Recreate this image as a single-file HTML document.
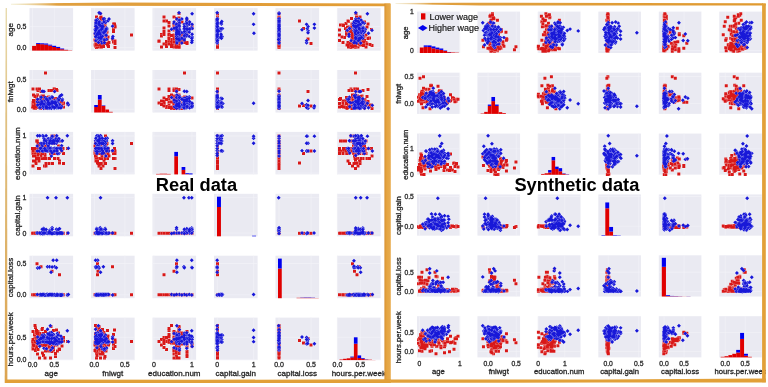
<!DOCTYPE html>
<html><head><meta charset="utf-8"><style>
html,body{margin:0;padding:0;background:#fff;overflow:hidden;}
svg{display:block;filter:blur(0.3px);}
text{font-family:"Liberation Sans",sans-serif;}
.tk{font-size:7.0px;fill:#262626;stroke:#262626;stroke-width:0.28px;}
.lb{font-size:8.0px;fill:#262626;stroke:#262626;stroke-width:0.3px;}
.s{font-size:6.79px;}
.lb.s{font-size:7.68px;}
.big{font-size:18.3px;font-weight:bold;fill:#000;}
.lg{font-size:9px;fill:#111;stroke:#111;stroke-width:0.15px;}
</style></head><body>
<svg width="768" height="387" viewBox="0 0 768 387"><rect width="768" height="387" fill="#fff"/><rect x="29.50" y="8.10" width="43.6" height="42.5" fill="#eaeaf2"/><path d="M32.51 8.10V50.60M54.33 8.10V50.60M29.50 47.66H73.10M29.50 26.39H73.10" stroke="#f4f4f8" stroke-width="0.6" fill="none"/><svg x="29.50" y="8.10" width="43.6" height="42.5" overflow="hidden"><g transform="translate(-29.50,-8.10)"><rect x="32.10" y="45.90" width="4.05" height="4.70" fill="#e00000"/><rect x="36.10" y="44.00" width="4.05" height="6.60" fill="#e00000"/><rect x="36.10" y="43.10" width="4.05" height="0.92" fill="#0000ee"/><rect x="40.10" y="44.20" width="4.05" height="6.40" fill="#e00000"/><rect x="40.10" y="43.30" width="4.05" height="0.92" fill="#0000ee"/><rect x="44.10" y="44.60" width="4.05" height="6.00" fill="#e00000"/><rect x="44.10" y="43.50" width="4.05" height="1.12" fill="#0000ee"/><rect x="48.10" y="45.60" width="4.05" height="5.00" fill="#e00000"/><rect x="48.10" y="44.70" width="4.05" height="0.92" fill="#0000ee"/><rect x="52.10" y="47.00" width="4.05" height="3.60" fill="#e00000"/><rect x="52.10" y="45.80" width="4.05" height="1.22" fill="#0000ee"/><rect x="56.10" y="48.00" width="4.05" height="2.60" fill="#e00000"/><rect x="56.10" y="46.90" width="4.05" height="1.12" fill="#0000ee"/><rect x="60.10" y="49.20" width="4.05" height="1.40" fill="#e00000"/><rect x="60.10" y="48.50" width="4.05" height="0.72" fill="#0000ee"/><rect x="64.10" y="49.90" width="4.05" height="0.70" fill="#e00000"/><rect x="64.10" y="49.80" width="4.05" height="0.12" fill="#0000ee"/><rect x="68.10" y="50.30" width="4.05" height="0.30" fill="#e00000"/></g></svg><rect x="91.00" y="8.10" width="43.6" height="42.5" fill="#eaeaf2"/><path d="M94.35 8.10V50.60M124.84 8.10V50.60M91.00 47.66H134.60M91.00 26.39H134.60" stroke="#f4f4f8" stroke-width="0.6" fill="none"/><svg x="91.00" y="8.10" width="43.6" height="42.5" overflow="hidden"><path transform="scale(.5)" stroke="#fff" stroke-opacity="0.6" stroke-width="6.9" stroke-linecap="square" d="M81 54h0M43 62h0M28 71h0M16 61h0M10 57h0M14 59h0M20 67h0M14 22h0M23 27h0M10 67h0M10 29h0M15 56h0M10 26h0M17 76h0M17 42h0M11 35h0M28 64h0M19 58h0M18 45h0M18 78h0M45 68h0M10 69h0M23 54h0M45 42h0M15 53h0M32 48h0M8 64h0M26 67h0M26 44h0M22 44h0M33 72h0M12 58h0M23 61h0M12 28h0M17 46h0M19 72h0M9 65h0M26 51h0M33 61h0M15 55h0M18 52h0M8 74h0M15 66h0"/><path transform="scale(.5)" stroke="#d81818" stroke-width="6.0" stroke-linecap="square" d="M81 54h0M43 62h0M28 71h0M16 61h0M10 57h0M14 59h0M20 67h0M14 22h0M23 27h0M10 67h0M10 29h0M15 56h0M10 26h0M17 76h0M17 42h0M11 35h0M28 64h0M19 58h0M18 45h0M18 78h0M45 68h0M10 69h0M23 54h0M45 42h0M15 53h0M32 48h0M8 64h0M26 67h0M26 44h0M22 44h0M33 72h0M12 58h0M23 61h0M12 28h0M17 46h0M19 72h0M9 65h0M26 51h0M33 61h0M15 55h0M18 52h0M8 74h0M15 66h0"/><path transform="scale(.5)" stroke="#fff" stroke-opacity="0.6" stroke-width="6.9" stroke-linecap="square" d="M13 71h0M34 71h0M30 44h0M28 56h0M12 59h0M15 32h0M36 69h0M20 25h0M24 50h0M14 78h0M29 40h0M45 32h0M16 43h0M12 60h0M23 62h0M28 53h0M18 30h0M29 41h0M20 62h0M28 34h0M20 43h0M11 44h0M33 74h0M48 66h0M10 54h0M27 54h0M19 65h0M25 71h0M25 44h0M32 63h0M13 38h0M9 75h0M20 47h0M22 48h0M12 65h0M15 78h0M48 71h0M25 31h0M29 71h0M11 79h0M18 65h0M16 53h0"/><path transform="scale(.5)" stroke="#d81818" stroke-width="6.0" stroke-linecap="square" d="M13 71h0M34 71h0M30 44h0M28 56h0M12 59h0M15 32h0M36 69h0M20 25h0M24 50h0M14 78h0M29 40h0M45 32h0M16 43h0M12 60h0M23 62h0M28 53h0M18 30h0M29 41h0M20 62h0M28 34h0M20 43h0M11 44h0M33 74h0M48 66h0M10 54h0M27 54h0M19 65h0M25 71h0M25 44h0M32 63h0M13 38h0M9 75h0M20 47h0M22 48h0M12 65h0M15 78h0M48 71h0M25 31h0M29 71h0M11 79h0M18 65h0M16 53h0"/><path transform="scale(.5)" stroke="#fff" stroke-opacity="0.6" stroke-width="6.9" stroke-linecap="square" d="M14 41h0M17 77h0M12 61h0M19 20h0M14 68h0M19 68h0M14 54h0M12 43h0M12 48h0M48 36h0M13 50h0M27 59h0M25 58h0M22 57h0M14 67h0M22 53h0M28 57h0M9 76h0M34 58h0M23 68h0M24 56h0M11 70h0M8 52h0M26 38h0M17 35h0M21 54h0M13 77h0M19 28h0M15 71h0M17 47h0M16 38h0M17 38h0M23 52h0M14 33h0M19 74h0M23 66h0M18 37h0M48 37h0M11 18h0M23 51h0M20 18h0M17 43h0"/><path transform="scale(.5)" stroke="#d81818" stroke-width="6.0" stroke-linecap="square" d="M14 41h0M17 77h0M12 61h0M19 20h0M14 68h0M19 68h0M14 54h0M12 43h0M12 48h0M48 36h0M13 50h0M27 59h0M25 58h0M22 57h0M14 67h0M22 53h0M28 57h0M9 76h0M34 58h0M23 68h0M24 56h0M11 70h0M8 52h0M26 38h0M17 35h0M21 54h0M13 77h0M19 28h0M15 71h0M17 47h0M16 38h0M17 38h0M23 52h0M14 33h0M19 74h0M23 66h0M18 37h0M48 37h0M11 18h0M23 51h0M20 18h0M17 43h0"/><path transform="scale(.5)" stroke="#fff" stroke-opacity="0.6" stroke-width="6.9" stroke-linecap="square" d="M13 26h0M22 77h0M19 42h0M17 55h0M25 77h0M16 73h0M20 69h0M11 53h0M11 63h0M30 56h0M30 52h0M24 69h0M12 55h0M45 47h0M20 75h0M48 79h0M21 78h0M9 55h0M20 72h0M20 32h0M22 35h0M18 11h0M16 36h0M48 38h0M21 59h0M19 34h0M14 70h0M10 74h0M13 61h0M23 73h0M10 46h0M29 63h0M10 55h0M14 61h0M47 32h0M21 28h0M11 49h0M10 41h0M35 77h0M10 72h0M21 21h0M20 66h0"/><path transform="scale(.5)" stroke="#d81818" stroke-width="6.0" stroke-linecap="square" d="M13 26h0M22 77h0M19 42h0M17 55h0M25 77h0M16 73h0M20 69h0M11 53h0M11 63h0M30 56h0M30 52h0M24 69h0M12 55h0M45 47h0M20 75h0M48 79h0M21 78h0M9 55h0M20 72h0M20 32h0M22 35h0M18 11h0M16 36h0M48 38h0M21 59h0M19 34h0M14 70h0M10 74h0M13 61h0M23 73h0M10 46h0M29 63h0M10 55h0M14 61h0M47 32h0M21 28h0M11 49h0M10 41h0M35 77h0M10 72h0M21 21h0M20 66h0"/><path transform="scale(.5) rotate(45)" stroke="#fff" stroke-opacity="0.6" stroke-width="6.5" stroke-linecap="square" d="M49 22h0M49 31h0M42 16h0M41 0h0M39 -1h0M53 39h0M37 18h0M25 7h0M37 5h0M39 7h0M49 30h0M36 20h0M43 22h0M55 27h0M53 38h0M36 24h0M42 29h0M44 19h0M54 31h0M42 15h0M32 13h0M65 34h0M41 28h0M44 22h0M50 6h0M39 20h0M60 32h0M27 13h0M48 31h0M32 12h0"/><path transform="scale(.5) rotate(45)" stroke="#1818d8" stroke-width="5.6" stroke-linecap="square" d="M49 22h0M49 31h0M42 16h0M41 0h0M39 -1h0M53 39h0M37 18h0M25 7h0M37 5h0M39 7h0M49 30h0M36 20h0M43 22h0M55 27h0M53 38h0M36 24h0M42 29h0M44 19h0M54 31h0M42 15h0M32 13h0M65 34h0M41 28h0M44 22h0M50 6h0M39 20h0M60 32h0M27 13h0M48 31h0M32 12h0"/><path transform="scale(.5) rotate(45)" stroke="#fff" stroke-opacity="0.6" stroke-width="6.5" stroke-linecap="square" d="M37 10h0M51 34h0M54 26h0M46 19h0M46 14h0M42 22h0M30 16h0M54 15h0M36 8h0M42 21h0M42 -6h0M37 6h0M45 19h0M47 22h0M40 12h0M52 28h0M66 22h0M43 28h0M39 10h0M51 9h0M45 20h0M73 12h0M57 32h0M52 12h0M39 26h0M44 31h0M71 9h0M57 33h0M59 27h0M52 7h0"/><path transform="scale(.5) rotate(45)" stroke="#1818d8" stroke-width="5.6" stroke-linecap="square" d="M37 10h0M51 34h0M54 26h0M46 19h0M46 14h0M42 22h0M30 16h0M54 15h0M36 8h0M42 21h0M42 -6h0M37 6h0M45 19h0M47 22h0M40 12h0M52 28h0M66 22h0M43 28h0M39 10h0M51 9h0M45 20h0M73 12h0M57 32h0M52 12h0M39 26h0M44 31h0M71 9h0M57 33h0M59 27h0M52 7h0"/><path transform="scale(.5) rotate(45)" stroke="#fff" stroke-opacity="0.6" stroke-width="6.5" stroke-linecap="square" d="M21 -6h0M50 30h0M37 21h0M31 14h0M49 33h0M32 19h0M44 17h0M37 20h0M45 13h0M24 10h0M36 19h0M43 30h0M38 25h0M56 -5h0M50 12h0M18 -5h0M44 26h0M34 -4h0M50 19h0M56 23h0M44 14h0M31 7h0M42 30h0M56 18h0M41 -10h0M38 6h0M33 19h0M53 14h0M41 13h0"/><path transform="scale(.5) rotate(45)" stroke="#1818d8" stroke-width="5.6" stroke-linecap="square" d="M21 -6h0M50 30h0M37 21h0M31 14h0M49 33h0M32 19h0M44 17h0M37 20h0M45 13h0M24 10h0M36 19h0M43 30h0M38 25h0M56 -5h0M50 12h0M18 -5h0M44 26h0M34 -4h0M50 19h0M56 23h0M44 14h0M31 7h0M42 30h0M56 18h0M41 -10h0M38 6h0M33 19h0M53 14h0M41 13h0"/><path transform="scale(.5) rotate(45)" stroke="#fff" stroke-opacity="0.6" stroke-width="6.5" stroke-linecap="square" d="M44 13h0M44 21h0M46 29h0M57 29h0M59 38h0M34 11h0M53 17h0M38 1h0M40 11h0M68 30h0M50 24h0M36 12h0M28 14h0M53 31h0M53 12h0M56 24h0M25 10h0M45 15h0M43 9h0M64 26h0M45 26h0M60 17h0M46 23h0M47 26h0M51 8h0M47 34h0M55 28h0M33 -2h0M31 8h0"/><path transform="scale(.5) rotate(45)" stroke="#1818d8" stroke-width="5.6" stroke-linecap="square" d="M44 13h0M44 21h0M46 29h0M57 29h0M59 38h0M34 11h0M53 17h0M38 1h0M40 11h0M68 30h0M50 24h0M36 12h0M28 14h0M53 31h0M53 12h0M56 24h0M25 10h0M45 15h0M43 9h0M64 26h0M45 26h0M60 17h0M46 23h0M47 26h0M51 8h0M47 34h0M55 28h0M33 -2h0M31 8h0"/></svg><rect x="152.50" y="8.10" width="43.6" height="42.5" fill="#eaeaf2"/><path d="M153.83 8.10V50.60M191.91 8.10V50.60M152.50 47.66H196.10M152.50 26.39H196.10" stroke="#f4f4f8" stroke-width="0.6" fill="none"/><svg x="152.50" y="8.10" width="43.6" height="42.5" overflow="hidden"><path transform="scale(.5)" stroke="#fff" stroke-opacity="0.6" stroke-width="6.9" stroke-linecap="square" d="M64 54h0M48 62h0M43 44h0M53 56h0M48 59h0M53 73h0M43 69h0M48 53h0M38 63h0M53 63h0M48 50h0M69 69h0M69 55h0M48 47h0M53 75h0M48 79h0M79 41h0M23 72h0M33 68h0M69 70h0M59 52h0M48 38h0M43 54h0M64 65h0M28 67h0M43 71h0M43 63h0M53 38h0M53 61h0M48 48h0M53 65h0M53 66h0M48 51h0M43 18h0M28 72h0M43 74h0"/><path transform="scale(.5)" stroke="#d81818" stroke-width="6.0" stroke-linecap="square" d="M64 54h0M48 62h0M43 44h0M53 56h0M48 59h0M53 73h0M43 69h0M48 53h0M38 63h0M53 63h0M48 50h0M69 69h0M69 55h0M48 47h0M53 75h0M48 79h0M79 41h0M23 72h0M33 68h0M69 70h0M59 52h0M48 38h0M43 54h0M64 65h0M28 67h0M43 71h0M43 63h0M53 38h0M53 61h0M48 48h0M53 65h0M53 66h0M48 51h0M43 18h0M28 72h0M43 74h0"/><path transform="scale(.5)" stroke="#fff" stroke-opacity="0.6" stroke-width="6.9" stroke-linecap="square" d="M48 71h0M53 71h0M64 61h0M53 20h0M48 68h0M13 67h0M48 22h0M53 27h0M33 67h0M59 56h0M53 52h0M64 69h0M48 76h0M48 42h0M53 35h0M59 64h0M53 76h0M18 78h0M48 43h0M53 11h0M53 36h0M48 35h0M33 54h0M53 26h0M59 28h0M69 71h0M23 47h0M33 46h0M53 47h0M53 33h0M53 32h0M69 28h0M53 31h0M53 77h0M48 66h0M18 53h0"/><path transform="scale(.5)" stroke="#d81818" stroke-width="6.0" stroke-linecap="square" d="M48 71h0M53 71h0M64 61h0M53 20h0M48 68h0M13 67h0M48 22h0M53 27h0M33 67h0M59 56h0M53 52h0M64 69h0M48 76h0M48 42h0M53 35h0M59 64h0M53 76h0M18 78h0M48 43h0M53 11h0M53 36h0M48 35h0M33 54h0M53 26h0M59 28h0M69 71h0M23 47h0M33 46h0M53 47h0M53 33h0M53 32h0M69 28h0M53 31h0M53 77h0M48 66h0M18 53h0"/><path transform="scale(.5)" stroke="#fff" stroke-opacity="0.6" stroke-width="6.9" stroke-linecap="square" d="M43 41h0M48 77h0M43 42h0M59 55h0M69 32h0M38 69h0M69 25h0M69 50h0M43 78h0M33 29h0M48 32h0M28 26h0M33 60h0M53 62h0M33 53h0M53 30h0M64 55h0M69 34h0M18 56h0M48 54h0M13 66h0M43 59h0M43 34h0M28 77h0M28 74h0M43 61h0M48 73h0M48 58h0M48 52h0M48 61h0M48 72h0M79 37h0M43 37h0M53 79h0M23 18h0M69 43h0"/><path transform="scale(.5)" stroke="#d81818" stroke-width="6.0" stroke-linecap="square" d="M43 41h0M48 77h0M43 42h0M59 55h0M69 32h0M38 69h0M69 25h0M69 50h0M43 78h0M33 29h0M48 32h0M28 26h0M33 60h0M53 62h0M33 53h0M53 30h0M64 55h0M69 34h0M18 56h0M48 54h0M13 66h0M43 59h0M43 34h0M28 77h0M28 74h0M43 61h0M48 73h0M48 58h0M48 52h0M48 61h0M48 72h0M79 37h0M43 37h0M53 79h0M23 18h0M69 43h0"/><path transform="scale(.5)" stroke="#fff" stroke-opacity="0.6" stroke-width="6.9" stroke-linecap="square" d="M23 26h0M38 77h0M33 61h0M53 57h0M43 68h0M69 54h0M53 43h0M69 48h0M33 36h0M23 40h0M53 59h0M53 58h0M48 57h0M53 67h0M23 53h0M48 78h0M69 45h0M43 32h0M53 44h0M48 74h0M64 38h0M64 48h0M48 64h0M48 70h0M48 65h0M48 44h0M33 72h0M38 75h0M38 55h0M48 46h0M53 78h0M48 49h0M69 41h0M69 51h0M48 21h0M59 66h0"/><path transform="scale(.5)" stroke="#d81818" stroke-width="6.0" stroke-linecap="square" d="M23 26h0M38 77h0M33 61h0M53 57h0M43 68h0M69 54h0M53 43h0M69 48h0M33 36h0M23 40h0M53 59h0M53 58h0M48 57h0M53 67h0M23 53h0M48 78h0M69 45h0M43 32h0M53 44h0M48 74h0M64 38h0M64 48h0M48 64h0M48 70h0M48 65h0M48 44h0M33 72h0M38 75h0M38 55h0M48 46h0M53 78h0M48 49h0M69 41h0M69 51h0M48 21h0M59 66h0"/><path transform="scale(.5) rotate(45)" stroke="#fff" stroke-opacity="0.6" stroke-width="6.5" stroke-linecap="square" d="M80 -9h0M85 -5h0M63 -5h0M73 -31h0M67 -30h0M81 12h0M68 -22h0M80 -10h0M50 -11h0M60 -9h0M88 -9h0M52 -9h0M70 -6h0M83 8h0M44 -31h0M55 -20h0M63 -34h0M75 -15h0M60 -15h0M88 -2h0M81 -9h0M77 -20h0M86 -11h0M76 7h0M64 -33h0M68 -29h0"/><path transform="scale(.5) rotate(45)" stroke="#1818d8" stroke-width="5.6" stroke-linecap="square" d="M80 -9h0M85 -5h0M63 -5h0M73 -31h0M67 -30h0M81 12h0M68 -22h0M80 -10h0M50 -11h0M60 -9h0M88 -9h0M52 -9h0M70 -6h0M83 8h0M44 -31h0M55 -20h0M63 -34h0M75 -15h0M60 -15h0M88 -2h0M81 -9h0M77 -20h0M86 -11h0M76 7h0M64 -33h0M68 -29h0"/><path transform="scale(.5) rotate(45)" stroke="#fff" stroke-opacity="0.6" stroke-width="6.5" stroke-linecap="square" d="M75 -29h0M98 -14h0M92 -12h0M81 -16h0M82 -22h0M66 -2h0M83 -28h0M57 -26h0M74 -23h0M66 -3h0M56 -20h0M71 2h0M97 -14h0M60 -8h0M73 -3h0M83 -21h0M68 -8h0M57 3h0M63 -6h0M56 -19h0M82 -15h0M50 -19h0M71 -27h0M72 -33h0M77 1h0M56 -12h0"/><path transform="scale(.5) rotate(45)" stroke="#1818d8" stroke-width="5.6" stroke-linecap="square" d="M75 -29h0M98 -14h0M92 -12h0M81 -16h0M82 -22h0M66 -2h0M83 -28h0M57 -26h0M74 -23h0M66 -3h0M56 -20h0M71 2h0M97 -14h0M60 -8h0M73 -3h0M83 -21h0M68 -8h0M57 3h0M63 -6h0M56 -19h0M82 -15h0M50 -19h0M71 -27h0M72 -33h0M77 1h0M56 -12h0"/><path transform="scale(.5) rotate(45)" stroke="#fff" stroke-opacity="0.6" stroke-width="6.5" stroke-linecap="square" d="M64 -48h0M74 6h0M78 -20h0M79 -33h0M97 -15h0M85 -27h0M57 -11h0M76 -7h0M59 -17h0M55 -21h0M76 -21h0M59 -10h0M69 0h0M69 -7h0M82 6h0M64 -12h0M84 1h0M84 -6h0M73 -2h0M73 4h0M80 -17h0M64 -5h0M75 6h0M90 0h0M81 5h0M86 -18h0"/><path transform="scale(.5) rotate(45)" stroke="#1818d8" stroke-width="5.6" stroke-linecap="square" d="M64 -48h0M74 6h0M78 -20h0M79 -33h0M97 -15h0M85 -27h0M57 -11h0M76 -7h0M59 -17h0M55 -21h0M76 -21h0M59 -10h0M69 0h0M69 -7h0M82 6h0M64 -12h0M84 1h0M84 -6h0M73 -2h0M73 4h0M80 -17h0M64 -5h0M75 6h0M90 0h0M81 5h0M86 -18h0"/><path transform="scale(.5) rotate(45)" stroke="#fff" stroke-opacity="0.6" stroke-width="6.5" stroke-linecap="square" d="M74 -16h0M78 -12h0M93 -19h0M77 9h0M104 -7h0M71 -19h0M65 -4h0M59 -2h0M70 -27h0M91 8h0M71 3h0M67 -2h0M98 -13h0M79 -19h0M69 1h0M70 1h0M62 -13h0M83 7h0M84 15h0M82 7h0M75 -1h0M78 -19h0M102 -10h0M71 -4h0M61 -7h0M82 -23h0"/><path transform="scale(.5) rotate(45)" stroke="#1818d8" stroke-width="5.6" stroke-linecap="square" d="M74 -16h0M78 -12h0M93 -19h0M77 9h0M104 -7h0M71 -19h0M65 -4h0M59 -2h0M70 -27h0M91 8h0M71 3h0M67 -2h0M98 -13h0M79 -19h0M69 1h0M70 1h0M62 -13h0M83 7h0M84 15h0M82 7h0M75 -1h0M78 -19h0M102 -10h0M71 -4h0M61 -7h0M82 -23h0"/></svg><rect x="214.00" y="8.10" width="43.6" height="42.5" fill="#eaeaf2"/><path d="M217.27 8.10V50.60M253.60 8.10V50.60M214.00 47.66H257.60M214.00 26.39H257.60" stroke="#f4f4f8" stroke-width="0.6" fill="none"/><svg x="214.00" y="8.10" width="43.6" height="42.5" overflow="hidden"><path transform="scale(.5)" stroke="#fff" stroke-opacity="0.6" stroke-width="6.9" stroke-linecap="square" d="M7 54h0M7 62h0M7 42h0M7 57h0M7 73h0M7 25h0M7 50h0M7 36h0M7 58h0M7 75h0M7 30h0M7 70h0M7 38h0M7 33h0M7 31h0"/><path transform="scale(.5)" stroke="#d81818" stroke-width="6.0" stroke-linecap="square" d="M7 54h0M7 62h0M7 42h0M7 57h0M7 73h0M7 25h0M7 50h0M7 36h0M7 58h0M7 75h0M7 30h0M7 70h0M7 38h0M7 33h0M7 31h0"/><path transform="scale(.5)" stroke="#fff" stroke-opacity="0.6" stroke-width="6.9" stroke-linecap="square" d="M7 71h0M7 77h0M7 56h0M7 59h0M7 67h0M7 43h0M7 48h0M7 29h0M7 76h0M7 35h0M7 45h0M7 11h0M7 65h0M7 37h0M7 18h0"/><path transform="scale(.5)" stroke="#d81818" stroke-width="6.0" stroke-linecap="square" d="M7 71h0M7 77h0M7 56h0M7 59h0M7 67h0M7 43h0M7 48h0M7 29h0M7 76h0M7 35h0M7 45h0M7 11h0M7 65h0M7 37h0M7 18h0"/><path transform="scale(.5)" stroke="#fff" stroke-opacity="0.6" stroke-width="6.9" stroke-linecap="square" d="M7 41h0M7 44h0M7 20h0M7 68h0M7 69h0M7 53h0M7 63h0M7 40h0M7 60h0M7 79h0M7 72h0M7 74h0M7 28h0M7 49h0M7 21h0"/><path transform="scale(.5)" stroke="#d81818" stroke-width="6.0" stroke-linecap="square" d="M7 41h0M7 44h0M7 20h0M7 68h0M7 69h0M7 53h0M7 63h0M7 40h0M7 60h0M7 79h0M7 72h0M7 74h0M7 28h0M7 49h0M7 21h0"/><path transform="scale(.5)" stroke="#fff" stroke-opacity="0.6" stroke-width="6.9" stroke-linecap="square" d="M7 26h0M7 61h0M7 55h0M7 32h0M7 22h0M7 27h0M7 78h0M7 52h0M7 47h0M7 64h0M7 34h0M7 66h0M7 46h0M7 51h0"/><path transform="scale(.5)" stroke="#d81818" stroke-width="6.0" stroke-linecap="square" d="M7 26h0M7 61h0M7 55h0M7 32h0M7 22h0M7 27h0M7 78h0M7 52h0M7 47h0M7 64h0M7 34h0M7 66h0M7 46h0M7 51h0"/><path transform="scale(.5) rotate(45)" stroke="#fff" stroke-opacity="0.6" stroke-width="6.5" stroke-linecap="square" d="M92 -21h0M50 29h0M41 17h0M41 23h0M37 22h0M37 27h0M32 23h0M39 30h0M27 17h0M54 45h0M26 17h0M46 37h0M35 25h0M40 31h0M20 10h0M41 31h0M50 40h0"/><path transform="scale(.5) rotate(45)" stroke="#1818d8" stroke-width="5.6" stroke-linecap="square" d="M92 -21h0M50 29h0M41 17h0M41 23h0M37 22h0M37 27h0M32 23h0M39 30h0M27 17h0M54 45h0M26 17h0M46 37h0M35 25h0M40 31h0M20 10h0M41 31h0M50 40h0"/><path transform="scale(.5) rotate(45)" stroke="#fff" stroke-opacity="0.6" stroke-width="6.5" stroke-linecap="square" d="M79 -33h0M49 35h0M51 29h0M33 12h0M52 29h0M34 24h0M35 26h0M33 24h0M28 18h0M44 35h0M41 32h0M47 38h0M45 35h0M49 39h0M34 25h0M38 29h0M44 34h0"/><path transform="scale(.5) rotate(45)" stroke="#1818d8" stroke-width="5.6" stroke-linecap="square" d="M79 -33h0M49 35h0M51 29h0M33 12h0M52 29h0M34 24h0M35 26h0M33 24h0M28 18h0M44 35h0M41 32h0M47 38h0M45 35h0M49 39h0M34 25h0M38 29h0M44 34h0"/><path transform="scale(.5) rotate(45)" stroke="#fff" stroke-opacity="0.6" stroke-width="6.5" stroke-linecap="square" d="M64 -48h0M50 30h0M47 27h0M53 32h0M53 44h0M30 21h0M40 30h0M24 15h0M36 27h0M23 14h0M29 20h0M50 41h0M11 2h0M22 13h0M49 40h0M42 33h0M48 39h0"/><path transform="scale(.5) rotate(45)" stroke="#1818d8" stroke-width="5.6" stroke-linecap="square" d="M64 -48h0M50 30h0M47 27h0M53 32h0M53 44h0M30 21h0M40 30h0M24 15h0M36 27h0M23 14h0M29 20h0M50 41h0M11 2h0M22 13h0M49 40h0M42 33h0M48 39h0"/><path transform="scale(.5) rotate(45)" stroke="#fff" stroke-opacity="0.6" stroke-width="6.5" stroke-linecap="square" d="M39 19h0M39 26h0M31 11h0M30 8h0M51 42h0M27 18h0M20 11h0M26 16h0M21 12h0M42 32h0M37 28h0M31 21h0M45 36h0M36 26h0M43 34h0M51 41h0M31 22h0"/><path transform="scale(.5) rotate(45)" stroke="#1818d8" stroke-width="5.6" stroke-linecap="square" d="M39 19h0M39 26h0M31 11h0M30 8h0M51 42h0M27 18h0M20 11h0M26 16h0M21 12h0M42 32h0M37 28h0M31 21h0M45 36h0M36 26h0M43 34h0M51 41h0M31 22h0"/></svg><rect x="275.50" y="8.10" width="43.6" height="42.5" fill="#eaeaf2"/><path d="M279.03 8.10V50.60M311.09 8.10V50.60M275.50 47.66H319.10M275.50 26.39H319.10" stroke="#f4f4f8" stroke-width="0.6" fill="none"/><svg x="275.50" y="8.10" width="43.6" height="42.5" overflow="hidden"><path transform="scale(.5)" stroke="#fff" stroke-opacity="0.6" stroke-width="6.9" stroke-linecap="square" d="M7 54h0M65 62h0M7 61h0M7 55h0M7 32h0M7 22h0M7 27h0M7 78h0M7 52h0M7 60h0M7 35h0M7 41h0M7 70h0M7 38h0M7 33h0M7 31h0"/><path transform="scale(.5)" stroke="#d81818" stroke-width="6.0" stroke-linecap="square" d="M7 54h0M65 62h0M7 61h0M7 55h0M7 32h0M7 22h0M7 27h0M7 78h0M7 52h0M7 60h0M7 35h0M7 41h0M7 70h0M7 38h0M7 33h0M7 31h0"/><path transform="scale(.5)" stroke="#fff" stroke-opacity="0.6" stroke-width="6.9" stroke-linecap="square" d="M71 71h0M7 71h0M7 42h0M7 57h0M7 73h0M7 25h0M7 50h0M7 36h0M7 26h0M7 47h0M7 79h0M7 45h0M7 11h0M7 65h0M7 37h0M7 18h0"/><path transform="scale(.5)" stroke="#d81818" stroke-width="6.0" stroke-linecap="square" d="M71 71h0M7 71h0M7 42h0M7 57h0M7 73h0M7 25h0M7 50h0M7 36h0M7 26h0M7 47h0M7 79h0M7 45h0M7 11h0M7 65h0M7 37h0M7 18h0"/><path transform="scale(.5)" stroke="#fff" stroke-opacity="0.6" stroke-width="6.9" stroke-linecap="square" d="M56 41h0M7 77h0M7 56h0M7 59h0M7 67h0M7 43h0M7 48h0M7 29h0M7 58h0M7 62h0M7 64h0M7 72h0M7 74h0M7 28h0M7 49h0M7 21h0"/><path transform="scale(.5)" stroke="#d81818" stroke-width="6.0" stroke-linecap="square" d="M56 41h0M7 77h0M7 56h0M7 59h0M7 67h0M7 43h0M7 48h0M7 29h0M7 58h0M7 62h0M7 64h0M7 72h0M7 74h0M7 28h0M7 49h0M7 21h0"/><path transform="scale(.5)" stroke="#fff" stroke-opacity="0.6" stroke-width="6.9" stroke-linecap="square" d="M48 26h0M7 44h0M7 20h0M7 68h0M7 69h0M7 53h0M7 63h0M7 40h0M7 76h0M7 75h0M7 30h0M7 34h0M7 66h0M7 46h0M7 51h0"/><path transform="scale(.5)" stroke="#d81818" stroke-width="6.0" stroke-linecap="square" d="M48 26h0M7 44h0M7 20h0M7 68h0M7 69h0M7 53h0M7 63h0M7 40h0M7 76h0M7 75h0M7 30h0M7 34h0M7 66h0M7 46h0M7 51h0"/><path transform="scale(.5) rotate(45)" stroke="#fff" stroke-opacity="0.6" stroke-width="6.5" stroke-linecap="square" d="M40 31h0M45 35h0M26 16h0M35 25h0M78 -14h0M83 -27h0M21 11h0M27 17h0M32 22h0M40 30h0M12 2h0M50 40h0"/><path transform="scale(.5) rotate(45)" stroke="#1818d8" stroke-width="5.6" stroke-linecap="square" d="M40 31h0M45 35h0M26 16h0M35 25h0M78 -14h0M83 -27h0M21 11h0M27 17h0M32 22h0M40 30h0M12 2h0M50 40h0"/><path transform="scale(.5) rotate(45)" stroke="#fff" stroke-opacity="0.6" stroke-width="6.5" stroke-linecap="square" d="M28 18h0M47 37h0M37 27h0M46 36h0M74 -16h0M78 -32h0M39 29h0M22 12h0M33 23h0M30 20h0M49 39h0M55 45h0"/><path transform="scale(.5) rotate(45)" stroke="#1818d8" stroke-width="5.6" stroke-linecap="square" d="M28 18h0M47 37h0M37 27h0M46 36h0M74 -16h0M78 -32h0M39 29h0M22 12h0M33 23h0M30 20h0M49 39h0M55 45h0"/><path transform="scale(.5) rotate(45)" stroke="#fff" stroke-opacity="0.6" stroke-width="6.5" stroke-linecap="square" d="M13 3h0M38 28h0M48 38h0M93 5h0M72 -20h0M68 -7h0M25 15h0M54 44h0M41 31h0M51 41h0M20 10h0M43 33h0"/><path transform="scale(.5) rotate(45)" stroke="#1818d8" stroke-width="5.6" stroke-linecap="square" d="M13 3h0M38 28h0M48 38h0M93 5h0M72 -20h0M68 -7h0M25 15h0M54 44h0M41 31h0M51 41h0M20 10h0M43 33h0"/><path transform="scale(.5) rotate(45)" stroke="#fff" stroke-opacity="0.6" stroke-width="6.5" stroke-linecap="square" d="M34 24h0M42 32h0M24 14h0M90 2h0M67 -21h0M81 -11h0M31 21h0M23 13h0M29 19h0M36 26h0M44 34h0M49 40h0"/><path transform="scale(.5) rotate(45)" stroke="#1818d8" stroke-width="5.6" stroke-linecap="square" d="M34 24h0M42 32h0M24 14h0M90 2h0M67 -21h0M81 -11h0M31 21h0M23 13h0M29 19h0M36 26h0M44 34h0M49 40h0"/></svg><rect x="337.00" y="8.10" width="43.6" height="42.5" fill="#eaeaf2"/><path d="M337.46 8.10V50.60M360.41 8.10V50.60M337.00 47.66H380.60M337.00 26.39H380.60" stroke="#f4f4f8" stroke-width="0.6" fill="none"/><svg x="337.00" y="8.10" width="43.6" height="42.5" overflow="hidden"><path transform="scale(.5)" stroke="#fff" stroke-opacity="0.6" stroke-width="6.9" stroke-linecap="square" d="M37 54h0M44 62h0M19 44h0M40 20h0M44 68h0M37 68h0M58 54h0M24 43h0M34 48h0M35 63h0M49 50h0M37 59h0M69 43h0M65 60h0M37 62h0M37 53h0M34 78h0M40 55h0M37 72h0M38 32h0M33 35h0M38 11h0M37 36h0M34 53h0M37 48h0M30 64h0M55 28h0M56 44h0M40 44h0M26 38h0M70 75h0M37 55h0M37 46h0M56 72h0M19 49h0M17 41h0M37 79h0M39 18h0M37 43h0"/><path transform="scale(.5)" stroke="#d81818" stroke-width="6.0" stroke-linecap="square" d="M37 54h0M44 62h0M19 44h0M40 20h0M44 68h0M37 68h0M58 54h0M24 43h0M34 48h0M35 63h0M49 50h0M37 59h0M69 43h0M65 60h0M37 62h0M37 53h0M34 78h0M40 55h0M37 72h0M38 32h0M33 35h0M38 11h0M37 36h0M34 53h0M37 48h0M30 64h0M55 28h0M56 44h0M40 44h0M26 38h0M70 75h0M37 55h0M37 46h0M56 72h0M19 49h0M17 41h0M37 79h0M39 18h0M37 43h0"/><path transform="scale(.5)" stroke="#fff" stroke-opacity="0.6" stroke-width="6.9" stroke-linecap="square" d="M31 71h0M37 71h0M37 61h0M36 55h0M34 77h0M66 73h0M58 69h0M45 53h0M37 63h0M37 56h0M23 52h0M12 69h0M34 58h0M37 57h0M35 67h0M28 79h0M54 58h0M37 45h0M42 78h0M52 68h0M22 69h0M19 54h0M37 66h0M29 54h0M5 54h0M37 65h0M37 74h0M54 44h0M25 47h0M60 38h0M21 38h0M37 28h0M31 65h0M58 78h0M37 51h0M26 71h0M45 72h0M29 21h0M52 66h0"/><path transform="scale(.5)" stroke="#d81818" stroke-width="6.0" stroke-linecap="square" d="M31 71h0M37 71h0M37 61h0M36 55h0M34 77h0M66 73h0M58 69h0M45 53h0M37 63h0M37 56h0M23 52h0M12 69h0M34 58h0M37 57h0M35 67h0M28 79h0M54 58h0M37 45h0M42 78h0M52 68h0M22 69h0M19 54h0M37 66h0M29 54h0M5 54h0M37 65h0M37 74h0M54 44h0M25 47h0M60 38h0M21 38h0M37 28h0M31 65h0M58 78h0M37 51h0M26 71h0M45 72h0M29 21h0M52 66h0"/><path transform="scale(.5)" stroke="#fff" stroke-opacity="0.6" stroke-width="6.9" stroke-linecap="square" d="M35 41h0M37 77h0M45 42h0M44 57h0M15 59h0M37 67h0M41 22h0M23 27h0M23 78h0M37 29h0M36 56h0M34 69h0M32 55h0M33 47h0M53 75h0M33 64h0M28 41h0M51 62h0M7 34h0M52 43h0M5 44h0M47 74h0M48 38h0M31 35h0M48 54h0M54 70h0M5 65h0M27 71h0M26 73h0M36 46h0M62 61h0M37 33h0M46 74h0M55 65h0M18 31h0M46 18h0M19 52h0M20 74h0M50 66h0"/><path transform="scale(.5)" stroke="#d81818" stroke-width="6.0" stroke-linecap="square" d="M35 41h0M37 77h0M45 42h0M44 57h0M15 59h0M37 67h0M41 22h0M23 27h0M23 78h0M37 29h0M36 56h0M34 69h0M32 55h0M33 47h0M53 75h0M33 64h0M28 41h0M51 62h0M7 34h0M52 43h0M5 44h0M47 74h0M48 38h0M31 35h0M48 54h0M54 70h0M5 65h0M27 71h0M26 73h0M36 46h0M62 61h0M37 33h0M46 74h0M55 65h0M18 31h0M46 18h0M19 52h0M20 74h0M50 66h0"/><path transform="scale(.5)" stroke="#fff" stroke-opacity="0.6" stroke-width="6.9" stroke-linecap="square" d="M40 26h0M36 71h0M30 56h0M48 59h0M37 32h0M35 69h0M37 25h0M33 50h0M41 36h0M46 40h0M30 32h0M22 26h0M29 76h0M24 42h0M13 35h0M37 30h0M37 76h0M50 58h0M53 68h0M31 56h0M33 70h0M37 52h0M37 38h0M33 59h0M12 34h0M46 67h0M41 71h0M34 61h0M60 72h0M10 58h0M27 47h0M30 61h0M62 32h0M34 37h0M35 37h0M31 77h0M38 66h0M31 53h0"/><path transform="scale(.5)" stroke="#d81818" stroke-width="6.0" stroke-linecap="square" d="M40 26h0M36 71h0M30 56h0M48 59h0M37 32h0M35 69h0M37 25h0M33 50h0M41 36h0M46 40h0M30 32h0M22 26h0M29 76h0M24 42h0M13 35h0M37 30h0M37 76h0M50 58h0M53 68h0M31 56h0M33 70h0M37 52h0M37 38h0M33 59h0M12 34h0M46 67h0M41 71h0M34 61h0M60 72h0M10 58h0M27 47h0M30 61h0M62 32h0M34 37h0M35 37h0M31 77h0M38 66h0M31 53h0"/><path transform="scale(.5) rotate(45)" stroke="#fff" stroke-opacity="0.6" stroke-width="6.5" stroke-linecap="square" d="M62 9h0M76 3h0M76 4h0M59 6h0M56 3h0M56 8h0M52 4h0M42 -11h0M58 -6h0M52 -1h0M83 16h0M64 11h0M62 2h0M60 9h0M46 17h0M80 -9h0M46 -16h0M73 -3h0M63 2h0M45 -8h0M69 3h0M81 -18h0M70 -10h0M63 0h0M64 -10h0"/><path transform="scale(.5) rotate(45)" stroke="#1818d8" stroke-width="5.6" stroke-linecap="square" d="M62 9h0M76 3h0M76 4h0M59 6h0M56 3h0M56 8h0M52 4h0M42 -11h0M58 -6h0M52 -1h0M83 16h0M64 11h0M62 2h0M60 9h0M46 17h0M80 -9h0M46 -16h0M73 -3h0M63 2h0M45 -8h0M69 3h0M81 -18h0M70 -10h0M63 0h0M64 -10h0"/><path transform="scale(.5) rotate(45)" stroke="#fff" stroke-opacity="0.6" stroke-width="6.5" stroke-linecap="square" d="M57 -10h0M75 9h0M65 -7h0M49 -4h0M67 14h0M55 2h0M47 -1h0M62 6h0M50 -8h0M53 -7h0M66 13h0M60 -17h0M58 6h0M72 13h0M70 10h0M74 14h0M67 -8h0M58 2h0M59 -2h0M65 12h0M61 8h0M46 11h0M66 26h0M77 13h0M44 -5h0"/><path transform="scale(.5) rotate(45)" stroke="#1818d8" stroke-width="5.6" stroke-linecap="square" d="M57 -10h0M75 9h0M65 -7h0M49 -4h0M67 14h0M55 2h0M47 -1h0M62 6h0M50 -8h0M53 -7h0M66 13h0M60 -17h0M58 6h0M72 13h0M70 10h0M74 14h0M67 -8h0M58 2h0M59 -2h0M65 12h0M61 8h0M46 11h0M66 26h0M77 13h0M44 -5h0"/><path transform="scale(.5) rotate(45)" stroke="#fff" stroke-opacity="0.6" stroke-width="6.5" stroke-linecap="square" d="M51 -35h0M73 7h0M67 7h0M79 6h0M73 25h0M50 2h0M64 -2h0M47 11h0M45 -1h0M58 5h0M43 -6h0M63 10h0M48 -5h0M71 20h0M33 -20h0M61 9h0M70 15h0M57 4h0M77 22h0M69 0h0M60 7h0M72 -6h0M74 6h0M63 4h0M50 -5h0"/><path transform="scale(.5) rotate(45)" stroke="#1818d8" stroke-width="5.6" stroke-linecap="square" d="M51 -35h0M73 7h0M67 7h0M79 6h0M73 25h0M50 2h0M64 -2h0M47 11h0M45 -1h0M58 5h0M43 -6h0M63 10h0M48 -5h0M71 20h0M33 -20h0M61 9h0M70 15h0M57 4h0M77 22h0M69 0h0M60 7h0M72 -6h0M74 6h0M63 4h0M50 -5h0"/><path transform="scale(.5) rotate(45)" stroke="#fff" stroke-opacity="0.6" stroke-width="6.5" stroke-linecap="square" d="M65 -8h0M69 -4h0M57 -16h0M49 -11h0M76 16h0M56 -10h0M65 5h0M50 -11h0M60 -3h0M51 -17h0M54 1h0M54 -5h0M76 7h0M53 -1h0M57 23h0M44 -9h0M48 1h0M76 14h0M74 11h0M76 13h0M54 20h0M61 -2h0M68 15h0M70 17h0"/><path transform="scale(.5) rotate(45)" stroke="#1818d8" stroke-width="5.6" stroke-linecap="square" d="M65 -8h0M69 -4h0M57 -16h0M49 -11h0M76 16h0M56 -10h0M65 5h0M50 -11h0M60 -3h0M51 -17h0M54 1h0M54 -5h0M76 7h0M53 -1h0M57 23h0M44 -9h0M48 1h0M76 14h0M74 11h0M76 13h0M54 20h0M61 -2h0M68 15h0M70 17h0"/></svg><rect x="29.50" y="70.00" width="43.6" height="42.5" fill="#eaeaf2"/><path d="M32.51 70.00V112.50M54.33 70.00V112.50M29.50 109.23H73.10M29.50 79.51H73.10" stroke="#f4f4f8" stroke-width="0.6" fill="none"/><svg x="29.50" y="70.00" width="43.6" height="42.5" overflow="hidden"><path transform="scale(.5)" stroke="#fff" stroke-opacity="0.6" stroke-width="6.9" stroke-linecap="square" d="M32 6h0M23 43h0M14 58h0M25 70h0M29 75h0M26 72h0M16 50h0M61 66h0M36 61h0M7 72h0M57 75h0M30 70h0M17 65h0M31 73h0M39 41h0M10 66h0M7 38h0M7 65h0M31 76h0M13 65h0M55 65h0M51 64h0M76 68h0M50 69h0M49 38h0M27 64h0M52 67h0M16 72h0M11 75h0M25 72h0M13 63h0M40 75h0M23 56h0M59 73h0M40 69h0M13 66h0M21 76h0M35 59h0M14 57h0M6 74h0M21 68h0M12 77h0M20 70h0"/><path transform="scale(.5)" stroke="#d81818" stroke-width="6.0" stroke-linecap="square" d="M32 6h0M23 43h0M14 58h0M25 70h0M29 75h0M26 72h0M16 50h0M61 66h0M36 61h0M7 72h0M57 75h0M30 70h0M17 65h0M31 73h0M39 41h0M10 66h0M7 38h0M7 65h0M31 76h0M13 65h0M55 65h0M51 64h0M76 68h0M50 69h0M49 38h0M27 64h0M52 67h0M16 72h0M11 75h0M25 72h0M13 63h0M40 75h0M23 56h0M59 73h0M40 69h0M13 66h0M21 76h0M35 59h0M14 57h0M6 74h0M21 68h0M12 77h0M20 70h0"/><path transform="scale(.5)" stroke="#fff" stroke-opacity="0.6" stroke-width="6.9" stroke-linecap="square" d="M15 72h0M14 52h0M42 55h0M30 58h0M27 73h0M54 71h0M32 71h0M44 73h0M38 74h0M50 38h0M46 56h0M55 41h0M60 75h0M9 68h0M44 69h0M52 74h0M22 57h0M28 67h0M41 67h0M7 68h0M17 41h0M17 75h0M32 62h0M44 41h0M33 71h0M38 54h0M22 77h0M19 59h0M42 59h0M42 64h0M14 53h0M28 73h0M25 63h0M38 64h0M20 73h0M7 70h0M15 38h0M56 61h0M68 74h0M34 62h0M20 62h0M33 69h0"/><path transform="scale(.5)" stroke="#d81818" stroke-width="6.0" stroke-linecap="square" d="M15 72h0M14 52h0M42 55h0M30 58h0M27 73h0M54 71h0M32 71h0M44 73h0M38 74h0M50 38h0M46 56h0M55 41h0M60 75h0M9 68h0M44 69h0M52 74h0M22 57h0M28 67h0M41 67h0M7 68h0M17 41h0M17 75h0M32 62h0M44 41h0M33 71h0M38 54h0M22 77h0M19 59h0M42 59h0M42 64h0M14 53h0M28 73h0M25 63h0M38 64h0M20 73h0M7 70h0M15 38h0M56 61h0M68 74h0M34 62h0M20 62h0M33 69h0"/><path transform="scale(.5)" stroke="#fff" stroke-opacity="0.6" stroke-width="6.9" stroke-linecap="square" d="M45 71h0M8 69h0M25 74h0M67 67h0M17 71h0M18 66h0M17 66h0M33 74h0M23 74h0M22 75h0M36 73h0M27 58h0M43 70h0M26 73h0M24 63h0M33 58h0M57 67h0M45 56h0M24 65h0M52 57h0M43 65h0M42 74h0M11 53h0M20 38h0M31 75h0M31 59h0M20 67h0M14 61h0M42 61h0M22 54h0M48 72h0M11 77h0M39 66h0M54 72h0M11 67h0M19 62h0M49 68h0M45 75h0M8 50h0M13 75h0M68 66h0M43 69h0"/><path transform="scale(.5)" stroke="#d81818" stroke-width="6.0" stroke-linecap="square" d="M45 71h0M8 69h0M25 74h0M67 67h0M17 71h0M18 66h0M17 66h0M33 74h0M23 74h0M22 75h0M36 73h0M27 58h0M43 70h0M26 73h0M24 63h0M33 58h0M57 67h0M45 56h0M24 65h0M52 57h0M43 65h0M42 74h0M11 53h0M20 38h0M31 75h0M31 59h0M20 67h0M14 61h0M42 61h0M22 54h0M48 72h0M11 77h0M39 66h0M54 72h0M11 67h0M19 62h0M49 68h0M45 75h0M8 50h0M13 75h0M68 66h0M43 69h0"/><path transform="scale(.5)" stroke="#fff" stroke-opacity="0.6" stroke-width="6.9" stroke-linecap="square" d="M60 72h0M8 64h0M44 66h0M31 69h0M8 61h0M12 70h0M64 71h0M59 63h0M19 75h0M30 56h0M34 55h0M16 62h0M28 61h0M29 63h0M18 71h0M33 63h0M29 57h0M9 76h0M28 52h0M18 63h0M30 62h0M15 74h0M34 77h0M49 59h0M51 68h0M32 64h0M8 73h0M58 67h0M14 70h0M39 69h0M48 69h0M48 68h0M34 63h0M25 71h0M54 39h0M59 64h0M37 75h0M25 52h0M31 70h0M34 67h0M65 64h0M19 66h0"/><path transform="scale(.5)" stroke="#d81818" stroke-width="6.0" stroke-linecap="square" d="M60 72h0M8 64h0M44 66h0M31 69h0M8 61h0M12 70h0M64 71h0M59 63h0M19 75h0M30 56h0M34 55h0M16 62h0M28 61h0M29 63h0M18 71h0M33 63h0M29 57h0M9 76h0M28 52h0M18 63h0M30 62h0M15 74h0M34 77h0M49 59h0M51 68h0M32 64h0M8 73h0M58 67h0M14 70h0M39 69h0M48 69h0M48 68h0M34 63h0M25 71h0M54 39h0M59 64h0M37 75h0M25 52h0M31 70h0M34 67h0M65 64h0M19 66h0"/><path transform="scale(.5) rotate(45)" stroke="#fff" stroke-opacity="0.6" stroke-width="6.5" stroke-linecap="square" d="M72 22h0M72 30h0M80 15h0M81 0h0M83 -2h0M67 39h0M84 18h0M97 6h0M85 5h0M83 7h0M80 -6h0M78 29h0M83 25h0M66 -5h0M71 12h0M104 -6h0M77 26h0M88 -5h0M71 19h0M70 9h0M78 13h0M91 6h0M75 23h0M74 25h0M81 -10h0M83 5h0M88 18h0M68 13h0M81 12h0M69 7h0"/><path transform="scale(.5) rotate(45)" stroke="#1818d8" stroke-width="5.6" stroke-linecap="square" d="M72 22h0M72 30h0M80 15h0M81 0h0M83 -2h0M67 39h0M84 18h0M97 6h0M85 5h0M83 7h0M80 -6h0M78 29h0M83 25h0M66 -5h0M71 12h0M104 -6h0M77 26h0M88 -5h0M71 19h0M70 9h0M78 13h0M91 6h0M75 23h0M74 25h0M81 -10h0M83 5h0M88 18h0M68 13h0M81 12h0M69 7h0"/><path transform="scale(.5) rotate(45)" stroke="#fff" stroke-opacity="0.6" stroke-width="6.5" stroke-linecap="square" d="M85 9h0M70 33h0M67 26h0M76 18h0M76 13h0M79 21h0M92 15h0M67 14h0M85 7h0M79 20h0M85 18h0M85 12h0M93 13h0M68 31h0M68 12h0M65 24h0M97 9h0M77 15h0M79 8h0M65 23h0M76 25h0M61 17h0M77 22h0M80 21h0M70 7h0M74 34h0M66 28h0M89 -3h0M91 7h0"/><path transform="scale(.5) rotate(45)" stroke="#1818d8" stroke-width="5.6" stroke-linecap="square" d="M85 9h0M70 33h0M67 26h0M76 18h0M76 13h0M79 21h0M92 15h0M67 14h0M85 7h0M79 20h0M85 18h0M85 12h0M93 13h0M68 31h0M68 12h0M65 24h0M97 9h0M77 15h0M79 8h0M65 23h0M76 25h0M61 17h0M77 22h0M80 21h0M70 7h0M74 34h0M66 28h0M89 -3h0M91 7h0"/><path transform="scale(.5) rotate(45)" stroke="#fff" stroke-opacity="0.6" stroke-width="6.5" stroke-linecap="square" d="M101 -7h0M71 30h0M84 20h0M90 14h0M72 32h0M89 19h0M77 17h0M84 1h0M76 12h0M98 9h0M71 24h0M78 21h0M66 27h0M68 38h0M85 23h0M79 28h0M78 18h0M67 31h0M76 15h0M57 26h0M56 34h0M80 28h0M69 12h0M71 6h0M82 20h0M61 32h0M95 12h0M73 30h0M89 11h0"/><path transform="scale(.5) rotate(45)" stroke="#1818d8" stroke-width="5.6" stroke-linecap="square" d="M101 -7h0M71 30h0M84 20h0M90 14h0M72 32h0M89 19h0M77 17h0M84 1h0M76 12h0M98 9h0M71 24h0M78 21h0M66 27h0M68 38h0M85 23h0M79 28h0M78 18h0M67 31h0M76 15h0M57 26h0M56 34h0M80 28h0M69 12h0M71 6h0M82 20h0M61 32h0M95 12h0M73 30h0M89 11h0"/><path transform="scale(.5) rotate(45)" stroke="#fff" stroke-opacity="0.6" stroke-width="6.5" stroke-linecap="square" d="M77 13h0M77 20h0M75 28h0M64 29h0M61 38h0M87 11h0M69 17h0M89 18h0M82 11h0M53 30h0M85 19h0M76 19h0M75 22h0M81 11h0M69 28h0M55 22h0M78 28h0M83 9h0M79 15h0M89 12h0M48 12h0M64 32h0M65 17h0M82 25h0M77 30h0M51 10h0M64 33h0M62 27h0M72 19h0"/><path transform="scale(.5) rotate(45)" stroke="#1818d8" stroke-width="5.6" stroke-linecap="square" d="M77 13h0M77 20h0M75 28h0M64 29h0M61 38h0M87 11h0M69 17h0M89 18h0M82 11h0M53 30h0M85 19h0M76 19h0M75 22h0M81 11h0M69 28h0M55 22h0M78 28h0M83 9h0M79 15h0M89 12h0M48 12h0M64 32h0M65 17h0M82 25h0M77 30h0M51 10h0M64 33h0M62 27h0M72 19h0"/></svg><rect x="91.00" y="70.00" width="43.6" height="42.5" fill="#eaeaf2"/><path d="M94.35 70.00V112.50M124.84 70.00V112.50M91.00 109.23H134.60M91.00 79.51H134.60" stroke="#f4f4f8" stroke-width="0.6" fill="none"/><svg x="91.00" y="70.00" width="43.6" height="42.5" overflow="hidden"><g transform="translate(-91.00,-70.00)"><rect x="94.20" y="107.00" width="3.75" height="5.50" fill="#e00000"/><rect x="94.20" y="105.00" width="3.75" height="2.02" fill="#0000ee"/><rect x="97.90" y="99.50" width="3.75" height="13.00" fill="#e00000"/><rect x="97.90" y="95.00" width="3.75" height="4.52" fill="#0000ee"/><rect x="101.60" y="105.90" width="3.75" height="6.60" fill="#e00000"/><rect x="101.60" y="105.40" width="3.75" height="0.52" fill="#0000ee"/><rect x="105.30" y="109.50" width="3.75" height="3.00" fill="#e00000"/><rect x="109.00" y="111.80" width="3.75" height="0.70" fill="#e00000"/></g></svg><rect x="152.50" y="70.00" width="43.6" height="42.5" fill="#eaeaf2"/><path d="M153.83 70.00V112.50M191.91 70.00V112.50M152.50 109.23H196.10M152.50 79.51H196.10" stroke="#f4f4f8" stroke-width="0.6" fill="none"/><svg x="152.50" y="70.00" width="43.6" height="42.5" overflow="hidden"><path transform="scale(.5)" stroke="#fff" stroke-opacity="0.6" stroke-width="6.9" stroke-linecap="square" d="M64 6h0M48 43h0M48 58h0M33 70h0M53 75h0M69 71h0M69 66h0M69 61h0M43 72h0M53 55h0M28 75h0M33 73h0M53 74h0M59 57h0M53 76h0M23 65h0M43 65h0M43 75h0M59 77h0M64 59h0M64 54h0M48 77h0M59 67h0M48 64h0M53 72h0M59 73h0M69 64h0M43 38h0M64 68h0M69 69h0"/><path transform="scale(.5)" stroke="#d81818" stroke-width="6.0" stroke-linecap="square" d="M64 6h0M48 43h0M48 58h0M33 70h0M53 75h0M69 71h0M69 66h0M69 61h0M43 72h0M53 55h0M28 75h0M33 73h0M53 74h0M59 57h0M53 76h0M23 65h0M43 65h0M43 75h0M59 77h0M64 59h0M64 54h0M48 77h0M59 67h0M48 64h0M53 72h0M59 73h0M69 64h0M43 38h0M64 68h0M69 69h0"/><path transform="scale(.5)" stroke="#fff" stroke-opacity="0.6" stroke-width="6.9" stroke-linecap="square" d="M48 72h0M53 52h0M43 55h0M53 58h0M48 73h0M53 70h0M53 73h0M69 74h0M33 38h0M48 41h0M53 61h0M48 63h0M33 58h0M53 57h0M64 76h0M18 68h0M33 41h0M53 68h0M53 69h0M23 71h0M43 59h0M64 67h0M48 67h0M43 54h0M38 77h0M53 39h0M48 76h0M69 75h0M23 66h0M59 66h0"/><path transform="scale(.5)" stroke="#d81818" stroke-width="6.0" stroke-linecap="square" d="M48 72h0M53 52h0M43 55h0M53 58h0M48 73h0M53 70h0M53 73h0M69 74h0M33 38h0M48 41h0M53 61h0M48 63h0M33 58h0M53 57h0M64 76h0M18 68h0M33 41h0M53 68h0M53 69h0M23 71h0M43 59h0M64 67h0M48 67h0M43 54h0M38 77h0M53 39h0M48 76h0M69 75h0M23 66h0M59 66h0"/><path transform="scale(.5)" stroke="#fff" stroke-opacity="0.6" stroke-width="6.9" stroke-linecap="square" d="M43 71h0M48 69h0M64 74h0M53 67h0M48 71h0M13 66h0M48 74h0M38 74h0M59 56h0M69 62h0M69 73h0M53 71h0M23 63h0M48 65h0M69 67h0M69 57h0M18 62h0M48 62h0M43 41h0M48 75h0M33 64h0M28 73h0M43 52h0M23 69h0M43 56h0M48 66h0M79 68h0M43 74h0M43 77h0M48 70h0"/><path transform="scale(.5)" stroke="#d81818" stroke-width="6.0" stroke-linecap="square" d="M43 71h0M48 69h0M64 74h0M53 67h0M48 71h0M13 66h0M48 74h0M38 74h0M59 56h0M69 62h0M69 73h0M53 71h0M23 63h0M48 65h0M69 67h0M69 57h0M18 62h0M48 62h0M43 41h0M48 75h0M33 64h0M28 73h0M43 52h0M23 69h0M43 56h0M48 66h0M79 68h0M43 74h0M43 77h0M48 70h0"/><path transform="scale(.5)" stroke="#fff" stroke-opacity="0.6" stroke-width="6.9" stroke-linecap="square" d="M23 72h0M38 64h0M43 66h0M59 69h0M48 61h0M38 50h0M53 63h0M33 75h0M23 56h0M64 65h0M48 68h0M53 66h0M48 38h0M79 56h0M53 65h0M43 63h0M53 64h0M48 53h0M13 38h0M43 64h0M43 67h0M28 59h0M69 70h0M33 53h0M38 75h0M53 62h0M48 59h0M53 50h0M18 69h0"/><path transform="scale(.5)" stroke="#d81818" stroke-width="6.0" stroke-linecap="square" d="M23 72h0M38 64h0M43 66h0M59 69h0M48 61h0M38 50h0M53 63h0M33 75h0M23 56h0M64 65h0M48 68h0M53 66h0M48 38h0M79 56h0M53 65h0M43 63h0M53 64h0M48 53h0M13 38h0M43 64h0M43 67h0M28 59h0M69 70h0M33 53h0M38 75h0M53 62h0M48 59h0M53 50h0M18 69h0"/><path transform="scale(.5) rotate(45)" stroke="#fff" stroke-opacity="0.6" stroke-width="6.5" stroke-linecap="square" d="M92 2h0M96 6h0M82 13h0M96 -2h0M108 -3h0M99 9h0M93 10h0M102 5h0M80 12h0M75 -1h0M96 -1h0M105 -6h0M87 11h0M100 -4h0M84 8h0M90 1h0M97 0h0M86 11h0M98 1h0M70 1h0M106 1h0M98 0h0"/><path transform="scale(.5) rotate(45)" stroke="#1818d8" stroke-width="5.6" stroke-linecap="square" d="M92 2h0M96 6h0M82 13h0M96 -2h0M108 -3h0M99 9h0M93 10h0M102 5h0M80 12h0M75 -1h0M96 -1h0M105 -6h0M87 11h0M100 -4h0M84 8h0M90 1h0M97 0h0M86 11h0M98 1h0M70 1h0M106 1h0M98 0h0"/><path transform="scale(.5) rotate(45)" stroke="#fff" stroke-opacity="0.6" stroke-width="6.5" stroke-linecap="square" d="M99 -5h0M108 -4h0M100 3h0M81 12h0M106 -6h0M107 -5h0M82 -1h0M82 7h0M97 -7h0M101 3h0M92 16h0M79 4h0M79 10h0M84 9h0M91 8h0M66 12h0M80 11h0M73 5h0M79 3h0M99 2h0M93 4h0M90 -14h0"/><path transform="scale(.5) rotate(45)" stroke="#1818d8" stroke-width="5.6" stroke-linecap="square" d="M99 -5h0M108 -4h0M100 3h0M81 12h0M106 -6h0M107 -5h0M82 -1h0M82 7h0M97 -7h0M101 3h0M92 16h0M79 4h0M79 10h0M84 9h0M91 8h0M66 12h0M80 11h0M73 5h0M79 3h0M99 2h0M93 4h0M90 -14h0"/><path transform="scale(.5) rotate(45)" stroke="#fff" stroke-opacity="0.6" stroke-width="6.5" stroke-linecap="square" d="M103 -9h0M85 16h0M107 -4h0M89 -8h0M88 19h0M81 13h0M83 21h0M95 -2h0M91 15h0M76 14h0M102 -9h0M85 -5h0M77 1h0M87 19h0M79 11h0M89 -1h0M89 13h0M88 20h0M87 -10h0M93 -4h0M92 -6h0"/><path transform="scale(.5) rotate(45)" stroke="#1818d8" stroke-width="5.6" stroke-linecap="square" d="M103 -9h0M85 16h0M107 -4h0M89 -8h0M88 19h0M81 13h0M83 21h0M95 -2h0M91 15h0M76 14h0M102 -9h0M85 -5h0M77 1h0M87 19h0M79 11h0M89 -1h0M89 13h0M88 20h0M87 -10h0M93 -4h0M92 -6h0"/><path transform="scale(.5) rotate(45)" stroke="#fff" stroke-opacity="0.6" stroke-width="6.5" stroke-linecap="square" d="M90 0h0M94 4h0M92 -12h0M97 -8h0M84 16h0M88 -2h0M73 12h0M78 10h0M83 0h0M83 14h0M79 -18h0M93 3h0M85 17h0M90 -7h0M92 -5h0M88 13h0M75 -15h0M85 10h0M98 9h0M64 -4h0M90 14h0"/><path transform="scale(.5) rotate(45)" stroke="#1818d8" stroke-width="5.6" stroke-linecap="square" d="M90 0h0M94 4h0M92 -12h0M97 -8h0M84 16h0M88 -2h0M73 12h0M78 10h0M83 0h0M83 14h0M79 -18h0M93 3h0M85 17h0M90 -7h0M92 -5h0M88 13h0M75 -15h0M85 10h0M98 9h0M64 -4h0M90 14h0"/></svg><rect x="214.00" y="70.00" width="43.6" height="42.5" fill="#eaeaf2"/><path d="M217.27 70.00V112.50M253.60 70.00V112.50M214.00 109.23H257.60M214.00 79.51H257.60" stroke="#f4f4f8" stroke-width="0.6" fill="none"/><svg x="214.00" y="70.00" width="43.6" height="42.5" overflow="hidden"><path transform="scale(.5)" stroke="#fff" stroke-opacity="0.6" stroke-width="6.9" stroke-linecap="square" d="M7 6h0M7 52h0M7 55h0M7 67h0M7 50h0M7 41h0M7 57h0M7 59h0"/><path transform="scale(.5)" stroke="#d81818" stroke-width="6.0" stroke-linecap="square" d="M7 6h0M7 52h0M7 55h0M7 67h0M7 50h0M7 41h0M7 57h0M7 59h0"/><path transform="scale(.5)" stroke="#fff" stroke-opacity="0.6" stroke-width="6.9" stroke-linecap="square" d="M7 72h0M7 69h0M7 74h0M7 75h0M7 63h0M7 62h0M7 76h0M7 54h0"/><path transform="scale(.5)" stroke="#d81818" stroke-width="6.0" stroke-linecap="square" d="M7 72h0M7 69h0M7 74h0M7 75h0M7 63h0M7 62h0M7 76h0M7 54h0"/><path transform="scale(.5)" stroke="#fff" stroke-opacity="0.6" stroke-width="6.9" stroke-linecap="square" d="M7 71h0M7 64h0M7 66h0M7 73h0M7 38h0M7 65h0M7 53h0M7 39h0"/><path transform="scale(.5)" stroke="#d81818" stroke-width="6.0" stroke-linecap="square" d="M7 71h0M7 64h0M7 66h0M7 73h0M7 38h0M7 65h0M7 53h0M7 39h0"/><path transform="scale(.5)" stroke="#fff" stroke-opacity="0.6" stroke-width="6.9" stroke-linecap="square" d="M7 43h0M7 58h0M7 70h0M7 61h0M7 56h0M7 68h0M7 77h0"/><path transform="scale(.5)" stroke="#d81818" stroke-width="6.0" stroke-linecap="square" d="M7 43h0M7 58h0M7 70h0M7 61h0M7 56h0M7 68h0M7 77h0"/><path transform="scale(.5) rotate(45)" stroke="#fff" stroke-opacity="0.6" stroke-width="6.5" stroke-linecap="square" d="M103 -9h0M61 41h0M62 42h0M52 37h0M55 46h0M52 43h0M47 38h0M50 40h0M55 45h0M50 41h0M40 31h0"/><path transform="scale(.5) rotate(45)" stroke="#1818d8" stroke-width="5.6" stroke-linecap="square" d="M103 -9h0M61 41h0M62 42h0M52 37h0M55 46h0M52 43h0M47 38h0M50 40h0M55 45h0M50 41h0M40 31h0"/><path transform="scale(.5) rotate(45)" stroke="#fff" stroke-opacity="0.6" stroke-width="6.5" stroke-linecap="square" d="M55 35h0M55 42h0M50 30h0M64 41h0M57 48h0M48 38h0M49 40h0M46 37h0M35 26h0M48 39h0M52 42h0"/><path transform="scale(.5) rotate(45)" stroke="#1818d8" stroke-width="5.6" stroke-linecap="square" d="M55 35h0M55 42h0M50 30h0M64 41h0M57 48h0M48 38h0M49 40h0M46 37h0M35 26h0M48 39h0M52 42h0"/><path transform="scale(.5) rotate(45)" stroke="#fff" stroke-opacity="0.6" stroke-width="6.5" stroke-linecap="square" d="M62 41h0M60 35h0M56 38h0M54 45h0M53 44h0M45 36h0M51 42h0M56 46h0M58 48h0M44 35h0M54 44h0"/><path transform="scale(.5) rotate(45)" stroke="#1818d8" stroke-width="5.6" stroke-linecap="square" d="M62 41h0M60 35h0M56 38h0M54 45h0M53 44h0M45 36h0M51 42h0M56 46h0M58 48h0M44 35h0M54 44h0"/><path transform="scale(.5) rotate(45)" stroke="#fff" stroke-opacity="0.6" stroke-width="6.5" stroke-linecap="square" d="M59 45h0M57 36h0M52 29h0M58 49h0M56 47h0M57 47h0M51 41h0M41 32h0M43 34h0M44 34h0M42 33h0"/><path transform="scale(.5) rotate(45)" stroke="#1818d8" stroke-width="5.6" stroke-linecap="square" d="M59 45h0M57 36h0M52 29h0M58 49h0M56 47h0M57 47h0M51 41h0M41 32h0M43 34h0M44 34h0M42 33h0"/></svg><rect x="275.50" y="70.00" width="43.6" height="42.5" fill="#eaeaf2"/><path d="M279.03 70.00V112.50M311.09 70.00V112.50M275.50 109.23H319.10M275.50 79.51H319.10" stroke="#f4f4f8" stroke-width="0.6" fill="none"/><svg x="275.50" y="70.00" width="43.6" height="42.5" overflow="hidden"><path transform="scale(.5)" stroke="#fff" stroke-opacity="0.6" stroke-width="6.9" stroke-linecap="square" d="M7 6h0M65 43h0M7 58h0M7 70h0M7 71h0M7 63h0M7 62h0M7 76h0M7 54h0"/><path transform="scale(.5)" stroke="#d81818" stroke-width="6.0" stroke-linecap="square" d="M7 6h0M65 43h0M7 58h0M7 70h0M7 71h0M7 63h0M7 62h0M7 76h0M7 54h0"/><path transform="scale(.5)" stroke="#fff" stroke-opacity="0.6" stroke-width="6.9" stroke-linecap="square" d="M71 72h0M7 52h0M7 55h0M7 67h0M7 61h0M7 38h0M7 65h0M7 53h0M7 39h0"/><path transform="scale(.5)" stroke="#d81818" stroke-width="6.0" stroke-linecap="square" d="M71 72h0M7 52h0M7 55h0M7 67h0M7 61h0M7 38h0M7 65h0M7 53h0M7 39h0"/><path transform="scale(.5)" stroke="#fff" stroke-opacity="0.6" stroke-width="6.9" stroke-linecap="square" d="M56 71h0M7 69h0M7 74h0M7 75h0M7 72h0M7 56h0M7 68h0M7 77h0"/><path transform="scale(.5)" stroke="#d81818" stroke-width="6.0" stroke-linecap="square" d="M56 71h0M7 69h0M7 74h0M7 75h0M7 72h0M7 56h0M7 68h0M7 77h0"/><path transform="scale(.5)" stroke="#fff" stroke-opacity="0.6" stroke-width="6.9" stroke-linecap="square" d="M48 72h0M7 64h0M7 66h0M7 73h0M7 50h0M7 41h0M7 57h0M7 59h0"/><path transform="scale(.5)" stroke="#d81818" stroke-width="6.0" stroke-linecap="square" d="M48 72h0M7 64h0M7 66h0M7 73h0M7 50h0M7 41h0M7 57h0M7 59h0"/><path transform="scale(.5) rotate(45)" stroke="#fff" stroke-opacity="0.6" stroke-width="6.5" stroke-linecap="square" d="M52 42h0M54 44h0M45 36h0M97 8h0M108 -1h0M47 37h0M58 48h0M44 34h0"/><path transform="scale(.5) rotate(45)" stroke="#1818d8" stroke-width="5.6" stroke-linecap="square" d="M52 42h0M54 44h0M45 36h0M97 8h0M108 -1h0M47 37h0M58 48h0M44 34h0"/><path transform="scale(.5) rotate(45)" stroke="#fff" stroke-opacity="0.6" stroke-width="6.5" stroke-linecap="square" d="M50 40h0M53 43h0M94 6h0M100 8h0M85 10h0M59 49h0M46 37h0M48 38h0"/><path transform="scale(.5) rotate(45)" stroke="#1818d8" stroke-width="5.6" stroke-linecap="square" d="M50 40h0M53 43h0M94 6h0M100 8h0M85 10h0M59 49h0M46 37h0M48 38h0"/><path transform="scale(.5) rotate(45)" stroke="#fff" stroke-opacity="0.6" stroke-width="6.5" stroke-linecap="square" d="M56 46h0M45 35h0M97 9h0M93 5h0M89 -3h0M49 39h0M42 32h0M41 31h0"/><path transform="scale(.5) rotate(45)" stroke="#1818d8" stroke-width="5.6" stroke-linecap="square" d="M56 46h0M45 35h0M97 9h0M93 5h0M89 -3h0M49 39h0M42 32h0M41 31h0"/><path transform="scale(.5) rotate(45)" stroke="#fff" stroke-opacity="0.6" stroke-width="6.5" stroke-linecap="square" d="M57 47h0M51 41h0M96 4h0M106 -4h0M46 36h0M55 45h0M35 25h0M43 33h0"/><path transform="scale(.5) rotate(45)" stroke="#1818d8" stroke-width="5.6" stroke-linecap="square" d="M57 47h0M51 41h0M96 4h0M106 -4h0M46 36h0M55 45h0M35 25h0M43 33h0"/></svg><rect x="337.00" y="70.00" width="43.6" height="42.5" fill="#eaeaf2"/><path d="M337.46 70.00V112.50M360.41 70.00V112.50M337.00 109.23H380.60M337.00 79.51H380.60" stroke="#f4f4f8" stroke-width="0.6" fill="none"/><svg x="337.00" y="70.00" width="43.6" height="42.5" overflow="hidden"><path transform="scale(.5)" stroke="#fff" stroke-opacity="0.6" stroke-width="6.9" stroke-linecap="square" d="M37 6h0M44 43h0M36 58h0M37 70h0M44 75h0M15 72h0M35 50h0M24 73h0M34 74h0M35 75h0M23 55h0M12 62h0M32 73h0M33 41h0M28 38h0M54 67h0M51 65h0M7 57h0M52 65h0M33 74h0M37 77h0M34 71h0M5 59h0M40 75h0M37 61h0M56 59h0M40 64h0M26 72h0M70 77h0M37 72h0M62 39h0M55 76h0M18 61h0M46 74h0M37 68h0M20 77h0"/><path transform="scale(.5)" stroke="#d81818" stroke-width="6.0" stroke-linecap="square" d="M37 6h0M44 43h0M36 58h0M37 70h0M44 75h0M15 72h0M35 50h0M24 73h0M34 74h0M35 75h0M23 55h0M12 62h0M32 73h0M33 41h0M28 38h0M54 67h0M51 65h0M7 57h0M52 65h0M33 74h0M37 77h0M34 71h0M5 59h0M40 75h0M37 61h0M56 59h0M40 64h0M26 72h0M70 77h0M37 72h0M62 39h0M55 76h0M18 61h0M46 74h0M37 68h0M20 77h0"/><path transform="scale(.5)" stroke="#fff" stroke-opacity="0.6" stroke-width="6.9" stroke-linecap="square" d="M31 72h0M37 52h0M19 55h0M30 58h0M48 73h0M37 71h0M58 71h0M45 74h0M37 75h0M37 56h0M36 70h0M34 65h0M29 68h0M24 69h0M33 57h0M28 56h0M50 52h0M53 63h0M31 62h0M38 68h0M24 41h0M29 75h0M48 64h0M37 73h0M55 67h0M54 61h0M25 69h0M60 69h0M21 68h0M30 71h0M56 66h0M34 68h0M35 38h0M31 50h0M38 62h0M31 69h0"/><path transform="scale(.5)" stroke="#d81818" stroke-width="6.0" stroke-linecap="square" d="M31 72h0M37 52h0M19 55h0M30 58h0M48 73h0M37 71h0M58 71h0M45 74h0M37 75h0M37 56h0M36 70h0M34 65h0M29 68h0M24 69h0M33 57h0M28 56h0M50 52h0M53 63h0M31 62h0M38 68h0M24 41h0M29 75h0M48 64h0M37 73h0M55 67h0M54 61h0M25 69h0M60 69h0M21 68h0M30 71h0M56 66h0M34 68h0M35 38h0M31 50h0M38 62h0M31 69h0"/><path transform="scale(.5)" stroke="#fff" stroke-opacity="0.6" stroke-width="6.9" stroke-linecap="square" d="M35 71h0M37 69h0M37 74h0M40 67h0M44 71h0M37 66h0M58 66h0M23 63h0M23 72h0M46 56h0M30 41h0M22 75h0M65 73h0M53 66h0M37 67h0M37 76h0M37 65h0M38 65h0M33 64h0M19 62h0M37 38h0M31 68h0M12 67h0M54 72h0M5 67h0M27 70h0M26 63h0M36 75h0M62 63h0M31 73h0M58 70h0M19 75h0M17 75h0M45 75h0M39 66h0M52 66h0"/><path transform="scale(.5)" stroke="#d81818" stroke-width="6.0" stroke-linecap="square" d="M35 71h0M37 69h0M37 74h0M40 67h0M44 71h0M37 66h0M58 66h0M23 63h0M23 72h0M46 56h0M30 41h0M22 75h0M65 73h0M53 66h0M37 67h0M37 76h0M37 65h0M38 65h0M33 64h0M19 62h0M37 38h0M31 68h0M12 67h0M54 72h0M5 67h0M27 70h0M26 63h0M36 75h0M62 63h0M31 73h0M58 70h0M19 75h0M17 75h0M45 75h0M39 66h0M52 66h0"/><path transform="scale(.5)" stroke="#fff" stroke-opacity="0.6" stroke-width="6.9" stroke-linecap="square" d="M40 72h0M37 64h0M45 66h0M36 69h0M34 61h0M66 70h0M41 71h0M33 61h0M41 38h0M49 73h0M37 58h0M69 70h0M37 63h0M13 74h0M37 57h0M40 76h0M42 68h0M52 41h0M5 74h0M47 53h0M48 59h0M37 54h0M30 77h0M46 59h0M41 52h0M34 72h0M60 53h0M10 73h0M27 66h0M46 67h0M37 62h0M37 59h0M26 57h0M19 67h0M29 64h0M50 70h0"/><path transform="scale(.5)" stroke="#d81818" stroke-width="6.0" stroke-linecap="square" d="M40 72h0M37 64h0M45 66h0M36 69h0M34 61h0M66 70h0M41 71h0M33 61h0M41 38h0M49 73h0M37 58h0M69 70h0M37 63h0M13 74h0M37 57h0M40 76h0M42 68h0M52 41h0M5 74h0M47 53h0M48 59h0M37 54h0M30 77h0M46 59h0M41 52h0M34 72h0M60 53h0M10 73h0M27 66h0M46 67h0M37 62h0M37 59h0M26 57h0M19 67h0M29 64h0M50 70h0"/><path transform="scale(.5) rotate(45)" stroke="#fff" stroke-opacity="0.6" stroke-width="6.5" stroke-linecap="square" d="M74 20h0M88 15h0M84 11h0M73 20h0M79 26h0M82 16h0M69 13h0M74 16h0M76 23h0M74 21h0M78 19h0M74 23h0M73 19h0M75 22h0M81 15h0M83 8h0M66 13h0M76 15h0M88 19h0M56 21h0M91 11h0M81 18h0M78 23h0"/><path transform="scale(.5) rotate(45)" stroke="#1818d8" stroke-width="5.6" stroke-linecap="square" d="M74 20h0M88 15h0M84 11h0M73 20h0M79 26h0M82 16h0M69 13h0M74 16h0M76 23h0M74 21h0M78 19h0M74 23h0M73 19h0M75 22h0M81 15h0M83 8h0M66 13h0M76 15h0M88 19h0M56 21h0M91 11h0M81 18h0M78 23h0"/><path transform="scale(.5) rotate(45)" stroke="#fff" stroke-opacity="0.6" stroke-width="6.5" stroke-linecap="square" d="M80 14h0M85 19h0M83 10h0M78 25h0M74 26h0M75 27h0M70 34h0M69 23h0M87 19h0M78 26h0M80 20h0M57 4h0M56 27h0M61 28h0M78 15h0M76 22h0M73 10h0M73 17h0M87 21h0M93 15h0M66 27h0M81 16h0M72 19h0"/><path transform="scale(.5) rotate(45)" stroke="#1818d8" stroke-width="5.6" stroke-linecap="square" d="M80 14h0M85 19h0M83 10h0M78 25h0M74 26h0M75 27h0M70 34h0M69 23h0M87 19h0M78 26h0M80 20h0M57 4h0M56 27h0M61 28h0M78 15h0M76 22h0M73 10h0M73 17h0M87 21h0M93 15h0M66 27h0M81 16h0M72 19h0"/><path transform="scale(.5) rotate(45)" stroke="#fff" stroke-opacity="0.6" stroke-width="6.5" stroke-linecap="square" d="M90 4h0M84 17h0M82 22h0M70 11h0M83 24h0M77 29h0M73 12h0M76 13h0M75 8h0M83 7h0M80 28h0M79 20h0M67 14h0M98 9h0M80 26h0M70 17h0M77 24h0M62 -1h0M58 25h0M62 9h0M64 -3h0M84 10h0M64 11h0"/><path transform="scale(.5) rotate(45)" stroke="#1818d8" stroke-width="5.6" stroke-linecap="square" d="M90 4h0M84 17h0M82 22h0M70 11h0M83 24h0M77 29h0M73 12h0M76 13h0M75 8h0M83 7h0M80 28h0M79 20h0M67 14h0M98 9h0M80 26h0M70 17h0M77 24h0M62 -1h0M58 25h0M62 9h0M64 -3h0M84 10h0M64 11h0"/><path transform="scale(.5) rotate(45)" stroke="#fff" stroke-opacity="0.6" stroke-width="6.5" stroke-linecap="square" d="M81 9h0M85 12h0M77 4h0M71 18h0M78 30h0M73 13h0M86 22h0M75 15h0M61 12h0M80 27h0M81 12h0M78 28h0M78 18h0M69 9h0M72 11h0M74 17h0M79 17h0M65 13h0M100 0h0M70 7h0M84 23h0M74 24h0"/><path transform="scale(.5) rotate(45)" stroke="#1818d8" stroke-width="5.6" stroke-linecap="square" d="M81 9h0M85 12h0M77 4h0M71 18h0M78 30h0M73 13h0M86 22h0M75 15h0M61 12h0M80 27h0M81 12h0M78 28h0M78 18h0M69 9h0M72 11h0M74 17h0M79 17h0M65 13h0M100 0h0M70 7h0M84 23h0M74 24h0"/></svg><rect x="29.50" y="131.90" width="43.6" height="42.5" fill="#eaeaf2"/><path d="M32.51 131.90V174.40M54.33 131.90V174.40M29.50 173.10H73.10M29.50 135.98H73.10" stroke="#f4f4f8" stroke-width="0.6" fill="none"/><svg x="29.50" y="131.90" width="43.6" height="42.5" overflow="hidden"><path transform="scale(.5)" stroke="#fff" stroke-opacity="0.6" stroke-width="6.9" stroke-linecap="square" d="M32 23h0M23 38h0M14 38h0M25 53h0M29 33h0M54 18h0M16 48h0M61 18h0M36 18h0M7 43h0M57 53h0M55 38h0M60 58h0M9 38h0M44 38h0M52 33h0M22 28h0M31 23h0M52 18h0M30 68h0M76 33h0M50 33h0M31 38h0M31 43h0M20 23h0M19 58h0M14 43h0M22 43h0M48 33h0M23 43h0M31 48h0M25 38h0M19 33h0M37 38h0M45 18h0M34 18h0M65 38h0M19 28h0"/><path transform="scale(.5)" stroke="#d81818" stroke-width="6.0" stroke-linecap="square" d="M32 23h0M23 38h0M14 38h0M25 53h0M29 33h0M54 18h0M16 48h0M61 18h0M36 18h0M7 43h0M57 53h0M55 38h0M60 58h0M9 38h0M44 38h0M52 33h0M22 28h0M31 23h0M52 18h0M30 68h0M76 33h0M50 33h0M31 38h0M31 43h0M20 23h0M19 58h0M14 43h0M22 43h0M48 33h0M23 43h0M31 48h0M25 38h0M19 33h0M37 38h0M45 18h0M34 18h0M65 38h0M19 28h0"/><path transform="scale(.5)" stroke="#fff" stroke-opacity="0.6" stroke-width="6.9" stroke-linecap="square" d="M15 38h0M14 33h0M42 43h0M30 33h0M27 38h0M18 43h0M32 18h0M44 33h0M38 18h0M50 53h0M46 63h0M27 33h0M43 33h0M26 53h0M24 33h0M33 53h0M57 33h0M41 18h0M55 43h0M51 33h0M32 38h0M20 73h0M51 38h0M32 53h0M60 33h0M58 28h0M14 18h0M39 63h0M40 53h0M25 33h0M59 28h0M40 38h0M59 18h0M35 38h0M68 43h0M13 58h0M12 43h0"/><path transform="scale(.5)" stroke="#d81818" stroke-width="6.0" stroke-linecap="square" d="M15 38h0M14 33h0M42 43h0M30 33h0M27 38h0M18 43h0M32 18h0M44 33h0M38 18h0M50 53h0M46 63h0M27 33h0M43 33h0M26 53h0M24 33h0M33 53h0M57 33h0M41 18h0M55 43h0M51 33h0M32 38h0M20 73h0M51 38h0M32 53h0M60 33h0M58 28h0M14 18h0M39 63h0M40 53h0M25 33h0M59 28h0M40 38h0M59 18h0M35 38h0M68 43h0M13 58h0M12 43h0"/><path transform="scale(.5)" stroke="#fff" stroke-opacity="0.6" stroke-width="6.9" stroke-linecap="square" d="M45 43h0M8 38h0M25 23h0M67 33h0M17 38h0M12 33h0M17 43h0M33 38h0M23 48h0M22 33h0M36 38h0M16 18h0M28 33h0M29 38h0M18 33h0M33 63h0M45 8h0M13 63h0M17 53h0M42 33h0M11 38h0M49 23h0M27 43h0M52 43h0M8 58h0M11 58h0M25 43h0M13 38h0M28 38h0M39 33h0M38 38h0M20 33h0M21 38h0M56 33h0M8 33h0M21 23h0M33 68h0"/><path transform="scale(.5)" stroke="#d81818" stroke-width="6.0" stroke-linecap="square" d="M45 43h0M8 38h0M25 23h0M67 33h0M17 38h0M12 33h0M17 43h0M33 38h0M23 48h0M22 33h0M36 38h0M16 18h0M28 33h0M29 38h0M18 33h0M33 63h0M45 8h0M13 63h0M17 53h0M42 33h0M11 38h0M49 23h0M27 43h0M52 43h0M8 58h0M11 58h0M25 43h0M13 38h0M28 38h0M39 33h0M38 38h0M20 33h0M21 38h0M56 33h0M8 33h0M21 23h0M33 68h0"/><path transform="scale(.5)" stroke="#fff" stroke-opacity="0.6" stroke-width="6.9" stroke-linecap="square" d="M60 62h0M8 48h0M44 43h0M31 28h0M26 38h0M18 73h0M64 38h0M59 33h0M19 53h0M30 28h0M34 33h0M17 23h0M31 18h0M39 38h0M10 33h0M7 38h0M9 33h0M7 68h0M43 38h0M15 18h0M34 28h0M49 38h0M38 23h0M22 38h0M16 38h0M20 38h0M42 38h0M14 53h0M11 48h0M34 38h0M54 33h0M7 33h0M49 8h0M49 43h0M6 33h0M68 63h0M43 18h0"/><path transform="scale(.5)" stroke="#d81818" stroke-width="6.0" stroke-linecap="square" d="M60 62h0M8 48h0M44 43h0M31 28h0M26 38h0M18 73h0M64 38h0M59 33h0M19 53h0M30 28h0M34 33h0M17 23h0M31 18h0M39 38h0M10 33h0M7 38h0M9 33h0M7 68h0M43 38h0M15 18h0M34 28h0M49 38h0M38 23h0M22 38h0M16 38h0M20 38h0M42 38h0M14 53h0M11 48h0M34 38h0M54 33h0M7 33h0M49 8h0M49 43h0M6 33h0M68 63h0M43 18h0"/><path transform="scale(.5) rotate(45)" stroke="#fff" stroke-opacity="0.6" stroke-width="6.5" stroke-linecap="square" d="M42 -9h0M37 -5h0M59 -5h0M50 -31h0M55 -30h0M41 13h0M54 -22h0M42 -10h0M72 -11h0M62 -9h0M31 9h0M50 3h0M63 -10h0M25 -13h0M53 -6h0M78 -32h0M39 -20h0M54 -8h0M47 -15h0M38 16h0M39 7h0M47 0h0M58 -5h0M59 -12h0M32 1h0M41 6h0M36 -17h0"/><path transform="scale(.5) rotate(45)" stroke="#1818d8" stroke-width="5.6" stroke-linecap="square" d="M42 -9h0M37 -5h0M59 -5h0M50 -31h0M55 -30h0M41 13h0M54 -22h0M42 -10h0M72 -11h0M62 -9h0M31 9h0M50 3h0M63 -10h0M25 -13h0M53 -6h0M78 -32h0M39 -20h0M54 -8h0M47 -15h0M38 16h0M39 7h0M47 0h0M58 -5h0M59 -12h0M32 1h0M41 6h0M36 -17h0"/><path transform="scale(.5) rotate(45)" stroke="#fff" stroke-opacity="0.6" stroke-width="6.5" stroke-linecap="square" d="M47 -28h0M24 -13h0M30 -11h0M41 -16h0M40 -22h0M56 -2h0M39 -27h0M65 -26h0M48 -23h0M47 -29h0M34 -8h0M46 -20h0M55 -2h0M53 1h0M45 -12h0M49 -2h0M58 -12h0M38 2h0M65 3h0M34 -1h0M41 -8h0M51 3h0M36 -11h0M46 8h0M51 -4h0M61 -7h0M41 -22h0"/><path transform="scale(.5) rotate(45)" stroke="#1818d8" stroke-width="5.6" stroke-linecap="square" d="M47 -28h0M24 -13h0M30 -11h0M41 -16h0M40 -22h0M56 -2h0M39 -27h0M65 -26h0M48 -23h0M47 -29h0M34 -8h0M46 -20h0M55 -2h0M53 1h0M45 -12h0M49 -2h0M58 -12h0M38 2h0M65 3h0M34 -1h0M41 -8h0M51 3h0M36 -11h0M46 8h0M51 -4h0M61 -7h0M41 -22h0"/><path transform="scale(.5) rotate(45)" stroke="#fff" stroke-opacity="0.6" stroke-width="6.5" stroke-linecap="square" d="M59 -48h0M47 6h0M45 -19h0M44 -33h0M26 -14h0M38 -26h0M65 -11h0M46 -7h0M63 -17h0M56 -3h0M66 -20h0M70 -9h0M52 -6h0M38 8h0M44 -18h0M40 7h0M52 2h0M60 -13h0M39 8h0M66 -19h0M40 -15h0M45 -20h0M47 7h0M51 -32h0M59 -33h0M54 -29h0"/><path transform="scale(.5) rotate(45)" stroke="#1818d8" stroke-width="5.6" stroke-linecap="square" d="M59 -48h0M47 6h0M45 -19h0M44 -33h0M26 -14h0M38 -26h0M65 -11h0M46 -7h0M63 -17h0M56 -3h0M66 -20h0M70 -9h0M52 -6h0M38 8h0M44 -18h0M40 7h0M52 2h0M60 -13h0M39 8h0M66 -19h0M40 -15h0M45 -20h0M47 7h0M51 -32h0M59 -33h0M54 -29h0"/><path transform="scale(.5) rotate(45)" stroke="#fff" stroke-opacity="0.6" stroke-width="6.5" stroke-linecap="square" d="M48 -16h0M44 -12h0M29 -18h0M45 9h0M17 -6h0M51 -19h0M57 -3h0M62 -2h0M52 -26h0M68 -21h0M46 -21h0M51 2h0M53 -27h0M62 -8h0M37 -4h0M67 -20h0M59 -34h0M48 -22h0M62 -15h0M49 4h0M42 -16h0M72 -19h0M20 -9h0M42 -17h0M45 2h0M66 -12h0"/><path transform="scale(.5) rotate(45)" stroke="#1818d8" stroke-width="5.6" stroke-linecap="square" d="M48 -16h0M44 -12h0M29 -18h0M45 9h0M17 -6h0M51 -19h0M57 -3h0M62 -2h0M52 -26h0M68 -21h0M46 -21h0M51 2h0M53 -27h0M62 -8h0M37 -4h0M67 -20h0M59 -34h0M48 -22h0M62 -15h0M49 4h0M42 -16h0M72 -19h0M20 -9h0M42 -17h0M45 2h0M66 -12h0"/></svg><rect x="91.00" y="131.90" width="43.6" height="42.5" fill="#eaeaf2"/><path d="M94.35 131.90V174.40M124.84 131.90V174.40M91.00 173.10H134.60M91.00 135.98H134.60" stroke="#f4f4f8" stroke-width="0.6" fill="none"/><svg x="91.00" y="131.90" width="43.6" height="42.5" overflow="hidden"><path transform="scale(.5)" stroke="#fff" stroke-opacity="0.6" stroke-width="6.9" stroke-linecap="square" d="M81 23h0M43 38h0M28 38h0M16 53h0M10 33h0M15 18h0M14 18h0M11 38h0M11 48h0M30 28h0M45 38h0M25 33h0M20 33h0M28 28h0M9 33h0M18 68h0M20 38h0M11 18h0M45 43h0M10 38h0M21 53h0M26 58h0M26 43h0M33 53h0M29 43h0M21 18h0M48 43h0M11 43h0M8 43h0M15 38h0"/><path transform="scale(.5)" stroke="#d81818" stroke-width="6.0" stroke-linecap="square" d="M81 23h0M43 38h0M28 38h0M16 53h0M10 33h0M15 18h0M14 18h0M11 38h0M11 48h0M30 28h0M45 38h0M25 33h0M20 33h0M28 28h0M9 33h0M18 68h0M20 38h0M11 18h0M45 43h0M10 38h0M21 53h0M26 58h0M26 43h0M33 53h0M29 43h0M21 18h0M48 43h0M11 43h0M8 43h0M15 38h0"/><path transform="scale(.5)" stroke="#fff" stroke-opacity="0.6" stroke-width="6.9" stroke-linecap="square" d="M13 38h0M34 33h0M30 43h0M28 33h0M12 38h0M16 33h0M20 43h0M23 33h0M10 53h0M29 63h0M27 33h0M12 53h0M28 53h0M18 33h0M9 23h0M28 18h0M24 68h0M23 38h0M48 73h0M21 43h0M8 38h0M19 28h0M13 43h0M13 33h0M10 48h0M9 38h0M10 18h0M35 33h0M16 68h0"/><path transform="scale(.5)" stroke="#d81818" stroke-width="6.0" stroke-linecap="square" d="M13 38h0M34 33h0M30 43h0M28 33h0M12 38h0M16 33h0M20 43h0M23 33h0M10 53h0M29 63h0M27 33h0M12 53h0M28 53h0M18 33h0M9 23h0M28 18h0M24 68h0M23 38h0M48 73h0M21 43h0M8 38h0M19 28h0M13 43h0M13 33h0M10 48h0M9 38h0M10 18h0M35 33h0M16 68h0"/><path transform="scale(.5)" stroke="#fff" stroke-opacity="0.6" stroke-width="6.9" stroke-linecap="square" d="M14 43h0M17 38h0M12 23h0M19 33h0M14 38h0M20 73h0M20 18h0M24 18h0M48 53h0M30 33h0M20 23h0M22 38h0M22 63h0M21 38h0M18 18h0M23 43h0M22 33h0M33 38h0M26 23h0M32 23h0M19 23h0M19 38h0M32 43h0M9 48h0M12 28h0M18 8h0M33 33h0M23 18h0M17 18h0"/><path transform="scale(.5)" stroke="#d81818" stroke-width="6.0" stroke-linecap="square" d="M14 43h0M17 38h0M12 23h0M19 33h0M14 38h0M20 73h0M20 18h0M24 18h0M48 53h0M30 33h0M20 23h0M22 38h0M22 63h0M21 38h0M18 18h0M23 43h0M22 33h0M33 38h0M26 23h0M32 23h0M19 23h0M19 38h0M32 43h0M9 48h0M12 28h0M18 8h0M33 33h0M23 18h0M17 18h0"/><path transform="scale(.5)" stroke="#fff" stroke-opacity="0.6" stroke-width="6.9" stroke-linecap="square" d="M13 62h0M22 48h0M19 43h0M17 28h0M25 38h0M36 48h0M12 33h0M12 18h0M11 33h0M15 33h0M10 58h0M14 33h0M48 38h0M29 8h0M20 63h0M45 53h0M10 43h0M8 28h0M15 63h0M27 43h0M13 58h0M34 43h0M17 63h0M17 33h0M47 33h0M26 38h0M29 33h0M18 23h0M20 28h0"/><path transform="scale(.5)" stroke="#d81818" stroke-width="6.0" stroke-linecap="square" d="M13 62h0M22 48h0M19 43h0M17 28h0M25 38h0M36 48h0M12 33h0M12 18h0M11 33h0M15 33h0M10 58h0M14 33h0M48 38h0M29 8h0M20 63h0M45 53h0M10 43h0M8 28h0M15 63h0M27 43h0M13 58h0M34 43h0M17 63h0M17 33h0M47 33h0M26 38h0M29 33h0M18 23h0M20 28h0"/><path transform="scale(.5) rotate(45)" stroke="#fff" stroke-opacity="0.6" stroke-width="6.5" stroke-linecap="square" d="M30 3h0M25 7h0M40 14h0M26 -1h0M14 -2h0M28 5h0M29 11h0M19 6h0M41 12h0M39 1h0M33 20h0M20 6h0M31 16h0M43 11h0M37 9h0M31 9h0M55 13h0M25 1h0M35 11h0M35 -9h0M29 -4h0M43 3h0M32 -14h0"/><path transform="scale(.5) rotate(45)" stroke="#1818d8" stroke-width="5.6" stroke-linecap="square" d="M30 3h0M25 7h0M40 14h0M26 -1h0M14 -2h0M28 5h0M29 11h0M19 6h0M41 12h0M39 1h0M33 20h0M20 6h0M31 16h0M43 11h0M37 9h0M31 9h0M55 13h0M25 1h0M35 11h0M35 -9h0M29 -4h0M43 3h0M32 -14h0"/><path transform="scale(.5) rotate(45)" stroke="#fff" stroke-opacity="0.6" stroke-width="6.5" stroke-linecap="square" d="M23 -4h0M14 -3h0M23 -5h0M41 13h0M16 -5h0M15 -3h0M39 0h0M39 7h0M25 -6h0M22 4h0M39 15h0M20 -8h0M42 4h0M45 1h0M34 19h0M42 11h0M33 0h0M42 12h0M48 5h0M52 2h0M57 -4h0M30 -5h0"/><path transform="scale(.5) rotate(45)" stroke="#1818d8" stroke-width="5.6" stroke-linecap="square" d="M23 -4h0M14 -3h0M23 -5h0M41 13h0M16 -5h0M15 -3h0M39 0h0M39 7h0M25 -6h0M22 4h0M39 15h0M20 -8h0M42 4h0M45 1h0M34 19h0M42 11h0M33 0h0M42 12h0M48 5h0M52 2h0M57 -4h0M30 -5h0"/><path transform="scale(.5) rotate(45)" stroke="#fff" stroke-opacity="0.6" stroke-width="6.5" stroke-linecap="square" d="M19 -8h0M37 17h0M21 4h0M33 -7h0M34 20h0M40 13h0M39 22h0M27 -2h0M37 16h0M47 -1h0M26 0h0M43 -18h0M37 -4h0M36 18h0M32 -6h0M30 -4h0M43 4h0M33 14h0M36 10h0M49 5h0M16 2h0M32 15h0"/><path transform="scale(.5) rotate(45)" stroke="#1818d8" stroke-width="5.6" stroke-linecap="square" d="M19 -8h0M37 17h0M21 4h0M33 -7h0M34 20h0M40 13h0M39 22h0M27 -2h0M37 16h0M47 -1h0M26 0h0M43 -18h0M37 -4h0M36 18h0M32 -6h0M30 -4h0M43 4h0M33 14h0M36 10h0M49 5h0M16 2h0M32 15h0"/><path transform="scale(.5) rotate(45)" stroke="#fff" stroke-opacity="0.6" stroke-width="6.5" stroke-linecap="square" d="M32 1h0M28 4h0M30 -11h0M25 -7h0M23 10h0M34 -1h0M48 12h0M43 10h0M30 16h0M46 15h0M30 17h0M17 -5h0M35 12h0M22 -3h0M38 9h0M31 1h0M33 13h0M47 -14h0M24 2h0M22 3h0M23 2h0M24 1h0"/><path transform="scale(.5) rotate(45)" stroke="#1818d8" stroke-width="5.6" stroke-linecap="square" d="M32 1h0M28 4h0M30 -11h0M25 -7h0M23 10h0M34 -1h0M48 12h0M43 10h0M30 16h0M46 15h0M30 17h0M17 -5h0M35 12h0M22 -3h0M38 9h0M31 1h0M33 13h0M47 -14h0M24 2h0M22 3h0M23 2h0M24 1h0"/></svg><rect x="152.50" y="131.90" width="43.6" height="42.5" fill="#eaeaf2"/><path d="M153.83 131.90V174.40M191.91 131.90V174.40M152.50 173.10H196.10M152.50 135.98H196.10" stroke="#f4f4f8" stroke-width="0.6" fill="none"/><svg x="152.50" y="131.90" width="43.6" height="42.5" overflow="hidden"><g transform="translate(-152.50,-131.90)"><rect x="156.05" y="173.90" width="3.70" height="0.50" fill="#e00000"/><rect x="159.70" y="173.70" width="3.70" height="0.70" fill="#e00000"/><rect x="163.35" y="173.70" width="3.70" height="0.70" fill="#e00000"/><rect x="167.00" y="173.90" width="3.70" height="0.50" fill="#e00000"/><rect x="174.30" y="156.20" width="3.70" height="18.20" fill="#e00000"/><rect x="174.30" y="151.90" width="3.70" height="4.32" fill="#0000ee"/><rect x="181.60" y="169.90" width="3.70" height="4.50" fill="#e00000"/><rect x="181.60" y="167.00" width="3.70" height="2.92" fill="#0000ee"/><rect x="185.25" y="174.10" width="3.70" height="0.30" fill="#e00000"/><rect x="185.25" y="173.20" width="3.70" height="0.92" fill="#0000ee"/><rect x="188.90" y="173.40" width="3.70" height="1.02" fill="#0000ee"/></g></svg><rect x="214.00" y="131.90" width="43.6" height="42.5" fill="#eaeaf2"/><path d="M217.27 131.90V174.40M253.60 131.90V174.40M214.00 173.10H257.60M214.00 135.98H257.60" stroke="#f4f4f8" stroke-width="0.6" fill="none"/><svg x="214.00" y="131.90" width="43.6" height="42.5" overflow="hidden"><path transform="scale(.5)" stroke="#fff" stroke-opacity="0.6" stroke-width="6.9" stroke-linecap="square" d="M7 23h0M7 33h0M7 18h0M7 8h0"/><path transform="scale(.5)" stroke="#d81818" stroke-width="6.0" stroke-linecap="square" d="M7 23h0M7 33h0M7 18h0M7 8h0"/><path transform="scale(.5)" stroke="#fff" stroke-opacity="0.6" stroke-width="6.9" stroke-linecap="square" d="M7 38h0M7 48h0M7 73h0M7 68h0"/><path transform="scale(.5)" stroke="#d81818" stroke-width="6.0" stroke-linecap="square" d="M7 38h0M7 48h0M7 73h0M7 68h0"/><path transform="scale(.5)" stroke="#fff" stroke-opacity="0.6" stroke-width="6.9" stroke-linecap="square" d="M7 43h0M7 53h0M7 63h0"/><path transform="scale(.5)" stroke="#d81818" stroke-width="6.0" stroke-linecap="square" d="M7 43h0M7 53h0M7 63h0"/><path transform="scale(.5)" stroke="#fff" stroke-opacity="0.6" stroke-width="6.9" stroke-linecap="square" d="M7 62h0M7 28h0M7 58h0"/><path transform="scale(.5)" stroke="#d81818" stroke-width="6.0" stroke-linecap="square" d="M7 62h0M7 28h0M7 58h0"/><path transform="scale(.5) rotate(45)" stroke="#fff" stroke-opacity="0.6" stroke-width="6.5" stroke-linecap="square" d="M72 -40h0M27 6h0M39 15h0M19 -1h0M24 2h0M31 22h0M17 8h0"/><path transform="scale(.5) rotate(45)" stroke="#1818d8" stroke-width="5.6" stroke-linecap="square" d="M72 -40h0M27 6h0M39 15h0M19 -1h0M24 2h0M31 22h0M17 8h0"/><path transform="scale(.5) rotate(45)" stroke="#fff" stroke-opacity="0.6" stroke-width="6.5" stroke-linecap="square" d="M65 -47h0M13 -1h0M20 -1h0M22 4h0M17 2h0M21 12h0M28 19h0"/><path transform="scale(.5) rotate(45)" stroke="#1818d8" stroke-width="5.6" stroke-linecap="square" d="M65 -47h0M13 -1h0M20 -1h0M22 4h0M17 2h0M21 12h0M28 19h0"/><path transform="scale(.5) rotate(45)" stroke="#fff" stroke-opacity="0.6" stroke-width="6.5" stroke-linecap="square" d="M62 -50h0M37 17h0M23 3h0M16 -5h0M17 -6h0M24 15h0M14 5h0"/><path transform="scale(.5) rotate(45)" stroke="#1818d8" stroke-width="5.6" stroke-linecap="square" d="M62 -50h0M37 17h0M23 3h0M16 -5h0M17 -6h0M24 15h0M14 5h0"/><path transform="scale(.5) rotate(45)" stroke="#fff" stroke-opacity="0.6" stroke-width="6.5" stroke-linecap="square" d="M26 6h0M23 9h0M16 -4h0M37 16h0M10 1h0M35 26h0M38 29h0"/><path transform="scale(.5) rotate(45)" stroke="#1818d8" stroke-width="5.6" stroke-linecap="square" d="M26 6h0M23 9h0M16 -4h0M37 16h0M10 1h0M35 26h0M38 29h0"/></svg><rect x="275.50" y="131.90" width="43.6" height="42.5" fill="#eaeaf2"/><path d="M279.03 131.90V174.40M311.09 131.90V174.40M275.50 173.10H319.10M275.50 135.98H319.10" stroke="#f4f4f8" stroke-width="0.6" fill="none"/><svg x="275.50" y="131.90" width="43.6" height="42.5" overflow="hidden"><path transform="scale(.5)" stroke="#fff" stroke-opacity="0.6" stroke-width="6.9" stroke-linecap="square" d="M7 23h0M65 38h0M7 43h0M7 73h0M7 68h0"/><path transform="scale(.5)" stroke="#d81818" stroke-width="6.0" stroke-linecap="square" d="M7 23h0M65 38h0M7 43h0M7 73h0M7 68h0"/><path transform="scale(.5)" stroke="#fff" stroke-opacity="0.6" stroke-width="6.9" stroke-linecap="square" d="M71 38h0M7 33h0M7 53h0M7 63h0"/><path transform="scale(.5)" stroke="#d81818" stroke-width="6.0" stroke-linecap="square" d="M71 38h0M7 33h0M7 53h0M7 63h0"/><path transform="scale(.5)" stroke="#fff" stroke-opacity="0.6" stroke-width="6.9" stroke-linecap="square" d="M56 43h0M7 38h0M7 28h0M7 58h0"/><path transform="scale(.5)" stroke="#d81818" stroke-width="6.0" stroke-linecap="square" d="M56 43h0M7 38h0M7 28h0M7 58h0"/><path transform="scale(.5)" stroke="#fff" stroke-opacity="0.6" stroke-width="6.9" stroke-linecap="square" d="M48 62h0M7 48h0M7 18h0M7 8h0"/><path transform="scale(.5)" stroke="#d81818" stroke-width="6.0" stroke-linecap="square" d="M48 62h0M7 48h0M7 18h0M7 8h0"/><path transform="scale(.5) rotate(45)" stroke="#fff" stroke-opacity="0.6" stroke-width="6.5" stroke-linecap="square" d="M21 11h0M18 8h0M51 -39h0M82 -28h0M28 18h0"/><path transform="scale(.5) rotate(45)" stroke="#1818d8" stroke-width="5.6" stroke-linecap="square" d="M21 11h0M18 8h0M51 -39h0M82 -28h0M28 18h0"/><path transform="scale(.5) rotate(45)" stroke="#fff" stroke-opacity="0.6" stroke-width="6.5" stroke-linecap="square" d="M14 4h0M50 -38h0M62 -30h0M64 -11h0M39 29h0"/><path transform="scale(.5) rotate(45)" stroke="#1818d8" stroke-width="5.6" stroke-linecap="square" d="M14 4h0M50 -38h0M62 -30h0M64 -11h0M39 29h0"/><path transform="scale(.5) rotate(45)" stroke="#fff" stroke-opacity="0.6" stroke-width="6.5" stroke-linecap="square" d="M11 1h0M71 -17h0M60 -28h0M25 15h0"/><path transform="scale(.5) rotate(45)" stroke="#1818d8" stroke-width="5.6" stroke-linecap="square" d="M11 1h0M71 -17h0M60 -28h0M25 15h0"/><path transform="scale(.5) rotate(45)" stroke="#fff" stroke-opacity="0.6" stroke-width="6.5" stroke-linecap="square" d="M32 22h0M73 -19h0M61 -49h0M35 25h0"/><path transform="scale(.5) rotate(45)" stroke="#1818d8" stroke-width="5.6" stroke-linecap="square" d="M32 22h0M73 -19h0M61 -49h0M35 25h0"/></svg><rect x="337.00" y="131.90" width="43.6" height="42.5" fill="#eaeaf2"/><path d="M337.46 131.90V174.40M360.41 131.90V174.40M337.00 173.10H380.60M337.00 135.98H380.60" stroke="#f4f4f8" stroke-width="0.6" fill="none"/><svg x="337.00" y="131.90" width="43.6" height="42.5" overflow="hidden"><path transform="scale(.5)" stroke="#fff" stroke-opacity="0.6" stroke-width="6.9" stroke-linecap="square" d="M37 23h0M44 38h0M36 38h0M30 33h0M48 38h0M37 43h0M58 18h0M45 38h0M23 43h0M46 63h0M12 18h0M34 33h0M33 38h0M37 63h0M28 8h0M42 68h0M52 53h0M22 43h0M47 38h0M33 43h0M37 58h0M5 38h0M34 43h0M60 53h0M10 38h0M27 33h0M58 33h0M17 18h0M38 38h0M50 38h0"/><path transform="scale(.5)" stroke="#d81818" stroke-width="6.0" stroke-linecap="square" d="M37 23h0M44 38h0M36 38h0M30 33h0M48 38h0M37 43h0M58 18h0M45 38h0M23 43h0M46 63h0M12 18h0M34 33h0M33 38h0M37 63h0M28 8h0M42 68h0M52 53h0M22 43h0M47 38h0M33 43h0M37 58h0M5 38h0M34 43h0M60 53h0M10 38h0M27 33h0M58 33h0M17 18h0M38 38h0M50 38h0"/><path transform="scale(.5)" stroke="#fff" stroke-opacity="0.6" stroke-width="6.9" stroke-linecap="square" d="M31 38h0M37 33h0M19 43h0M40 33h0M34 38h0M66 33h0M58 43h0M23 33h0M41 53h0M49 38h0M34 23h0M32 18h0M24 38h0M28 38h0M40 23h0M7 18h0M52 38h0M5 33h0M24 43h0M5 43h0M54 38h0M41 43h0M40 38h0M26 33h0M70 48h0M31 33h0M55 38h0M46 43h0M39 63h0"/><path transform="scale(.5)" stroke="#d81818" stroke-width="6.0" stroke-linecap="square" d="M31 38h0M37 33h0M19 43h0M40 33h0M34 38h0M66 33h0M58 43h0M23 33h0M41 53h0M49 38h0M34 23h0M32 18h0M24 38h0M28 38h0M40 23h0M7 18h0M52 38h0M5 33h0M24 43h0M5 43h0M54 38h0M41 43h0M40 38h0M26 33h0M70 48h0M31 33h0M55 38h0M46 43h0M39 63h0"/><path transform="scale(.5)" stroke="#fff" stroke-opacity="0.6" stroke-width="6.9" stroke-linecap="square" d="M35 43h0M37 38h0M45 43h0M36 28h0M15 38h0M37 73h0M41 38h0M33 18h0M35 33h0M36 33h0M22 58h0M29 38h0M53 33h0M33 28h0M51 33h0M53 43h0M31 68h0M38 33h0M48 23h0M48 53h0M46 58h0M56 43h0M25 63h0M60 33h0M21 33h0M46 38h0M34 8h0M45 58h0M20 43h0"/><path transform="scale(.5)" stroke="#d81818" stroke-width="6.0" stroke-linecap="square" d="M35 43h0M37 38h0M45 43h0M36 28h0M15 38h0M37 73h0M41 38h0M33 18h0M35 33h0M36 33h0M22 58h0M29 38h0M53 33h0M33 28h0M51 33h0M53 43h0M31 68h0M38 33h0M48 23h0M48 53h0M46 58h0M56 43h0M25 63h0M60 33h0M21 33h0M46 38h0M34 8h0M45 58h0M20 43h0"/><path transform="scale(.5)" stroke="#fff" stroke-opacity="0.6" stroke-width="6.9" stroke-linecap="square" d="M40 62h0M37 48h0M37 53h0M44 33h0M37 18h0M35 48h0M24 33h0M34 18h0M37 28h0M30 38h0M69 33h0M65 53h0M13 33h0M54 33h0M50 33h0M38 43h0M33 33h0M19 38h0M34 63h0M12 43h0M55 28h0M27 18h0M26 38h0M36 53h0M62 33h0M56 38h0M18 33h0M19 33h0M52 28h0"/><path transform="scale(.5)" stroke="#d81818" stroke-width="6.0" stroke-linecap="square" d="M40 62h0M37 48h0M37 53h0M44 33h0M37 18h0M35 48h0M24 33h0M34 18h0M37 28h0M30 38h0M69 33h0M65 53h0M13 33h0M54 33h0M50 33h0M38 43h0M33 33h0M19 38h0M34 63h0M12 43h0M55 28h0M27 18h0M26 38h0M36 53h0M62 33h0M56 38h0M18 33h0M19 33h0M52 28h0"/><path transform="scale(.5) rotate(45)" stroke="#fff" stroke-opacity="0.6" stroke-width="6.5" stroke-linecap="square" d="M43 -10h0M39 -27h0M49 -24h0M43 -17h0M51 3h0M46 -7h0M45 -19h0M53 0h0M48 -1h0M52 1h0M38 9h0M42 -24h0M47 -7h0M60 7h0M61 -8h0M30 -5h0M60 -7h0M53 -6h0"/><path transform="scale(.5) rotate(45)" stroke="#1818d8" stroke-width="5.6" stroke-linecap="square" d="M43 -10h0M39 -27h0M49 -24h0M43 -17h0M51 3h0M46 -7h0M45 -19h0M53 0h0M48 -1h0M52 1h0M38 9h0M42 -24h0M47 -7h0M60 7h0M61 -8h0M30 -5h0M60 -7h0M53 -6h0"/><path transform="scale(.5) rotate(45)" stroke="#fff" stroke-opacity="0.6" stroke-width="6.5" stroke-linecap="square" d="M43 -24h0M60 -6h0M36 -24h0M36 -17h0M40 -8h0M48 -8h0M52 -6h0M39 -21h0M69 -8h0M35 -24h0M43 10h0M55 -8h0M47 0h0M57 -4h0M54 -8h0M55 -23h0M40 -21h0M64 -10h0"/><path transform="scale(.5) rotate(45)" stroke="#1818d8" stroke-width="5.6" stroke-linecap="square" d="M43 -24h0M60 -6h0M36 -24h0M36 -17h0M40 -8h0M48 -8h0M52 -6h0M39 -21h0M69 -8h0M35 -24h0M43 10h0M55 -8h0M47 0h0M57 -4h0M54 -8h0M55 -23h0M40 -21h0M64 -10h0"/><path transform="scale(.5) rotate(45)" stroke="#fff" stroke-opacity="0.6" stroke-width="6.5" stroke-linecap="square" d="M49 -37h0M63 -10h0M39 -14h0M30 -18h0M49 -17h0M48 12h0M36 -10h0M57 -11h0M50 -3h0M49 -2h0M68 -21h0M44 -18h0M65 -11h0M55 -1h0M40 7h0M53 -27h0M44 -19h0M38 -12h0"/><path transform="scale(.5) rotate(45)" stroke="#1818d8" stroke-width="5.6" stroke-linecap="square" d="M49 -37h0M63 -10h0M39 -14h0M30 -18h0M49 -17h0M48 12h0M36 -10h0M57 -11h0M50 -3h0M49 -2h0M68 -21h0M44 -18h0M65 -11h0M55 -1h0M40 7h0M53 -27h0M44 -19h0M38 -12h0"/><path transform="scale(.5) rotate(45)" stroke="#fff" stroke-opacity="0.6" stroke-width="6.5" stroke-linecap="square" d="M53 -20h0M46 -27h0M32 -21h0M57 -3h0M46 -14h0M61 0h0M58 -5h0M53 -14h0M40 -29h0M54 0h0M53 -7h0M61 -14h0M45 -12h0M48 -15h0M77 -23h0M25 -14h0M49 -16h0M54 -1h0"/><path transform="scale(.5) rotate(45)" stroke="#1818d8" stroke-width="5.6" stroke-linecap="square" d="M53 -20h0M46 -27h0M32 -21h0M57 -3h0M46 -14h0M61 0h0M58 -5h0M53 -14h0M40 -29h0M54 0h0M53 -7h0M61 -14h0M45 -12h0M48 -15h0M77 -23h0M25 -14h0M49 -16h0M54 -1h0"/></svg><rect x="29.50" y="193.80" width="43.6" height="42.5" fill="#eaeaf2"/><path d="M32.51 193.80V236.30M54.33 193.80V236.30M29.50 233.11H73.10M29.50 197.70H73.10" stroke="#f4f4f8" stroke-width="0.6" fill="none"/><svg x="29.50" y="193.80" width="43.6" height="42.5" overflow="hidden"><path transform="scale(.5)" stroke="#fff" stroke-opacity="0.6" stroke-width="6.9" stroke-linecap="square" d="M32 79h0M23 79h0M25 79h0M31 79h0M26 79h0M16 79h0M59 79h0M7 79h0M46 79h0M28 79h0M10 79h0M51 79h0M49 79h0M21 79h0M68 79h0"/><path transform="scale(.5)" stroke="#d81818" stroke-width="6.0" stroke-linecap="square" d="M32 79h0M23 79h0M25 79h0M31 79h0M26 79h0M16 79h0M59 79h0M7 79h0M46 79h0M28 79h0M10 79h0M51 79h0M49 79h0M21 79h0M68 79h0"/><path transform="scale(.5)" stroke="#fff" stroke-opacity="0.6" stroke-width="6.9" stroke-linecap="square" d="M15 79h0M14 79h0M44 79h0M29 79h0M54 79h0M64 79h0M36 79h0M50 79h0M34 79h0M9 79h0M52 79h0M76 79h0M58 79h0M37 79h0M6 79h0"/><path transform="scale(.5)" stroke="#d81818" stroke-width="6.0" stroke-linecap="square" d="M15 79h0M14 79h0M44 79h0M29 79h0M54 79h0M64 79h0M36 79h0M50 79h0M34 79h0M9 79h0M52 79h0M76 79h0M58 79h0M37 79h0M6 79h0"/><path transform="scale(.5)" stroke="#fff" stroke-opacity="0.6" stroke-width="6.9" stroke-linecap="square" d="M45 79h0M8 79h0M30 79h0M27 79h0M18 79h0M61 79h0M38 79h0M22 79h0M55 79h0M39 79h0M41 79h0M11 79h0M48 79h0M35 79h0M65 79h0"/><path transform="scale(.5)" stroke="#d81818" stroke-width="6.0" stroke-linecap="square" d="M45 79h0M8 79h0M30 79h0M27 79h0M18 79h0M61 79h0M38 79h0M22 79h0M55 79h0M39 79h0M41 79h0M11 79h0M48 79h0M35 79h0M65 79h0"/><path transform="scale(.5)" stroke="#fff" stroke-opacity="0.6" stroke-width="6.9" stroke-linecap="square" d="M60 79h0M42 79h0M67 79h0M17 79h0M12 79h0M33 79h0M19 79h0M57 79h0M43 79h0M24 79h0M13 79h0M20 79h0M40 79h0M56 79h0"/><path transform="scale(.5)" stroke="#d81818" stroke-width="6.0" stroke-linecap="square" d="M60 79h0M42 79h0M67 79h0M17 79h0M12 79h0M33 79h0M19 79h0M57 79h0M43 79h0M24 79h0M13 79h0M20 79h0M40 79h0M56 79h0"/><path transform="scale(.5) rotate(45)" stroke="#fff" stroke-opacity="0.6" stroke-width="6.5" stroke-linecap="square" d="M31 -20h0M71 29h0M80 16h0M80 23h0M84 22h0M85 27h0M89 22h0M82 29h0M95 16h0M77 35h0M80 31h0M74 37h0M76 35h0M102 9h0M71 40h0M78 33h0M95 17h0"/><path transform="scale(.5) rotate(45)" stroke="#1818d8" stroke-width="5.6" stroke-linecap="square" d="M31 -20h0M71 29h0M80 16h0M80 23h0M84 22h0M85 27h0M89 22h0M82 29h0M95 16h0M77 35h0M80 31h0M74 37h0M76 35h0M102 9h0M71 40h0M78 33h0M95 17h0"/><path transform="scale(.5) rotate(45)" stroke="#fff" stroke-opacity="0.6" stroke-width="6.5" stroke-linecap="square" d="M43 -32h0M72 35h0M70 29h0M88 12h0M69 29h0M88 24h0M86 25h0M88 23h0M94 18h0M99 13h0M92 19h0M71 41h0M110 1h0M87 24h0M66 45h0M82 30h0M76 36h0"/><path transform="scale(.5) rotate(45)" stroke="#1818d8" stroke-width="5.6" stroke-linecap="square" d="M43 -32h0M72 35h0M70 29h0M88 12h0M69 29h0M88 24h0M86 25h0M88 23h0M94 18h0M99 13h0M92 19h0M71 41h0M110 1h0M87 24h0M66 45h0M82 30h0M76 36h0"/><path transform="scale(.5) rotate(45)" stroke="#fff" stroke-opacity="0.6" stroke-width="6.5" stroke-linecap="square" d="M59 -48h0M71 30h0M74 27h0M68 32h0M67 44h0M91 20h0M81 30h0M97 14h0M85 26h0M79 32h0M84 27h0M90 21h0M72 39h0M74 38h0M73 38h0M72 40h0M75 37h0"/><path transform="scale(.5) rotate(45)" stroke="#1818d8" stroke-width="5.6" stroke-linecap="square" d="M59 -48h0M71 30h0M74 27h0M68 32h0M67 44h0M91 20h0M81 30h0M97 14h0M85 26h0M79 32h0M84 27h0M90 21h0M72 39h0M74 38h0M73 38h0M72 40h0M75 37h0"/><path transform="scale(.5) rotate(45)" stroke="#fff" stroke-opacity="0.6" stroke-width="6.5" stroke-linecap="square" d="M82 18h0M82 25h0M91 10h0M92 7h0M70 41h0M94 17h0M101 10h0M96 16h0M100 11h0M89 23h0M75 36h0M87 25h0M99 12h0M77 34h0M98 13h0M83 28h0M102 10h0"/><path transform="scale(.5) rotate(45)" stroke="#1818d8" stroke-width="5.6" stroke-linecap="square" d="M82 18h0M82 25h0M91 10h0M92 7h0M70 41h0M94 17h0M101 10h0M96 16h0M100 11h0M89 23h0M75 36h0M87 25h0M99 12h0M77 34h0M98 13h0M83 28h0M102 10h0"/></svg><rect x="91.00" y="193.80" width="43.6" height="42.5" fill="#eaeaf2"/><path d="M94.35 193.80V236.30M124.84 193.80V236.30M91.00 233.11H134.60M91.00 197.70H134.60" stroke="#f4f4f8" stroke-width="0.6" fill="none"/><svg x="91.00" y="193.80" width="43.6" height="42.5" overflow="hidden"><path transform="scale(.5)" stroke="#fff" stroke-opacity="0.6" stroke-width="6.9" stroke-linecap="square" d="M81 79h0M34 79h0M30 79h0M10 79h0M36 79h0M48 79h0M18 79h0M8 79h0M35 79h0"/><path transform="scale(.5)" stroke="#d81818" stroke-width="6.0" stroke-linecap="square" d="M81 79h0M34 79h0M30 79h0M10 79h0M36 79h0M48 79h0M18 79h0M8 79h0M35 79h0"/><path transform="scale(.5)" stroke="#fff" stroke-opacity="0.6" stroke-width="6.9" stroke-linecap="square" d="M13 79h0M17 79h0M12 79h0M25 79h0M11 79h0M29 79h0M21 79h0M26 79h0"/><path transform="scale(.5)" stroke="#d81818" stroke-width="6.0" stroke-linecap="square" d="M13 79h0M17 79h0M12 79h0M25 79h0M11 79h0M29 79h0M21 79h0M26 79h0"/><path transform="scale(.5)" stroke="#fff" stroke-opacity="0.6" stroke-width="6.9" stroke-linecap="square" d="M14 79h0M22 79h0M19 79h0M15 79h0M23 79h0M45 79h0M9 79h0M32 79h0"/><path transform="scale(.5)" stroke="#d81818" stroke-width="6.0" stroke-linecap="square" d="M14 79h0M22 79h0M19 79h0M15 79h0M23 79h0M45 79h0M9 79h0M32 79h0"/><path transform="scale(.5)" stroke="#fff" stroke-opacity="0.6" stroke-width="6.9" stroke-linecap="square" d="M43 79h0M28 79h0M16 79h0M20 79h0M24 79h0M27 79h0M33 79h0M47 79h0"/><path transform="scale(.5)" stroke="#d81818" stroke-width="6.0" stroke-linecap="square" d="M43 79h0M28 79h0M16 79h0M20 79h0M24 79h0M27 79h0M33 79h0M47 79h0"/><path transform="scale(.5) rotate(45)" stroke="#fff" stroke-opacity="0.6" stroke-width="6.5" stroke-linecap="square" d="M19 -8h0M60 41h0M59 42h0M69 29h0M63 49h0M65 46h0M75 36h0M70 41h0M68 44h0M76 35h0M66 46h0M78 33h0"/><path transform="scale(.5) rotate(45)" stroke="#1818d8" stroke-width="5.6" stroke-linecap="square" d="M19 -8h0M60 41h0M59 42h0M69 29h0M63 49h0M65 46h0M75 36h0M70 41h0M68 44h0M76 35h0M66 46h0M78 33h0"/><path transform="scale(.5) rotate(45)" stroke="#fff" stroke-opacity="0.6" stroke-width="6.5" stroke-linecap="square" d="M66 35h0M65 42h0M71 30h0M69 37h0M63 48h0M69 42h0M64 47h0M72 39h0M70 42h0M78 34h0M76 36h0"/><path transform="scale(.5) rotate(45)" stroke="#1818d8" stroke-width="5.6" stroke-linecap="square" d="M66 35h0M65 42h0M71 30h0M69 37h0M63 48h0M69 42h0M64 47h0M72 39h0M70 42h0M78 34h0M76 36h0"/><path transform="scale(.5) rotate(45)" stroke="#fff" stroke-opacity="0.6" stroke-width="6.5" stroke-linecap="square" d="M59 41h0M61 35h0M65 38h0M57 41h0M62 49h0M73 38h0M74 37h0M80 32h0M86 25h0M71 41h0M81 30h0"/><path transform="scale(.5) rotate(45)" stroke="#1818d8" stroke-width="5.6" stroke-linecap="square" d="M59 41h0M61 35h0M65 38h0M57 41h0M62 49h0M73 38h0M74 37h0M80 32h0M86 25h0M71 41h0M81 30h0"/><path transform="scale(.5) rotate(45)" stroke="#fff" stroke-opacity="0.6" stroke-width="6.5" stroke-linecap="square" d="M62 45h0M64 36h0M58 42h0M66 45h0M67 44h0M65 47h0M71 40h0M68 43h0M67 45h0M77 34h0M72 40h0"/><path transform="scale(.5) rotate(45)" stroke="#1818d8" stroke-width="5.6" stroke-linecap="square" d="M62 45h0M64 36h0M58 42h0M66 45h0M67 44h0M65 47h0M71 40h0M68 43h0M67 45h0M77 34h0M72 40h0"/></svg><rect x="152.50" y="193.80" width="43.6" height="42.5" fill="#eaeaf2"/><path d="M153.83 193.80V236.30M191.91 193.80V236.30M152.50 233.11H196.10M152.50 197.70H196.10" stroke="#f4f4f8" stroke-width="0.6" fill="none"/><svg x="152.50" y="193.80" width="43.6" height="42.5" overflow="hidden"><path transform="scale(.5)" stroke="#fff" stroke-opacity="0.6" stroke-width="6.9" stroke-linecap="square" d="M64 79h0M53 79h0M69 79h0M18 79h0"/><path transform="scale(.5)" stroke="#d81818" stroke-width="6.0" stroke-linecap="square" d="M64 79h0M53 79h0M69 79h0M18 79h0"/><path transform="scale(.5)" stroke="#fff" stroke-opacity="0.6" stroke-width="6.9" stroke-linecap="square" d="M48 79h0M38 79h0M13 79h0"/><path transform="scale(.5)" stroke="#d81818" stroke-width="6.0" stroke-linecap="square" d="M48 79h0M38 79h0M13 79h0"/><path transform="scale(.5)" stroke="#fff" stroke-opacity="0.6" stroke-width="6.9" stroke-linecap="square" d="M43 79h0M33 79h0M28 79h0"/><path transform="scale(.5)" stroke="#d81818" stroke-width="6.0" stroke-linecap="square" d="M43 79h0M33 79h0M28 79h0"/><path transform="scale(.5)" stroke="#fff" stroke-opacity="0.6" stroke-width="6.9" stroke-linecap="square" d="M23 79h0M59 79h0M79 79h0"/><path transform="scale(.5)" stroke="#d81818" stroke-width="6.0" stroke-linecap="square" d="M23 79h0M59 79h0M79 79h0"/><path transform="scale(.5) rotate(45)" stroke="#fff" stroke-opacity="0.6" stroke-width="6.5" stroke-linecap="square" d="M50 -39h0M109 -3h0M102 -2h0M100 3h0M104 -7h0M97 14h0M108 3h0"/><path transform="scale(.5) rotate(45)" stroke="#1818d8" stroke-width="5.6" stroke-linecap="square" d="M50 -39h0M109 -3h0M102 -2h0M100 3h0M104 -7h0M97 14h0M108 3h0"/><path transform="scale(.5) rotate(45)" stroke="#fff" stroke-opacity="0.6" stroke-width="6.5" stroke-linecap="square" d="M57 -46h0M84 16h0M99 2h0M106 -6h0M111 0h0M86 25h0M83 29h0"/><path transform="scale(.5) rotate(45)" stroke="#1818d8" stroke-width="5.6" stroke-linecap="square" d="M57 -46h0M84 16h0M99 2h0M106 -6h0M111 0h0M86 25h0M83 29h0"/><path transform="scale(.5) rotate(45)" stroke="#fff" stroke-opacity="0.6" stroke-width="6.5" stroke-linecap="square" d="M61 -50h0M98 8h0M106 -5h0M98 1h0M90 21h0M104 7h0"/><path transform="scale(.5) rotate(45)" stroke="#1818d8" stroke-width="5.6" stroke-linecap="square" d="M61 -50h0M98 8h0M106 -5h0M98 1h0M90 21h0M104 7h0"/><path transform="scale(.5) rotate(45)" stroke="#fff" stroke-opacity="0.6" stroke-width="6.5" stroke-linecap="square" d="M95 5h0M82 14h0M103 -2h0M105 1h0M101 11h0M93 18h0"/><path transform="scale(.5) rotate(45)" stroke="#1818d8" stroke-width="5.6" stroke-linecap="square" d="M95 5h0M82 14h0M103 -2h0M105 1h0M101 11h0M93 18h0"/></svg><rect x="214.00" y="193.80" width="43.6" height="42.5" fill="#eaeaf2"/><path d="M217.27 193.80V236.30M253.60 193.80V236.30M214.00 233.11H257.60M214.00 197.70H257.60" stroke="#f4f4f8" stroke-width="0.6" fill="none"/><svg x="214.00" y="193.80" width="43.6" height="42.5" overflow="hidden"><g transform="translate(-214.00,-193.80)"><rect x="217.00" y="207.00" width="3.95" height="29.30" fill="#e00000"/><rect x="217.00" y="196.70" width="3.95" height="10.32" fill="#0000ee"/><rect x="252.10" y="235.70" width="3.95" height="0.62" fill="#0000ee"/></g></svg><rect x="275.50" y="193.80" width="43.6" height="42.5" fill="#eaeaf2"/><path d="M279.03 193.80V236.30M311.09 193.80V236.30M275.50 233.11H319.10M275.50 197.70H319.10" stroke="#f4f4f8" stroke-width="0.6" fill="none"/><svg x="275.50" y="193.80" width="43.6" height="42.5" overflow="hidden"><path transform="scale(.5)" stroke="#fff" stroke-opacity="0.6" stroke-width="6.9" stroke-linecap="square" d="M7 79h0M65 79h0"/><path transform="scale(.5)" stroke="#d81818" stroke-width="6.0" stroke-linecap="square" d="M7 79h0M65 79h0"/><path transform="scale(.5)" stroke="#fff" stroke-opacity="0.6" stroke-width="6.9" stroke-linecap="square" d="M71 79h0"/><path transform="scale(.5)" stroke="#d81818" stroke-width="6.0" stroke-linecap="square" d="M71 79h0"/><path transform="scale(.5)" stroke="#fff" stroke-opacity="0.6" stroke-width="6.9" stroke-linecap="square" d="M56 79h0"/><path transform="scale(.5)" stroke="#d81818" stroke-width="6.0" stroke-linecap="square" d="M56 79h0"/><path transform="scale(.5)" stroke="#fff" stroke-opacity="0.6" stroke-width="6.9" stroke-linecap="square" d="M48 79h0"/><path transform="scale(.5)" stroke="#d81818" stroke-width="6.0" stroke-linecap="square" d="M48 79h0"/><path transform="scale(.5) rotate(45)" stroke="#fff" stroke-opacity="0.6" stroke-width="6.5" stroke-linecap="square" d="M10 1h0M56 47h0M100 11h0"/><path transform="scale(.5) rotate(45)" stroke="#1818d8" stroke-width="5.6" stroke-linecap="square" d="M10 1h0M56 47h0M100 11h0"/><path transform="scale(.5) rotate(45)" stroke="#fff" stroke-opacity="0.6" stroke-width="6.5" stroke-linecap="square" d="M55 45h0M54 44h0M110 1h0"/><path transform="scale(.5) rotate(45)" stroke="#1818d8" stroke-width="5.6" stroke-linecap="square" d="M55 45h0M54 44h0M110 1h0"/><path transform="scale(.5) rotate(45)" stroke="#fff" stroke-opacity="0.6" stroke-width="6.5" stroke-linecap="square" d="M58 48h0M100 12h0M93 18h0"/><path transform="scale(.5) rotate(45)" stroke="#1818d8" stroke-width="5.6" stroke-linecap="square" d="M58 48h0M100 12h0M93 18h0"/><path transform="scale(.5) rotate(45)" stroke="#fff" stroke-opacity="0.6" stroke-width="6.5" stroke-linecap="square" d="M53 43h0M101 10h0M61 51h0"/><path transform="scale(.5) rotate(45)" stroke="#1818d8" stroke-width="5.6" stroke-linecap="square" d="M53 43h0M101 10h0M61 51h0"/></svg><rect x="337.00" y="193.80" width="43.6" height="42.5" fill="#eaeaf2"/><path d="M337.46 193.80V236.30M360.41 193.80V236.30M337.00 233.11H380.60M337.00 197.70H380.60" stroke="#f4f4f8" stroke-width="0.6" fill="none"/><svg x="337.00" y="193.80" width="43.6" height="42.5" overflow="hidden"><path transform="scale(.5)" stroke="#fff" stroke-opacity="0.6" stroke-width="6.9" stroke-linecap="square" d="M37 79h0M44 79h0M30 79h0M66 79h0M23 79h0M12 79h0M29 79h0M28 79h0M42 79h0M5 79h0M27 79h0M10 79h0M18 79h0"/><path transform="scale(.5)" stroke="#d81818" stroke-width="6.0" stroke-linecap="square" d="M37 79h0M44 79h0M30 79h0M66 79h0M23 79h0M12 79h0M29 79h0M28 79h0M42 79h0M5 79h0M27 79h0M10 79h0M18 79h0"/><path transform="scale(.5)" stroke="#fff" stroke-opacity="0.6" stroke-width="6.9" stroke-linecap="square" d="M31 79h0M36 79h0M48 79h0M58 79h0M33 79h0M22 79h0M65 79h0M54 79h0M7 79h0M47 79h0M25 79h0M70 79h0M17 79h0"/><path transform="scale(.5)" stroke="#d81818" stroke-width="6.0" stroke-linecap="square" d="M31 79h0M36 79h0M48 79h0M58 79h0M33 79h0M22 79h0M65 79h0M54 79h0M7 79h0M47 79h0M25 79h0M70 79h0M17 79h0"/><path transform="scale(.5)" stroke="#fff" stroke-opacity="0.6" stroke-width="6.9" stroke-linecap="square" d="M35 79h0M19 79h0M34 79h0M41 79h0M46 79h0M69 79h0M53 79h0M51 79h0M38 79h0M55 79h0M26 79h0M21 79h0M39 79h0"/><path transform="scale(.5)" stroke="#d81818" stroke-width="6.0" stroke-linecap="square" d="M35 79h0M19 79h0M34 79h0M41 79h0M46 79h0M69 79h0M53 79h0M51 79h0M38 79h0M55 79h0M26 79h0M21 79h0M39 79h0"/><path transform="scale(.5)" stroke="#fff" stroke-opacity="0.6" stroke-width="6.9" stroke-linecap="square" d="M40 79h0M45 79h0M15 79h0M24 79h0M49 79h0M32 79h0M13 79h0M50 79h0M52 79h0M56 79h0M60 79h0M62 79h0M20 79h0"/><path transform="scale(.5)" stroke="#d81818" stroke-width="6.0" stroke-linecap="square" d="M40 79h0M45 79h0M15 79h0M24 79h0M49 79h0M32 79h0M13 79h0M50 79h0M52 79h0M56 79h0M60 79h0M62 79h0M20 79h0"/><path transform="scale(.5) rotate(45)" stroke="#fff" stroke-opacity="0.6" stroke-width="6.5" stroke-linecap="square" d="M32 -21h0M86 13h0M85 12h0M76 23h0M80 32h0M84 28h0M85 27h0M90 21h0M83 28h0M89 23h0M87 25h0M95 17h0M81 31h0"/><path transform="scale(.5) rotate(45)" stroke="#1818d8" stroke-width="5.6" stroke-linecap="square" d="M32 -21h0M86 13h0M85 12h0M76 23h0M80 32h0M84 28h0M85 27h0M90 21h0M83 28h0M89 23h0M87 25h0M95 17h0M81 31h0"/><path transform="scale(.5) rotate(45)" stroke="#fff" stroke-opacity="0.6" stroke-width="6.5" stroke-linecap="square" d="M39 -28h0M86 20h0M86 14h0M79 19h0M85 26h0M74 38h0M79 32h0M80 31h0M70 41h0M93 18h0M88 23h0M95 16h0"/><path transform="scale(.5) rotate(45)" stroke="#1818d8" stroke-width="5.6" stroke-linecap="square" d="M39 -28h0M86 20h0M86 14h0M79 19h0M85 26h0M74 38h0M79 32h0M80 31h0M70 41h0M93 18h0M88 23h0M95 16h0"/><path transform="scale(.5) rotate(45)" stroke="#fff" stroke-opacity="0.6" stroke-width="6.5" stroke-linecap="square" d="M48 -37h0M83 17h0M80 21h0M79 27h0M82 29h0M86 25h0M87 24h0M94 17h0M72 39h0M94 18h0M105 6h0M75 36h0"/><path transform="scale(.5) rotate(45)" stroke="#1818d8" stroke-width="5.6" stroke-linecap="square" d="M48 -37h0M83 17h0M80 21h0M79 27h0M82 29h0M86 25h0M87 24h0M94 17h0M72 39h0M94 18h0M105 6h0M75 36h0"/><path transform="scale(.5) rotate(45)" stroke="#fff" stroke-opacity="0.6" stroke-width="6.5" stroke-linecap="square" d="M87 14h0M90 17h0M78 25h0M75 22h0M89 22h0M88 24h0M86 26h0M81 30h0M100 11h0M84 27h0M73 38h0M92 19h0"/><path transform="scale(.5) rotate(45)" stroke="#1818d8" stroke-width="5.6" stroke-linecap="square" d="M87 14h0M90 17h0M78 25h0M75 22h0M89 22h0M88 24h0M86 26h0M81 30h0M100 11h0M84 27h0M73 38h0M92 19h0"/></svg><rect x="29.50" y="255.70" width="43.6" height="42.5" fill="#eaeaf2"/><path d="M32.51 255.70V298.20M54.33 255.70V298.20M29.50 294.76H73.10M29.50 263.51H73.10" stroke="#f4f4f8" stroke-width="0.6" fill="none"/><svg x="29.50" y="255.70" width="43.6" height="42.5" overflow="hidden"><path transform="scale(.5)" stroke="#fff" stroke-opacity="0.6" stroke-width="6.9" stroke-linecap="square" d="M32 78h0M23 22h0M25 78h0M31 78h0M26 78h0M16 78h0M59 78h0M19 78h0M57 78h0M60 78h0M39 78h0M45 78h0M15 78h0M49 78h0M21 78h0M68 78h0"/><path transform="scale(.5)" stroke="#d81818" stroke-width="6.0" stroke-linecap="square" d="M32 78h0M23 22h0M25 78h0M31 78h0M26 78h0M16 78h0M59 78h0M19 78h0M57 78h0M60 78h0M39 78h0M45 78h0M15 78h0M49 78h0M21 78h0M68 78h0"/><path transform="scale(.5)" stroke="#fff" stroke-opacity="0.6" stroke-width="6.9" stroke-linecap="square" d="M15 16h0M14 78h0M44 78h0M29 78h0M54 78h0M64 78h0M36 78h0M7 78h0M46 78h0M43 78h0M24 78h0M41 78h0M76 78h0M58 78h0M37 78h0M6 78h0"/><path transform="scale(.5)" stroke="#d81818" stroke-width="6.0" stroke-linecap="square" d="M15 16h0M14 78h0M44 78h0M29 78h0M54 78h0M64 78h0M36 78h0M7 78h0M46 78h0M43 78h0M24 78h0M41 78h0M76 78h0M58 78h0M37 78h0M6 78h0"/><path transform="scale(.5)" stroke="#fff" stroke-opacity="0.6" stroke-width="6.9" stroke-linecap="square" d="M45 31h0M8 78h0M30 78h0M27 78h0M18 78h0M61 78h0M38 78h0M50 78h0M34 78h0M28 78h0M10 78h0M13 78h0M11 78h0M48 78h0M35 78h0M65 78h0"/><path transform="scale(.5)" stroke="#d81818" stroke-width="6.0" stroke-linecap="square" d="M45 31h0M8 78h0M30 78h0M27 78h0M18 78h0M61 78h0M38 78h0M50 78h0M34 78h0M28 78h0M10 78h0M13 78h0M11 78h0M48 78h0M35 78h0M65 78h0"/><path transform="scale(.5)" stroke="#fff" stroke-opacity="0.6" stroke-width="6.9" stroke-linecap="square" d="M60 38h0M42 78h0M67 78h0M17 78h0M12 78h0M33 78h0M23 78h0M22 78h0M55 78h0M9 78h0M52 78h0M51 78h0M20 78h0M40 78h0M56 78h0"/><path transform="scale(.5)" stroke="#d81818" stroke-width="6.0" stroke-linecap="square" d="M60 38h0M42 78h0M67 78h0M17 78h0M12 78h0M33 78h0M23 78h0M22 78h0M55 78h0M9 78h0M52 78h0M51 78h0M20 78h0M40 78h0M56 78h0"/><path transform="scale(.5) rotate(45)" stroke="#fff" stroke-opacity="0.6" stroke-width="6.5" stroke-linecap="square" d="M80 30h0M76 34h0M79 32h0M73 37h0M29 6h0M51 -20h0M54 -7h0M97 14h0M93 17h0M98 12h0M80 31h0M81 29h0M81 30h0M102 9h0M83 28h0M70 41h0M90 21h0"/><path transform="scale(.5) rotate(45)" stroke="#1818d8" stroke-width="5.6" stroke-linecap="square" d="M80 30h0M76 34h0M79 32h0M73 37h0M29 6h0M51 -20h0M54 -7h0M97 14h0M93 17h0M98 12h0M80 31h0M81 29h0M81 30h0M102 9h0M83 28h0M70 41h0M90 21h0"/><path transform="scale(.5) rotate(45)" stroke="#fff" stroke-opacity="0.6" stroke-width="6.5" stroke-linecap="square" d="M93 18h0M74 37h0M96 15h0M98 13h0M31 3h0M55 -21h0M41 -10h0M91 20h0M85 26h0M89 22h0M92 19h0M70 40h0M72 39h0M71 40h0M79 31h0M101 9h0"/><path transform="scale(.5) rotate(45)" stroke="#1818d8" stroke-width="5.6" stroke-linecap="square" d="M93 18h0M74 37h0M96 15h0M98 13h0M31 3h0M55 -21h0M41 -10h0M91 20h0M85 26h0M89 22h0M92 19h0M70 40h0M72 39h0M71 40h0M79 31h0M101 9h0"/><path transform="scale(.5) rotate(45)" stroke="#fff" stroke-opacity="0.6" stroke-width="6.5" stroke-linecap="square" d="M109 2h0M76 35h0M84 27h0M86 24h0M44 -13h0M40 -27h0M101 10h0M95 15h0M100 11h0M88 22h0M84 26h0M90 20h0M99 12h0M78 33h0M88 23h0M77 34h0"/><path transform="scale(.5) rotate(45)" stroke="#1818d8" stroke-width="5.6" stroke-linecap="square" d="M109 2h0M76 35h0M84 27h0M86 24h0M44 -13h0M40 -27h0M101 10h0M95 15h0M100 11h0M88 22h0M84 26h0M90 20h0M99 12h0M78 33h0M88 23h0M77 34h0"/><path transform="scale(.5) rotate(45)" stroke="#fff" stroke-opacity="0.6" stroke-width="6.5" stroke-linecap="square" d="M87 23h0M83 27h0M94 17h0M75 35h0M48 -16h0M45 -32h0M82 29h0M94 16h0M66 44h0M95 16h0M74 36h0M110 0h0M85 25h0M71 39h0M87 24h0M73 38h0"/><path transform="scale(.5) rotate(45)" stroke="#1818d8" stroke-width="5.6" stroke-linecap="square" d="M87 23h0M83 27h0M94 17h0M75 35h0M48 -16h0M45 -32h0M82 29h0M94 16h0M66 44h0M95 16h0M74 36h0M110 0h0M85 25h0M71 39h0M87 24h0M73 38h0"/></svg><rect x="91.00" y="255.70" width="43.6" height="42.5" fill="#eaeaf2"/><path d="M94.35 255.70V298.20M124.84 255.70V298.20M91.00 294.76H134.60M91.00 263.51H134.60" stroke="#f4f4f8" stroke-width="0.6" fill="none"/><svg x="91.00" y="255.70" width="43.6" height="42.5" overflow="hidden"><path transform="scale(.5)" stroke="#fff" stroke-opacity="0.6" stroke-width="6.9" stroke-linecap="square" d="M81 78h0M43 22h0M28 78h0M16 78h0M15 78h0M23 78h0M13 78h0M21 78h0M26 78h0"/><path transform="scale(.5)" stroke="#d81818" stroke-width="6.0" stroke-linecap="square" d="M81 78h0M43 22h0M28 78h0M16 78h0M15 78h0M23 78h0M13 78h0M21 78h0M26 78h0"/><path transform="scale(.5)" stroke="#fff" stroke-opacity="0.6" stroke-width="6.9" stroke-linecap="square" d="M13 16h0M34 78h0M30 78h0M10 78h0M20 78h0M24 78h0M45 78h0M9 78h0M32 78h0"/><path transform="scale(.5)" stroke="#d81818" stroke-width="6.0" stroke-linecap="square" d="M13 16h0M34 78h0M30 78h0M10 78h0M20 78h0M24 78h0M45 78h0M9 78h0M32 78h0"/><path transform="scale(.5)" stroke="#fff" stroke-opacity="0.6" stroke-width="6.9" stroke-linecap="square" d="M14 31h0M17 78h0M12 78h0M14 78h0M36 78h0M48 78h0M27 78h0M33 78h0M47 78h0"/><path transform="scale(.5)" stroke="#d81818" stroke-width="6.0" stroke-linecap="square" d="M14 31h0M17 78h0M12 78h0M14 78h0M36 78h0M48 78h0M27 78h0M33 78h0M47 78h0"/><path transform="scale(.5)" stroke="#fff" stroke-opacity="0.6" stroke-width="6.9" stroke-linecap="square" d="M13 38h0M22 78h0M19 78h0M25 78h0M11 78h0M29 78h0M18 78h0M8 78h0M35 78h0"/><path transform="scale(.5)" stroke="#d81818" stroke-width="6.0" stroke-linecap="square" d="M13 38h0M22 78h0M19 78h0M25 78h0M11 78h0M29 78h0M18 78h0M8 78h0M35 78h0"/><path transform="scale(.5) rotate(45)" stroke="#fff" stroke-opacity="0.6" stroke-width="6.5" stroke-linecap="square" d="M69 42h0M65 45h0M76 35h0M28 7h0M22 9h0M37 10h0M62 49h0M62 48h0M66 44h0M68 43h0M65 46h0M78 32h0"/><path transform="scale(.5) rotate(45)" stroke="#1818d8" stroke-width="5.6" stroke-linecap="square" d="M69 42h0M65 45h0M76 35h0M28 7h0M22 9h0M37 10h0M62 49h0M62 48h0M66 44h0M68 43h0M65 46h0M78 32h0"/><path transform="scale(.5) rotate(45)" stroke="#fff" stroke-opacity="0.6" stroke-width="6.5" stroke-linecap="square" d="M71 40h0M67 43h0M75 35h0M24 10h0M29 6h0M33 -2h0M70 41h0M74 36h0M67 44h0M70 40h0M77 34h0"/><path transform="scale(.5) rotate(45)" stroke="#1818d8" stroke-width="5.6" stroke-linecap="square" d="M71 40h0M67 43h0M75 35h0M24 10h0M29 6h0M33 -2h0M70 41h0M74 36h0M67 44h0M70 40h0M77 34h0"/><path transform="scale(.5) rotate(45)" stroke="#fff" stroke-opacity="0.6" stroke-width="6.5" stroke-linecap="square" d="M64 46h0M68 42h0M71 39h0M26 5h0M16 -3h0M75 36h0M72 39h0M79 31h0M77 33h0M72 38h0M80 30h0"/><path transform="scale(.5) rotate(45)" stroke="#1818d8" stroke-width="5.6" stroke-linecap="square" d="M64 46h0M68 42h0M71 39h0M26 5h0M16 -3h0M75 36h0M72 39h0M79 31h0M77 33h0M72 38h0M80 30h0"/><path transform="scale(.5) rotate(45)" stroke="#fff" stroke-opacity="0.6" stroke-width="6.5" stroke-linecap="square" d="M64 47h0M69 41h0M63 47h0M24 8h0M13 0h0M73 37h0M66 45h0M86 25h0M63 48h0M76 34h0M73 38h0"/><path transform="scale(.5) rotate(45)" stroke="#1818d8" stroke-width="5.6" stroke-linecap="square" d="M64 47h0M69 41h0M63 47h0M24 8h0M13 0h0M73 37h0M66 45h0M86 25h0M63 48h0M76 34h0M73 38h0"/></svg><rect x="152.50" y="255.70" width="43.6" height="42.5" fill="#eaeaf2"/><path d="M153.83 255.70V298.20M191.91 255.70V298.20M152.50 294.76H196.10M152.50 263.51H196.10" stroke="#f4f4f8" stroke-width="0.6" fill="none"/><svg x="152.50" y="255.70" width="43.6" height="42.5" overflow="hidden"><path transform="scale(.5)" stroke="#fff" stroke-opacity="0.6" stroke-width="6.9" stroke-linecap="square" d="M64 78h0M48 22h0M43 78h0M13 78h0M18 78h0"/><path transform="scale(.5)" stroke="#d81818" stroke-width="6.0" stroke-linecap="square" d="M64 78h0M48 22h0M43 78h0M13 78h0M18 78h0"/><path transform="scale(.5)" stroke="#fff" stroke-opacity="0.6" stroke-width="6.9" stroke-linecap="square" d="M48 16h0M53 78h0M33 78h0M23 78h0"/><path transform="scale(.5)" stroke="#d81818" stroke-width="6.0" stroke-linecap="square" d="M48 16h0M53 78h0M33 78h0M23 78h0"/><path transform="scale(.5)" stroke="#fff" stroke-opacity="0.6" stroke-width="6.9" stroke-linecap="square" d="M43 31h0M48 78h0M59 78h0M28 78h0"/><path transform="scale(.5)" stroke="#d81818" stroke-width="6.0" stroke-linecap="square" d="M43 31h0M48 78h0M59 78h0M28 78h0"/><path transform="scale(.5)" stroke="#fff" stroke-opacity="0.6" stroke-width="6.9" stroke-linecap="square" d="M23 38h0M38 78h0M69 78h0M79 78h0"/><path transform="scale(.5)" stroke="#d81818" stroke-width="6.0" stroke-linecap="square" d="M23 38h0M38 78h0M69 78h0M79 78h0"/><path transform="scale(.5) rotate(45)" stroke="#fff" stroke-opacity="0.6" stroke-width="6.5" stroke-linecap="square" d="M100 10h0M104 7h0M72 -39h0M41 -28h0M93 17h0"/><path transform="scale(.5) rotate(45)" stroke="#1818d8" stroke-width="5.6" stroke-linecap="square" d="M100 10h0M104 7h0M72 -39h0M41 -28h0M93 17h0"/><path transform="scale(.5) rotate(45)" stroke="#fff" stroke-opacity="0.6" stroke-width="6.5" stroke-linecap="square" d="M107 3h0M73 -39h0M60 -29h0M58 -11h0M82 28h0"/><path transform="scale(.5) rotate(45)" stroke="#1818d8" stroke-width="5.6" stroke-linecap="square" d="M107 3h0M73 -39h0M60 -29h0M58 -11h0M82 28h0"/><path transform="scale(.5) rotate(45)" stroke="#fff" stroke-opacity="0.6" stroke-width="6.5" stroke-linecap="square" d="M111 0h0M51 -17h0M62 -28h0M97 14h0"/><path transform="scale(.5) rotate(45)" stroke="#1818d8" stroke-width="5.6" stroke-linecap="square" d="M111 0h0M51 -17h0M62 -28h0M97 14h0"/><path transform="scale(.5) rotate(45)" stroke="#fff" stroke-opacity="0.6" stroke-width="6.5" stroke-linecap="square" d="M89 21h0M50 -19h0M62 -49h0M86 25h0"/><path transform="scale(.5) rotate(45)" stroke="#1818d8" stroke-width="5.6" stroke-linecap="square" d="M89 21h0M50 -19h0M62 -49h0M86 25h0"/></svg><rect x="214.00" y="255.70" width="43.6" height="42.5" fill="#eaeaf2"/><path d="M217.27 255.70V298.20M253.60 255.70V298.20M214.00 294.76H257.60M214.00 263.51H257.60" stroke="#f4f4f8" stroke-width="0.6" fill="none"/><svg x="214.00" y="255.70" width="43.6" height="42.5" overflow="hidden"><path transform="scale(.5)" stroke="#fff" stroke-opacity="0.6" stroke-width="6.9" stroke-linecap="square" d="M7 78h0M7 22h0"/><path transform="scale(.5)" stroke="#d81818" stroke-width="6.0" stroke-linecap="square" d="M7 78h0M7 22h0"/><path transform="scale(.5)" stroke="#fff" stroke-opacity="0.6" stroke-width="6.9" stroke-linecap="square" d="M7 16h0"/><path transform="scale(.5)" stroke="#d81818" stroke-width="6.0" stroke-linecap="square" d="M7 16h0"/><path transform="scale(.5)" stroke="#fff" stroke-opacity="0.6" stroke-width="6.9" stroke-linecap="square" d="M7 31h0"/><path transform="scale(.5)" stroke="#d81818" stroke-width="6.0" stroke-linecap="square" d="M7 31h0"/><path transform="scale(.5)" stroke="#fff" stroke-opacity="0.6" stroke-width="6.9" stroke-linecap="square" d="M7 38h0"/><path transform="scale(.5)" stroke="#d81818" stroke-width="6.0" stroke-linecap="square" d="M7 38h0"/><path transform="scale(.5) rotate(45)" stroke="#fff" stroke-opacity="0.6" stroke-width="6.5" stroke-linecap="square" d="M111 -1h0M67 43h0M67 44h0M11 2h0"/><path transform="scale(.5) rotate(45)" stroke="#1818d8" stroke-width="5.6" stroke-linecap="square" d="M111 -1h0M67 43h0M67 44h0M11 2h0"/><path transform="scale(.5) rotate(45)" stroke="#fff" stroke-opacity="0.6" stroke-width="6.5" stroke-linecap="square" d="M65 45h0M64 46h0M22 13h0M28 19h0"/><path transform="scale(.5) rotate(45)" stroke="#1818d8" stroke-width="5.6" stroke-linecap="square" d="M65 45h0M64 46h0M22 13h0M28 19h0"/><path transform="scale(.5) rotate(45)" stroke="#fff" stroke-opacity="0.6" stroke-width="6.5" stroke-linecap="square" d="M66 45h0M66 44h0M20 11h0M60 51h0"/><path transform="scale(.5) rotate(45)" stroke="#1818d8" stroke-width="5.6" stroke-linecap="square" d="M66 45h0M66 44h0M20 11h0M60 51h0"/><path transform="scale(.5) rotate(45)" stroke="#fff" stroke-opacity="0.6" stroke-width="6.5" stroke-linecap="square" d="M62 48h0M63 48h0M21 12h0"/><path transform="scale(.5) rotate(45)" stroke="#1818d8" stroke-width="5.6" stroke-linecap="square" d="M62 48h0M63 48h0M21 12h0"/></svg><rect x="275.50" y="255.70" width="43.6" height="42.5" fill="#eaeaf2"/><path d="M279.03 255.70V298.20M311.09 255.70V298.20M275.50 294.76H319.10M275.50 263.51H319.10" stroke="#f4f4f8" stroke-width="0.6" fill="none"/><svg x="275.50" y="255.70" width="43.6" height="42.5" overflow="hidden"><g transform="translate(-275.50,-255.70)"><rect x="278.00" y="268.50" width="3.75" height="29.70" fill="#e00000"/><rect x="278.00" y="258.60" width="3.75" height="9.92" fill="#0000ee"/><rect x="296.50" y="297.80" width="3.75" height="0.40" fill="#e00000"/><rect x="300.20" y="297.80" width="3.75" height="0.40" fill="#e00000"/><rect x="300.20" y="297.60" width="3.75" height="0.22" fill="#0000ee"/><rect x="303.90" y="297.80" width="3.75" height="0.40" fill="#e00000"/><rect x="303.90" y="297.50" width="3.75" height="0.32" fill="#0000ee"/><rect x="307.60" y="297.80" width="3.75" height="0.40" fill="#e00000"/><rect x="307.60" y="297.50" width="3.75" height="0.32" fill="#0000ee"/><rect x="311.30" y="297.90" width="3.75" height="0.30" fill="#e00000"/><rect x="311.30" y="297.70" width="3.75" height="0.22" fill="#0000ee"/><rect x="315.00" y="298.00" width="3.75" height="0.20" fill="#e00000"/></g></svg><rect x="337.00" y="255.70" width="43.6" height="42.5" fill="#eaeaf2"/><path d="M337.46 255.70V298.20M360.41 255.70V298.20M337.00 294.76H380.60M337.00 263.51H380.60" stroke="#f4f4f8" stroke-width="0.6" fill="none"/><svg x="337.00" y="255.70" width="43.6" height="42.5" overflow="hidden"><path transform="scale(.5)" stroke="#fff" stroke-opacity="0.6" stroke-width="6.9" stroke-linecap="square" d="M37 78h0M44 22h0M30 78h0M34 78h0M58 78h0M33 78h0M22 78h0M65 78h0M54 78h0M7 78h0M5 78h0M27 78h0M10 78h0M18 78h0"/><path transform="scale(.5)" stroke="#d81818" stroke-width="6.0" stroke-linecap="square" d="M37 78h0M44 22h0M30 78h0M34 78h0M58 78h0M33 78h0M22 78h0M65 78h0M54 78h0M7 78h0M5 78h0M27 78h0M10 78h0M18 78h0"/><path transform="scale(.5)" stroke="#fff" stroke-opacity="0.6" stroke-width="6.9" stroke-linecap="square" d="M31 16h0M36 78h0M40 78h0M15 78h0M41 78h0M46 78h0M69 78h0M53 78h0M51 78h0M38 78h0M47 78h0M25 78h0M70 78h0M17 78h0"/><path transform="scale(.5)" stroke="#d81818" stroke-width="6.0" stroke-linecap="square" d="M31 16h0M36 78h0M40 78h0M15 78h0M41 78h0M46 78h0M69 78h0M53 78h0M51 78h0M38 78h0M47 78h0M25 78h0M70 78h0M17 78h0"/><path transform="scale(.5)" stroke="#fff" stroke-opacity="0.6" stroke-width="6.9" stroke-linecap="square" d="M35 31h0M19 78h0M44 78h0M66 78h0M24 78h0M49 78h0M32 78h0M13 78h0M50 78h0M52 78h0M55 78h0M26 78h0M21 78h0M39 78h0"/><path transform="scale(.5)" stroke="#d81818" stroke-width="6.0" stroke-linecap="square" d="M35 31h0M19 78h0M44 78h0M66 78h0M24 78h0M49 78h0M32 78h0M13 78h0M50 78h0M52 78h0M55 78h0M26 78h0M21 78h0M39 78h0"/><path transform="scale(.5)" stroke="#fff" stroke-opacity="0.6" stroke-width="6.9" stroke-linecap="square" d="M40 38h0M45 78h0M48 78h0M35 78h0M23 78h0M12 78h0M29 78h0M28 78h0M42 78h0M31 78h0M56 78h0M60 78h0M62 78h0M20 78h0"/><path transform="scale(.5)" stroke="#d81818" stroke-width="6.0" stroke-linecap="square" d="M40 38h0M45 78h0M48 78h0M35 78h0M23 78h0M12 78h0M29 78h0M28 78h0M42 78h0M31 78h0M56 78h0M60 78h0M62 78h0M20 78h0"/><path transform="scale(.5) rotate(45)" stroke="#fff" stroke-opacity="0.6" stroke-width="6.5" stroke-linecap="square" d="M82 29h0M85 25h0M43 -10h0M45 -14h0M87 23h0M89 21h0M85 26h0M82 28h0M86 24h0M84 27h0M95 16h0M80 30h0"/><path transform="scale(.5) rotate(45)" stroke="#1818d8" stroke-width="5.6" stroke-linecap="square" d="M82 29h0M85 25h0M43 -10h0M45 -14h0M87 23h0M89 21h0M85 26h0M82 28h0M86 24h0M84 27h0M95 16h0M80 30h0"/><path transform="scale(.5) rotate(45)" stroke="#fff" stroke-opacity="0.6" stroke-width="6.5" stroke-linecap="square" d="M88 22h0M41 -7h0M50 -16h0M83 27h0M84 26h0M89 22h0M81 29h0M70 41h0M93 18h0M105 5h0M75 36h0M83 28h0"/><path transform="scale(.5) rotate(45)" stroke="#1818d8" stroke-width="5.6" stroke-linecap="square" d="M88 22h0M41 -7h0M50 -16h0M83 27h0M84 26h0M89 22h0M81 29h0M70 41h0M93 18h0M105 5h0M75 36h0M83 28h0"/><path transform="scale(.5) rotate(45)" stroke="#fff" stroke-opacity="0.6" stroke-width="6.5" stroke-linecap="square" d="M98 12h0M47 -13h0M31 -17h0M73 37h0M78 32h0M80 31h0M90 21h0M72 39h0M79 32h0M73 38h0M88 23h0"/><path transform="scale(.5) rotate(45)" stroke="#1818d8" stroke-width="5.6" stroke-linecap="square" d="M98 12h0M47 -13h0M31 -17h0M73 37h0M78 32h0M80 31h0M90 21h0M72 39h0M79 32h0M73 38h0M88 23h0"/><path transform="scale(.5) rotate(45)" stroke="#fff" stroke-opacity="0.6" stroke-width="6.5" stroke-linecap="square" d="M92 19h0M39 -9h0M57 -10h0M86 25h0M87 24h0M94 17h0M81 30h0M100 11h0M93 17h0M94 16h0M92 18h0"/><path transform="scale(.5) rotate(45)" stroke="#1818d8" stroke-width="5.6" stroke-linecap="square" d="M92 19h0M39 -9h0M57 -10h0M86 25h0M87 24h0M94 17h0M81 30h0M100 11h0M93 17h0M94 16h0M92 18h0"/></svg><rect x="29.50" y="317.60" width="43.6" height="42.5" fill="#eaeaf2"/><path d="M32.51 317.60V360.10M54.33 317.60V360.10M29.50 359.65H73.10M29.50 337.28H73.10" stroke="#f4f4f8" stroke-width="0.6" fill="none"/><svg x="29.50" y="317.60" width="43.6" height="42.5" overflow="hidden"><path transform="scale(.5)" stroke="#fff" stroke-opacity="0.6" stroke-width="6.9" stroke-linecap="square" d="M32 48h0M23 42h0M42 67h0M67 46h0M17 42h0M18 48h0M17 28h0M33 41h0M23 48h0M22 51h0M36 37h0M27 48h0M43 18h0M26 22h0M18 51h0M7 58h0M45 57h0M24 35h0M52 78h0M43 34h0M42 81h0M11 40h0M49 39h0M51 55h0M32 38h0M19 40h0M20 81h0M14 58h0M39 60h0M48 26h0M48 65h0M31 48h0M20 54h0M59 48h0M37 67h0M45 68h0M6 48h0M68 47h0M43 48h0"/><path transform="scale(.5)" stroke="#d81818" stroke-width="6.0" stroke-linecap="square" d="M32 48h0M23 42h0M42 67h0M67 46h0M17 42h0M18 48h0M17 28h0M33 41h0M23 48h0M22 51h0M36 37h0M27 48h0M43 18h0M26 22h0M18 51h0M7 58h0M45 57h0M24 35h0M52 78h0M43 34h0M42 81h0M11 40h0M49 39h0M51 55h0M32 38h0M19 40h0M20 81h0M14 58h0M39 60h0M48 26h0M48 65h0M31 48h0M20 54h0M59 48h0M37 67h0M45 68h0M6 48h0M68 47h0M43 48h0"/><path transform="scale(.5)" stroke="#fff" stroke-opacity="0.6" stroke-width="6.9" stroke-linecap="square" d="M15 55h0M14 49h0M25 48h0M31 50h0M8 52h0M12 20h0M64 45h0M59 63h0M19 48h0M30 48h0M34 63h0M16 73h0M28 52h0M29 48h0M10 34h0M22 53h0M9 48h0M28 37h0M18 33h0M30 55h0M15 52h0M34 49h0M49 48h0M27 52h0M52 73h0M14 48h0M14 45h0M25 52h0M13 60h0M40 50h0M25 24h0M59 49h0M54 25h0M21 32h0M35 48h0M14 59h0M13 41h0M65 57h0M19 34h0"/><path transform="scale(.5)" stroke="#d81818" stroke-width="6.0" stroke-linecap="square" d="M15 55h0M14 49h0M25 48h0M31 50h0M8 52h0M12 20h0M64 45h0M59 63h0M19 48h0M30 48h0M34 63h0M16 73h0M28 52h0M29 48h0M10 34h0M22 53h0M9 48h0M28 37h0M18 33h0M30 55h0M15 52h0M34 49h0M49 48h0M27 52h0M52 73h0M14 48h0M14 45h0M25 52h0M13 60h0M40 50h0M25 24h0M59 49h0M54 25h0M21 32h0M35 48h0M14 59h0M13 41h0M65 57h0M19 34h0"/><path transform="scale(.5)" stroke="#fff" stroke-opacity="0.6" stroke-width="6.9" stroke-linecap="square" d="M45 51h0M8 48h0M44 41h0M29 42h0M26 71h0M16 51h0M61 48h0M36 53h0M7 63h0M57 48h0M30 50h0M17 52h0M31 54h0M39 53h0M52 72h0M7 52h0M31 46h0M13 48h0M55 48h0M51 53h0M76 48h0M50 48h0M33 52h0M38 48h0M22 55h0M58 31h0M42 30h0M42 46h0M14 26h0M28 76h0M39 58h0M25 56h0M13 31h0M15 45h0M56 67h0M68 40h0M34 66h0M12 66h0M20 36h0"/><path transform="scale(.5)" stroke="#d81818" stroke-width="6.0" stroke-linecap="square" d="M45 51h0M8 48h0M44 41h0M29 42h0M26 71h0M16 51h0M61 48h0M36 53h0M7 63h0M57 48h0M30 50h0M17 52h0M31 54h0M39 53h0M52 72h0M7 52h0M31 46h0M13 48h0M55 48h0M51 53h0M76 48h0M50 48h0M33 52h0M38 48h0M22 55h0M58 31h0M42 30h0M42 46h0M14 26h0M28 76h0M39 58h0M25 56h0M13 31h0M15 45h0M56 67h0M68 40h0M34 66h0M12 66h0M20 36h0"/><path transform="scale(.5)" stroke="#fff" stroke-opacity="0.6" stroke-width="6.9" stroke-linecap="square" d="M60 46h0M14 50h0M30 56h0M27 38h0M54 48h0M32 28h0M44 62h0M38 52h0M50 45h0M46 40h0M55 55h0M60 64h0M9 56h0M24 48h0M33 48h0M28 32h0M41 49h0M7 44h0M17 34h0M17 64h0M32 67h0M20 48h0M31 57h0M31 81h0M16 32h0M11 48h0M42 33h0M22 48h0M48 60h0M11 16h0M34 48h0M40 48h0M7 28h0M49 52h0M49 50h0M8 55h0M21 48h0M33 55h0"/><path transform="scale(.5)" stroke="#d81818" stroke-width="6.0" stroke-linecap="square" d="M60 46h0M14 50h0M30 56h0M27 38h0M54 48h0M32 28h0M44 62h0M38 52h0M50 45h0M46 40h0M55 55h0M60 64h0M9 56h0M24 48h0M33 48h0M28 32h0M41 49h0M7 44h0M17 34h0M17 64h0M32 67h0M20 48h0M31 57h0M31 81h0M16 32h0M11 48h0M42 33h0M22 48h0M48 60h0M11 16h0M34 48h0M40 48h0M7 28h0M49 52h0M49 50h0M8 55h0M21 48h0M33 55h0"/><path transform="scale(.5) rotate(45)" stroke="#fff" stroke-opacity="0.6" stroke-width="6.5" stroke-linecap="square" d="M59 9h0M46 4h0M45 4h0M73 -4h0M54 14h0M66 2h0M75 -2h0M59 6h0M72 -8h0M69 -7h0M55 13h0M67 1h0M59 2h0M49 13h0M51 10h0M47 15h0M55 -8h0M63 2h0M63 -2h0M57 12h0M60 8h0M41 -18h0M52 -10h0M59 0h0M52 17h0M61 8h0"/><path transform="scale(.5) rotate(45)" stroke="#1818d8" stroke-width="5.6" stroke-linecap="square" d="M59 9h0M46 4h0M45 4h0M73 -4h0M54 14h0M66 2h0M75 -2h0M59 6h0M72 -8h0M69 -7h0M55 13h0M67 1h0M59 2h0M49 13h0M51 10h0M47 15h0M55 -8h0M63 2h0M63 -2h0M57 12h0M60 8h0M41 -18h0M52 -10h0M59 0h0M52 17h0M61 8h0"/><path transform="scale(.5) rotate(45)" stroke="#fff" stroke-opacity="0.6" stroke-width="6.5" stroke-linecap="square" d="M65 -10h0M46 9h0M55 7h0M43 7h0M48 25h0M72 2h0M58 -2h0M75 10h0M77 -2h0M64 5h0M79 -7h0M62 -17h0M74 -6h0M50 20h0M89 -21h0M60 9h0M52 16h0M56 13h0M44 22h0M52 0h0M62 7h0M76 11h0M73 -5h0M44 13h0M58 -10h0M66 3h0"/><path transform="scale(.5) rotate(45)" stroke="#1818d8" stroke-width="5.6" stroke-linecap="square" d="M65 -10h0M46 9h0M55 7h0M43 7h0M48 25h0M72 2h0M58 -2h0M75 10h0M77 -2h0M64 5h0M79 -7h0M62 -17h0M74 -6h0M50 20h0M89 -21h0M60 9h0M52 16h0M56 13h0M44 22h0M52 0h0M62 7h0M76 11h0M73 -5h0M44 13h0M58 -10h0M66 3h0"/><path transform="scale(.5) rotate(45)" stroke="#fff" stroke-opacity="0.6" stroke-width="6.5" stroke-linecap="square" d="M72 -35h0M48 7h0M65 -16h0M73 -11h0M45 17h0M66 -10h0M57 5h0M72 -11h0M61 -3h0M71 -18h0M68 1h0M59 10h0M46 7h0M68 -1h0M64 23h0M78 -9h0M74 0h0M45 14h0M47 12h0M46 14h0M63 5h0M50 -6h0M55 26h0M59 4h0M77 -6h0"/><path transform="scale(.5) rotate(45)" stroke="#1818d8" stroke-width="5.6" stroke-linecap="square" d="M72 -35h0M48 7h0M65 -16h0M73 -11h0M45 17h0M66 -10h0M57 5h0M72 -11h0M61 -3h0M71 -18h0M68 1h0M59 10h0M46 7h0M68 -1h0M64 23h0M78 -9h0M74 0h0M45 14h0M47 12h0M46 14h0M63 5h0M50 -6h0M55 26h0M59 4h0M77 -6h0"/><path transform="scale(.5) rotate(45)" stroke="#fff" stroke-opacity="0.6" stroke-width="6.5" stroke-linecap="square" d="M57 -7h0M53 -4h0M63 6h0M65 3h0M66 8h0M70 3h0M80 -11h0M64 -6h0M70 -1h0M39 16h0M58 11h0M68 -6h0M61 9h0M76 16h0M42 -9h0M76 -16h0M49 -3h0M58 2h0M77 -8h0M53 3h0M68 20h0M61 -2h0M53 15h0M80 -12h0M72 -6h0"/><path transform="scale(.5) rotate(45)" stroke="#1818d8" stroke-width="5.6" stroke-linecap="square" d="M57 -7h0M53 -4h0M63 6h0M65 3h0M66 8h0M70 3h0M80 -11h0M64 -6h0M70 -1h0M39 16h0M58 11h0M68 -6h0M61 9h0M76 16h0M42 -9h0M76 -16h0M49 -3h0M58 2h0M77 -8h0M53 3h0M68 20h0M61 -2h0M53 15h0M80 -12h0M72 -6h0"/></svg><rect x="91.00" y="317.60" width="43.6" height="42.5" fill="#eaeaf2"/><path d="M94.35 317.60V360.10M124.84 317.60V360.10M91.00 359.65H134.60M91.00 337.28H134.60" stroke="#f4f4f8" stroke-width="0.6" fill="none"/><svg x="91.00" y="317.60" width="43.6" height="42.5" overflow="hidden"><path transform="scale(.5)" stroke="#fff" stroke-opacity="0.6" stroke-width="6.9" stroke-linecap="square" d="M81 48h0M43 42h0M28 50h0M16 48h0M10 42h0M14 71h0M20 48h0M14 45h0M24 53h0M14 63h0M29 40h0M45 55h0M10 64h0M12 22h0M20 34h0M28 53h0M29 57h0M20 35h0M23 33h0M11 81h0M8 49h0M15 52h0M27 81h0M10 46h0M25 48h0M26 30h0M22 46h0M13 60h0M9 16h0M20 58h0M19 40h0M9 32h0M25 67h0M29 59h0M18 66h0M16 55h0"/><path transform="scale(.5)" stroke="#d81818" stroke-width="6.0" stroke-linecap="square" d="M81 48h0M43 42h0M28 50h0M16 48h0M10 42h0M14 71h0M20 48h0M14 45h0M24 53h0M14 63h0M29 40h0M45 55h0M10 64h0M12 22h0M20 34h0M28 53h0M29 57h0M20 35h0M23 33h0M11 81h0M8 49h0M15 52h0M27 81h0M10 46h0M25 48h0M26 30h0M22 46h0M13 60h0M9 16h0M20 58h0M19 40h0M9 32h0M25 67h0M29 59h0M18 66h0M16 55h0"/><path transform="scale(.5)" stroke="#fff" stroke-opacity="0.6" stroke-width="6.9" stroke-linecap="square" d="M13 55h0M34 49h0M30 67h0M28 56h0M12 38h0M15 48h0M36 51h0M12 62h0M12 52h0M48 45h0M13 37h0M27 48h0M16 18h0M45 53h0M11 72h0M18 48h0M9 48h0M34 37h0M45 34h0M11 52h0M45 62h0M10 57h0M21 38h0M13 48h0M19 31h0M25 33h0M17 60h0M16 26h0M17 65h0M12 49h0M47 25h0M18 52h0M48 50h0M11 40h0M20 47h0M15 36h0"/><path transform="scale(.5)" stroke="#d81818" stroke-width="6.0" stroke-linecap="square" d="M13 55h0M34 49h0M30 67h0M28 56h0M12 38h0M15 48h0M36 51h0M12 62h0M12 52h0M48 45h0M13 37h0M27 48h0M16 18h0M45 53h0M11 72h0M18 48h0M9 48h0M34 37h0M45 34h0M11 52h0M45 62h0M10 57h0M21 38h0M13 48h0M19 31h0M25 33h0M17 60h0M16 26h0M17 65h0M12 49h0M47 25h0M18 52h0M48 50h0M11 40h0M20 47h0M15 36h0"/><path transform="scale(.5)" stroke="#fff" stroke-opacity="0.6" stroke-width="6.9" stroke-linecap="square" d="M14 51h0M17 48h0M12 48h0M19 46h0M14 42h0M19 48h0M14 28h0M11 41h0M11 48h0M11 51h0M30 63h0M24 73h0M12 54h0M17 62h0M28 48h0M21 52h0M9 46h0M18 44h0M24 55h0M23 67h0M48 48h0M17 55h0M19 73h0M14 32h0M19 81h0M15 58h0M23 60h0M10 50h0M29 48h0M14 48h0M15 28h0M11 67h0M10 68h0M35 55h0M21 57h0"/><path transform="scale(.5)" stroke="#d81818" stroke-width="6.0" stroke-linecap="square" d="M14 51h0M17 48h0M12 48h0M19 46h0M14 42h0M19 48h0M14 28h0M11 41h0M11 48h0M11 51h0M30 63h0M24 73h0M12 54h0M17 62h0M28 48h0M21 52h0M9 46h0M18 44h0M24 55h0M23 67h0M48 48h0M17 55h0M19 73h0M14 32h0M19 81h0M15 58h0M23 60h0M10 50h0M29 48h0M14 48h0M15 28h0M11 67h0M10 68h0M35 55h0M21 57h0"/><path transform="scale(.5)" stroke="#fff" stroke-opacity="0.6" stroke-width="6.9" stroke-linecap="square" d="M13 46h0M22 48h0M19 41h0M17 50h0M25 52h0M16 20h0M20 28h0M23 63h0M10 48h0M30 48h0M15 50h0M20 52h0M17 56h0M23 48h0M48 58h0M19 32h0M18 49h0M28 78h0M22 53h0M33 40h0M26 39h0M32 48h0M8 55h0M26 40h0M34 45h0M13 52h0M33 26h0M12 76h0M23 24h0M14 56h0M21 48h0M26 48h0M33 48h0M10 41h0M8 66h0"/><path transform="scale(.5)" stroke="#d81818" stroke-width="6.0" stroke-linecap="square" d="M13 46h0M22 48h0M19 41h0M17 50h0M25 52h0M16 20h0M20 28h0M23 63h0M10 48h0M30 48h0M15 50h0M20 52h0M17 56h0M23 48h0M48 58h0M19 32h0M18 49h0M28 78h0M22 53h0M33 40h0M26 39h0M32 48h0M8 55h0M26 40h0M34 45h0M13 52h0M33 26h0M12 76h0M23 24h0M14 56h0M21 48h0M26 48h0M33 48h0M10 41h0M8 66h0"/><path transform="scale(.5) rotate(45)" stroke="#fff" stroke-opacity="0.6" stroke-width="6.5" stroke-linecap="square" d="M48 21h0M34 16h0M38 12h0M45 4h0M50 18h0M47 27h0M41 15h0M51 34h0M52 23h0M45 24h0M60 12h0M43 19h0M47 23h0M48 19h0M60 28h0M40 15h0M45 22h0M55 13h0M42 18h0M46 22h0M45 23h0M65 21h0M31 12h0M40 19h0M43 23h0"/><path transform="scale(.5) rotate(45)" stroke="#1818d8" stroke-width="5.6" stroke-linecap="square" d="M48 21h0M34 16h0M38 12h0M45 4h0M50 18h0M47 27h0M41 15h0M51 34h0M52 23h0M45 24h0M60 12h0M43 19h0M47 23h0M48 19h0M60 28h0M40 15h0M45 22h0M55 13h0M42 18h0M46 22h0M45 23h0M65 21h0M31 12h0M40 19h0M43 23h0"/><path transform="scale(.5) rotate(45)" stroke="#fff" stroke-opacity="0.6" stroke-width="6.5" stroke-linecap="square" d="M41 14h0M36 19h0M38 11h0M43 26h0M42 26h0M43 30h0M49 13h0M48 12h0M46 13h0M34 20h0M47 21h0M41 20h0M65 4h0M65 27h0M23 10h0M43 15h0M38 8h0M51 18h0M45 15h0M56 13h0M54 14h0M29 15h0M55 27h0M40 17h0M50 19h0"/><path transform="scale(.5) rotate(45)" stroke="#1818d8" stroke-width="5.6" stroke-linecap="square" d="M41 14h0M36 19h0M38 11h0M43 26h0M42 26h0M43 30h0M49 13h0M48 12h0M46 13h0M34 20h0M47 21h0M41 20h0M65 4h0M65 27h0M23 10h0M43 15h0M38 8h0M51 18h0M45 15h0M56 13h0M54 14h0M29 15h0M55 27h0M40 17h0M50 19h0"/><path transform="scale(.5) rotate(45)" stroke="#fff" stroke-opacity="0.6" stroke-width="6.5" stroke-linecap="square" d="M32 5h0M38 18h0M33 16h0M39 11h0M47 26h0M39 16h0M43 25h0M35 22h0M49 20h0M46 8h0M38 7h0M41 27h0M42 20h0M55 14h0M53 9h0M49 11h0M52 17h0M49 10h0M48 18h0M33 20h0M63 25h0M59 9h0M58 -3h0M38 10h0M57 12h0"/><path transform="scale(.5) rotate(45)" stroke="#1818d8" stroke-width="5.6" stroke-linecap="square" d="M32 5h0M38 18h0M33 16h0M39 11h0M47 26h0M39 16h0M43 25h0M35 22h0M49 20h0M46 8h0M38 7h0M41 27h0M42 20h0M55 14h0M53 9h0M49 11h0M52 17h0M49 10h0M48 18h0M33 20h0M63 25h0M59 9h0M58 -3h0M38 10h0M57 12h0"/><path transform="scale(.5) rotate(45)" stroke="#fff" stroke-opacity="0.6" stroke-width="6.5" stroke-linecap="square" d="M40 9h0M36 13h0M40 22h0M51 11h0M38 24h0M46 28h0M53 13h0M48 16h0M46 15h0M44 25h0M41 28h0M40 13h0M43 28h0M46 23h0M42 27h0M38 9h0M47 18h0M44 24h0M60 -1h0M43 17h0M22 1h0M51 8h0M37 23h0M47 24h0"/><path transform="scale(.5) rotate(45)" stroke="#1818d8" stroke-width="5.6" stroke-linecap="square" d="M40 9h0M36 13h0M40 22h0M51 11h0M38 24h0M46 28h0M53 13h0M48 16h0M46 15h0M44 25h0M41 28h0M40 13h0M43 28h0M46 23h0M42 27h0M38 9h0M47 18h0M44 24h0M60 -1h0M43 17h0M22 1h0M51 8h0M37 23h0M47 24h0"/></svg><rect x="152.50" y="317.60" width="43.6" height="42.5" fill="#eaeaf2"/><path d="M153.83 317.60V360.10M191.91 317.60V360.10M152.50 359.65H196.10M152.50 337.28H196.10" stroke="#f4f4f8" stroke-width="0.6" fill="none"/><svg x="152.50" y="317.60" width="43.6" height="42.5" overflow="hidden"><path transform="scale(.5)" stroke="#fff" stroke-opacity="0.6" stroke-width="6.9" stroke-linecap="square" d="M64 48h0M48 42h0M48 50h0M53 56h0M48 38h0M43 48h0M69 28h0M48 41h0M43 63h0M23 40h0M69 73h0M53 52h0M48 53h0M23 48h0M79 57h0M53 37h0M33 34h0M43 64h0M59 49h0M48 57h0M43 73h0M59 31h0M53 33h0M48 60h0M33 50h0M53 24h0M48 31h0M43 50h0M53 55h0M43 66h0"/><path transform="scale(.5)" stroke="#d81818" stroke-width="6.0" stroke-linecap="square" d="M64 48h0M48 42h0M48 50h0M53 56h0M48 38h0M43 48h0M69 28h0M48 41h0M43 63h0M23 40h0M69 73h0M53 52h0M48 53h0M23 48h0M79 57h0M53 37h0M33 34h0M43 64h0M59 49h0M48 57h0M43 73h0M59 31h0M53 33h0M48 60h0M33 50h0M53 24h0M48 31h0M43 50h0M53 55h0M43 66h0"/><path transform="scale(.5)" stroke="#fff" stroke-opacity="0.6" stroke-width="6.9" stroke-linecap="square" d="M48 55h0M53 49h0M43 67h0M53 46h0M48 52h0M53 20h0M43 28h0M53 63h0M33 45h0M48 37h0M64 52h0M69 54h0M48 62h0M48 58h0M64 46h0M18 44h0M48 34h0M53 81h0M43 62h0M43 52h0M28 48h0M48 81h0M69 58h0M33 26h0M48 76h0M53 58h0M53 28h0M69 68h0M28 41h0M59 34h0"/><path transform="scale(.5)" stroke="#d81818" stroke-width="6.0" stroke-linecap="square" d="M48 55h0M53 49h0M43 67h0M53 46h0M48 52h0M53 20h0M43 28h0M53 63h0M33 45h0M48 37h0M64 52h0M69 54h0M48 62h0M48 58h0M64 46h0M18 44h0M48 34h0M53 81h0M43 62h0M43 52h0M28 48h0M48 81h0M69 58h0M33 26h0M48 76h0M53 58h0M53 28h0M69 68h0M28 41h0M59 34h0"/><path transform="scale(.5)" stroke="#fff" stroke-opacity="0.6" stroke-width="6.9" stroke-linecap="square" d="M43 51h0M48 48h0M43 41h0M59 50h0M48 71h0M13 48h0M48 45h0M69 53h0M53 51h0M53 50h0M28 64h0M48 56h0M53 34h0M59 53h0M69 49h0M69 78h0M18 55h0M48 67h0M64 39h0M43 81h0M48 32h0M43 45h0M48 46h0M53 60h0M38 16h0M53 54h0M79 52h0M53 59h0M53 66h0M48 36h0"/><path transform="scale(.5)" stroke="#d81818" stroke-width="6.0" stroke-linecap="square" d="M43 51h0M48 48h0M43 41h0M59 50h0M48 71h0M13 48h0M48 45h0M69 53h0M53 51h0M53 50h0M28 64h0M48 56h0M53 34h0M59 53h0M69 49h0M69 78h0M18 55h0M48 67h0M64 39h0M43 81h0M48 32h0M43 45h0M48 46h0M53 60h0M38 16h0M53 54h0M79 52h0M53 59h0M53 66h0M48 36h0"/><path transform="scale(.5)" stroke="#fff" stroke-opacity="0.6" stroke-width="6.9" stroke-linecap="square" d="M23 46h0M38 48h0M33 48h0M53 42h0M69 48h0M38 51h0M53 62h0M69 52h0M59 48h0M53 48h0M53 18h0M33 22h0M53 72h0M53 32h0M53 35h0M43 33h0M53 53h0M48 40h0M23 52h0M33 38h0M28 40h0M43 30h0M23 60h0M53 26h0M53 65h0M53 25h0M53 67h0M43 40h0M23 47h0"/><path transform="scale(.5)" stroke="#d81818" stroke-width="6.0" stroke-linecap="square" d="M23 46h0M38 48h0M33 48h0M53 42h0M69 48h0M38 51h0M53 62h0M69 52h0M59 48h0M53 48h0M53 18h0M33 22h0M53 72h0M53 32h0M53 35h0M43 33h0M53 53h0M48 40h0M23 52h0M33 38h0M28 40h0M43 30h0M23 60h0M53 26h0M53 65h0M53 25h0M53 67h0M43 40h0M23 47h0"/><path transform="scale(.5) rotate(45)" stroke="#fff" stroke-opacity="0.6" stroke-width="6.5" stroke-linecap="square" d="M79 -11h0M84 -28h0M73 -24h0M80 -18h0M71 2h0M76 -7h0M78 -20h0M68 0h0M74 -1h0M69 1h0M78 10h0M79 -18h0M57 -11h0M79 -19h0M61 -8h0M92 -5h0M61 -7h0M58 -10h0"/><path transform="scale(.5) rotate(45)" stroke="#1818d8" stroke-width="5.6" stroke-linecap="square" d="M79 -11h0M84 -28h0M73 -24h0M80 -18h0M71 2h0M76 -7h0M78 -20h0M68 0h0M74 -1h0M69 1h0M78 10h0M79 -18h0M57 -11h0M79 -19h0M61 -8h0M92 -5h0M61 -7h0M58 -10h0"/><path transform="scale(.5) rotate(45)" stroke="#fff" stroke-opacity="0.6" stroke-width="6.5" stroke-linecap="square" d="M80 -24h0M62 -6h0M87 -25h0M86 -18h0M82 -8h0M74 -9h0M70 -6h0M83 -21h0M53 -8h0M73 -2h0M55 -21h0M61 -14h0M77 -12h0M65 -4h0M68 -8h0M67 -23h0M82 -22h0M84 -13h0"/><path transform="scale(.5) rotate(45)" stroke="#1818d8" stroke-width="5.6" stroke-linecap="square" d="M80 -24h0M62 -6h0M87 -25h0M86 -18h0M82 -8h0M74 -9h0M70 -6h0M83 -21h0M53 -8h0M73 -2h0M55 -21h0M61 -14h0M77 -12h0M65 -4h0M68 -8h0M67 -23h0M82 -22h0M84 -13h0"/><path transform="scale(.5) rotate(45)" stroke="#fff" stroke-opacity="0.6" stroke-width="6.5" stroke-linecap="square" d="M74 -37h0M59 -10h0M83 -14h0M92 -19h0M73 -17h0M73 12h0M86 -11h0M65 -11h0M72 -3h0M68 -1h0M69 -7h0M75 -8h0M61 7h0M67 -1h0M82 6h0M70 -27h0M78 -19h0"/><path transform="scale(.5) rotate(45)" stroke="#1818d8" stroke-width="5.6" stroke-linecap="square" d="M74 -37h0M59 -10h0M83 -14h0M92 -19h0M73 -17h0M73 12h0M86 -11h0M65 -11h0M72 -3h0M68 -1h0M69 -7h0M75 -8h0M61 7h0M67 -1h0M82 6h0M70 -27h0M78 -19h0"/><path transform="scale(.5) rotate(45)" stroke="#fff" stroke-opacity="0.6" stroke-width="6.5" stroke-linecap="square" d="M70 -20h0M77 -27h0M90 -21h0M65 -3h0M76 -14h0M61 0h0M64 -5h0M69 -14h0M82 -29h0M84 8h0M67 -9h0M75 -1h0M67 -8h0M74 -16h0M46 -23h0M97 -15h0M73 -16h0"/><path transform="scale(.5) rotate(45)" stroke="#1818d8" stroke-width="5.6" stroke-linecap="square" d="M70 -20h0M77 -27h0M90 -21h0M65 -3h0M76 -14h0M61 0h0M64 -5h0M69 -14h0M82 -29h0M84 8h0M67 -9h0M75 -1h0M67 -8h0M74 -16h0M46 -23h0M97 -15h0M73 -16h0"/></svg><rect x="214.00" y="317.60" width="43.6" height="42.5" fill="#eaeaf2"/><path d="M217.27 317.60V360.10M253.60 317.60V360.10M214.00 359.65H257.60M214.00 337.28H257.60" stroke="#f4f4f8" stroke-width="0.6" fill="none"/><svg x="214.00" y="317.60" width="43.6" height="42.5" overflow="hidden"><path transform="scale(.5)" stroke="#fff" stroke-opacity="0.6" stroke-width="6.9" stroke-linecap="square" d="M7 48h0M7 42h0M7 41h0M7 71h0M7 62h0M7 37h0M7 54h0M7 58h0M7 44h0M7 39h0M7 26h0M7 24h0M7 66h0"/><path transform="scale(.5)" stroke="#d81818" stroke-width="6.0" stroke-linecap="square" d="M7 48h0M7 42h0M7 41h0M7 71h0M7 62h0M7 37h0M7 54h0M7 58h0M7 44h0M7 39h0M7 26h0M7 24h0M7 66h0"/><path transform="scale(.5)" stroke="#fff" stroke-opacity="0.6" stroke-width="6.9" stroke-linecap="square" d="M7 55h0M7 49h0M7 56h0M7 20h0M7 63h0M7 73h0M7 22h0M7 32h0M7 78h0M7 31h0M7 76h0M7 25h0M7 47h0"/><path transform="scale(.5)" stroke="#d81818" stroke-width="6.0" stroke-linecap="square" d="M7 55h0M7 49h0M7 56h0M7 20h0M7 63h0M7 73h0M7 22h0M7 32h0M7 78h0M7 31h0M7 76h0M7 25h0M7 47h0"/><path transform="scale(.5)" stroke="#fff" stroke-opacity="0.6" stroke-width="6.9" stroke-linecap="square" d="M7 51h0M7 50h0M7 38h0M7 28h0M7 53h0M7 64h0M7 34h0M7 57h0M7 33h0M7 30h0M7 16h0M7 68h0M7 36h0"/><path transform="scale(.5)" stroke="#d81818" stroke-width="6.0" stroke-linecap="square" d="M7 51h0M7 50h0M7 38h0M7 28h0M7 53h0M7 64h0M7 34h0M7 57h0M7 33h0M7 30h0M7 16h0M7 68h0M7 36h0"/><path transform="scale(.5)" stroke="#fff" stroke-opacity="0.6" stroke-width="6.9" stroke-linecap="square" d="M7 46h0M7 67h0M7 52h0M7 45h0M7 40h0M7 18h0M7 72h0M7 35h0M7 81h0M7 60h0M7 65h0M7 59h0"/><path transform="scale(.5)" stroke="#d81818" stroke-width="6.0" stroke-linecap="square" d="M7 46h0M7 67h0M7 52h0M7 45h0M7 40h0M7 18h0M7 72h0M7 35h0M7 81h0M7 60h0M7 65h0M7 59h0"/><path transform="scale(.5) rotate(45)" stroke="#fff" stroke-opacity="0.6" stroke-width="6.5" stroke-linecap="square" d="M90 -22h0M35 14h0M37 13h0M42 20h0M36 26h0M47 38h0M42 33h0M40 31h0M48 39h0M35 25h0M33 24h0M26 17h0"/><path transform="scale(.5) rotate(45)" stroke="#1818d8" stroke-width="5.6" stroke-linecap="square" d="M90 -22h0M35 14h0M37 13h0M42 20h0M36 26h0M47 38h0M42 33h0M40 31h0M48 39h0M35 25h0M33 24h0M26 17h0"/><path transform="scale(.5) rotate(45)" stroke="#fff" stroke-opacity="0.6" stroke-width="6.5" stroke-linecap="square" d="M84 -28h0M35 21h0M41 21h0M42 27h0M39 30h0M35 26h0M34 25h0M36 27h0M21 12h0M28 19h0M49 39h0M46 36h0"/><path transform="scale(.5) rotate(45)" stroke="#1818d8" stroke-width="5.6" stroke-linecap="square" d="M84 -28h0M35 21h0M41 21h0M42 27h0M39 30h0M35 26h0M34 25h0M36 27h0M21 12h0M28 19h0M49 39h0M46 36h0"/><path transform="scale(.5) rotate(45)" stroke="#fff" stroke-opacity="0.6" stroke-width="6.5" stroke-linecap="square" d="M74 -38h0M38 18h0M43 25h0M46 23h0M32 23h0M34 24h0M31 22h0M38 29h0M33 23h0M28 18h0M16 7h0M29 20h0"/><path transform="scale(.5) rotate(45)" stroke="#1818d8" stroke-width="5.6" stroke-linecap="square" d="M74 -38h0M38 18h0M43 25h0M46 23h0M32 23h0M34 24h0M31 22h0M38 29h0M33 23h0M28 18h0M16 7h0M29 20h0"/><path transform="scale(.5) rotate(45)" stroke="#fff" stroke-opacity="0.6" stroke-width="6.5" stroke-linecap="square" d="M35 15h0M32 18h0M45 24h0M41 32h0M37 28h0M37 27h0M27 18h0M51 41h0M39 29h0M38 28h0M27 17h0"/><path transform="scale(.5) rotate(45)" stroke="#1818d8" stroke-width="5.6" stroke-linecap="square" d="M35 15h0M32 18h0M45 24h0M41 32h0M37 28h0M37 27h0M27 18h0M51 41h0M39 29h0M38 28h0M27 17h0"/></svg><rect x="275.50" y="317.60" width="43.6" height="42.5" fill="#eaeaf2"/><path d="M279.03 317.60V360.10M311.09 317.60V360.10M275.50 359.65H319.10M275.50 337.28H319.10" stroke="#f4f4f8" stroke-width="0.6" fill="none"/><svg x="275.50" y="317.60" width="43.6" height="42.5" overflow="hidden"><path transform="scale(.5)" stroke="#fff" stroke-opacity="0.6" stroke-width="6.9" stroke-linecap="square" d="M7 48h0M65 42h0M7 41h0M7 38h0M7 51h0M7 63h0M7 55h0M7 54h0M7 58h0M7 44h0M7 39h0M7 26h0M7 24h0M7 66h0"/><path transform="scale(.5)" stroke="#d81818" stroke-width="6.0" stroke-linecap="square" d="M7 48h0M65 42h0M7 41h0M7 38h0M7 51h0M7 63h0M7 55h0M7 54h0M7 58h0M7 44h0M7 39h0M7 26h0M7 24h0M7 66h0"/><path transform="scale(.5)" stroke="#fff" stroke-opacity="0.6" stroke-width="6.9" stroke-linecap="square" d="M71 55h0M7 49h0M7 56h0M7 52h0M7 28h0M7 53h0M7 73h0M7 22h0M7 32h0M7 78h0M7 31h0M7 76h0M7 25h0M7 47h0"/><path transform="scale(.5)" stroke="#d81818" stroke-width="6.0" stroke-linecap="square" d="M71 55h0M7 49h0M7 56h0M7 52h0M7 28h0M7 53h0M7 73h0M7 22h0M7 32h0M7 78h0M7 31h0M7 76h0M7 25h0M7 47h0"/><path transform="scale(.5)" stroke="#fff" stroke-opacity="0.6" stroke-width="6.9" stroke-linecap="square" d="M56 51h0M7 50h0M7 46h0M7 71h0M7 45h0M7 40h0M7 64h0M7 34h0M7 57h0M7 33h0M7 30h0M7 16h0M7 68h0M7 36h0"/><path transform="scale(.5)" stroke="#d81818" stroke-width="6.0" stroke-linecap="square" d="M56 51h0M7 50h0M7 46h0M7 71h0M7 45h0M7 40h0M7 64h0M7 34h0M7 57h0M7 33h0M7 30h0M7 16h0M7 68h0M7 36h0"/><path transform="scale(.5)" stroke="#fff" stroke-opacity="0.6" stroke-width="6.9" stroke-linecap="square" d="M48 46h0M7 67h0M7 42h0M7 20h0M7 62h0M7 37h0M7 18h0M7 72h0M7 35h0M7 81h0M7 60h0M7 65h0M7 59h0"/><path transform="scale(.5)" stroke="#d81818" stroke-width="6.0" stroke-linecap="square" d="M48 46h0M7 67h0M7 42h0M7 20h0M7 62h0M7 37h0M7 18h0M7 72h0M7 35h0M7 81h0M7 60h0M7 65h0M7 59h0"/><path transform="scale(.5) rotate(45)" stroke="#fff" stroke-opacity="0.6" stroke-width="6.5" stroke-linecap="square" d="M39 29h0M36 26h0M79 -11h0M77 -15h0M34 24h0M41 31h0M51 41h0M16 7h0M46 36h0"/><path transform="scale(.5) rotate(45)" stroke="#1818d8" stroke-width="5.6" stroke-linecap="square" d="M39 29h0M36 26h0M79 -11h0M77 -15h0M34 24h0M41 31h0M51 41h0M16 7h0M46 36h0"/><path transform="scale(.5) rotate(45)" stroke="#fff" stroke-opacity="0.6" stroke-width="6.5" stroke-linecap="square" d="M33 23h0M81 -7h0M72 -16h0M38 28h0M37 27h0M28 18h0M49 39h0M48 38h0M29 19h0"/><path transform="scale(.5) rotate(45)" stroke="#1818d8" stroke-width="5.6" stroke-linecap="square" d="M33 23h0M81 -7h0M72 -16h0M38 28h0M37 27h0M28 18h0M49 39h0M48 38h0M29 19h0"/><path transform="scale(.5) rotate(45)" stroke="#fff" stroke-opacity="0.6" stroke-width="6.5" stroke-linecap="square" d="M23 13h0M75 -13h0M92 -18h0M47 37h0M42 32h0M40 30h0M22 12h0M27 17h0"/><path transform="scale(.5) rotate(45)" stroke="#1818d8" stroke-width="5.6" stroke-linecap="square" d="M23 13h0M75 -13h0M92 -18h0M47 37h0M42 32h0M40 30h0M22 12h0M27 17h0"/><path transform="scale(.5) rotate(45)" stroke="#fff" stroke-opacity="0.6" stroke-width="6.5" stroke-linecap="square" d="M30 20h0M82 -9h0M65 -10h0M35 25h0M32 22h0M31 21h0M37 28h0M26 16h0"/><path transform="scale(.5) rotate(45)" stroke="#1818d8" stroke-width="5.6" stroke-linecap="square" d="M30 20h0M82 -9h0M65 -10h0M35 25h0M32 22h0M31 21h0M37 28h0M26 16h0"/></svg><rect x="337.00" y="317.60" width="43.6" height="42.5" fill="#eaeaf2"/><path d="M337.46 317.60V360.10M360.41 317.60V360.10M337.00 359.65H380.60M337.00 337.28H380.60" stroke="#f4f4f8" stroke-width="0.6" fill="none"/><svg x="337.00" y="317.60" width="43.6" height="42.5" overflow="hidden"><g transform="translate(-337.00,-317.60)"><rect x="339.50" y="359.50" width="3.65" height="0.60" fill="#e00000"/><rect x="343.10" y="358.80" width="3.65" height="1.30" fill="#e00000"/><rect x="346.70" y="358.30" width="3.65" height="1.80" fill="#e00000"/><rect x="350.30" y="357.30" width="3.65" height="2.80" fill="#e00000"/><rect x="350.30" y="356.60" width="3.65" height="0.72" fill="#0000ee"/><rect x="353.90" y="343.70" width="3.65" height="16.40" fill="#e00000"/><rect x="353.90" y="337.30" width="3.65" height="6.42" fill="#0000ee"/><rect x="357.50" y="358.00" width="3.65" height="2.10" fill="#e00000"/><rect x="357.50" y="355.40" width="3.65" height="2.62" fill="#0000ee"/><rect x="361.10" y="358.70" width="3.65" height="1.40" fill="#e00000"/><rect x="361.10" y="358.00" width="3.65" height="0.72" fill="#0000ee"/><rect x="364.70" y="359.60" width="3.65" height="0.50" fill="#e00000"/><rect x="364.70" y="359.40" width="3.65" height="0.22" fill="#0000ee"/><rect x="368.30" y="359.70" width="3.65" height="0.40" fill="#e00000"/><rect x="371.90" y="360.00" width="3.65" height="0.10" fill="#e00000"/></g></svg><text x="26.40" y="50.16" text-anchor="end" class="tk">0.0</text><text x="26.40" y="28.89" text-anchor="end" class="tk">0.5</text><text transform="translate(13.37,29.85) rotate(-90)" text-anchor="middle" class="lb">age</text><text x="26.40" y="111.73" text-anchor="end" class="tk">0.0</text><text x="26.40" y="82.01" text-anchor="end" class="tk">0.5</text><text transform="translate(13.37,91.75) rotate(-90)" text-anchor="middle" class="lb">fnlwgt</text><text x="26.40" y="175.60" text-anchor="end" class="tk">0</text><text x="26.40" y="138.48" text-anchor="end" class="tk">1</text><text transform="translate(19.91,153.65) rotate(-90)" text-anchor="middle" class="lb">education.num</text><text x="26.40" y="235.61" text-anchor="end" class="tk">0</text><text x="26.40" y="200.20" text-anchor="end" class="tk">1</text><text transform="translate(19.91,215.55) rotate(-90)" text-anchor="middle" class="lb">capital.gain</text><text x="26.40" y="297.26" text-anchor="end" class="tk">0.0</text><text x="26.40" y="266.01" text-anchor="end" class="tk">0.5</text><text transform="translate(13.37,277.45) rotate(-90)" text-anchor="middle" class="lb">capital.loss</text><text x="26.40" y="362.15" text-anchor="end" class="tk">0.0</text><text x="26.40" y="339.78" text-anchor="end" class="tk">0.5</text><text transform="translate(13.37,339.35) rotate(-90)" text-anchor="middle" class="lb">hours.per.week</text><text x="32.51" y="367.20" text-anchor="middle" class="tk">0.0</text><text x="54.33" y="367.20" text-anchor="middle" class="tk">0.5</text><text x="51.30" y="375.80" text-anchor="middle" class="lb">age</text><text x="94.35" y="367.20" text-anchor="middle" class="tk">0.0</text><text x="124.84" y="367.20" text-anchor="middle" class="tk">0.5</text><text x="112.80" y="375.80" text-anchor="middle" class="lb">fnlwgt</text><text x="153.83" y="367.20" text-anchor="middle" class="tk">0</text><text x="191.91" y="367.20" text-anchor="middle" class="tk">1</text><text x="174.30" y="375.80" text-anchor="middle" class="lb">education.num</text><text x="217.27" y="367.20" text-anchor="middle" class="tk">0</text><text x="253.60" y="367.20" text-anchor="middle" class="tk">1</text><text x="235.80" y="375.80" text-anchor="middle" class="lb">capital.gain</text><text x="279.03" y="367.20" text-anchor="middle" class="tk">0.0</text><text x="311.09" y="367.20" text-anchor="middle" class="tk">0.5</text><text x="297.30" y="375.80" text-anchor="middle" class="lb">capital.loss</text><text x="337.46" y="367.20" text-anchor="middle" class="tk">0.0</text><text x="360.41" y="367.20" text-anchor="middle" class="tk">0.5</text><text x="358.80" y="375.80" text-anchor="middle" class="lb">hours.per.week</text><rect x="417.00" y="11.80" width="42.6" height="41.2" fill="#eaeaf2"/><path d="M419.43 11.80V53.00M460.01 11.80V53.00M417.00 50.65H459.60M417.00 11.41H459.60" stroke="#f4f4f8" stroke-width="0.6" fill="none"/><svg x="417.00" y="11.80" width="42.6" height="41.2" overflow="hidden"><g transform="translate(-417.00,-11.80)"><rect x="419.80" y="47.50" width="3.95" height="5.50" fill="#e00000"/><rect x="423.70" y="46.80" width="3.95" height="6.20" fill="#e00000"/><rect x="423.70" y="45.40" width="3.95" height="1.42" fill="#0000ee"/><rect x="427.60" y="47.00" width="3.95" height="6.00" fill="#e00000"/><rect x="427.60" y="45.40" width="3.95" height="1.62" fill="#0000ee"/><rect x="431.50" y="48.30" width="3.95" height="4.70" fill="#e00000"/><rect x="431.50" y="46.40" width="3.95" height="1.92" fill="#0000ee"/><rect x="435.40" y="49.20" width="3.95" height="3.80" fill="#e00000"/><rect x="435.40" y="47.60" width="3.95" height="1.62" fill="#0000ee"/><rect x="439.30" y="49.90" width="3.95" height="3.10" fill="#e00000"/><rect x="439.30" y="48.50" width="3.95" height="1.42" fill="#0000ee"/><rect x="443.20" y="51.00" width="3.95" height="2.00" fill="#e00000"/><rect x="443.20" y="50.50" width="3.95" height="0.52" fill="#0000ee"/><rect x="447.10" y="52.20" width="3.95" height="0.80" fill="#e00000"/><rect x="447.10" y="52.00" width="3.95" height="0.22" fill="#0000ee"/><rect x="451.00" y="52.50" width="3.95" height="0.50" fill="#e00000"/><rect x="454.90" y="52.70" width="3.95" height="0.30" fill="#e00000"/></g></svg><rect x="477.45" y="11.80" width="42.6" height="41.2" fill="#eaeaf2"/><path d="M488.10 11.80V53.00M516.13 11.80V53.00M477.45 50.65H520.05M477.45 11.41H520.05" stroke="#f4f4f8" stroke-width="0.6" fill="none"/><svg x="477.45" y="11.80" width="42.6" height="41.2" overflow="hidden"><path transform="scale(.5)" stroke="#fff" stroke-opacity="0.6" stroke-width="6.9" stroke-linecap="square" d="M77 70h0M34 65h0M37 63h0M41 73h0M34 68h0M47 73h0M40 78h0M34 79h0M36 67h0M31 72h0M38 73h0M12 70h0M30 78h0M34 66h0M28 30h0M21 29h0M29 11h0M30 4h0M26 7h0M32 46h0M40 65h0M39 64h0M34 40h0M40 48h0M29 63h0M28 60h0M27 61h0M32 36h0M24 63h0M36 49h0M37 58h0M28 33h0"/><path transform="scale(.5)" stroke="#d81818" stroke-width="6.0" stroke-linecap="square" d="M77 70h0M34 65h0M37 63h0M41 73h0M34 68h0M47 73h0M40 78h0M34 79h0M36 67h0M31 72h0M38 73h0M12 70h0M30 78h0M34 66h0M28 30h0M21 29h0M29 11h0M30 4h0M26 7h0M32 46h0M40 65h0M39 64h0M34 40h0M40 48h0M29 63h0M28 60h0M27 61h0M32 36h0M24 63h0M36 49h0M37 58h0M28 33h0"/><path transform="scale(.5)" stroke="#fff" stroke-opacity="0.6" stroke-width="6.9" stroke-linecap="square" d="M74 76h0M25 67h0M35 70h0M30 69h0M38 71h0M53 69h0M26 71h0M42 72h0M35 66h0M32 72h0M40 76h0M42 73h0M42 74h0M36 71h0M30 6h0M27 9h0M25 9h0M26 24h0M28 28h0M37 57h0M24 53h0M46 40h0M33 44h0M38 38h0M38 53h0M35 58h0M59 55h0M31 56h0M51 65h0M30 60h0M42 46h0"/><path transform="scale(.5)" stroke="#d81818" stroke-width="6.0" stroke-linecap="square" d="M74 76h0M25 67h0M35 70h0M30 69h0M38 71h0M53 69h0M26 71h0M42 72h0M35 66h0M32 72h0M40 76h0M42 73h0M42 74h0M36 71h0M30 6h0M27 9h0M25 9h0M26 24h0M28 28h0M37 57h0M24 53h0M46 40h0M33 44h0M38 38h0M38 53h0M35 58h0M59 55h0M31 56h0M51 65h0M30 60h0M42 46h0"/><path transform="scale(.5)" stroke="#fff" stroke-opacity="0.6" stroke-width="6.9" stroke-linecap="square" d="M38 69h0M35 74h0M29 70h0M44 70h0M33 76h0M24 74h0M28 78h0M33 70h0M27 76h0M27 79h0M28 73h0M33 68h0M34 70h0M46 72h0M40 17h0M23 23h0M27 20h0M34 29h0M29 29h0M58 57h0M48 39h0M24 42h0M39 53h0M37 32h0M37 45h0M46 36h0M39 56h0M28 46h0M57 41h0M58 54h0M48 36h0"/><path transform="scale(.5)" stroke="#d81818" stroke-width="6.0" stroke-linecap="square" d="M38 69h0M35 74h0M29 70h0M44 70h0M33 76h0M24 74h0M28 78h0M33 70h0M27 76h0M27 79h0M28 73h0M33 68h0M34 70h0M46 72h0M40 17h0M23 23h0M27 20h0M34 29h0M29 29h0M58 57h0M48 39h0M24 42h0M39 53h0M37 32h0M37 45h0M46 36h0M39 56h0M28 46h0M57 41h0M58 54h0M48 36h0"/><path transform="scale(.5)" stroke="#fff" stroke-opacity="0.6" stroke-width="6.9" stroke-linecap="square" d="M21 73h0M36 74h0M37 74h0M33 75h0M36 69h0M41 71h0M29 72h0M36 76h0M29 75h0M41 70h0M36 68h0M44 74h0M25 73h0M28 71h0M27 17h0M27 18h0M22 29h0M33 14h0M32 12h0M36 39h0M40 55h0M25 61h0M29 46h0M34 54h0M11 57h0M39 41h0M43 62h0M35 52h0M21 44h0M25 48h0M51 60h0"/><path transform="scale(.5)" stroke="#d81818" stroke-width="6.0" stroke-linecap="square" d="M21 73h0M36 74h0M37 74h0M33 75h0M36 69h0M41 71h0M29 72h0M36 76h0M29 75h0M41 70h0M36 68h0M44 74h0M25 73h0M28 71h0M27 17h0M27 18h0M22 29h0M33 14h0M32 12h0M36 39h0M40 55h0M25 61h0M29 46h0M34 54h0M11 57h0M39 41h0M43 62h0M35 52h0M21 44h0M25 48h0M51 60h0"/><path transform="scale(.5) rotate(45)" stroke="#fff" stroke-opacity="0.6" stroke-width="6.5" stroke-linecap="square" d="M42 12h0M38 9h0M48 18h0M42 8h0M61 10h0M50 11h0M39 -7h0M60 21h0M64 18h0M32 9h0M69 12h0M39 7h0M37 4h0M52 14h0M48 14h0M42 13h0M49 19h0M58 1h0M61 21h0M63 11h0M37 -5h0M48 -3h0M64 20h0M47 13h0M56 15h0M45 -1h0M47 1h0M54 16h0M61 7h0M41 14h0M44 19h0M35 18h0M70 7h0"/><path transform="scale(.5) rotate(45)" stroke="#1818d8" stroke-width="5.6" stroke-linecap="square" d="M42 12h0M38 9h0M48 18h0M42 8h0M61 10h0M50 11h0M39 -7h0M60 21h0M64 18h0M32 9h0M69 12h0M39 7h0M37 4h0M52 14h0M48 14h0M42 13h0M49 19h0M58 1h0M61 21h0M63 11h0M37 -5h0M48 -3h0M64 20h0M47 13h0M56 15h0M45 -1h0M47 1h0M54 16h0M61 7h0M41 14h0M44 19h0M35 18h0M70 7h0"/><path transform="scale(.5) rotate(45)" stroke="#fff" stroke-opacity="0.6" stroke-width="6.5" stroke-linecap="square" d="M68 15h0M76 15h0M61 15h0M47 19h0M55 12h0M58 3h0M61 17h0M47 3h0M50 10h0M52 13h0M37 11h0M48 12h0M69 25h0M65 10h0M59 13h0M44 5h0M57 2h0M59 9h0M69 4h0M51 7h0M54 3h0M63 18h0M53 -7h0M75 26h0M56 14h0M45 11h0M46 11h0M73 8h0M58 21h0M45 4h0M60 18h0M53 5h0M73 19h0"/><path transform="scale(.5) rotate(45)" stroke="#1818d8" stroke-width="5.6" stroke-linecap="square" d="M68 15h0M76 15h0M61 15h0M47 19h0M55 12h0M58 3h0M61 17h0M47 3h0M50 10h0M52 13h0M37 11h0M48 12h0M69 25h0M65 10h0M59 13h0M44 5h0M57 2h0M59 9h0M69 4h0M51 7h0M54 3h0M63 18h0M53 -7h0M75 26h0M56 14h0M45 11h0M46 11h0M73 8h0M58 21h0M45 4h0M60 18h0M53 5h0M73 19h0"/><path transform="scale(.5) rotate(45)" stroke="#fff" stroke-opacity="0.6" stroke-width="6.5" stroke-linecap="square" d="M41 19h0M38 7h0M59 17h0M50 3h0M58 10h0M49 3h0M45 -2h0M52 7h0M64 14h0M72 26h0M62 12h0M48 10h0M53 28h0M74 -1h0M56 6h0M58 14h0M48 27h0M51 17h0M58 -2h0M32 4h0M47 -4h0M51 8h0M51 4h0M48 11h0M58 18h0M56 17h0M56 4h0M57 37h0M41 10h0M51 9h0M55 15h0M56 5h0M40 5h0"/><path transform="scale(.5) rotate(45)" stroke="#1818d8" stroke-width="5.6" stroke-linecap="square" d="M41 19h0M38 7h0M59 17h0M50 3h0M58 10h0M49 3h0M45 -2h0M52 7h0M64 14h0M72 26h0M62 12h0M48 10h0M53 28h0M74 -1h0M56 6h0M58 14h0M48 27h0M51 17h0M58 -2h0M32 4h0M47 -4h0M51 8h0M51 4h0M48 11h0M58 18h0M56 17h0M56 4h0M57 37h0M41 10h0M51 9h0M55 15h0M56 5h0M40 5h0"/><path transform="scale(.5) rotate(45)" stroke="#fff" stroke-opacity="0.6" stroke-width="6.5" stroke-linecap="square" d="M43 23h0M51 13h0M69 18h0M52 -2h0M34 13h0M49 15h0M33 9h0M48 2h0M61 8h0M66 19h0M58 30h0M57 19h0M53 23h0M33 -4h0M65 18h0M36 11h0M65 21h0M70 11h0M50 9h0M58 4h0M65 6h0M71 24h0M51 -8h0M56 16h0M71 7h0M61 9h0M57 26h0M44 6h0M23 8h0M41 -1h0M35 6h0M58 -8h0"/><path transform="scale(.5) rotate(45)" stroke="#1818d8" stroke-width="5.6" stroke-linecap="square" d="M43 23h0M51 13h0M69 18h0M52 -2h0M34 13h0M49 15h0M33 9h0M48 2h0M61 8h0M66 19h0M58 30h0M57 19h0M53 23h0M33 -4h0M65 18h0M36 11h0M65 21h0M70 11h0M50 9h0M58 4h0M65 6h0M71 24h0M51 -8h0M56 16h0M71 7h0M61 9h0M57 26h0M44 6h0M23 8h0M41 -1h0M35 6h0M58 -8h0"/></svg><rect x="537.90" y="11.80" width="42.6" height="41.2" fill="#eaeaf2"/><path d="M538.17 11.80V53.00M564.79 11.80V53.00M537.90 50.65H580.50M537.90 11.41H580.50" stroke="#f4f4f8" stroke-width="0.6" fill="none"/><svg x="537.90" y="11.80" width="42.6" height="41.2" overflow="hidden"><path transform="scale(.5)" stroke="#fff" stroke-opacity="0.6" stroke-width="6.9" stroke-linecap="square" d="M27 70h0M22 65h0M20 63h0M1 73h0M22 68h0M22 73h0M20 78h0M26 72h0M17 67h0M43 74h0M20 70h0M40 73h0M31 69h0M19 73h0M26 71h0M43 17h0M21 23h0M8 20h0M18 29h0M15 29h0M8 57h0M18 53h0M32 40h0M33 44h0M30 38h0M24 53h0M26 58h0M20 55h0M38 56h0M30 65h0M29 54h0M17 36h0"/><path transform="scale(.5)" stroke="#d81818" stroke-width="6.0" stroke-linecap="square" d="M27 70h0M22 65h0M20 63h0M1 73h0M22 68h0M22 73h0M20 78h0M26 72h0M17 67h0M43 74h0M20 70h0M40 73h0M31 69h0M19 73h0M26 71h0M43 17h0M21 23h0M8 20h0M18 29h0M15 29h0M8 57h0M18 53h0M32 40h0M33 44h0M30 38h0M24 53h0M26 58h0M20 55h0M38 56h0M30 65h0M29 54h0M17 36h0"/><path transform="scale(.5)" stroke="#fff" stroke-opacity="0.6" stroke-width="6.9" stroke-linecap="square" d="M14 76h0M26 67h0M1 70h0M26 69h0M18 71h0M21 69h0M35 71h0M15 70h0M12 66h0M19 72h0M29 73h0M26 68h0M14 74h0M27 66h0M28 75h0M15 17h0M13 18h0M27 29h0M10 14h0M23 12h0M37 39h0M29 39h0M21 42h0M23 53h0M36 32h0M29 45h0M33 36h0M24 56h0M18 46h0M24 41h0M17 48h0M15 60h0"/><path transform="scale(.5)" stroke="#d81818" stroke-width="6.0" stroke-linecap="square" d="M14 76h0M26 67h0M1 70h0M26 69h0M18 71h0M21 69h0M35 71h0M15 70h0M12 66h0M19 72h0M29 73h0M26 68h0M14 74h0M27 66h0M28 75h0M15 17h0M13 18h0M27 29h0M10 14h0M23 12h0M37 39h0M29 39h0M21 42h0M23 53h0M36 32h0M29 45h0M33 36h0M24 56h0M18 46h0M24 41h0M17 48h0M15 60h0"/><path transform="scale(.5)" stroke="#fff" stroke-opacity="0.6" stroke-width="6.9" stroke-linecap="square" d="M1 69h0M2 74h0M24 70h0M19 70h0M21 76h0M9 74h0M20 72h0M33 68h0M29 76h0M28 72h0M24 76h0M16 73h0M21 78h0M25 71h0M9 30h0M23 29h0M24 11h0M16 4h0M21 7h0M14 46h0M26 65h0M23 55h0M22 61h0M25 46h0M17 54h0M36 57h0M14 41h0M26 62h0M22 52h0M27 44h0M25 58h0M34 33h0"/><path transform="scale(.5)" stroke="#d81818" stroke-width="6.0" stroke-linecap="square" d="M1 69h0M2 74h0M24 70h0M19 70h0M21 76h0M9 74h0M20 72h0M33 68h0M29 76h0M28 72h0M24 76h0M16 73h0M21 78h0M25 71h0M9 30h0M23 29h0M24 11h0M16 4h0M21 7h0M14 46h0M26 65h0M23 55h0M22 61h0M25 46h0M17 54h0M36 57h0M14 41h0M26 62h0M22 52h0M27 44h0M25 58h0M34 33h0"/><path transform="scale(.5)" stroke="#fff" stroke-opacity="0.6" stroke-width="6.9" stroke-linecap="square" d="M9 73h0M6 74h0M28 74h0M31 75h0M28 69h0M24 71h0M15 79h0M35 76h0M14 75h0M10 79h0M16 69h0M18 68h0M30 70h0M16 72h0M23 6h0M7 9h0M17 9h0M10 24h0M17 28h0M32 57h0M22 57h0M23 64h0M28 40h0M25 48h0M23 63h0M24 60h0M18 61h0M20 36h0M33 63h0M31 49h0M11 46h0"/><path transform="scale(.5)" stroke="#d81818" stroke-width="6.0" stroke-linecap="square" d="M9 73h0M6 74h0M28 74h0M31 75h0M28 69h0M24 71h0M15 79h0M35 76h0M14 75h0M10 79h0M16 69h0M18 68h0M30 70h0M16 72h0M23 6h0M7 9h0M17 9h0M10 24h0M17 28h0M32 57h0M22 57h0M23 64h0M28 40h0M25 48h0M23 63h0M24 60h0M18 61h0M20 36h0M33 63h0M31 49h0M11 46h0"/><path transform="scale(.5) rotate(45)" stroke="#fff" stroke-opacity="0.6" stroke-width="6.5" stroke-linecap="square" d="M84 -30h0M42 5h0M65 1h0M44 5h0M71 0h0M54 8h0M40 -8h0M72 9h0M65 17h0M52 -11h0M67 14h0M60 0h0M66 -1h0M69 -4h0M43 -14h0M72 11h0M53 -5h0M55 32h0M73 8h0M62 -4h0M44 -12h0M49 -4h0M73 21h0M53 -10h0M69 3h0M51 27h0M56 14h0M66 4h0M61 7h0M47 -16h0M56 4h0M60 10h0M54 7h0M48 -3h0"/><path transform="scale(.5) rotate(45)" stroke="#1818d8" stroke-width="5.6" stroke-linecap="square" d="M84 -30h0M42 5h0M65 1h0M44 5h0M71 0h0M54 8h0M40 -8h0M72 9h0M65 17h0M52 -11h0M67 14h0M60 0h0M66 -1h0M69 -4h0M43 -14h0M72 11h0M53 -5h0M55 32h0M73 8h0M62 -4h0M44 -12h0M49 -4h0M73 21h0M53 -10h0M69 3h0M51 27h0M56 14h0M66 4h0M61 7h0M47 -16h0M56 4h0M60 10h0M54 7h0M48 -3h0"/><path transform="scale(.5) rotate(45)" stroke="#fff" stroke-opacity="0.6" stroke-width="6.5" stroke-linecap="square" d="M59 24h0M80 11h0M76 0h0M64 2h0M61 6h0M57 4h0M68 9h0M51 -1h0M66 -6h0M48 17h0M48 -1h0M48 10h0M68 26h0M58 -7h0M64 -2h0M57 -2h0M53 15h0M65 -5h0M55 26h0M62 12h0M53 3h0M68 13h0M70 14h0M57 3h0M54 17h0M48 -4h0M58 -9h0M71 10h0M58 12h0M52 3h0M49 -8h0M51 -10h0M56 -6h0"/><path transform="scale(.5) rotate(45)" stroke="#1818d8" stroke-width="5.6" stroke-linecap="square" d="M59 24h0M80 11h0M76 0h0M64 2h0M61 6h0M57 4h0M68 9h0M51 -1h0M66 -6h0M48 17h0M48 -1h0M48 10h0M68 26h0M58 -7h0M64 -2h0M57 -2h0M53 15h0M65 -5h0M55 26h0M62 12h0M53 3h0M68 13h0M70 14h0M57 3h0M54 17h0M48 -4h0M58 -9h0M71 10h0M58 12h0M52 3h0M49 -8h0M51 -10h0M56 -6h0"/><path transform="scale(.5) rotate(45)" stroke="#fff" stroke-opacity="0.6" stroke-width="6.5" stroke-linecap="square" d="M57 2h0M56 -11h0M63 13h0M54 -2h0M72 -3h0M47 5h0M58 -14h0M54 5h0M63 15h0M67 31h0M49 25h0M66 10h0M77 4h0M56 18h0M52 19h0M43 5h0M70 5h0M68 -1h0M73 0h0M43 -7h0M38 4h0M63 -4h0M50 -4h0M71 30h0M64 6h0M61 -5h0M47 10h0M69 24h0M59 19h0M70 -21h0M68 10h0M68 -15h0M71 7h0"/><path transform="scale(.5) rotate(45)" stroke="#1818d8" stroke-width="5.6" stroke-linecap="square" d="M57 2h0M56 -11h0M63 13h0M54 -2h0M72 -3h0M47 5h0M58 -14h0M54 5h0M63 15h0M67 31h0M49 25h0M66 10h0M77 4h0M56 18h0M52 19h0M43 5h0M70 5h0M68 -1h0M73 0h0M43 -7h0M38 4h0M63 -4h0M50 -4h0M71 30h0M64 6h0M61 -5h0M47 10h0M69 24h0M59 19h0M70 -21h0M68 10h0M68 -15h0M71 7h0"/><path transform="scale(.5) rotate(45)" stroke="#fff" stroke-opacity="0.6" stroke-width="6.5" stroke-linecap="square" d="M58 8h0M61 3h0M60 27h0M41 10h0M58 -10h0M52 12h0M40 1h0M59 -9h0M54 15h0M67 18h0M53 -7h0M48 -7h0M62 14h0M60 12h0M54 9h0M56 16h0M64 12h0M70 -3h0M57 -1h0M68 -7h0M65 6h0M66 3h0M59 -4h0M62 -3h0M61 14h0M58 16h0M50 11h0M49 1h0M44 7h0M51 10h0M62 3h0M52 6h0M81 12h0"/><path transform="scale(.5) rotate(45)" stroke="#1818d8" stroke-width="5.6" stroke-linecap="square" d="M58 8h0M61 3h0M60 27h0M41 10h0M58 -10h0M52 12h0M40 1h0M59 -9h0M54 15h0M67 18h0M53 -7h0M48 -7h0M62 14h0M60 12h0M54 9h0M56 16h0M64 12h0M70 -3h0M57 -1h0M68 -7h0M65 6h0M66 3h0M59 -4h0M62 -3h0M61 14h0M58 16h0M50 11h0M49 1h0M44 7h0M51 10h0M62 3h0M52 6h0M81 12h0"/></svg><rect x="598.35" y="11.80" width="42.6" height="41.2" fill="#eaeaf2"/><path d="M608.16 11.80V53.00M638.80 11.80V53.00M598.35 50.65H640.95M598.35 11.41H640.95" stroke="#f4f4f8" stroke-width="0.6" fill="none"/><svg x="598.35" y="11.80" width="42.6" height="41.2" overflow="hidden"><path transform="scale(.5)" stroke="#fff" stroke-opacity="0.6" stroke-width="6.9" stroke-linecap="square" d="M19 70h0M18 65h0M21 63h0M17 68h0M19 74h0M18 72h0M20 66h0M19 79h0M19 68h0M17 66h0M20 6h0M19 9h0M19 20h0M20 14h0M20 46h0M20 65h0M19 55h0M20 61h0M18 46h0M21 54h0M20 60h0M19 61h0M17 52h0M18 44h0M17 48h0"/><path transform="scale(.5)" stroke="#d81818" stroke-width="6.0" stroke-linecap="square" d="M19 70h0M18 65h0M21 63h0M17 68h0M19 74h0M18 72h0M20 66h0M19 79h0M19 68h0M17 66h0M20 6h0M19 9h0M19 20h0M20 14h0M20 46h0M20 65h0M19 55h0M20 61h0M18 46h0M21 54h0M20 60h0M19 61h0M17 52h0M18 44h0M17 48h0"/><path transform="scale(.5)" stroke="#fff" stroke-opacity="0.6" stroke-width="6.9" stroke-linecap="square" d="M17 76h0M18 67h0M19 69h0M21 71h0M18 71h0M18 79h0M18 76h0M18 70h0M20 68h0M19 71h0M17 17h0M19 23h0M19 4h0M18 7h0M19 57h0M18 57h0M19 64h0M18 40h0M20 48h0M20 63h0M19 58h0M21 55h0M18 63h0M18 49h0M18 58h0"/><path transform="scale(.5)" stroke="#d81818" stroke-width="6.0" stroke-linecap="square" d="M17 76h0M18 67h0M19 69h0M21 71h0M18 71h0M18 79h0M18 76h0M18 70h0M20 68h0M19 71h0M17 17h0M19 23h0M19 4h0M18 7h0M19 57h0M18 57h0M19 64h0M18 40h0M20 48h0M20 63h0M19 58h0M21 55h0M18 63h0M18 49h0M18 58h0"/><path transform="scale(.5)" stroke="#fff" stroke-opacity="0.6" stroke-width="6.9" stroke-linecap="square" d="M18 69h0M21 74h0M17 70h0M19 76h0M17 78h0M20 70h0M19 75h0M20 76h0M20 69h0M20 72h0M19 17h0M20 18h0M20 24h0M19 28h0M20 57h0M17 53h0M19 40h0M19 44h0M19 38h0M20 53h0M19 36h0M19 56h0M19 65h0M18 60h0M19 46h0"/><path transform="scale(.5)" stroke="#d81818" stroke-width="6.0" stroke-linecap="square" d="M18 69h0M21 74h0M17 70h0M19 76h0M17 78h0M20 70h0M19 75h0M20 76h0M20 69h0M20 72h0M19 17h0M20 18h0M20 24h0M19 28h0M20 57h0M17 53h0M19 40h0M19 44h0M19 38h0M20 53h0M19 36h0M19 56h0M19 65h0M18 60h0M19 46h0"/><path transform="scale(.5)" stroke="#fff" stroke-opacity="0.6" stroke-width="6.9" stroke-linecap="square" d="M20 73h0M20 74h0M18 75h0M19 73h0M18 78h0M18 68h0M19 72h0M18 73h0M17 74h0M19 30h0M20 29h0M19 11h0M19 29h0M19 12h0M21 39h0M20 39h0M20 42h0M19 53h0M19 32h0M18 45h0M19 41h0M19 62h0M18 41h0M19 54h0M19 33h0"/><path transform="scale(.5)" stroke="#d81818" stroke-width="6.0" stroke-linecap="square" d="M20 73h0M20 74h0M18 75h0M19 73h0M18 78h0M18 68h0M19 72h0M18 73h0M17 74h0M19 30h0M20 29h0M19 11h0M19 29h0M19 12h0M21 39h0M20 39h0M20 42h0M19 53h0M19 32h0M18 45h0M19 41h0M19 62h0M18 41h0M19 54h0M19 33h0"/><path transform="scale(.5) rotate(45)" stroke="#fff" stroke-opacity="0.6" stroke-width="6.5" stroke-linecap="square" d="M41 13h0M36 12h0M45 20h0M53 -4h0M60 11h0M52 9h0M54 24h0M40 10h0M47 13h0M56 9h0M51 23h0M44 14h0M57 37h0M39 13h0M46 16h0M59 -4h0M50 18h0M53 7h0M62 19h0M54 20h0M44 -12h0M57 25h0M59 25h0M56 5h0M51 20h0M35 9h0M43 17h0M49 19h0M29 1h0M46 15h0M52 26h0M36 17h0M56 22h0"/><path transform="scale(.5) rotate(45)" stroke="#1818d8" stroke-width="5.6" stroke-linecap="square" d="M41 13h0M36 12h0M45 20h0M53 -4h0M60 11h0M52 9h0M54 24h0M40 10h0M47 13h0M56 9h0M51 23h0M44 14h0M57 37h0M39 13h0M46 16h0M59 -4h0M50 18h0M53 7h0M62 19h0M54 20h0M44 -12h0M57 25h0M59 25h0M56 5h0M51 20h0M35 9h0M43 17h0M49 19h0M29 1h0M46 15h0M52 26h0M36 17h0M56 22h0"/><path transform="scale(.5) rotate(45)" stroke="#fff" stroke-opacity="0.6" stroke-width="6.5" stroke-linecap="square" d="M55 29h0M65 27h0M58 18h0M58 9h0M45 22h0M50 11h0M32 12h0M51 8h0M61 17h0M63 35h0M68 20h0M52 24h0M58 23h0M48 27h0M52 19h0M51 -3h0M46 13h0M51 16h0M47 26h0M53 6h0M47 10h0M45 15h0M35 10h0M68 33h0M46 24h0M39 17h0M55 15h0M54 15h0M52 2h0M44 16h0M51 14h0M40 18h0M62 31h0"/><path transform="scale(.5) rotate(45)" stroke="#1818d8" stroke-width="5.6" stroke-linecap="square" d="M55 29h0M65 27h0M58 18h0M58 9h0M45 22h0M50 11h0M32 12h0M51 8h0M61 17h0M63 35h0M68 20h0M52 24h0M58 23h0M48 27h0M52 19h0M51 -3h0M46 13h0M51 16h0M47 26h0M53 6h0M47 10h0M45 15h0M35 10h0M68 33h0M46 24h0M39 17h0M55 15h0M54 15h0M52 2h0M44 16h0M51 14h0M40 18h0M62 31h0"/><path transform="scale(.5) rotate(45)" stroke="#fff" stroke-opacity="0.6" stroke-width="6.5" stroke-linecap="square" d="M84 -25h0M41 4h0M61 15h0M47 5h0M44 25h0M43 9h0M44 -2h0M38 11h0M58 10h0M67 18h0M32 14h0M37 4h0M70 7h0M50 22h0M44 18h0M57 15h0M64 10h0M53 14h0M45 11h0M30 6h0M50 21h0M57 11h0M48 8h0M41 18h0M49 26h0M47 23h0M63 30h0M51 27h0M40 9h0M35 5h0M59 11h0M33 17h0"/><path transform="scale(.5) rotate(45)" stroke="#1818d8" stroke-width="5.6" stroke-linecap="square" d="M84 -25h0M41 4h0M61 15h0M47 5h0M44 25h0M43 9h0M44 -2h0M38 11h0M58 10h0M67 18h0M32 14h0M37 4h0M70 7h0M50 22h0M44 18h0M57 15h0M64 10h0M53 14h0M45 11h0M30 6h0M50 21h0M57 11h0M48 8h0M41 18h0M49 26h0M47 23h0M63 30h0M51 27h0M40 9h0M35 5h0M59 11h0M33 17h0"/><path transform="scale(.5) rotate(45)" stroke="#fff" stroke-opacity="0.6" stroke-width="6.5" stroke-linecap="square" d="M64 2h0M49 16h0M57 29h0M48 3h0M46 2h0M35 -4h0M55 26h0M56 26h0M39 3h0M40 7h0M44 15h0M43 22h0M55 11h0M39 -10h0M59 24h0M40 8h0M63 23h0M52 29h0M40 19h0M53 9h0M37 8h0M65 29h0M38 5h0M52 20h0M54 25h0M41 7h0M48 2h0M41 11h0M63 20h0M55 8h0M50 -9h0M54 17h0"/><path transform="scale(.5) rotate(45)" stroke="#1818d8" stroke-width="5.6" stroke-linecap="square" d="M64 2h0M49 16h0M57 29h0M48 3h0M46 2h0M35 -4h0M55 26h0M56 26h0M39 3h0M40 7h0M44 15h0M43 22h0M55 11h0M39 -10h0M59 24h0M40 8h0M63 23h0M52 29h0M40 19h0M53 9h0M37 8h0M65 29h0M38 5h0M52 20h0M54 25h0M41 7h0M48 2h0M41 11h0M63 20h0M55 8h0M50 -9h0M54 17h0"/></svg><rect x="658.80" y="11.80" width="42.6" height="41.2" fill="#eaeaf2"/><path d="M664.00 11.80V53.00M684.00 11.80V53.00M658.80 50.65H701.40M658.80 11.41H701.40" stroke="#f4f4f8" stroke-width="0.6" fill="none"/><svg x="658.80" y="11.80" width="42.6" height="41.2" overflow="hidden"><path transform="scale(.5)" stroke="#fff" stroke-opacity="0.6" stroke-width="6.9" stroke-linecap="square" d="M27 70h0M27 65h0M12 63h0M14 73h0M12 68h0M13 73h0M12 78h0M14 70h0M10 76h0M27 79h0M11 69h0M13 68h0M50 73h0M11 30h0M12 29h0M11 11h0M14 24h0M14 29h0M13 57h0M12 53h0M13 40h0M41 44h0M16 38h0M11 53h0M12 36h0M13 62h0M12 52h0M16 44h0M50 48h0"/><path transform="scale(.5)" stroke="#d81818" stroke-width="6.0" stroke-linecap="square" d="M27 70h0M27 65h0M12 63h0M14 73h0M12 68h0M13 73h0M12 78h0M14 70h0M10 76h0M27 79h0M11 69h0M13 68h0M50 73h0M11 30h0M12 29h0M11 11h0M14 24h0M14 29h0M13 57h0M12 53h0M13 40h0M41 44h0M16 38h0M11 53h0M12 36h0M13 62h0M12 52h0M16 44h0M50 48h0"/><path transform="scale(.5)" stroke="#fff" stroke-opacity="0.6" stroke-width="6.9" stroke-linecap="square" d="M33 76h0M11 67h0M11 70h0M12 69h0M14 71h0M11 74h0M33 72h0M11 68h0M11 75h0M28 70h0M11 73h0M40 78h0M34 66h0M13 6h0M15 9h0M12 20h0M15 14h0M13 12h0M13 39h0M11 39h0M31 42h0M13 53h0M11 32h0M11 45h0M23 41h0M11 36h0M56 63h0M11 49h0M13 58h0"/><path transform="scale(.5)" stroke="#d81818" stroke-width="6.0" stroke-linecap="square" d="M33 76h0M11 67h0M11 70h0M12 69h0M14 71h0M11 74h0M33 72h0M11 68h0M11 75h0M28 70h0M11 73h0M40 78h0M34 66h0M13 6h0M15 9h0M12 20h0M15 14h0M13 12h0M13 39h0M11 39h0M31 42h0M13 53h0M11 32h0M11 45h0M23 41h0M11 36h0M56 63h0M11 49h0M13 58h0"/><path transform="scale(.5)" stroke="#fff" stroke-opacity="0.6" stroke-width="6.9" stroke-linecap="square" d="M14 69h0M40 74h0M12 70h0M19 70h0M11 76h0M13 71h0M40 79h0M10 67h0M11 72h0M10 73h0M14 68h0M16 74h0M11 71h0M12 17h0M14 23h0M13 29h0M11 7h0M10 46h0M14 65h0M12 55h0M32 61h0M11 46h0M14 54h0M12 60h0M12 61h0M13 56h0M12 65h0M38 60h0M13 60h0"/><path transform="scale(.5)" stroke="#d81818" stroke-width="6.0" stroke-linecap="square" d="M14 69h0M40 74h0M12 70h0M19 70h0M11 76h0M13 71h0M40 79h0M10 67h0M11 72h0M10 73h0M14 68h0M16 74h0M11 71h0M12 17h0M14 23h0M13 29h0M11 7h0M10 46h0M14 65h0M12 55h0M32 61h0M11 46h0M14 54h0M12 60h0M12 61h0M13 56h0M12 65h0M38 60h0M13 60h0"/><path transform="scale(.5)" stroke="#fff" stroke-opacity="0.6" stroke-width="6.9" stroke-linecap="square" d="M12 73h0M13 74h0M28 74h0M27 75h0M18 69h0M10 78h0M10 72h0M11 66h0M13 72h0M12 76h0M13 70h0M32 70h0M13 75h0M11 17h0M12 18h0M12 4h0M12 28h0M15 57h0M12 57h0M11 64h0M29 40h0M18 48h0M25 63h0M12 58h0M12 56h0M41 46h0M11 41h0M12 54h0M37 33h0"/><path transform="scale(.5)" stroke="#d81818" stroke-width="6.0" stroke-linecap="square" d="M12 73h0M13 74h0M28 74h0M27 75h0M18 69h0M10 78h0M10 72h0M11 66h0M13 72h0M12 76h0M13 70h0M32 70h0M13 75h0M11 17h0M12 18h0M12 4h0M12 28h0M15 57h0M12 57h0M11 64h0M29 40h0M18 48h0M25 63h0M12 58h0M12 56h0M41 46h0M11 41h0M12 54h0M37 33h0"/><path transform="scale(.5) rotate(45)" stroke="#fff" stroke-opacity="0.6" stroke-width="6.5" stroke-linecap="square" d="M39 16h0M33 15h0M41 24h0M32 17h0M41 26h0M34 19h0M32 12h0M37 22h0M43 26h0M49 32h0M38 20h0M55 26h0M47 28h0M45 26h0M37 10h0M52 8h0M55 18h0M39 22h0M50 32h0M33 12h0M31 13h0M31 17h0M50 31h0M48 31h0M34 15h0M41 22h0M39 19h0M31 14h0"/><path transform="scale(.5) rotate(45)" stroke="#1818d8" stroke-width="5.6" stroke-linecap="square" d="M39 16h0M33 15h0M41 24h0M32 17h0M41 26h0M34 19h0M32 12h0M37 22h0M43 26h0M49 32h0M38 20h0M55 26h0M47 28h0M45 26h0M37 10h0M52 8h0M55 18h0M39 22h0M50 32h0M33 12h0M31 13h0M31 17h0M50 31h0M48 31h0M34 15h0M41 22h0M39 19h0M31 14h0"/><path transform="scale(.5) rotate(45)" stroke="#fff" stroke-opacity="0.6" stroke-width="6.5" stroke-linecap="square" d="M50 33h0M53 38h0M46 30h0M46 6h0M45 23h0M53 11h0M28 13h0M82 0h0M31 10h0M46 28h0M46 29h0M46 31h0M44 28h0M69 -6h0M42 26h0M44 23h0M35 21h0M49 8h0M43 25h0M59 42h0M38 18h0M40 18h0M33 16h0M33 18h0M49 34h0M50 28h0M41 9h0"/><path transform="scale(.5) rotate(45)" stroke="#1818d8" stroke-width="5.6" stroke-linecap="square" d="M50 33h0M53 38h0M46 30h0M46 6h0M45 23h0M53 11h0M28 13h0M82 0h0M31 10h0M46 28h0M46 29h0M46 31h0M44 28h0M69 -6h0M42 26h0M44 23h0M35 21h0M49 8h0M43 25h0M59 42h0M38 18h0M40 18h0M33 16h0M33 18h0M49 34h0M50 28h0M41 9h0"/><path transform="scale(.5) rotate(45)" stroke="#fff" stroke-opacity="0.6" stroke-width="6.5" stroke-linecap="square" d="M38 22h0M32 14h0M48 28h0M35 15h0M32 15h0M24 8h0M75 6h0M38 21h0M59 39h0M52 35h0M29 13h0M51 15h0M24 5h0M36 19h0M51 25h0M49 31h0M57 17h0M31 12h0M55 39h0M48 22h0M60 13h0M56 27h0M44 25h0M44 -13h0M39 21h0M43 27h0M47 30h0"/><path transform="scale(.5) rotate(45)" stroke="#1818d8" stroke-width="5.6" stroke-linecap="square" d="M38 22h0M32 14h0M48 28h0M35 15h0M32 15h0M24 8h0M75 6h0M38 21h0M59 39h0M52 35h0M29 13h0M51 15h0M24 5h0M36 19h0M51 25h0M49 31h0M57 17h0M31 12h0M55 39h0M48 22h0M60 13h0M56 27h0M44 25h0M44 -13h0M39 21h0M43 27h0M47 30h0"/><path transform="scale(.5) rotate(45)" stroke="#fff" stroke-opacity="0.6" stroke-width="6.5" stroke-linecap="square" d="M41 25h0M40 25h0M51 35h0M44 27h0M38 23h0M57 21h0M33 17h0M47 31h0M50 35h0M31 15h0M55 38h0M34 17h0M40 22h0M48 24h0M52 34h0M51 31h0M26 10h0M43 2h0M52 33h0M49 29h0M44 26h0M45 25h0M42 27h0M38 16h0M29 11h0M30 11h0M55 37h0"/><path transform="scale(.5) rotate(45)" stroke="#1818d8" stroke-width="5.6" stroke-linecap="square" d="M41 25h0M40 25h0M51 35h0M44 27h0M38 23h0M57 21h0M33 17h0M47 31h0M50 35h0M31 15h0M55 38h0M34 17h0M40 22h0M48 24h0M52 34h0M51 31h0M26 10h0M43 2h0M52 33h0M49 29h0M44 26h0M45 25h0M42 27h0M38 16h0M29 11h0M30 11h0M55 37h0"/></svg><rect x="719.25" y="11.80" width="42.6" height="41.2" fill="#eaeaf2"/><path d="M725.22 11.80V53.00M745.13 11.80V53.00M719.25 50.65H761.85M719.25 11.41H761.85" stroke="#f4f4f8" stroke-width="0.6" fill="none"/><svg x="719.25" y="11.80" width="42.6" height="41.2" overflow="hidden"><path transform="scale(.5)" stroke="#fff" stroke-opacity="0.6" stroke-width="6.9" stroke-linecap="square" d="M30 70h0M31 65h0M39 63h0M21 73h0M30 68h0M31 73h0M27 78h0M37 79h0M43 76h0M24 75h0M31 70h0M23 70h0M37 74h0M52 73h0M52 71h0M44 17h0M39 23h0M12 20h0M33 29h0M10 29h0M49 57h0M34 53h0M27 40h0M41 44h0M23 38h0M24 45h0M23 36h0M46 56h0M41 46h0M34 41h0M14 54h0M36 36h0"/><path transform="scale(.5)" stroke="#d81818" stroke-width="6.0" stroke-linecap="square" d="M30 70h0M31 65h0M39 63h0M21 73h0M30 68h0M31 73h0M27 78h0M37 79h0M43 76h0M24 75h0M31 70h0M23 70h0M37 74h0M52 73h0M52 71h0M44 17h0M39 23h0M12 20h0M33 29h0M10 29h0M49 57h0M34 53h0M27 40h0M41 44h0M23 38h0M24 45h0M23 36h0M46 56h0M41 46h0M34 41h0M14 54h0M36 36h0"/><path transform="scale(.5)" stroke="#fff" stroke-opacity="0.6" stroke-width="6.9" stroke-linecap="square" d="M36 76h0M27 67h0M52 70h0M33 69h0M19 71h0M40 69h0M34 71h0M13 72h0M20 67h0M32 74h0M26 73h0M39 73h0M40 78h0M36 66h0M47 75h0M31 17h0M30 18h0M22 29h0M31 14h0M33 12h0M44 39h0M43 39h0M35 42h0M23 53h0M45 32h0M39 57h0M32 41h0M48 62h0M42 52h0M39 44h0M50 48h0M34 60h0"/><path transform="scale(.5)" stroke="#d81818" stroke-width="6.0" stroke-linecap="square" d="M36 76h0M27 67h0M52 70h0M33 69h0M19 71h0M40 69h0M34 71h0M13 72h0M20 67h0M32 74h0M26 73h0M39 73h0M40 78h0M36 66h0M47 75h0M31 17h0M30 18h0M22 29h0M31 14h0M33 12h0M44 39h0M43 39h0M35 42h0M23 53h0M45 32h0M39 57h0M32 41h0M48 62h0M42 52h0M39 44h0M50 48h0M34 60h0"/><path transform="scale(.5)" stroke="#fff" stroke-opacity="0.6" stroke-width="6.9" stroke-linecap="square" d="M26 69h0M41 74h0M27 70h0M20 70h0M23 76h0M30 74h0M14 78h0M43 70h0M18 66h0M29 72h0M25 73h0M27 68h0M45 74h0M26 71h0M30 30h0M26 29h0M17 11h0M43 4h0M41 7h0M8 46h0M29 65h0M26 55h0M36 61h0M33 46h0M30 54h0M42 60h0M51 61h0M20 36h0M50 63h0M30 49h0M28 58h0M34 33h0"/><path transform="scale(.5)" stroke="#d81818" stroke-width="6.0" stroke-linecap="square" d="M26 69h0M41 74h0M27 70h0M20 70h0M23 76h0M30 74h0M14 78h0M43 70h0M18 66h0M29 72h0M25 73h0M27 68h0M45 74h0M26 71h0M30 30h0M26 29h0M17 11h0M43 4h0M41 7h0M8 46h0M29 65h0M26 55h0M36 61h0M33 46h0M30 54h0M42 60h0M51 61h0M20 36h0M50 63h0M30 49h0M28 58h0M34 33h0"/><path transform="scale(.5)" stroke="#fff" stroke-opacity="0.6" stroke-width="6.9" stroke-linecap="square" d="M32 73h0M20 74h0M34 74h0M39 75h0M21 69h0M24 71h0M38 72h0M31 68h0M24 76h0M29 79h0M48 68h0M36 69h0M26 70h0M22 72h0M38 6h0M30 9h0M38 9h0M33 24h0M30 28h0M13 57h0M33 57h0M25 64h0M29 40h0M27 48h0M23 63h0M43 58h0M31 55h0M45 56h0M38 65h0M38 60h0M39 46h0"/><path transform="scale(.5)" stroke="#d81818" stroke-width="6.0" stroke-linecap="square" d="M32 73h0M20 74h0M34 74h0M39 75h0M21 69h0M24 71h0M38 72h0M31 68h0M24 76h0M29 79h0M48 68h0M36 69h0M26 70h0M22 72h0M38 6h0M30 9h0M38 9h0M33 24h0M30 28h0M13 57h0M33 57h0M25 64h0M29 40h0M27 48h0M23 63h0M43 58h0M31 55h0M45 56h0M38 65h0M38 60h0M39 46h0"/><path transform="scale(.5) rotate(45)" stroke="#fff" stroke-opacity="0.6" stroke-width="6.5" stroke-linecap="square" d="M67 -12h0M68 -21h0M58 8h0M56 -6h0M70 1h0M66 -5h0M59 -28h0M66 15h0M73 9h0M59 6h0M64 -17h0M65 -6h0M71 -6h0M69 -4h0M53 -24h0M79 4h0M51 -3h0M82 -6h0M56 11h0M60 -4h0M53 -21h0M65 -20h0M75 19h0M55 -12h0M73 -1h0M77 1h0M76 -6h0M79 3h0M71 -2h0M62 -7h0M55 -15h0M58 -17h0M64 -14h0"/><path transform="scale(.5) rotate(45)" stroke="#1818d8" stroke-width="5.6" stroke-linecap="square" d="M67 -12h0M68 -21h0M58 8h0M56 -6h0M70 1h0M66 -5h0M59 -28h0M66 15h0M73 9h0M59 6h0M64 -17h0M65 -6h0M71 -6h0M69 -4h0M53 -24h0M79 4h0M51 -3h0M82 -6h0M56 11h0M60 -4h0M53 -21h0M65 -20h0M75 19h0M55 -12h0M73 -1h0M77 1h0M76 -6h0M79 3h0M71 -2h0M62 -7h0M55 -15h0M58 -17h0M64 -14h0"/><path transform="scale(.5) rotate(45)" stroke="#fff" stroke-opacity="0.6" stroke-width="6.5" stroke-linecap="square" d="M78 5h0M70 22h0M74 2h0M64 3h0M69 -2h0M61 0h0M74 4h0M57 -7h0M68 11h0M75 23h0M79 -5h0M59 -1h0M82 11h0M68 -17h0M72 -10h0M64 -9h0M68 0h0M74 13h0M70 10h0M74 0h0M68 -12h0M75 7h0M80 5h0M74 -14h0M68 3h0M59 -15h0M57 -8h0M81 12h0M71 7h0M58 -9h0M67 -4h0M65 -12h0M72 -1h0"/><path transform="scale(.5) rotate(45)" stroke="#1818d8" stroke-width="5.6" stroke-linecap="square" d="M78 5h0M70 22h0M74 2h0M64 3h0M69 -2h0M61 0h0M74 4h0M57 -7h0M68 11h0M75 23h0M79 -5h0M59 -1h0M82 11h0M68 -17h0M72 -10h0M64 -9h0M68 0h0M74 13h0M70 10h0M74 0h0M68 -12h0M75 7h0M80 5h0M74 -14h0M68 3h0M59 -15h0M57 -8h0M81 12h0M71 7h0M58 -9h0M67 -4h0M65 -12h0M72 -1h0"/><path transform="scale(.5) rotate(45)" stroke="#fff" stroke-opacity="0.6" stroke-width="6.5" stroke-linecap="square" d="M69 -9h0M64 -19h0M71 5h0M62 -10h0M69 0h0M58 -6h0M57 -13h0M64 -5h0M66 2h0M74 11h0M83 4h0M78 -2h0M76 5h0M68 7h0M72 0h0M52 -4h0M63 -4h0M66 -6h0M71 10h0M52 -16h0M66 -23h0M67 -8h0M54 -8h0M90 11h0M78 -8h0M63 -6h0M65 -8h0M68 -19h0M56 -4h0M62 -1h0M70 -6h0M65 -7h0M82 -4h0"/><path transform="scale(.5) rotate(45)" stroke="#1818d8" stroke-width="5.6" stroke-linecap="square" d="M69 -9h0M64 -19h0M71 5h0M62 -10h0M69 0h0M58 -6h0M57 -13h0M64 -5h0M66 2h0M74 11h0M83 4h0M78 -2h0M76 5h0M68 7h0M72 0h0M52 -4h0M63 -4h0M66 -6h0M71 10h0M52 -16h0M66 -23h0M67 -8h0M54 -8h0M90 11h0M78 -8h0M63 -6h0M65 -8h0M68 -19h0M56 -4h0M62 -1h0M70 -6h0M65 -7h0M82 -4h0"/><path transform="scale(.5) rotate(45)" stroke="#fff" stroke-opacity="0.6" stroke-width="6.5" stroke-linecap="square" d="M76 -10h0M64 0h0M75 12h0M55 -4h0M62 -15h0M68 -4h0M59 -18h0M61 -12h0M60 -18h0M81 0h0M58 -12h0M62 -21h0M73 3h0M66 7h0M66 -3h0M66 6h0M74 1h0M67 1h0M72 1h0M63 -1h0M64 7h0M74 -5h0M62 -6h0M69 -10h0M79 -3h0M71 3h0M74 -13h0M72 -4h0M61 -31h0M60 0h0M75 -5h0M63 -3h0M57 -12h0"/><path transform="scale(.5) rotate(45)" stroke="#1818d8" stroke-width="5.6" stroke-linecap="square" d="M76 -10h0M64 0h0M75 12h0M55 -4h0M62 -15h0M68 -4h0M59 -18h0M61 -12h0M60 -18h0M81 0h0M58 -12h0M62 -21h0M73 3h0M66 7h0M66 -3h0M66 6h0M74 1h0M67 1h0M72 1h0M63 -1h0M64 7h0M74 -5h0M62 -6h0M69 -10h0M79 -3h0M71 3h0M74 -13h0M72 -4h0M61 -31h0M60 0h0M75 -5h0M63 -3h0M57 -12h0"/></svg><rect x="417.00" y="72.68" width="42.6" height="41.2" fill="#eaeaf2"/><path d="M419.43 72.68V113.88M460.01 72.68V113.88M417.00 103.58H459.60M417.00 76.47H459.60" stroke="#f4f4f8" stroke-width="0.6" fill="none"/><svg x="417.00" y="72.68" width="42.6" height="41.2" overflow="hidden"><path transform="scale(.5)" stroke="#fff" stroke-opacity="0.6" stroke-width="6.9" stroke-linecap="square" d="M13 8h0M18 50h0M20 47h0M10 43h0M15 49h0M10 37h0M5 44h0M3 49h0M7 48h0M10 52h0M10 46h0M12 70h0M5 54h0M11 38h0M79 53h0M76 57h0M65 57h0M55 50h0M55 54h0M27 26h0M30 59h0M44 38h0M40 51h0M46 46h0M30 45h0M25 49h0M28 25h0M28 52h0M18 33h0M24 53h0M38 42h0"/><path transform="scale(.5)" stroke="#d81818" stroke-width="6.0" stroke-linecap="square" d="M13 8h0M18 50h0M20 47h0M10 43h0M15 49h0M10 37h0M5 44h0M3 49h0M7 48h0M10 52h0M10 46h0M12 70h0M5 54h0M11 38h0M79 53h0M76 57h0M65 57h0M55 50h0M55 54h0M27 26h0M30 59h0M44 38h0M40 51h0M46 46h0M30 45h0M25 49h0M28 25h0M28 52h0M18 33h0M24 53h0M38 42h0"/><path transform="scale(.5)" stroke="#fff" stroke-opacity="0.6" stroke-width="6.9" stroke-linecap="square" d="M6 11h0M16 58h0M13 48h0M14 53h0M12 46h0M13 31h0M12 57h0M10 42h0M16 48h0M11 51h0M7 44h0M9 42h0M10 59h0M12 55h0M67 44h0M61 60h0M55 61h0M71 50h0M73 51h0M45 47h0M45 36h0M42 59h0M30 44h0M52 46h0M39 46h0M48 38h0M27 45h0M38 55h0M42 27h0M29 26h0M48 36h0"/><path transform="scale(.5)" stroke="#d81818" stroke-width="6.0" stroke-linecap="square" d="M6 11h0M16 58h0M13 48h0M14 53h0M12 46h0M13 31h0M12 57h0M10 42h0M16 48h0M11 51h0M7 44h0M9 42h0M10 59h0M12 55h0M67 44h0M61 60h0M55 61h0M71 50h0M73 51h0M45 47h0M45 36h0M42 59h0M30 44h0M52 46h0M39 46h0M48 38h0M27 45h0M38 55h0M42 27h0M29 26h0M48 36h0"/><path transform="scale(.5)" stroke="#fff" stroke-opacity="0.6" stroke-width="6.9" stroke-linecap="square" d="M14 46h0M9 48h0M13 54h0M13 40h0M7 50h0M8 59h0M5 55h0M13 50h0M6 56h0M3 57h0M9 55h0M15 50h0M17 50h0M7 55h0M67 56h0M74 54h0M82 53h0M78 57h0M38 52h0M18 44h0M29 43h0M22 58h0M38 54h0M29 49h0M26 72h0M43 44h0M21 41h0M31 48h0M40 62h0M36 59h0M24 33h0"/><path transform="scale(.5)" stroke="#d81818" stroke-width="6.0" stroke-linecap="square" d="M14 46h0M9 48h0M13 54h0M13 40h0M7 50h0M8 59h0M5 55h0M13 50h0M6 56h0M3 57h0M9 55h0M15 50h0M17 50h0M7 55h0M67 56h0M74 54h0M82 53h0M78 57h0M38 52h0M18 44h0M29 43h0M22 58h0M38 54h0M29 49h0M26 72h0M43 44h0M21 41h0M31 48h0M40 62h0M36 59h0M24 33h0"/><path transform="scale(.5)" stroke="#fff" stroke-opacity="0.6" stroke-width="6.9" stroke-linecap="square" d="M9 62h0M8 47h0M9 46h0M7 51h0M14 48h0M12 43h0M11 54h0M12 51h0M8 54h0M13 43h0M15 47h0M9 40h0M11 47h0M54 55h0M56 62h0M76 58h0M61 57h0M56 56h0M26 47h0M26 46h0M19 44h0M44 49h0M35 44h0M20 54h0M23 56h0M22 56h0M48 52h0M20 59h0M35 48h0M25 46h0M51 56h0"/><path transform="scale(.5)" stroke="#d81818" stroke-width="6.0" stroke-linecap="square" d="M9 62h0M8 47h0M9 46h0M7 51h0M14 48h0M12 43h0M11 54h0M12 51h0M8 54h0M13 43h0M15 47h0M9 40h0M11 47h0M54 55h0M56 62h0M76 58h0M61 57h0M56 56h0M26 47h0M26 46h0M19 44h0M44 49h0M35 44h0M20 54h0M23 56h0M22 56h0M48 52h0M20 59h0M35 48h0M25 46h0M51 56h0"/><path transform="scale(.5) rotate(45)" stroke="#fff" stroke-opacity="0.6" stroke-width="6.5" stroke-linecap="square" d="M76 12h0M80 8h0M70 18h0M77 7h0M57 10h0M68 11h0M80 -8h0M57 21h0M54 18h0M66 13h0M82 10h0M70 9h0M64 27h0M45 -1h0M62 6h0M82 11h0M53 22h0M48 11h0M55 11h0M82 -6h0M71 -3h0M54 20h0M71 13h0M62 14h0M62 17h0M62 4h0M61 36h0M77 10h0M56 21h0M58 18h0M65 5h0M44 20h0"/><path transform="scale(.5) rotate(45)" stroke="#1818d8" stroke-width="5.6" stroke-linecap="square" d="M76 12h0M80 8h0M70 18h0M77 7h0M57 10h0M68 11h0M80 -8h0M57 21h0M54 18h0M66 13h0M82 10h0M70 9h0M64 27h0M45 -1h0M62 6h0M82 11h0M53 22h0M48 11h0M55 11h0M82 -6h0M71 -3h0M54 20h0M71 13h0M62 14h0M62 17h0M62 4h0M61 36h0M77 10h0M56 21h0M58 18h0M65 5h0M44 20h0"/><path transform="scale(.5) rotate(45)" stroke="#fff" stroke-opacity="0.6" stroke-width="6.5" stroke-linecap="square" d="M50 15h0M42 16h0M57 15h0M70 19h0M63 12h0M61 3h0M57 17h0M72 3h0M69 10h0M45 26h0M56 12h0M61 19h0M65 23h0M85 -5h0M53 18h0M69 18h0M60 1h0M49 4h0M67 7h0M65 3h0M55 19h0M66 -7h0M43 27h0M60 17h0M57 9h0M61 26h0M74 5h0M95 7h0M67 9h0M66 12h0M62 5h0M78 4h0"/><path transform="scale(.5) rotate(45)" stroke="#1818d8" stroke-width="5.6" stroke-linecap="square" d="M50 15h0M42 16h0M57 15h0M70 19h0M63 12h0M61 3h0M57 17h0M72 3h0M69 10h0M45 26h0M56 12h0M61 19h0M65 23h0M85 -5h0M53 18h0M69 18h0M60 1h0M49 4h0M67 7h0M65 3h0M55 19h0M66 -7h0M43 27h0M60 17h0M57 9h0M61 26h0M74 5h0M95 7h0M67 9h0M66 12h0M62 5h0M78 4h0"/><path transform="scale(.5) rotate(45)" stroke="#fff" stroke-opacity="0.6" stroke-width="6.5" stroke-linecap="square" d="M77 18h0M80 7h0M59 17h0M69 2h0M60 10h0M70 3h0M73 -2h0M66 7h0M54 14h0M51 19h0M60 30h0M81 3h0M70 2h0M70 14h0M75 4h0M62 2h0M59 9h0M61 -2h0M86 3h0M72 -4h0M67 8h0M67 4h0M62 16h0M47 7h0M71 1h0M63 15h0M57 7h0M77 13h0M77 -1h0M83 5h0M61 -8h0"/><path transform="scale(.5) rotate(45)" stroke="#1818d8" stroke-width="5.6" stroke-linecap="square" d="M77 18h0M80 7h0M59 17h0M69 2h0M60 10h0M70 3h0M73 -2h0M66 7h0M54 14h0M51 19h0M60 30h0M81 3h0M70 2h0M70 14h0M75 4h0M62 2h0M59 9h0M61 -2h0M86 3h0M72 -4h0M67 8h0M67 4h0M62 16h0M47 7h0M71 1h0M63 15h0M57 7h0M77 13h0M77 -1h0M83 5h0M61 -8h0"/><path transform="scale(.5) rotate(45)" stroke="#fff" stroke-opacity="0.6" stroke-width="6.5" stroke-linecap="square" d="M74 22h0M67 13h0M49 18h0M66 -2h0M84 12h0M69 15h0M86 8h0M70 1h0M58 8h0M49 13h0M70 11h0M48 25h0M53 10h0M59 13h0M60 14h0M70 27h0M67 16h0M68 9h0M61 4h0M53 6h0M47 24h0M67 -8h0M62 15h0M73 11h0M72 11h0M46 9h0M60 21h0M73 3h0M74 19h0M83 17h0M48 8h0"/><path transform="scale(.5) rotate(45)" stroke="#1818d8" stroke-width="5.6" stroke-linecap="square" d="M74 22h0M67 13h0M49 18h0M66 -2h0M84 12h0M69 15h0M86 8h0M70 1h0M58 8h0M49 13h0M70 11h0M48 25h0M53 10h0M59 13h0M60 14h0M70 27h0M67 16h0M68 9h0M61 4h0M53 6h0M47 24h0M67 -8h0M62 15h0M73 11h0M72 11h0M46 9h0M60 21h0M73 3h0M74 19h0M83 17h0M48 8h0"/></svg><rect x="477.45" y="72.68" width="42.6" height="41.2" fill="#eaeaf2"/><path d="M488.10 72.68V113.88M516.13 72.68V113.88M477.45 103.58H520.05M477.45 76.47H520.05" stroke="#f4f4f8" stroke-width="0.6" fill="none"/><svg x="477.45" y="72.68" width="42.6" height="41.2" overflow="hidden"><g transform="translate(-477.45,-72.68)"><rect x="480.60" y="113.48" width="3.65" height="0.40" fill="#e00000"/><rect x="484.20" y="111.88" width="3.65" height="2.00" fill="#e00000"/><rect x="487.80" y="105.88" width="3.65" height="8.00" fill="#e00000"/><rect x="487.80" y="104.58" width="3.65" height="1.32" fill="#0000ee"/><rect x="491.40" y="101.08" width="3.65" height="12.80" fill="#e00000"/><rect x="491.40" y="96.98" width="3.65" height="4.12" fill="#0000ee"/><rect x="495.00" y="105.88" width="3.65" height="8.00" fill="#e00000"/><rect x="495.00" y="104.58" width="3.65" height="1.32" fill="#0000ee"/><rect x="498.60" y="112.18" width="3.65" height="1.70" fill="#e00000"/><rect x="502.20" y="113.08" width="3.65" height="0.80" fill="#e00000"/></g></svg><rect x="537.90" y="72.68" width="42.6" height="41.2" fill="#eaeaf2"/><path d="M538.17 72.68V113.88M564.79 72.68V113.88M537.90 103.58H580.50M537.90 76.47H580.50" stroke="#f4f4f8" stroke-width="0.6" fill="none"/><svg x="537.90" y="72.68" width="42.6" height="41.2" overflow="hidden"><path transform="scale(.5)" stroke="#fff" stroke-opacity="0.6" stroke-width="6.9" stroke-linecap="square" d="M27 8h0M22 50h0M20 47h0M1 43h0M22 49h0M22 37h0M20 44h0M15 49h0M33 49h0M29 56h0M28 51h0M24 44h0M19 70h0M14 40h0M19 59h0M26 55h0M43 44h0M21 60h0M27 61h0M17 56h0M32 47h0M22 46h0M23 44h0M28 49h0M30 46h0M24 45h0M33 38h0M26 41h0M22 48h0M27 62h0M25 46h0M34 56h0"/><path transform="scale(.5)" stroke="#d81818" stroke-width="6.0" stroke-linecap="square" d="M27 8h0M22 50h0M20 47h0M1 43h0M22 49h0M22 37h0M20 44h0M15 49h0M33 49h0M29 56h0M28 51h0M24 44h0M19 70h0M14 40h0M19 59h0M26 55h0M43 44h0M21 60h0M27 61h0M17 56h0M32 47h0M22 46h0M23 44h0M28 49h0M30 46h0M24 45h0M33 38h0M26 41h0M22 48h0M27 62h0M25 46h0M34 56h0"/><path transform="scale(.5)" stroke="#fff" stroke-opacity="0.6" stroke-width="6.9" stroke-linecap="square" d="M14 11h0M26 58h0M1 48h0M26 53h0M18 46h0M21 31h0M35 57h0M26 42h0M35 48h0M14 54h0M10 57h0M16 46h0M16 42h0M21 54h0M27 50h0M28 55h0M15 56h0M13 56h0M16 53h0M15 54h0M8 26h0M18 59h0M32 38h0M33 51h0M36 46h0M36 72h0M14 44h0M20 52h0M33 59h0M24 53h0M11 42h0"/><path transform="scale(.5)" stroke="#d81818" stroke-width="6.0" stroke-linecap="square" d="M14 11h0M26 58h0M1 48h0M26 53h0M18 46h0M21 31h0M35 57h0M26 42h0M35 48h0M14 54h0M10 57h0M16 46h0M16 42h0M21 54h0M27 50h0M28 55h0M15 56h0M13 56h0M16 53h0M15 54h0M8 26h0M18 59h0M32 38h0M33 51h0M36 46h0M36 72h0M14 44h0M20 52h0M33 59h0M24 53h0M11 42h0"/><path transform="scale(.5)" stroke="#fff" stroke-opacity="0.6" stroke-width="6.9" stroke-linecap="square" d="M1 46h0M2 48h0M24 54h0M19 40h0M21 50h0M9 59h0M20 55h0M19 50h0M17 48h0M43 47h0M20 43h0M40 55h0M18 50h0M14 42h0M25 47h0M9 55h0M23 62h0M17 58h0M10 50h0M23 51h0M37 47h0M29 36h0M21 59h0M25 54h0M17 49h0M24 56h0M18 56h0M38 52h0M30 33h0M29 26h0M17 36h0"/><path transform="scale(.5)" stroke="#d81818" stroke-width="6.0" stroke-linecap="square" d="M1 46h0M2 48h0M24 54h0M19 40h0M21 50h0M9 59h0M20 55h0M19 50h0M17 48h0M43 47h0M20 43h0M40 55h0M18 50h0M14 42h0M25 47h0M9 55h0M23 62h0M17 58h0M10 50h0M23 51h0M37 47h0M29 36h0M21 59h0M25 54h0M17 49h0M24 56h0M18 56h0M38 52h0M30 33h0M29 26h0M17 36h0"/><path transform="scale(.5)" stroke="#fff" stroke-opacity="0.6" stroke-width="6.9" stroke-linecap="square" d="M9 62h0M6 47h0M28 46h0M31 51h0M28 48h0M24 43h0M20 54h0M15 51h0M12 48h0M19 52h0M29 46h0M26 47h0M31 48h0M30 50h0M16 38h0M23 53h0M7 57h0M8 57h0M21 57h0M14 52h0M26 44h0M23 43h0M22 58h0M25 44h0M23 54h0M26 49h0M20 25h0M18 55h0M24 27h0M17 59h0M15 33h0"/><path transform="scale(.5)" stroke="#d81818" stroke-width="6.0" stroke-linecap="square" d="M9 62h0M6 47h0M28 46h0M31 51h0M28 48h0M24 43h0M20 54h0M15 51h0M12 48h0M19 52h0M29 46h0M26 47h0M31 48h0M30 50h0M16 38h0M23 53h0M7 57h0M8 57h0M21 57h0M14 52h0M26 44h0M23 43h0M22 58h0M25 44h0M23 54h0M26 49h0M20 25h0M18 55h0M24 27h0M17 59h0M15 33h0"/><path transform="scale(.5) rotate(45)" stroke="#fff" stroke-opacity="0.6" stroke-width="6.5" stroke-linecap="square" d="M101 -13h0M63 26h0M76 12h0M61 23h0M69 -2h0M63 17h0M60 12h0M70 8h0M60 13h0M79 16h0M57 5h0M73 13h0M70 15h0M68 20h0M46 -2h0M66 5h0M76 17h0M62 9h0M78 6h0M58 1h0M69 20h0M51 17h0M71 4h0M67 4h0M72 8h0M62 15h0M61 19h0M67 19h0M64 16h0M82 20h0M59 17h0M64 13h0M57 10h0M67 -3h0"/><path transform="scale(.5) rotate(45)" stroke="#1818d8" stroke-width="5.6" stroke-linecap="square" d="M101 -13h0M63 26h0M76 12h0M61 23h0M69 -2h0M63 17h0M60 12h0M70 8h0M60 13h0M79 16h0M57 5h0M73 13h0M70 15h0M68 20h0M46 -2h0M66 5h0M76 17h0M62 9h0M78 6h0M58 1h0M69 20h0M51 17h0M71 4h0M67 4h0M72 8h0M62 15h0M61 19h0M67 19h0M64 16h0M82 20h0M59 17h0M64 13h0M57 10h0M67 -3h0"/><path transform="scale(.5) rotate(45)" stroke="#fff" stroke-opacity="0.6" stroke-width="6.5" stroke-linecap="square" d="M50 15h0M64 -6h0M74 -2h0M76 14h0M65 10h0M59 5h0M67 8h0M63 11h0M75 3h0M55 23h0M70 22h0M71 11h0M73 6h0M76 3h0M75 8h0M74 14h0M63 25h0M49 25h0M62 -3h0M71 6h0M70 -5h0M59 0h0M66 4h0M61 -2h0M72 6h0M39 15h0M54 12h0M70 9h0M61 14h0M70 21h0M65 12h0M75 13h0M58 -5h0M67 15h0"/><path transform="scale(.5) rotate(45)" stroke="#1818d8" stroke-width="5.6" stroke-linecap="square" d="M50 15h0M64 -6h0M74 -2h0M76 14h0M65 10h0M59 5h0M67 8h0M63 11h0M75 3h0M55 23h0M70 22h0M71 11h0M73 6h0M76 3h0M75 8h0M74 14h0M63 25h0M49 25h0M62 -3h0M71 6h0M70 -5h0M59 0h0M66 4h0M61 -2h0M72 6h0M39 15h0M54 12h0M70 9h0M61 14h0M70 21h0M65 12h0M75 13h0M58 -5h0M67 15h0"/><path transform="scale(.5) rotate(45)" stroke="#fff" stroke-opacity="0.6" stroke-width="6.5" stroke-linecap="square" d="M75 20h0M77 10h0M63 13h0M63 8h0M73 -2h0M57 15h0M71 0h0M61 12h0M58 10h0M54 18h0M46 22h0M59 21h0M58 16h0M69 3h0M52 20h0M58 21h0M60 4h0M65 -4h0M53 25h0M58 8h0M66 10h0M60 7h0M65 9h0M69 15h0M57 20h0M62 10h0M60 23h0M58 -3h0M60 20h0M84 -7h0M75 17h0M91 8h0M68 -2h0"/><path transform="scale(.5) rotate(45)" stroke="#1818d8" stroke-width="5.6" stroke-linecap="square" d="M75 20h0M77 10h0M63 13h0M63 8h0M73 -2h0M57 15h0M71 0h0M61 12h0M58 10h0M54 18h0M46 22h0M59 21h0M58 16h0M69 3h0M52 20h0M58 21h0M60 4h0M65 -4h0M53 25h0M58 8h0M66 10h0M60 7h0M65 9h0M69 15h0M57 20h0M62 10h0M60 23h0M58 -3h0M60 20h0M84 -7h0M75 17h0M91 8h0M68 -2h0"/><path transform="scale(.5) rotate(45)" stroke="#fff" stroke-opacity="0.6" stroke-width="6.5" stroke-linecap="square" d="M73 23h0M69 11h0M50 17h0M47 17h0M82 14h0M62 22h0M67 27h0M70 2h0M52 13h0M60 10h0M61 28h0M68 12h0M82 9h0M51 12h0M57 12h0M57 17h0M81 16h0M69 0h0M63 -10h0M62 13h0M59 9h0M64 9h0M56 3h0M55 15h0M67 9h0M75 9h0M53 14h0M71 26h0M61 25h0M69 8h0M69 10h0M58 12h0M60 -4h0"/><path transform="scale(.5) rotate(45)" stroke="#1818d8" stroke-width="5.6" stroke-linecap="square" d="M73 23h0M69 11h0M50 17h0M47 17h0M82 14h0M62 22h0M67 27h0M70 2h0M52 13h0M60 10h0M61 28h0M68 12h0M82 9h0M51 12h0M57 12h0M57 17h0M81 16h0M69 0h0M63 -10h0M62 13h0M59 9h0M64 9h0M56 3h0M55 15h0M67 9h0M75 9h0M53 14h0M71 26h0M61 25h0M69 8h0M69 10h0M58 12h0M60 -4h0"/></svg><rect x="598.35" y="72.68" width="42.6" height="41.2" fill="#eaeaf2"/><path d="M608.16 72.68V113.88M638.80 72.68V113.88M598.35 103.58H640.95M598.35 76.47H640.95" stroke="#f4f4f8" stroke-width="0.6" fill="none"/><svg x="598.35" y="72.68" width="42.6" height="41.2" overflow="hidden"><path transform="scale(.5)" stroke="#fff" stroke-opacity="0.6" stroke-width="6.9" stroke-linecap="square" d="M19 8h0M18 50h0M21 47h0M20 43h0M17 49h0M19 31h0M21 57h0M18 42h0M18 56h0M19 46h0M20 42h0M17 42h0M19 55h0M20 56h0M18 57h0M20 36h0M20 58h0M18 72h0M19 41h0M19 33h0M19 26h0"/><path transform="scale(.5)" stroke="#d81818" stroke-width="6.0" stroke-linecap="square" d="M19 8h0M18 50h0M21 47h0M20 43h0M17 49h0M19 31h0M21 57h0M18 42h0M18 56h0M19 46h0M20 42h0M17 42h0M19 55h0M20 56h0M18 57h0M20 36h0M20 58h0M18 72h0M19 41h0M19 33h0M19 26h0"/><path transform="scale(.5)" stroke="#fff" stroke-opacity="0.6" stroke-width="6.9" stroke-linecap="square" d="M17 11h0M18 58h0M19 48h0M19 53h0M21 46h0M19 59h0M18 55h0M20 51h0M18 52h0M20 44h0M20 50h0M17 50h0M20 53h0M19 58h0M20 52h0M19 43h0M21 49h0M19 49h0M19 52h0M18 27h0M19 42h0"/><path transform="scale(.5)" stroke="#d81818" stroke-width="6.0" stroke-linecap="square" d="M17 11h0M18 58h0M19 48h0M19 53h0M21 46h0M19 59h0M18 55h0M20 51h0M18 52h0M20 44h0M20 50h0M17 50h0M20 53h0M19 58h0M20 52h0M19 43h0M21 49h0M19 49h0M19 52h0M18 27h0M19 42h0"/><path transform="scale(.5)" stroke="#fff" stroke-opacity="0.6" stroke-width="6.9" stroke-linecap="square" d="M18 46h0M21 48h0M19 54h0M17 40h0M19 50h0M18 43h0M18 54h0M18 48h0M19 51h0M19 47h0M20 40h0M20 59h0M19 56h0M20 61h0M20 26h0M19 44h0M20 54h0M21 25h0M17 48h0M18 62h0M19 36h0"/><path transform="scale(.5)" stroke="#d81818" stroke-width="6.0" stroke-linecap="square" d="M18 46h0M21 48h0M19 54h0M17 40h0M19 50h0M18 43h0M18 54h0M18 48h0M19 51h0M19 47h0M20 40h0M20 59h0M19 56h0M20 61h0M20 26h0M19 44h0M20 54h0M21 25h0M17 48h0M18 62h0M19 36h0"/><path transform="scale(.5)" stroke="#fff" stroke-opacity="0.6" stroke-width="6.9" stroke-linecap="square" d="M20 62h0M20 47h0M20 46h0M18 51h0M19 37h0M17 44h0M18 49h0M20 48h0M19 57h0M19 70h0M17 54h0M20 38h0M19 60h0M20 57h0M17 59h0M19 38h0M20 45h0M19 45h0M18 59h0M18 53h0M18 33h0"/><path transform="scale(.5)" stroke="#d81818" stroke-width="6.0" stroke-linecap="square" d="M20 62h0M20 47h0M20 46h0M18 51h0M19 37h0M17 44h0M18 49h0M20 48h0M19 57h0M19 70h0M17 54h0M20 38h0M19 60h0M20 57h0M17 59h0M19 38h0M20 45h0M19 45h0M18 59h0M18 53h0M18 33h0"/><path transform="scale(.5) rotate(45)" stroke="#fff" stroke-opacity="0.6" stroke-width="6.5" stroke-linecap="square" d="M58 30h0M56 32h0M56 31h0M71 13h0M57 9h0M61 18h0M55 17h0M54 24h0M56 22h0M50 22h0M48 20h0M54 25h0M47 26h0M49 23h0M57 27h0M67 12h0M75 21h0M52 17h0M37 16h0M61 13h0M52 15h0M53 22h0M42 17h0M52 29h0M51 27h0M57 22h0M59 28h0M63 17h0M58 28h0M52 25h0M58 21h0M45 24h0"/><path transform="scale(.5) rotate(45)" stroke="#1818d8" stroke-width="5.6" stroke-linecap="square" d="M58 30h0M56 32h0M56 31h0M71 13h0M57 9h0M61 18h0M55 17h0M54 24h0M56 22h0M50 22h0M48 20h0M54 25h0M47 26h0M49 23h0M57 27h0M67 12h0M75 21h0M52 17h0M37 16h0M61 13h0M52 15h0M53 22h0M42 17h0M52 29h0M51 27h0M57 22h0M59 28h0M63 17h0M58 28h0M52 25h0M58 21h0M45 24h0"/><path transform="scale(.5) rotate(45)" stroke="#fff" stroke-opacity="0.6" stroke-width="6.5" stroke-linecap="square" d="M46 19h0M48 10h0M56 16h0M69 20h0M49 27h0M51 13h0M52 22h0M58 15h0M56 12h0M59 11h0M69 21h0M54 26h0M63 28h0M42 21h0M47 21h0M58 16h0M50 21h0M62 22h0M47 12h0M56 33h0M57 11h0M58 12h0M46 13h0M55 23h0M42 12h0M46 21h0M59 20h0M47 17h0M65 37h0M53 23h0M62 15h0M34 18h0"/><path transform="scale(.5) rotate(45)" stroke="#1818d8" stroke-width="5.6" stroke-linecap="square" d="M46 19h0M48 10h0M56 16h0M69 20h0M49 27h0M51 13h0M52 22h0M58 15h0M56 12h0M59 11h0M69 21h0M54 26h0M63 28h0M42 21h0M47 21h0M58 16h0M50 21h0M62 22h0M47 12h0M56 33h0M57 11h0M58 12h0M46 13h0M55 23h0M42 12h0M46 21h0M59 20h0M47 17h0M65 37h0M53 23h0M62 15h0M34 18h0"/><path transform="scale(.5) rotate(45)" stroke="#fff" stroke-opacity="0.6" stroke-width="6.5" stroke-linecap="square" d="M102 -7h0M62 25h0M61 16h0M56 15h0M44 26h0M53 19h0M46 25h0M49 22h0M65 29h0M46 16h0M52 34h0M59 26h0M76 12h0M36 8h0M53 17h0M60 28h0M57 17h0M41 18h0M49 28h0M54 10h0M44 15h0M54 18h0M67 16h0M54 23h0M48 23h0M56 26h0M42 13h0M57 18h0M70 20h0M69 23h0M73 15h0M51 15h0"/><path transform="scale(.5) rotate(45)" stroke="#1818d8" stroke-width="5.6" stroke-linecap="square" d="M102 -7h0M62 25h0M61 16h0M56 15h0M44 26h0M53 19h0M46 25h0M49 22h0M65 29h0M46 16h0M52 34h0M59 26h0M76 12h0M36 8h0M53 17h0M60 28h0M57 17h0M41 18h0M49 28h0M54 10h0M44 15h0M54 18h0M67 16h0M54 23h0M48 23h0M56 26h0M42 13h0M57 18h0M70 20h0M69 23h0M73 15h0M51 15h0"/><path transform="scale(.5) rotate(45)" stroke="#fff" stroke-opacity="0.6" stroke-width="6.5" stroke-linecap="square" d="M80 17h0M56 23h0M47 20h0M55 9h0M70 26h0M59 25h0M70 24h0M51 22h0M63 15h0M62 30h0M55 26h0M50 29h0M62 18h0M64 16h0M75 13h0M48 16h0M53 8h0M61 17h0M50 16h0M66 10h0M52 21h0M54 20h0M52 18h0M48 27h0M53 31h0M46 20h0M65 32h0M52 28h0M60 18h0M51 25h0M59 40h0M45 11h0"/><path transform="scale(.5) rotate(45)" stroke="#1818d8" stroke-width="5.6" stroke-linecap="square" d="M80 17h0M56 23h0M47 20h0M55 9h0M70 26h0M59 25h0M70 24h0M51 22h0M63 15h0M62 30h0M55 26h0M50 29h0M62 18h0M64 16h0M75 13h0M48 16h0M53 8h0M61 17h0M50 16h0M66 10h0M52 21h0M54 20h0M52 18h0M48 27h0M53 31h0M46 20h0M65 32h0M52 28h0M60 18h0M51 25h0M59 40h0M45 11h0"/></svg><rect x="658.80" y="72.68" width="42.6" height="41.2" fill="#eaeaf2"/><path d="M664.00 72.68V113.88M684.00 72.68V113.88M658.80 103.58H701.40M658.80 76.47H701.40" stroke="#f4f4f8" stroke-width="0.6" fill="none"/><svg x="658.80" y="72.68" width="42.6" height="41.2" overflow="hidden"><path transform="scale(.5)" stroke="#fff" stroke-opacity="0.6" stroke-width="6.9" stroke-linecap="square" d="M27 8h0M27 50h0M12 47h0M14 43h0M12 49h0M12 31h0M13 57h0M10 42h0M10 56h0M13 51h0M12 44h0M13 70h0M11 40h0M50 59h0M13 53h0M12 56h0M14 57h0M14 54h0M14 44h0M12 43h0M32 58h0M18 44h0M11 45h0M12 25h0M41 55h0M16 62h0M13 33h0"/><path transform="scale(.5)" stroke="#d81818" stroke-width="6.0" stroke-linecap="square" d="M27 8h0M27 50h0M12 47h0M14 43h0M12 49h0M12 31h0M13 57h0M10 42h0M10 56h0M13 51h0M12 44h0M13 70h0M11 40h0M50 59h0M13 53h0M12 56h0M14 57h0M14 54h0M14 44h0M12 43h0M32 58h0M18 44h0M11 45h0M12 25h0M41 55h0M16 62h0M13 33h0"/><path transform="scale(.5)" stroke="#fff" stroke-opacity="0.6" stroke-width="6.9" stroke-linecap="square" d="M33 11h0M11 58h0M11 48h0M12 53h0M11 50h0M11 59h0M12 55h0M14 51h0M11 54h0M27 57h0M11 46h0M11 42h0M40 54h0M34 50h0M11 56h0M15 58h0M12 50h0M10 52h0M12 46h0M11 44h0M29 49h0M16 46h0M12 72h0M12 45h0M56 59h0M38 53h0M37 56h0"/><path transform="scale(.5)" stroke="#d81818" stroke-width="6.0" stroke-linecap="square" d="M33 11h0M11 58h0M11 48h0M12 53h0M11 50h0M11 59h0M12 55h0M14 51h0M11 54h0M27 57h0M11 46h0M11 42h0M40 54h0M34 50h0M11 56h0M15 58h0M12 50h0M10 52h0M12 46h0M11 44h0M29 49h0M16 46h0M12 72h0M12 45h0M56 59h0M38 53h0M37 56h0"/><path transform="scale(.5)" stroke="#fff" stroke-opacity="0.6" stroke-width="6.9" stroke-linecap="square" d="M14 46h0M40 48h0M12 54h0M19 40h0M18 48h0M13 43h0M33 54h0M11 49h0M11 47h0M28 43h0M11 55h0M13 50h0M16 42h0M11 38h0M15 57h0M12 57h0M15 50h0M15 47h0M12 59h0M13 38h0M41 51h0M14 49h0M12 38h0M13 41h0M12 33h0M12 26h0"/><path transform="scale(.5)" stroke="#d81818" stroke-width="6.0" stroke-linecap="square" d="M14 46h0M40 48h0M12 54h0M19 40h0M18 48h0M13 43h0M33 54h0M11 49h0M11 47h0M28 43h0M11 55h0M13 50h0M16 42h0M11 38h0M15 57h0M12 57h0M15 50h0M15 47h0M12 59h0M13 38h0M41 51h0M14 49h0M12 38h0M13 41h0M12 33h0M12 26h0"/><path transform="scale(.5)" stroke="#fff" stroke-opacity="0.6" stroke-width="6.9" stroke-linecap="square" d="M12 62h0M13 47h0M28 46h0M27 51h0M13 37h0M10 44h0M40 49h0M10 48h0M11 52h0M10 46h0M14 47h0M12 48h0M32 50h0M13 55h0M14 60h0M13 61h0M11 57h0M13 26h0M11 36h0M31 59h0M13 44h0M25 54h0M23 44h0M13 52h0M11 27h0M13 46h0"/><path transform="scale(.5)" stroke="#d81818" stroke-width="6.0" stroke-linecap="square" d="M12 62h0M13 47h0M28 46h0M27 51h0M13 37h0M10 44h0M40 49h0M10 48h0M11 52h0M10 46h0M14 47h0M12 48h0M32 50h0M13 55h0M14 60h0M13 61h0M11 57h0M13 26h0M11 36h0M31 59h0M13 44h0M25 54h0M23 44h0M13 52h0M11 27h0M13 46h0"/><path transform="scale(.5) rotate(45)" stroke="#fff" stroke-opacity="0.6" stroke-width="6.5" stroke-linecap="square" d="M55 32h0M53 35h0M44 28h0M52 37h0M45 30h0M44 29h0M55 39h0M77 -5h0M47 31h0M54 37h0M48 33h0M60 32h0M41 22h0M46 27h0M60 33h0M49 23h0M39 21h0M47 29h0M43 24h0M44 26h0M43 26h0M37 17h0M52 30h0M37 18h0M56 34h0M49 27h0M42 24h0"/><path transform="scale(.5) rotate(45)" stroke="#1818d8" stroke-width="5.6" stroke-linecap="square" d="M55 32h0M53 35h0M44 28h0M52 37h0M45 30h0M44 29h0M55 39h0M77 -5h0M47 31h0M54 37h0M48 33h0M60 32h0M41 22h0M46 27h0M60 33h0M49 23h0M39 21h0M47 29h0M43 24h0M44 26h0M43 26h0M37 17h0M52 30h0M37 18h0M56 34h0M49 27h0M42 24h0"/><path transform="scale(.5) rotate(45)" stroke="#fff" stroke-opacity="0.6" stroke-width="6.5" stroke-linecap="square" d="M41 24h0M37 21h0M48 28h0M56 15h0M46 24h0M63 21h0M73 5h0M48 30h0M46 26h0M43 25h0M48 31h0M51 36h0M30 14h0M72 -3h0M52 36h0M46 28h0M49 29h0M53 13h0M38 21h0M47 27h0M48 32h0M52 32h0M40 26h0M57 41h0M48 29h0M57 42h0M37 19h0"/><path transform="scale(.5) rotate(45)" stroke="#1818d8" stroke-width="5.6" stroke-linecap="square" d="M41 24h0M37 21h0M48 28h0M56 15h0M46 24h0M63 21h0M73 5h0M48 30h0M46 26h0M43 25h0M48 31h0M51 36h0M30 14h0M72 -3h0M52 36h0M46 28h0M49 29h0M53 13h0M38 21h0M47 27h0M48 32h0M52 32h0M40 26h0M57 41h0M48 29h0M57 42h0M37 19h0"/><path transform="scale(.5) rotate(45)" stroke="#fff" stroke-opacity="0.6" stroke-width="6.5" stroke-linecap="square" d="M56 39h0M47 32h0M41 26h0M42 22h0M57 39h0M55 19h0M45 29h0M42 26h0M43 27h0M53 36h0M50 34h0M58 22h0M49 31h0M44 27h0M41 23h0M53 9h0M45 8h0M46 30h0M54 13h0M40 19h0M47 30h0M63 16h0M58 29h0M49 32h0M46 31h0M45 25h0M49 33h0"/><path transform="scale(.5) rotate(45)" stroke="#1818d8" stroke-width="5.6" stroke-linecap="square" d="M56 39h0M47 32h0M41 26h0M42 22h0M57 39h0M55 19h0M45 29h0M42 26h0M43 27h0M53 36h0M50 34h0M58 22h0M49 31h0M44 27h0M41 23h0M53 9h0M45 8h0M46 30h0M54 13h0M40 19h0M47 30h0M63 16h0M58 29h0M49 32h0M46 31h0M45 25h0M49 33h0"/><path transform="scale(.5) rotate(45)" stroke="#fff" stroke-opacity="0.6" stroke-width="6.5" stroke-linecap="square" d="M56 40h0M52 35h0M49 34h0M42 25h0M40 24h0M45 26h0M43 28h0M58 37h0M39 23h0M51 35h0M45 28h0M45 27h0M51 33h0M49 25h0M57 40h0M53 31h0M37 22h0M54 14h0M46 29h0M39 20h0M51 25h0M43 29h0M49 30h0M79 23h0M56 37h0M42 11h0"/><path transform="scale(.5) rotate(45)" stroke="#1818d8" stroke-width="5.6" stroke-linecap="square" d="M56 40h0M52 35h0M49 34h0M42 25h0M40 24h0M45 26h0M43 28h0M58 37h0M39 23h0M51 35h0M45 28h0M45 27h0M51 33h0M49 25h0M57 40h0M53 31h0M37 22h0M54 14h0M46 29h0M39 20h0M51 25h0M43 29h0M49 30h0M79 23h0M56 37h0M42 11h0"/></svg><rect x="719.25" y="72.68" width="42.6" height="41.2" fill="#eaeaf2"/><path d="M725.22 72.68V113.88M745.13 72.68V113.88M719.25 103.58H761.85M719.25 76.47H761.85" stroke="#f4f4f8" stroke-width="0.6" fill="none"/><svg x="719.25" y="72.68" width="42.6" height="41.2" overflow="hidden"><path transform="scale(.5)" stroke="#fff" stroke-opacity="0.6" stroke-width="6.9" stroke-linecap="square" d="M30 8h0M31 50h0M39 47h0M21 43h0M30 49h0M31 37h0M27 44h0M37 49h0M31 49h0M24 56h0M29 51h0M33 46h0M39 42h0M40 54h0M36 50h0M47 55h0M31 56h0M30 56h0M22 61h0M41 57h0M13 47h0M34 59h0M27 38h0M41 51h0M45 46h0M39 72h0M32 44h0M48 41h0M42 48h0M39 62h0M36 36h0"/><path transform="scale(.5)" stroke="#d81818" stroke-width="6.0" stroke-linecap="square" d="M30 8h0M31 50h0M39 47h0M21 43h0M30 49h0M31 37h0M27 44h0M37 49h0M31 49h0M24 56h0M29 51h0M33 46h0M39 42h0M40 54h0M36 50h0M47 55h0M31 56h0M30 56h0M22 61h0M41 57h0M13 47h0M34 59h0M27 38h0M41 51h0M45 46h0M39 72h0M32 44h0M48 41h0M42 48h0M39 62h0M36 36h0"/><path transform="scale(.5)" stroke="#fff" stroke-opacity="0.6" stroke-width="6.9" stroke-linecap="square" d="M36 11h0M27 58h0M52 48h0M33 53h0M19 46h0M40 31h0M34 57h0M13 42h0M43 48h0M24 54h0M29 57h0M25 55h0M27 50h0M45 42h0M26 47h0M30 55h0M26 62h0M17 54h0M43 53h0M10 54h0M49 26h0M43 36h0M35 59h0M23 44h0M23 54h0M42 56h0M51 56h0M20 52h0M50 59h0M30 48h0M34 33h0"/><path transform="scale(.5)" stroke="#d81818" stroke-width="6.0" stroke-linecap="square" d="M36 11h0M27 58h0M52 48h0M33 53h0M19 46h0M40 31h0M34 57h0M13 42h0M43 48h0M24 54h0M29 57h0M25 55h0M27 50h0M45 42h0M26 47h0M30 55h0M26 62h0M17 54h0M43 53h0M10 54h0M49 26h0M43 36h0M35 59h0M23 44h0M23 54h0M42 56h0M51 56h0M20 52h0M50 59h0M30 48h0M34 33h0"/><path transform="scale(.5)" stroke="#fff" stroke-opacity="0.6" stroke-width="6.9" stroke-linecap="square" d="M26 46h0M41 48h0M27 54h0M20 40h0M23 50h0M30 59h0M14 55h0M43 50h0M20 48h0M32 47h0M31 43h0M48 47h0M36 48h0M26 50h0M22 38h0M38 53h0M30 57h0M38 58h0M33 57h0M33 51h0M44 47h0M26 43h0M36 58h0M33 54h0M34 45h0M43 49h0M31 25h0M45 52h0M38 33h0M14 26h0M34 56h0"/><path transform="scale(.5)" stroke="#d81818" stroke-width="6.0" stroke-linecap="square" d="M26 46h0M41 48h0M27 54h0M20 40h0M23 50h0M30 59h0M14 55h0M43 50h0M20 48h0M32 47h0M31 43h0M48 47h0M36 48h0M26 50h0M22 38h0M38 53h0M30 57h0M38 58h0M33 57h0M33 51h0M44 47h0M26 43h0M36 58h0M33 54h0M34 45h0M43 49h0M31 25h0M45 52h0M38 33h0M14 26h0M34 56h0"/><path transform="scale(.5)" stroke="#fff" stroke-opacity="0.6" stroke-width="6.9" stroke-linecap="square" d="M32 62h0M20 47h0M34 46h0M39 51h0M21 48h0M24 43h0M38 54h0M20 51h0M18 48h0M29 52h0M36 44h0M23 70h0M37 40h0M52 59h0M52 55h0M44 44h0M39 60h0M12 57h0M33 50h0M8 52h0M29 44h0M25 44h0M29 49h0M23 46h0M24 46h0M23 38h0M46 45h0M41 55h0M34 27h0M28 46h0"/><path transform="scale(.5)" stroke="#d81818" stroke-width="6.0" stroke-linecap="square" d="M32 62h0M20 47h0M34 46h0M39 51h0M21 48h0M24 43h0M38 54h0M20 51h0M18 48h0M29 52h0M36 44h0M23 70h0M37 40h0M52 59h0M52 55h0M44 44h0M39 60h0M12 57h0M33 50h0M8 52h0M29 44h0M25 44h0M29 49h0M23 46h0M24 46h0M23 38h0M46 45h0M41 55h0M34 27h0M28 46h0"/><path transform="scale(.5) rotate(45)" stroke="#fff" stroke-opacity="0.6" stroke-width="6.5" stroke-linecap="square" d="M83 4h0M89 -1h0M69 19h0M73 11h0M67 -1h0M75 4h0M72 2h0M71 2h0M65 1h0M72 -10h0M78 8h0M83 1h0M79 9h0M52 -7h0M81 7h0M78 10h0M67 -5h0M69 9h0M70 -4h0M75 1h0M77 -9h0M63 8h0M86 -2h0M71 6h0M73 -1h0M69 3h0M83 -4h0M74 1h0M80 11h0M78 -1h0M70 -3h0"/><path transform="scale(.5) rotate(45)" stroke="#1818d8" stroke-width="5.6" stroke-linecap="square" d="M83 4h0M89 -1h0M69 19h0M73 11h0M67 -1h0M75 4h0M72 2h0M71 2h0M65 1h0M72 -10h0M78 8h0M83 1h0M79 9h0M52 -7h0M81 7h0M78 10h0M67 -5h0M69 9h0M70 -4h0M75 1h0M77 -9h0M63 8h0M86 -2h0M71 6h0M73 -1h0M69 3h0M83 -4h0M74 1h0M80 11h0M78 -1h0M70 -3h0"/><path transform="scale(.5) rotate(45)" stroke="#fff" stroke-opacity="0.6" stroke-width="6.5" stroke-linecap="square" d="M69 -4h0M53 5h0M72 0h0M75 14h0M73 2h0M68 4h0M85 8h0M72 -1h0M66 13h0M86 6h0M76 5h0M77 1h0M76 3h0M79 1h0M67 11h0M66 -2h0M67 1h0M62 -9h0M73 1h0M74 -6h0M70 3h0M61 -2h0M74 -5h0M81 -5h0M77 7h0M78 5h0M63 -9h0M72 9h0M70 6h0M88 11h0M71 -15h0"/><path transform="scale(.5) rotate(45)" stroke="#1818d8" stroke-width="5.6" stroke-linecap="square" d="M69 -4h0M53 5h0M72 0h0M75 14h0M73 2h0M68 4h0M85 8h0M72 -1h0M66 13h0M86 6h0M76 5h0M77 1h0M76 3h0M79 1h0M67 11h0M66 -2h0M67 1h0M62 -9h0M73 1h0M74 -6h0M70 3h0M61 -2h0M74 -5h0M81 -5h0M77 7h0M78 5h0M63 -9h0M72 9h0M70 6h0M88 11h0M71 -15h0"/><path transform="scale(.5) rotate(45)" stroke="#fff" stroke-opacity="0.6" stroke-width="6.5" stroke-linecap="square" d="M87 8h0M85 2h0M72 5h0M71 0h0M69 1h0M78 6h0M64 14h0M74 4h0M62 10h0M76 -8h0M70 9h0M72 1h0M78 -7h0M69 0h0M67 7h0M85 12h0M64 19h0M62 -3h0M79 11h0M78 -11h0M75 0h0M70 2h0M80 1h0M80 -2h0M74 5h0M77 -11h0M83 14h0M73 13h0M73 3h0M70 -1h0M68 -3h0"/><path transform="scale(.5) rotate(45)" stroke="#1818d8" stroke-width="5.6" stroke-linecap="square" d="M87 8h0M85 2h0M72 5h0M71 0h0M69 1h0M78 6h0M64 14h0M74 4h0M62 10h0M76 -8h0M70 9h0M72 1h0M78 -7h0M69 0h0M67 7h0M85 12h0M64 19h0M62 -3h0M79 11h0M78 -11h0M75 0h0M70 2h0M80 1h0M80 -2h0M74 5h0M77 -11h0M83 14h0M73 13h0M73 3h0M70 -1h0M68 -3h0"/><path transform="scale(.5) rotate(45)" stroke="#fff" stroke-opacity="0.6" stroke-width="6.5" stroke-linecap="square" d="M92 5h0M72 8h0M65 2h0M62 2h0M86 9h0M79 -7h0M69 5h0M62 6h0M67 3h0M84 5h0M80 0h0M82 10h0M62 1h0M73 -2h0M73 19h0M80 -9h0M60 0h0M68 9h0M64 0h0M58 1h0M75 -5h0M63 -4h0M76 2h0M65 -11h0M74 -8h0M81 6h0M70 -6h0M97 5h0M82 11h0M65 -13h0M75 7h0"/><path transform="scale(.5) rotate(45)" stroke="#1818d8" stroke-width="5.6" stroke-linecap="square" d="M92 5h0M72 8h0M65 2h0M62 2h0M86 9h0M79 -7h0M69 5h0M62 6h0M67 3h0M84 5h0M80 0h0M82 10h0M62 1h0M73 -2h0M73 19h0M80 -9h0M60 0h0M68 9h0M64 0h0M58 1h0M75 -5h0M63 -4h0M76 2h0M65 -11h0M74 -8h0M81 6h0M70 -6h0M97 5h0M82 11h0M65 -13h0M75 7h0"/></svg><rect x="417.00" y="133.56" width="42.6" height="41.2" fill="#eaeaf2"/><path d="M419.43 133.56V174.76M460.01 133.56V174.76M417.00 174.50H459.60M417.00 148.75H459.60" stroke="#f4f4f8" stroke-width="0.6" fill="none"/><svg x="417.00" y="133.56" width="42.6" height="41.2" overflow="hidden"><path transform="scale(.5)" stroke="#fff" stroke-opacity="0.6" stroke-width="6.9" stroke-linecap="square" d="M13 57h0M18 61h0M20 63h0M10 82h0M15 61h0M10 61h0M5 63h0M10 57h0M16 66h0M8 41h0M10 54h0M15 57h0M14 52h0M17 56h0M7 55h0M67 68h0M67 70h0M55 57h0M71 73h0M73 60h0M45 47h0M45 55h0M42 62h0M30 60h0M52 47h0M39 54h0M48 50h0M27 59h0M38 65h0M42 59h0M29 54h0M48 66h0"/><path transform="scale(.5)" stroke="#d81818" stroke-width="6.0" stroke-linecap="square" d="M13 57h0M18 61h0M20 63h0M10 82h0M15 61h0M10 61h0M5 63h0M10 57h0M16 66h0M8 41h0M10 54h0M15 57h0M14 52h0M17 56h0M7 55h0M67 68h0M67 70h0M55 57h0M71 73h0M73 60h0M45 47h0M45 55h0M42 62h0M30 60h0M52 47h0M39 54h0M48 50h0M27 59h0M38 65h0M42 59h0M29 54h0M48 66h0"/><path transform="scale(.5)" stroke="#fff" stroke-opacity="0.6" stroke-width="6.9" stroke-linecap="square" d="M6 69h0M16 57h0M13 82h0M14 57h0M12 65h0M13 63h0M12 49h0M12 68h0M16 71h0M10 64h0M7 59h0M12 64h0M9 69h0M11 58h0M54 74h0M56 60h0M74 59h0M82 67h0M78 62h0M38 69h0M18 58h0M29 60h0M22 61h0M38 58h0M29 66h0M26 47h0M43 69h0M21 57h0M31 61h0M40 56h0M36 66h0M24 68h0"/><path transform="scale(.5)" stroke="#d81818" stroke-width="6.0" stroke-linecap="square" d="M6 69h0M16 57h0M13 82h0M14 57h0M12 65h0M13 63h0M12 49h0M12 68h0M16 71h0M10 64h0M7 59h0M12 64h0M9 69h0M11 58h0M54 74h0M56 60h0M74 59h0M82 67h0M78 62h0M38 69h0M18 58h0M29 60h0M22 61h0M38 58h0M29 66h0M26 47h0M43 69h0M21 57h0M31 61h0M40 56h0M36 66h0M24 68h0"/><path transform="scale(.5)" stroke="#fff" stroke-opacity="0.6" stroke-width="6.9" stroke-linecap="square" d="M14 82h0M9 81h0M13 59h0M13 64h0M7 62h0M8 74h0M11 63h0M15 50h0M6 54h0M11 55h0M14 67h0M9 67h0M5 62h0M11 67h0M79 60h0M76 76h0M76 66h0M61 73h0M56 66h0M26 51h0M26 61h0M19 60h0M44 56h0M35 59h0M20 60h0M23 59h0M22 65h0M48 63h0M20 51h0M35 53h0M25 59h0M51 49h0"/><path transform="scale(.5)" stroke="#d81818" stroke-width="6.0" stroke-linecap="square" d="M14 82h0M9 81h0M13 59h0M13 64h0M7 62h0M8 74h0M11 63h0M15 50h0M6 54h0M11 55h0M14 67h0M9 67h0M5 62h0M11 67h0M79 60h0M76 76h0M76 66h0M61 73h0M56 66h0M26 51h0M26 61h0M19 60h0M44 56h0M35 59h0M20 60h0M23 59h0M22 65h0M48 63h0M20 51h0M35 53h0M25 59h0M51 49h0"/><path transform="scale(.5)" stroke="#fff" stroke-opacity="0.6" stroke-width="6.9" stroke-linecap="square" d="M9 74h0M8 77h0M9 55h0M7 52h0M14 56h0M12 59h0M3 68h0M7 49h0M8 69h0M3 73h0M9 44h0M15 65h0M13 53h0M12 57h0M67 41h0M61 62h0M65 74h0M55 65h0M55 68h0M27 75h0M30 65h0M44 51h0M40 51h0M46 53h0M30 59h0M25 57h0M28 63h0M28 45h0M18 53h0M24 59h0M38 72h0"/><path transform="scale(.5)" stroke="#d81818" stroke-width="6.0" stroke-linecap="square" d="M9 74h0M8 77h0M9 55h0M7 52h0M14 56h0M12 59h0M3 68h0M7 49h0M8 69h0M3 73h0M9 44h0M15 65h0M13 53h0M12 57h0M67 41h0M61 62h0M65 74h0M55 65h0M55 68h0M27 75h0M30 65h0M44 51h0M40 51h0M46 53h0M30 59h0M25 57h0M28 63h0M28 45h0M18 53h0M24 59h0M38 72h0"/><path transform="scale(.5) rotate(45)" stroke="#fff" stroke-opacity="0.6" stroke-width="6.5" stroke-linecap="square" d="M35 -29h0M76 5h0M54 1h0M74 5h0M48 1h0M65 8h0M79 -9h0M47 10h0M53 18h0M67 -11h0M51 15h0M66 -7h0M71 -7h0M56 14h0M58 12h0M64 9h0M62 16h0M48 5h0M50 0h0M46 1h0M76 -7h0M80 3h0M56 -3h0M69 -4h0M47 31h0M54 6h0M57 -5h0M71 10h0M49 25h0M59 19h0M49 -21h0M58 3h0M66 6h0M37 12h0"/><path transform="scale(.5) rotate(45)" stroke="#1818d8" stroke-width="5.6" stroke-linecap="square" d="M35 -29h0M76 5h0M54 1h0M74 5h0M48 1h0M65 8h0M79 -9h0M47 10h0M53 18h0M67 -11h0M51 15h0M66 -7h0M71 -7h0M56 14h0M58 12h0M64 9h0M62 16h0M48 5h0M50 0h0M46 1h0M76 -7h0M80 3h0M56 -3h0M69 -4h0M47 31h0M54 6h0M57 -5h0M71 10h0M49 25h0M59 19h0M49 -21h0M58 3h0M66 6h0M37 12h0"/><path transform="scale(.5) rotate(45)" stroke="#fff" stroke-opacity="0.6" stroke-width="6.5" stroke-linecap="square" d="M58 24h0M38 12h0M43 1h0M54 3h0M57 6h0M61 4h0M50 10h0M67 -2h0M53 -6h0M69 17h0M71 -1h0M59 0h0M52 -1h0M49 -3h0M76 -14h0M46 11h0M66 -6h0M54 12h0M49 -2h0M62 -1h0M50 -6h0M53 6h0M53 3h0M59 -4h0M57 -2h0M57 14h0M60 16h0M69 10h0M70 0h0M74 7h0M67 9h0M58 10h0M65 7h0"/><path transform="scale(.5) rotate(45)" stroke="#1818d8" stroke-width="5.6" stroke-linecap="square" d="M58 24h0M38 12h0M43 1h0M54 3h0M57 6h0M61 4h0M50 10h0M67 -2h0M53 -6h0M69 17h0M71 -1h0M59 0h0M52 -1h0M49 -3h0M76 -14h0M46 11h0M66 -6h0M54 12h0M49 -2h0M62 -1h0M50 -6h0M53 6h0M53 3h0M59 -4h0M57 -2h0M57 14h0M60 16h0M69 10h0M70 0h0M74 7h0M67 9h0M58 10h0M65 7h0"/><path transform="scale(.5) rotate(45)" stroke="#fff" stroke-opacity="0.6" stroke-width="6.5" stroke-linecap="square" d="M61 2h0M62 -11h0M55 13h0M65 -2h0M47 -3h0M71 5h0M61 -14h0M64 5h0M55 16h0M51 32h0M68 25h0M70 10h0M50 26h0M60 -7h0M54 -2h0M61 -2h0M65 15h0M62 31h0M45 9h0M56 -4h0M75 -13h0M70 -4h0M44 21h0M66 -10h0M50 4h0M67 27h0M62 14h0M53 17h0M57 8h0M72 -16h0M62 4h0M68 -11h0M62 -6h0"/><path transform="scale(.5) rotate(45)" stroke="#1818d8" stroke-width="5.6" stroke-linecap="square" d="M61 2h0M62 -11h0M55 13h0M65 -2h0M47 -3h0M71 5h0M61 -14h0M64 5h0M55 16h0M51 32h0M68 25h0M70 10h0M50 26h0M60 -7h0M54 -2h0M61 -2h0M65 15h0M62 31h0M45 9h0M56 -4h0M75 -13h0M70 -4h0M44 21h0M66 -10h0M50 4h0M67 27h0M62 14h0M53 17h0M57 8h0M72 -16h0M62 4h0M68 -11h0M62 -6h0"/><path transform="scale(.5) rotate(45)" stroke="#fff" stroke-opacity="0.6" stroke-width="6.5" stroke-linecap="square" d="M60 8h0M57 3h0M58 27h0M77 9h0M61 -10h0M66 12h0M78 0h0M60 -9h0M64 14h0M51 18h0M57 27h0M52 10h0M41 5h0M62 18h0M66 19h0M75 5h0M61 1h0M54 -4h0M63 26h0M56 12h0M65 3h0M50 14h0M48 15h0M61 3h0M64 17h0M71 -4h0M61 -9h0M53 5h0M60 11h0M67 2h0M70 -9h0M51 -15h0M47 7h0"/><path transform="scale(.5) rotate(45)" stroke="#1818d8" stroke-width="5.6" stroke-linecap="square" d="M60 8h0M57 3h0M58 27h0M77 9h0M61 -10h0M66 12h0M78 0h0M60 -9h0M64 14h0M51 18h0M57 27h0M52 10h0M41 5h0M62 18h0M66 19h0M75 5h0M61 1h0M54 -4h0M63 26h0M56 12h0M65 3h0M50 14h0M48 15h0M61 3h0M64 17h0M71 -4h0M61 -9h0M53 5h0M60 11h0M67 2h0M70 -9h0M51 -15h0M47 7h0"/></svg><rect x="477.45" y="133.56" width="42.6" height="41.2" fill="#eaeaf2"/><path d="M488.10 133.56V174.76M516.13 133.56V174.76M477.45 174.50H520.05M477.45 148.75H520.05" stroke="#f4f4f8" stroke-width="0.6" fill="none"/><svg x="477.45" y="133.56" width="42.6" height="41.2" overflow="hidden"><path transform="scale(.5)" stroke="#fff" stroke-opacity="0.6" stroke-width="6.9" stroke-linecap="square" d="M77 57h0M34 61h0M37 63h0M41 82h0M38 65h0M53 63h0M26 49h0M42 57h0M36 49h0M29 69h0M27 73h0M38 67h0M42 67h0M30 62h0M34 56h0M29 55h0M27 68h0M27 70h0M30 67h0M26 62h0M32 69h0M40 58h0M40 60h0M25 61h0M37 47h0M37 54h0M46 50h0M39 59h0M28 65h0M57 59h0M58 54h0M51 68h0"/><path transform="scale(.5)" stroke="#d81818" stroke-width="6.0" stroke-linecap="square" d="M77 57h0M34 61h0M37 63h0M41 82h0M38 65h0M53 63h0M26 49h0M42 57h0M36 49h0M29 69h0M27 73h0M38 67h0M42 67h0M30 62h0M34 56h0M29 55h0M27 68h0M27 70h0M30 67h0M26 62h0M32 69h0M40 58h0M40 60h0M25 61h0M37 47h0M37 54h0M46 50h0M39 59h0M28 65h0M57 59h0M58 54h0M51 68h0"/><path transform="scale(.5)" stroke="#fff" stroke-opacity="0.6" stroke-width="6.9" stroke-linecap="square" d="M74 69h0M25 57h0M35 82h0M30 57h0M33 62h0M24 74h0M28 63h0M33 64h0M36 66h0M37 41h0M41 63h0M28 44h0M33 65h0M42 69h0M36 58h0M28 74h0M21 60h0M25 66h0M26 73h0M28 66h0M37 51h0M37 61h0M39 60h0M33 51h0M34 66h0M11 47h0M39 69h0M43 57h0M35 61h0M21 56h0M37 59h0M28 49h0"/><path transform="scale(.5)" stroke="#d81818" stroke-width="6.0" stroke-linecap="square" d="M74 69h0M25 57h0M35 82h0M30 57h0M33 62h0M24 74h0M28 63h0M33 64h0M36 66h0M37 41h0M41 63h0M28 44h0M33 65h0M42 69h0M36 58h0M28 74h0M21 60h0M25 66h0M26 73h0M28 66h0M37 51h0M37 61h0M39 60h0M33 51h0M34 66h0M11 47h0M39 69h0M43 57h0M35 61h0M21 56h0M37 59h0M28 49h0"/><path transform="scale(.5)" stroke="#fff" stroke-opacity="0.6" stroke-width="6.9" stroke-linecap="square" d="M38 82h0M35 81h0M29 59h0M44 64h0M36 56h0M41 59h0M29 63h0M33 68h0M35 71h0M31 64h0M38 54h0M36 57h0M36 52h0M34 53h0M46 67h0M30 60h0M27 76h0M27 74h0M34 65h0M29 68h0M58 75h0M24 65h0M46 51h0M29 58h0M29 60h0M28 59h0M27 65h0M32 63h0M24 51h0M36 53h0M42 72h0"/><path transform="scale(.5)" stroke="#d81818" stroke-width="6.0" stroke-linecap="square" d="M38 82h0M35 81h0M29 59h0M44 64h0M36 56h0M41 59h0M29 63h0M33 68h0M35 71h0M31 64h0M38 54h0M36 57h0M36 52h0M34 53h0M46 67h0M30 60h0M27 76h0M27 74h0M34 65h0M29 68h0M58 75h0M24 65h0M46 51h0M29 58h0M29 60h0M28 59h0M27 65h0M32 63h0M24 51h0M36 53h0M42 72h0"/><path transform="scale(.5)" stroke="#fff" stroke-opacity="0.6" stroke-width="6.9" stroke-linecap="square" d="M21 74h0M36 77h0M37 55h0M33 52h0M47 61h0M40 63h0M34 68h0M34 50h0M27 54h0M32 55h0M40 59h0M12 64h0M44 69h0M25 64h0M28 57h0M40 41h0M23 62h0M22 57h0M33 73h0M32 60h0M36 47h0M48 55h0M24 62h0M38 53h0M38 59h0M35 57h0M59 63h0M31 45h0M51 53h0M30 59h0M48 66h0"/><path transform="scale(.5)" stroke="#d81818" stroke-width="6.0" stroke-linecap="square" d="M21 74h0M36 77h0M37 55h0M33 52h0M47 61h0M40 63h0M34 68h0M34 50h0M27 54h0M32 55h0M40 59h0M12 64h0M44 69h0M25 64h0M28 57h0M40 41h0M23 62h0M22 57h0M33 73h0M32 60h0M36 47h0M48 55h0M24 62h0M38 53h0M38 59h0M35 57h0M59 63h0M31 45h0M51 53h0M30 59h0M48 66h0"/><path transform="scale(.5) rotate(45)" stroke="#fff" stroke-opacity="0.6" stroke-width="6.5" stroke-linecap="square" d="M18 -12h0M55 26h0M43 13h0M57 23h0M50 -2h0M55 17h0M58 12h0M48 8h0M58 13h0M39 17h0M61 5h0M45 14h0M48 15h0M50 20h0M72 -2h0M52 5h0M42 18h0M56 10h0M40 6h0M60 1h0M49 20h0M67 16h0M48 5h0M51 5h0M46 8h0M56 15h0M57 19h0M51 20h0M54 16h0M56 25h0M49 9h0M51 9h0M27 9h0M59 -4h0"/><path transform="scale(.5) rotate(45)" stroke="#1818d8" stroke-width="5.6" stroke-linecap="square" d="M18 -12h0M55 26h0M43 13h0M57 23h0M50 -2h0M55 17h0M58 12h0M48 8h0M58 13h0M39 17h0M61 5h0M45 14h0M48 15h0M50 20h0M72 -2h0M52 5h0M42 18h0M56 10h0M40 6h0M60 1h0M49 20h0M67 16h0M48 5h0M51 5h0M46 8h0M56 15h0M57 19h0M51 20h0M54 16h0M56 25h0M49 9h0M51 9h0M27 9h0M59 -4h0"/><path transform="scale(.5) rotate(45)" stroke="#fff" stroke-opacity="0.6" stroke-width="6.5" stroke-linecap="square" d="M68 15h0M55 -5h0M45 -1h0M42 14h0M53 10h0M60 5h0M51 8h0M55 11h0M43 4h0M63 23h0M48 22h0M47 11h0M46 6h0M42 4h0M43 9h0M44 15h0M55 25h0M69 25h0M57 -3h0M47 6h0M49 -5h0M59 0h0M52 4h0M58 -2h0M47 7h0M79 15h0M64 12h0M48 9h0M59 5h0M36 21h0M59 17h0M50 10h0M60 12h0M52 -2h0"/><path transform="scale(.5) rotate(45)" stroke="#1818d8" stroke-width="5.6" stroke-linecap="square" d="M68 15h0M55 -5h0M45 -1h0M42 14h0M53 10h0M60 5h0M51 8h0M55 11h0M43 4h0M63 23h0M48 22h0M47 11h0M46 6h0M42 4h0M43 9h0M44 15h0M55 25h0M69 25h0M57 -3h0M47 6h0M49 -5h0M59 0h0M52 4h0M58 -2h0M47 7h0M79 15h0M64 12h0M48 9h0M59 5h0M36 21h0M59 17h0M50 10h0M60 12h0M52 -2h0"/><path transform="scale(.5) rotate(45)" stroke="#fff" stroke-opacity="0.6" stroke-width="6.5" stroke-linecap="square" d="M43 20h0M41 10h0M55 13h0M55 8h0M46 -2h0M61 15h0M47 0h0M57 12h0M60 10h0M64 18h0M72 21h0M59 21h0M60 16h0M50 3h0M65 19h0M60 21h0M59 4h0M53 -4h0M64 25h0M60 8h0M52 10h0M58 8h0M53 9h0M49 15h0M61 20h0M57 10h0M49 3h0M61 -3h0M57 14h0M48 21h0M53 13h0M54 14h0M61 10h0M51 16h0"/><path transform="scale(.5) rotate(45)" stroke="#1818d8" stroke-width="5.6" stroke-linecap="square" d="M43 20h0M41 10h0M55 13h0M55 8h0M46 -2h0M61 15h0M47 0h0M57 12h0M60 10h0M64 18h0M72 21h0M59 21h0M60 16h0M50 3h0M65 19h0M60 21h0M59 4h0M53 -4h0M64 25h0M60 8h0M52 10h0M58 8h0M53 9h0M49 15h0M61 20h0M57 10h0M49 3h0M61 -3h0M57 14h0M48 21h0M53 13h0M54 14h0M61 10h0M51 16h0"/><path transform="scale(.5) rotate(45)" stroke="#fff" stroke-opacity="0.6" stroke-width="6.5" stroke-linecap="square" d="M44 24h0M49 11h0M68 17h0M70 16h0M36 15h0M56 22h0M51 27h0M48 2h0M66 13h0M58 10h0M56 28h0M50 12h0M36 10h0M68 12h0M61 11h0M61 17h0M37 16h0M50 0h0M56 -10h0M56 13h0M60 9h0M54 9h0M62 2h0M63 14h0M52 9h0M43 10h0M58 23h0M47 27h0M57 20h0M35 -6h0M43 18h0M43 14h0M61 -5h0"/><path transform="scale(.5) rotate(45)" stroke="#1818d8" stroke-width="5.6" stroke-linecap="square" d="M44 24h0M49 11h0M68 17h0M70 16h0M36 15h0M56 22h0M51 27h0M48 2h0M66 13h0M58 10h0M56 28h0M50 12h0M36 10h0M68 12h0M61 11h0M61 17h0M37 16h0M50 0h0M56 -10h0M56 13h0M60 9h0M54 9h0M62 2h0M63 14h0M52 9h0M43 10h0M58 23h0M47 27h0M57 20h0M35 -6h0M43 18h0M43 14h0M61 -5h0"/></svg><rect x="537.90" y="133.56" width="42.6" height="41.2" fill="#eaeaf2"/><path d="M538.17 133.56V174.76M564.79 133.56V174.76M537.90 174.50H580.50M537.90 148.75H580.50" stroke="#f4f4f8" stroke-width="0.6" fill="none"/><svg x="537.90" y="133.56" width="42.6" height="41.2" overflow="hidden"><g transform="translate(-537.90,-133.56)"><rect x="541.10" y="173.96" width="3.55" height="0.80" fill="#e00000"/><rect x="544.60" y="173.26" width="3.55" height="1.50" fill="#e00000"/><rect x="548.10" y="172.46" width="3.55" height="2.30" fill="#e00000"/><rect x="548.10" y="170.06" width="3.55" height="2.42" fill="#0000ee"/><rect x="551.60" y="160.26" width="3.55" height="14.50" fill="#e00000"/><rect x="551.60" y="156.96" width="3.55" height="3.32" fill="#0000ee"/><rect x="555.10" y="168.96" width="3.55" height="5.80" fill="#e00000"/><rect x="555.10" y="166.66" width="3.55" height="2.32" fill="#0000ee"/><rect x="558.60" y="171.26" width="3.55" height="3.50" fill="#e00000"/><rect x="558.60" y="168.16" width="3.55" height="3.12" fill="#0000ee"/><rect x="562.10" y="173.76" width="3.55" height="1.00" fill="#e00000"/><rect x="562.10" y="173.36" width="3.55" height="0.42" fill="#0000ee"/><rect x="565.60" y="174.46" width="3.55" height="0.30" fill="#e00000"/><rect x="565.60" y="174.26" width="3.55" height="0.22" fill="#0000ee"/></g></svg><rect x="598.35" y="133.56" width="42.6" height="41.2" fill="#eaeaf2"/><path d="M608.16 133.56V174.76M638.80 133.56V174.76M598.35 174.50H640.95M598.35 148.75H640.95" stroke="#f4f4f8" stroke-width="0.6" fill="none"/><svg x="598.35" y="133.56" width="42.6" height="41.2" overflow="hidden"><path transform="scale(.5)" stroke="#fff" stroke-opacity="0.6" stroke-width="6.9" stroke-linecap="square" d="M19 57h0M18 61h0M21 63h0M20 82h0M21 65h0M19 63h0M21 49h0M20 68h0M20 71h0M18 64h0M20 59h0M20 65h0M17 53h0M18 55h0M19 76h0M20 73h0M19 51h0M17 65h0M18 58h0M18 47h0M18 51h0"/><path transform="scale(.5)" stroke="#d81818" stroke-width="6.0" stroke-linecap="square" d="M19 57h0M18 61h0M21 63h0M20 82h0M21 65h0M19 63h0M21 49h0M20 68h0M20 71h0M18 64h0M20 59h0M20 65h0M17 53h0M18 55h0M19 76h0M20 73h0M19 51h0M17 65h0M18 58h0M18 47h0M18 51h0"/><path transform="scale(.5)" stroke="#fff" stroke-opacity="0.6" stroke-width="6.9" stroke-linecap="square" d="M17 69h0M18 57h0M19 82h0M17 64h0M19 62h0M19 74h0M18 63h0M18 50h0M18 54h0M19 55h0M19 67h0M20 52h0M20 64h0M20 60h0M20 70h0M19 65h0M20 75h0M20 62h0M19 53h0M19 50h0M18 53h0"/><path transform="scale(.5)" stroke="#d81818" stroke-width="6.0" stroke-linecap="square" d="M17 69h0M18 57h0M19 82h0M17 64h0M19 62h0M19 74h0M18 63h0M18 50h0M18 54h0M19 55h0M19 67h0M20 52h0M20 64h0M20 60h0M20 70h0M19 65h0M20 75h0M20 62h0M19 53h0M19 50h0M18 53h0"/><path transform="scale(.5)" stroke="#fff" stroke-opacity="0.6" stroke-width="6.9" stroke-linecap="square" d="M18 82h0M21 81h0M19 59h0M18 52h0M19 56h0M18 59h0M18 68h0M19 49h0M19 69h0M19 73h0M18 44h0M20 69h0M17 56h0M17 41h0M19 66h0M18 62h0M21 47h0M20 61h0M19 47h0M19 45h0M17 66h0"/><path transform="scale(.5)" stroke="#d81818" stroke-width="6.0" stroke-linecap="square" d="M18 82h0M21 81h0M19 59h0M18 52h0M19 56h0M18 59h0M18 68h0M19 49h0M19 69h0M19 73h0M18 44h0M20 69h0M17 56h0M17 41h0M19 66h0M18 62h0M21 47h0M20 61h0M19 47h0M19 45h0M17 66h0"/><path transform="scale(.5)" stroke="#fff" stroke-opacity="0.6" stroke-width="6.9" stroke-linecap="square" d="M20 74h0M20 77h0M20 55h0M17 61h0M19 61h0M17 63h0M19 64h0M18 66h0M20 41h0M19 54h0M20 67h0M17 62h0M19 58h0M19 68h0M20 57h0M19 60h0M20 58h0M18 56h0M21 66h0M18 65h0M19 72h0"/><path transform="scale(.5)" stroke="#d81818" stroke-width="6.0" stroke-linecap="square" d="M20 74h0M20 77h0M20 55h0M17 61h0M19 61h0M17 63h0M19 64h0M18 66h0M20 41h0M19 54h0M20 67h0M17 62h0M19 58h0M19 68h0M20 57h0M19 60h0M20 58h0M18 56h0M21 66h0M18 65h0M19 72h0"/><path transform="scale(.5) rotate(45)" stroke="#fff" stroke-opacity="0.6" stroke-width="6.5" stroke-linecap="square" d="M17 -11h0M52 28h0M40 15h0M68 11h0M48 0h0M57 15h0M54 16h0M43 13h0M50 21h0M46 10h0M51 18h0M44 14h0M37 15h0M45 1h0M55 7h0M46 11h0M46 14h0M67 27h0M39 15h0M37 16h0M44 0h0M44 15h0M45 20h0M56 22h0M47 24h0M43 9h0M48 9h0M47 18h0M60 9h0M45 16h0M58 -1h0M43 6h0"/><path transform="scale(.5) rotate(45)" stroke="#1818d8" stroke-width="5.6" stroke-linecap="square" d="M17 -11h0M52 28h0M40 15h0M68 11h0M48 0h0M57 15h0M54 16h0M43 13h0M50 21h0M46 10h0M51 18h0M44 14h0M37 15h0M45 1h0M55 7h0M46 11h0M46 14h0M67 27h0M39 15h0M37 16h0M44 0h0M44 15h0M45 20h0M56 22h0M47 24h0M43 9h0M48 9h0M47 18h0M60 9h0M45 16h0M58 -1h0M43 6h0"/><path transform="scale(.5) rotate(45)" stroke="#fff" stroke-opacity="0.6" stroke-width="6.5" stroke-linecap="square" d="M54 28h0M44 6h0M42 2h0M53 4h0M43 21h0M52 13h0M45 15h0M48 18h0M41 6h0M67 19h0M60 33h0M54 25h0M48 28h0M40 14h0M41 11h0M61 -2h0M56 24h0M47 2h0M66 23h0M51 17h0M59 3h0M48 16h0M48 8h0M43 11h0M62 32h0M55 26h0M43 14h0M55 16h0M30 -2h0M53 7h0M27 9h0M44 11h0"/><path transform="scale(.5) rotate(45)" stroke="#1818d8" stroke-width="5.6" stroke-linecap="square" d="M54 28h0M44 6h0M42 2h0M53 4h0M43 21h0M52 13h0M45 15h0M48 18h0M41 6h0M67 19h0M60 33h0M54 25h0M48 28h0M40 14h0M41 11h0M61 -2h0M56 24h0M47 2h0M66 23h0M51 17h0M59 3h0M48 16h0M48 8h0M43 11h0M62 32h0M55 26h0M43 14h0M55 16h0M30 -2h0M53 7h0M27 9h0M44 11h0"/><path transform="scale(.5) rotate(45)" stroke="#fff" stroke-opacity="0.6" stroke-width="6.5" stroke-linecap="square" d="M86 -23h0M44 7h0M57 11h0M52 11h0M31 13h0M55 21h0M34 14h0M56 13h0M57 13h0M55 27h0M66 18h0M45 17h0M40 5h0M50 29h0M59 26h0M67 13h0M54 -1h0M42 8h0M33 13h0M58 11h0M53 16h0M51 5h0M44 12h0M56 25h0M46 21h0M53 26h0M53 20h0M51 27h0M50 7h0M43 17h0M47 25h0M40 9h0"/><path transform="scale(.5) rotate(45)" stroke="#1818d8" stroke-width="5.6" stroke-linecap="square" d="M86 -23h0M44 7h0M57 11h0M52 11h0M31 13h0M55 21h0M34 14h0M56 13h0M57 13h0M55 27h0M66 18h0M45 17h0M40 5h0M50 29h0M59 26h0M67 13h0M54 -1h0M42 8h0M33 13h0M58 11h0M53 16h0M51 5h0M44 12h0M56 25h0M46 21h0M53 26h0M53 20h0M51 27h0M50 7h0M43 17h0M47 25h0M40 9h0"/><path transform="scale(.5) rotate(45)" stroke="#fff" stroke-opacity="0.6" stroke-width="6.5" stroke-linecap="square" d="M65 3h0M46 13h0M56 28h0M66 21h0M47 4h0M55 22h0M62 16h0M39 12h0M63 15h0M58 10h0M38 21h0M48 15h0M67 3h0M49 21h0M49 23h0M60 18h0M47 19h0M43 3h0M48 13h0M46 23h0M65 19h0M51 15h0M58 6h0M41 20h0M50 25h0M50 20h0M58 12h0M42 14h0M54 23h0M48 11h0M36 20h0"/><path transform="scale(.5) rotate(45)" stroke="#1818d8" stroke-width="5.6" stroke-linecap="square" d="M65 3h0M46 13h0M56 28h0M66 21h0M47 4h0M55 22h0M62 16h0M39 12h0M63 15h0M58 10h0M38 21h0M48 15h0M67 3h0M49 21h0M49 23h0M60 18h0M47 19h0M43 3h0M48 13h0M46 23h0M65 19h0M51 15h0M58 6h0M41 20h0M50 25h0M50 20h0M58 12h0M42 14h0M54 23h0M48 11h0M36 20h0"/></svg><rect x="658.80" y="133.56" width="42.6" height="41.2" fill="#eaeaf2"/><path d="M664.00 133.56V174.76M684.00 133.56V174.76M658.80 174.50H701.40M658.80 148.75H701.40" stroke="#f4f4f8" stroke-width="0.6" fill="none"/><svg x="658.80" y="133.56" width="42.6" height="41.2" overflow="hidden"><path transform="scale(.5)" stroke="#fff" stroke-opacity="0.6" stroke-width="6.9" stroke-linecap="square" d="M27 57h0M27 61h0M12 63h0M12 57h0M14 65h0M11 74h0M33 63h0M14 68h0M11 71h0M13 55h0M11 44h0M12 52h0M50 64h0M13 60h0M15 76h0M15 66h0M15 73h0M13 75h0M11 60h0M29 56h0M11 47h0M12 47h0M13 45h0M16 56h0M50 66h0M37 49h0"/><path transform="scale(.5)" stroke="#d81818" stroke-width="6.0" stroke-linecap="square" d="M27 57h0M27 61h0M12 63h0M12 57h0M14 65h0M11 74h0M33 63h0M14 68h0M11 71h0M13 55h0M11 44h0M12 52h0M50 64h0M13 60h0M15 76h0M15 66h0M15 73h0M13 75h0M11 60h0M29 56h0M11 47h0M12 47h0M13 45h0M16 56h0M50 66h0M37 49h0"/><path transform="scale(.5)" stroke="#fff" stroke-opacity="0.6" stroke-width="6.9" stroke-linecap="square" d="M33 69h0M11 57h0M11 82h0M19 64h0M11 62h0M13 59h0M40 68h0M11 50h0M10 54h0M27 73h0M14 57h0M40 62h0M34 56h0M12 41h0M14 62h0M12 67h0M12 66h0M13 47h0M13 51h0M41 51h0M14 66h0M12 50h0M41 65h0M11 53h0M11 72h0"/><path transform="scale(.5)" stroke="#d81818" stroke-width="6.0" stroke-linecap="square" d="M33 69h0M11 57h0M11 82h0M19 64h0M11 62h0M13 59h0M40 68h0M11 50h0M10 54h0M27 73h0M14 57h0M40 62h0M34 56h0M12 41h0M14 62h0M12 67h0M12 66h0M13 47h0M13 51h0M41 51h0M14 66h0M12 50h0M41 65h0M11 53h0M11 72h0"/><path transform="scale(.5)" stroke="#fff" stroke-opacity="0.6" stroke-width="6.9" stroke-linecap="square" d="M14 82h0M40 81h0M12 59h0M27 52h0M18 56h0M10 63h0M10 57h0M11 49h0M11 69h0M28 63h0M13 64h0M16 69h0M11 58h0M11 68h0M12 70h0M14 73h0M10 69h0M14 58h0M31 62h0M18 59h0M25 60h0M23 69h0M56 51h0M38 59h0M11 66h0"/><path transform="scale(.5)" stroke="#d81818" stroke-width="6.0" stroke-linecap="square" d="M14 82h0M40 81h0M12 59h0M27 52h0M18 56h0M10 63h0M10 57h0M11 49h0M11 69h0M28 63h0M13 64h0M16 69h0M11 58h0M11 68h0M12 70h0M14 73h0M10 69h0M14 58h0M31 62h0M18 59h0M25 60h0M23 69h0M56 51h0M38 59h0M11 66h0"/><path transform="scale(.5)" stroke="#fff" stroke-opacity="0.6" stroke-width="6.9" stroke-linecap="square" d="M12 74h0M13 77h0M28 55h0M12 61h0M13 61h0M13 49h0M11 64h0M10 66h0M11 41h0M11 67h0M13 65h0M32 53h0M13 57h0M12 60h0M11 59h0M12 65h0M15 51h0M11 55h0M32 61h0M16 53h0M11 54h0M11 63h0M12 53h0M12 54h0M13 68h0"/><path transform="scale(.5)" stroke="#d81818" stroke-width="6.0" stroke-linecap="square" d="M12 74h0M13 77h0M28 55h0M12 61h0M13 61h0M13 49h0M11 64h0M10 66h0M11 41h0M11 67h0M13 65h0M32 53h0M13 57h0M12 60h0M11 59h0M12 65h0M15 51h0M11 55h0M32 61h0M16 53h0M11 54h0M11 63h0M12 53h0M12 54h0M13 68h0"/><path transform="scale(.5) rotate(45)" stroke="#fff" stroke-opacity="0.6" stroke-width="6.5" stroke-linecap="square" d="M15 -8h0M49 31h0M36 19h0M47 32h0M33 15h0M44 29h0M43 27h0M41 24h0M32 15h0M51 31h0M51 34h0M37 9h0M50 30h0M74 -1h0M51 27h0M56 38h0M36 18h0M54 14h0M51 32h0M41 22h0M35 19h0M57 37h0M33 19h0M42 23h0M24 4h0M40 21h0M44 12h0"/><path transform="scale(.5) rotate(45)" stroke="#1818d8" stroke-width="5.6" stroke-linecap="square" d="M15 -8h0M49 31h0M36 19h0M47 32h0M33 15h0M44 29h0M43 27h0M41 24h0M32 15h0M51 31h0M51 34h0M37 9h0M50 30h0M74 -1h0M51 27h0M56 38h0M36 18h0M54 14h0M51 32h0M41 22h0M35 19h0M57 37h0M33 19h0M42 23h0M24 4h0M40 21h0M44 12h0"/><path transform="scale(.5) rotate(45)" stroke="#fff" stroke-opacity="0.6" stroke-width="6.5" stroke-linecap="square" d="M50 33h0M32 17h0M30 14h0M36 20h0M39 24h0M40 24h0M48 11h0M42 27h0M48 31h0M41 25h0M37 22h0M43 28h0M40 22h0M37 20h0M44 16h0M47 3h0M54 35h0M31 13h0M53 12h0M43 22h0M49 32h0M42 25h0M52 30h0M48 30h0M36 21h0M40 19h0M34 16h0"/><path transform="scale(.5) rotate(45)" stroke="#1818d8" stroke-width="5.6" stroke-linecap="square" d="M50 33h0M32 17h0M30 14h0M36 20h0M39 24h0M40 24h0M48 11h0M42 27h0M48 31h0M41 25h0M37 22h0M43 28h0M40 22h0M37 20h0M44 16h0M47 3h0M54 35h0M31 13h0M53 12h0M43 22h0M49 32h0M42 25h0M52 30h0M48 30h0M36 21h0M40 19h0M34 16h0"/><path transform="scale(.5) rotate(45)" stroke="#fff" stroke-opacity="0.6" stroke-width="6.5" stroke-linecap="square" d="M40 23h0M35 16h0M44 24h0M52 11h0M33 11h0M46 31h0M33 14h0M33 18h0M38 18h0M43 26h0M34 18h0M41 5h0M35 17h0M38 21h0M48 32h0M33 17h0M42 5h0M39 23h0M41 23h0M38 19h0M43 17h0M36 16h0M49 21h0M56 0h0M47 29h0M26 10h0"/><path transform="scale(.5) rotate(45)" stroke="#1818d8" stroke-width="5.6" stroke-linecap="square" d="M40 23h0M35 16h0M44 24h0M52 11h0M33 11h0M46 31h0M33 14h0M33 18h0M38 18h0M43 26h0M34 18h0M41 5h0M35 17h0M38 21h0M48 32h0M33 17h0M42 5h0M39 23h0M41 23h0M38 19h0M43 17h0M36 16h0M49 21h0M56 0h0M47 29h0M26 10h0"/><path transform="scale(.5) rotate(45)" stroke="#fff" stroke-opacity="0.6" stroke-width="6.5" stroke-linecap="square" d="M42 26h0M38 22h0M50 34h0M53 33h0M34 17h0M60 18h0M63 -6h0M76 -5h0M51 35h0M56 37h0M46 29h0M35 18h0M52 33h0M48 33h0M46 20h0M34 12h0M38 23h0M55 14h0M37 19h0M47 30h0M44 27h0M61 14h0M45 29h0M46 23h0M39 22h0M46 26h0"/><path transform="scale(.5) rotate(45)" stroke="#1818d8" stroke-width="5.6" stroke-linecap="square" d="M42 26h0M38 22h0M50 34h0M53 33h0M34 17h0M60 18h0M63 -6h0M76 -5h0M51 35h0M56 37h0M46 29h0M35 18h0M52 33h0M48 33h0M46 20h0M34 12h0M38 23h0M55 14h0M37 19h0M47 30h0M44 27h0M61 14h0M45 29h0M46 23h0M39 22h0M46 26h0"/></svg><rect x="719.25" y="133.56" width="42.6" height="41.2" fill="#eaeaf2"/><path d="M725.22 133.56V174.76M745.13 133.56V174.76M719.25 174.50H761.85M719.25 148.75H761.85" stroke="#f4f4f8" stroke-width="0.6" fill="none"/><svg x="719.25" y="133.56" width="42.6" height="41.2" overflow="hidden"><path transform="scale(.5)" stroke="#fff" stroke-opacity="0.6" stroke-width="6.9" stroke-linecap="square" d="M30 57h0M31 61h0M39 63h0M21 82h0M30 61h0M40 63h0M34 49h0M13 57h0M43 49h0M24 69h0M29 73h0M33 67h0M39 67h0M40 62h0M36 56h0M47 55h0M26 60h0M17 59h0M43 67h0M41 62h0M8 69h0M29 58h0M25 60h0M29 56h0M23 53h0M42 59h0M51 65h0M41 65h0M39 56h0M50 66h0M34 68h0"/><path transform="scale(.5)" stroke="#d81818" stroke-width="6.0" stroke-linecap="square" d="M30 57h0M31 61h0M39 63h0M21 82h0M30 61h0M40 63h0M34 49h0M13 57h0M43 49h0M24 69h0M29 73h0M33 67h0M39 67h0M40 62h0M36 56h0M47 55h0M26 60h0M17 59h0M43 67h0M41 62h0M8 69h0M29 58h0M25 60h0M29 56h0M23 53h0M42 59h0M51 65h0M41 65h0M39 56h0M50 66h0M34 68h0"/><path transform="scale(.5)" stroke="#fff" stroke-opacity="0.6" stroke-width="6.9" stroke-linecap="square" d="M36 69h0M27 57h0M52 82h0M33 57h0M19 65h0M30 74h0M14 63h0M43 64h0M20 66h0M32 41h0M31 63h0M25 44h0M27 65h0M45 69h0M26 58h0M38 60h0M30 76h0M38 66h0M33 73h0M30 66h0M13 51h0M33 61h0M27 51h0M41 51h0M45 47h0M43 57h0M46 59h0M42 61h0M30 53h0M28 59h0"/><path transform="scale(.5)" stroke="#d81818" stroke-width="6.0" stroke-linecap="square" d="M36 69h0M27 57h0M52 82h0M33 57h0M19 65h0M30 74h0M14 63h0M43 64h0M20 66h0M32 41h0M31 63h0M25 44h0M27 65h0M45 69h0M26 58h0M38 60h0M30 76h0M38 66h0M33 73h0M30 66h0M13 51h0M33 61h0M27 51h0M41 51h0M45 47h0M43 57h0M46 59h0M42 61h0M30 53h0M28 59h0"/><path transform="scale(.5)" stroke="#fff" stroke-opacity="0.6" stroke-width="6.9" stroke-linecap="square" d="M26 82h0M41 81h0M27 59h0M20 64h0M23 62h0M24 59h0M38 63h0M20 68h0M18 71h0M29 64h0M26 54h0M48 57h0M36 52h0M26 53h0M22 67h0M44 41h0M39 62h0M12 74h0M33 65h0M10 68h0M49 75h0M34 65h0M35 62h0M23 60h0M34 59h0M23 50h0M20 63h0M50 51h0M38 59h0M39 72h0"/><path transform="scale(.5)" stroke="#d81818" stroke-width="6.0" stroke-linecap="square" d="M26 82h0M41 81h0M27 59h0M20 64h0M23 62h0M24 59h0M38 63h0M20 68h0M18 71h0M29 64h0M26 54h0M48 57h0M36 52h0M26 53h0M22 67h0M44 41h0M39 62h0M12 74h0M33 65h0M10 68h0M49 75h0M34 65h0M35 62h0M23 60h0M34 59h0M23 50h0M20 63h0M50 51h0M38 59h0M39 72h0"/><path transform="scale(.5)" stroke="#fff" stroke-opacity="0.6" stroke-width="6.9" stroke-linecap="square" d="M32 74h0M20 77h0M34 55h0M39 52h0M21 56h0M27 63h0M37 68h0M31 50h0M24 54h0M29 55h0M36 59h0M23 64h0M37 69h0M52 64h0M52 57h0M31 68h0M30 70h0M22 57h0M31 73h0M33 60h0M44 47h0M43 55h0M36 61h0M33 58h0M39 47h0M32 69h0M45 45h0M38 53h0M14 54h0M36 66h0"/><path transform="scale(.5)" stroke="#d81818" stroke-width="6.0" stroke-linecap="square" d="M32 74h0M20 77h0M34 55h0M39 52h0M21 56h0M27 63h0M37 68h0M31 50h0M24 54h0M29 55h0M36 59h0M23 64h0M37 69h0M52 64h0M52 57h0M31 68h0M30 70h0M22 57h0M31 73h0M33 60h0M44 47h0M43 55h0M36 61h0M33 58h0M39 47h0M32 69h0M45 45h0M38 53h0M14 54h0M36 66h0"/><path transform="scale(.5) rotate(45)" stroke="#fff" stroke-opacity="0.6" stroke-width="6.5" stroke-linecap="square" d="M43 -36h0M85 -4h0M53 2h0M71 9h0M58 -10h0M63 2h0M64 -5h0M65 1h0M58 -11h0M69 17h0M75 -5h0M70 9h0M73 2h0M69 -16h0M78 7h0M68 12h0M65 -3h0M61 -11h0M75 14h0M70 -1h0M74 -6h0M66 -2h0M63 1h0M78 -1h0M73 -13h0M61 -8h0M77 4h0M64 -7h0M71 7h0M63 3h0M72 0h0M60 -11h0"/><path transform="scale(.5) rotate(45)" stroke="#1818d8" stroke-width="5.6" stroke-linecap="square" d="M43 -36h0M85 -4h0M53 2h0M71 9h0M58 -10h0M63 2h0M64 -5h0M65 1h0M58 -11h0M69 17h0M75 -5h0M70 9h0M73 2h0M69 -16h0M78 7h0M68 12h0M65 -3h0M61 -11h0M75 14h0M70 -1h0M74 -6h0M66 -2h0M63 1h0M78 -1h0M73 -13h0M61 -8h0M77 4h0M64 -7h0M71 7h0M63 3h0M72 0h0M60 -11h0"/><path transform="scale(.5) rotate(45)" stroke="#fff" stroke-opacity="0.6" stroke-width="6.5" stroke-linecap="square" d="M78 4h0M49 1h0M58 -14h0M59 -2h0M56 -12h0M70 6h0M59 -11h0M69 0h0M64 7h0M67 15h0M88 5h0M71 -9h0M59 -13h0M65 6h0M71 2h0M69 9h0M63 -10h0M58 -8h0M63 -2h0M69 1h0M86 -3h0M68 -12h0M62 -6h0M67 -12h0M77 -5h0M72 4h0M83 -4h0M79 -8h0M70 11h0M66 -5h0M69 3h0M68 -1h0"/><path transform="scale(.5) rotate(45)" stroke="#1818d8" stroke-width="5.6" stroke-linecap="square" d="M78 4h0M49 1h0M58 -14h0M59 -2h0M56 -12h0M70 6h0M59 -11h0M69 0h0M64 7h0M67 15h0M88 5h0M71 -9h0M59 -13h0M65 6h0M71 2h0M69 9h0M63 -10h0M58 -8h0M63 -2h0M69 1h0M86 -3h0M68 -12h0M62 -6h0M67 -12h0M77 -5h0M72 4h0M83 -4h0M79 -8h0M70 11h0M66 -5h0M69 3h0M68 -1h0"/><path transform="scale(.5) rotate(45)" stroke="#fff" stroke-opacity="0.6" stroke-width="6.5" stroke-linecap="square" d="M71 -8h0M67 -16h0M68 1h0M67 -4h0M64 -13h0M75 3h0M78 1h0M62 -11h0M72 7h0M66 3h0M82 3h0M73 -10h0M70 0h0M70 -8h0M66 -9h0M57 3h0M77 -12h0M46 1h0M56 -3h0M54 -10h0M58 1h0M61 5h0M62 -5h0M64 -10h0M85 9h0M79 -3h0M73 -3h0M71 -6h0M74 -18h0M68 -8h0M61 -12h0"/><path transform="scale(.5) rotate(45)" stroke="#1818d8" stroke-width="5.6" stroke-linecap="square" d="M71 -8h0M67 -16h0M68 1h0M67 -4h0M64 -13h0M75 3h0M78 1h0M62 -11h0M72 7h0M66 3h0M82 3h0M73 -10h0M70 0h0M70 -8h0M66 -9h0M57 3h0M77 -12h0M46 1h0M56 -3h0M54 -10h0M58 1h0M61 5h0M62 -5h0M64 -10h0M85 9h0M79 -3h0M73 -3h0M71 -6h0M74 -18h0M68 -8h0M61 -12h0"/><path transform="scale(.5) rotate(45)" stroke="#fff" stroke-opacity="0.6" stroke-width="6.5" stroke-linecap="square" d="M77 -9h0M62 -2h0M74 11h0M73 14h0M71 1h0M78 -8h0M53 3h0M68 3h0M67 -11h0M74 -8h0M65 -6h0M64 -12h0M60 -14h0M67 -15h0M66 -7h0M74 6h0M77 17h0M57 -3h0M71 -3h0M68 -6h0M76 -10h0M69 -6h0M76 -12h0M72 8h0M70 -4h0M58 -7h0M72 -15h0M72 -1h0M48 -19h0M56 -21h0M70 -16h0"/><path transform="scale(.5) rotate(45)" stroke="#1818d8" stroke-width="5.6" stroke-linecap="square" d="M77 -9h0M62 -2h0M74 11h0M73 14h0M71 1h0M78 -8h0M53 3h0M68 3h0M67 -11h0M74 -8h0M65 -6h0M64 -12h0M60 -14h0M67 -15h0M66 -7h0M74 6h0M77 17h0M57 -3h0M71 -3h0M68 -6h0M76 -10h0M69 -6h0M76 -12h0M72 8h0M70 -4h0M58 -7h0M72 -15h0M72 -1h0M48 -19h0M56 -21h0M70 -16h0"/></svg><rect x="417.00" y="194.44" width="42.6" height="41.2" fill="#eaeaf2"/><path d="M419.43 194.44V235.64M460.01 194.44V235.64M417.00 226.16H459.60M417.00 196.51H459.60" stroke="#f4f4f8" stroke-width="0.6" fill="none"/><svg x="417.00" y="194.44" width="42.6" height="41.2" overflow="hidden"><path transform="scale(.5)" stroke="#fff" stroke-opacity="0.6" stroke-width="6.9" stroke-linecap="square" d="M13 64h0M18 65h0M20 63h0M7 65h0M8 64h0M5 65h0M15 65h0M3 64h0M12 64h0M10 63h0M79 63h0M76 64h0M65 64h0M78 65h0M26 64h0M26 65h0M19 64h0M44 65h0M35 64h0M30 63h0M48 64h0M27 64h0M20 65h0M35 65h0M38 64h0"/><path transform="scale(.5)" stroke="#d81818" stroke-width="6.0" stroke-linecap="square" d="M13 64h0M18 65h0M20 63h0M7 65h0M8 64h0M5 65h0M15 65h0M3 64h0M12 64h0M10 63h0M79 63h0M76 64h0M65 64h0M78 65h0M26 64h0M26 65h0M19 64h0M44 65h0M35 64h0M30 63h0M48 64h0M27 64h0M20 65h0M35 65h0M38 64h0"/><path transform="scale(.5)" stroke="#fff" stroke-opacity="0.6" stroke-width="6.9" stroke-linecap="square" d="M6 66h0M16 65h0M10 64h0M15 66h0M12 65h0M11 65h0M16 63h0M7 63h0M15 63h0M17 66h0M67 66h0M61 64h0M55 64h0M56 64h0M27 63h0M30 65h0M44 64h0M40 64h0M46 64h0M39 65h0M43 64h0M21 64h0M18 64h0M24 65h0M51 65h0"/><path transform="scale(.5)" stroke="#d81818" stroke-width="6.0" stroke-linecap="square" d="M6 66h0M16 65h0M10 64h0M15 66h0M12 65h0M11 65h0M16 63h0M7 63h0M15 63h0M17 66h0M67 66h0M61 64h0M55 64h0M56 64h0M27 63h0M30 65h0M44 64h0M40 64h0M46 64h0M39 65h0M43 64h0M21 64h0M18 64h0M24 65h0M51 65h0"/><path transform="scale(.5)" stroke="#fff" stroke-opacity="0.6" stroke-width="6.9" stroke-linecap="square" d="M14 65h0M9 62h0M14 64h0M12 63h0M5 66h0M3 65h0M6 65h0M9 65h0M14 63h0M11 63h0M67 64h0M67 63h0M82 64h0M73 64h0M45 62h0M45 63h0M42 63h0M30 64h0M52 64h0M23 63h0M22 64h0M28 64h0M42 65h0M36 66h0"/><path transform="scale(.5)" stroke="#d81818" stroke-width="6.0" stroke-linecap="square" d="M14 65h0M9 62h0M14 64h0M12 63h0M5 66h0M3 65h0M6 65h0M9 65h0M14 63h0M11 63h0M67 64h0M67 63h0M82 64h0M73 64h0M45 62h0M45 63h0M42 63h0M30 64h0M52 64h0M23 63h0M22 64h0M28 64h0M42 65h0M36 66h0"/><path transform="scale(.5)" stroke="#fff" stroke-opacity="0.6" stroke-width="6.9" stroke-linecap="square" d="M9 63h0M8 63h0M13 65h0M7 64h0M12 62h0M10 65h0M11 64h0M15 64h0M13 66h0M54 64h0M56 63h0M74 64h0M71 63h0M38 63h0M18 63h0M29 64h0M22 63h0M38 65h0M29 62h0M25 64h0M28 62h0M31 66h0M40 65h0M25 65h0"/><path transform="scale(.5)" stroke="#d81818" stroke-width="6.0" stroke-linecap="square" d="M9 63h0M8 63h0M13 65h0M7 64h0M12 62h0M10 65h0M11 64h0M15 64h0M13 66h0M54 64h0M56 63h0M74 64h0M71 63h0M38 63h0M18 63h0M29 64h0M22 63h0M38 65h0M29 62h0M25 64h0M28 62h0M31 66h0M40 65h0M25 65h0"/><path transform="scale(.5) rotate(45)" stroke="#fff" stroke-opacity="0.6" stroke-width="6.5" stroke-linecap="square" d="M77 13h0M82 11h0M72 20h0M65 -4h0M58 11h0M66 9h0M64 24h0M78 9h0M71 12h0M62 9h0M67 23h0M66 23h0M60 23h0M70 26h0M66 19h0M67 -3h0M54 10h0M65 14h0M73 10h0M89 5h0M67 21h0M61 11h0M70 8h0M77 18h0M68 25h0M77 6h0M63 15h0M69 19h0M66 2h0M74 16h0M67 14h0M75 17h0M55 31h0"/><path transform="scale(.5) rotate(45)" stroke="#1818d8" stroke-width="5.6" stroke-linecap="square" d="M77 13h0M82 11h0M72 20h0M65 -4h0M58 11h0M66 9h0M64 24h0M78 9h0M71 12h0M62 9h0M67 23h0M66 23h0M60 23h0M70 26h0M66 19h0M67 -3h0M54 10h0M65 14h0M73 10h0M89 5h0M67 21h0M61 11h0M70 8h0M77 18h0M68 25h0M77 6h0M63 15h0M69 19h0M66 2h0M74 16h0M67 14h0M75 17h0M55 31h0"/><path transform="scale(.5) rotate(45)" stroke="#fff" stroke-opacity="0.6" stroke-width="6.5" stroke-linecap="square" d="M63 28h0M53 27h0M60 18h0M60 9h0M73 22h0M68 11h0M86 11h0M67 8h0M57 17h0M54 35h0M50 20h0M81 3h0M48 7h0M67 22h0M74 18h0M61 15h0M54 23h0M65 29h0M78 18h0M75 -13h0M82 8h0M52 29h0M80 5h0M66 20h0M79 17h0M74 13h0M63 26h0M66 27h0M78 8h0M84 5h0M59 11h0M85 16h0M81 7h0"/><path transform="scale(.5) rotate(45)" stroke="#1818d8" stroke-width="5.6" stroke-linecap="square" d="M63 28h0M53 27h0M60 18h0M60 9h0M73 22h0M68 11h0M86 11h0M67 8h0M57 17h0M54 35h0M50 20h0M81 3h0M48 7h0M67 22h0M74 18h0M61 15h0M54 23h0M65 29h0M78 18h0M75 -13h0M82 8h0M52 29h0M80 5h0M66 20h0M79 17h0M74 13h0M63 26h0M66 27h0M78 8h0M84 5h0M59 11h0M85 16h0M81 7h0"/><path transform="scale(.5) rotate(45)" stroke="#fff" stroke-opacity="0.6" stroke-width="6.5" stroke-linecap="square" d="M35 -24h0M77 3h0M57 15h0M72 5h0M74 24h0M75 9h0M75 -3h0M80 11h0M60 10h0M51 19h0M86 13h0M75 21h0M63 11h0M80 -10h0M58 24h0M68 18h0M66 7h0M55 19h0M64 20h0M71 9h0M61 25h0M59 25h0M63 4h0M67 20h0M64 19h0M75 16h0M54 30h0M77 10h0M55 20h0M63 8h0M69 -9h0M64 17h0"/><path transform="scale(.5) rotate(45)" stroke="#1818d8" stroke-width="5.6" stroke-linecap="square" d="M35 -24h0M77 3h0M57 15h0M72 5h0M74 24h0M75 9h0M75 -3h0M80 11h0M60 10h0M51 19h0M86 13h0M75 21h0M63 11h0M80 -10h0M58 24h0M68 18h0M66 7h0M55 19h0M64 20h0M71 9h0M61 25h0M59 25h0M63 4h0M67 20h0M64 19h0M75 16h0M54 30h0M77 10h0M55 20h0M63 8h0M69 -9h0M64 17h0"/><path transform="scale(.5) rotate(45)" stroke="#fff" stroke-opacity="0.6" stroke-width="6.5" stroke-linecap="square" d="M54 2h0M69 15h0M60 29h0M71 2h0M73 1h0M84 -4h0M62 25h0M62 26h0M80 2h0M78 7h0M74 14h0M60 37h0M79 12h0M72 15h0M60 -4h0M72 13h0M67 16h0M71 26h0M65 5h0M74 -2h0M73 14h0M83 9h0M50 34h0M72 24h0M70 22h0M61 26h0M71 1h0M89 0h0M72 14h0M66 26h0M82 16h0M62 22h0"/><path transform="scale(.5) rotate(45)" stroke="#1818d8" stroke-width="5.6" stroke-linecap="square" d="M54 2h0M69 15h0M60 29h0M71 2h0M73 1h0M84 -4h0M62 25h0M62 26h0M80 2h0M78 7h0M74 14h0M60 37h0M79 12h0M72 15h0M60 -4h0M72 13h0M67 16h0M71 26h0M65 5h0M74 -2h0M73 14h0M83 9h0M50 34h0M72 24h0M70 22h0M61 26h0M71 1h0M89 0h0M72 14h0M66 26h0M82 16h0M62 22h0"/></svg><rect x="477.45" y="194.44" width="42.6" height="41.2" fill="#eaeaf2"/><path d="M488.10 194.44V235.64M516.13 194.44V235.64M477.45 226.16H520.05M477.45 196.51H520.05" stroke="#f4f4f8" stroke-width="0.6" fill="none"/><svg x="477.45" y="194.44" width="42.6" height="41.2" overflow="hidden"><path transform="scale(.5)" stroke="#fff" stroke-opacity="0.6" stroke-width="6.9" stroke-linecap="square" d="M77 64h0M34 65h0M37 63h0M30 64h0M38 63h0M53 64h0M26 62h0M33 63h0M31 65h0M40 63h0M30 66h0M30 63h0M22 64h0M32 63h0M37 65h0M39 64h0M29 63h0M43 64h0M57 65h0M25 66h0"/><path transform="scale(.5)" stroke="#d81818" stroke-width="6.0" stroke-linecap="square" d="M77 64h0M34 65h0M37 63h0M30 64h0M38 63h0M53 64h0M26 62h0M33 63h0M31 65h0M40 63h0M30 66h0M30 63h0M22 64h0M32 63h0M37 65h0M39 64h0M29 63h0M43 64h0M57 65h0M25 66h0"/><path transform="scale(.5)" stroke="#fff" stroke-opacity="0.6" stroke-width="6.9" stroke-linecap="square" d="M74 66h0M25 65h0M35 64h0M44 65h0M33 64h0M24 64h0M28 65h0M36 65h0M32 64h0M12 64h0M25 63h0M23 64h0M26 64h0M37 64h0M24 65h0M46 64h0M11 65h0M31 64h0M21 65h0M42 64h0"/><path transform="scale(.5)" stroke="#d81818" stroke-width="6.0" stroke-linecap="square" d="M74 66h0M25 65h0M35 64h0M44 65h0M33 64h0M24 64h0M28 65h0M36 65h0M32 64h0M12 64h0M25 63h0M23 64h0M26 64h0M37 64h0M24 65h0M46 64h0M11 65h0M31 64h0M21 65h0M42 64h0"/><path transform="scale(.5)" stroke="#fff" stroke-opacity="0.6" stroke-width="6.9" stroke-linecap="square" d="M38 65h0M35 62h0M29 64h0M33 65h0M36 64h0M41 65h0M29 65h0M35 63h0M27 64h0M42 63h0M46 63h0M27 63h0M34 64h0M58 63h0M48 63h0M24 63h0M28 63h0M35 66h0M30 65h0M48 64h0"/><path transform="scale(.5)" stroke="#d81818" stroke-width="6.0" stroke-linecap="square" d="M38 65h0M35 62h0M29 64h0M33 65h0M36 64h0M41 65h0M29 65h0M35 63h0M27 64h0M42 63h0M46 63h0M27 63h0M34 64h0M58 63h0M48 63h0M24 63h0M28 63h0M35 66h0M30 65h0M48 64h0"/><path transform="scale(.5)" stroke="#fff" stroke-opacity="0.6" stroke-width="6.9" stroke-linecap="square" d="M21 63h0M36 63h0M41 64h0M34 66h0M47 64h0M40 66h0M42 65h0M27 65h0M38 64h0M44 63h0M28 64h0M25 64h0M26 65h0M36 62h0M40 64h0M34 62h0M59 62h0M51 64h0M58 64h0M51 65h0"/><path transform="scale(.5)" stroke="#d81818" stroke-width="6.0" stroke-linecap="square" d="M21 63h0M36 63h0M41 64h0M34 66h0M47 64h0M40 66h0M42 65h0M27 65h0M38 64h0M44 63h0M28 64h0M25 64h0M26 65h0M36 62h0M40 64h0M34 62h0M59 62h0M51 64h0M58 64h0M51 65h0"/><path transform="scale(.5) rotate(45)" stroke="#fff" stroke-opacity="0.6" stroke-width="6.5" stroke-linecap="square" d="M60 30h0M61 32h0M61 31h0M48 14h0M61 9h0M57 18h0M63 16h0M64 24h0M62 22h0M55 16h0M70 20h0M64 25h0M71 26h0M69 23h0M60 26h0M60 16h0M68 21h0M56 22h0M71 12h0M61 33h0M61 11h0M60 12h0M72 13h0M63 23h0M76 12h0M65 18h0M52 32h0M65 28h0M65 25h0M60 21h0M72 24h0M74 11h0"/><path transform="scale(.5) rotate(45)" stroke="#1818d8" stroke-width="5.6" stroke-linecap="square" d="M60 30h0M61 32h0M61 31h0M48 14h0M61 9h0M57 18h0M63 16h0M64 24h0M62 22h0M55 16h0M70 20h0M64 25h0M71 26h0M69 23h0M60 26h0M60 16h0M68 21h0M56 22h0M71 12h0M61 33h0M61 11h0M60 12h0M72 13h0M63 23h0M76 12h0M65 18h0M52 32h0M65 28h0M65 25h0M60 21h0M72 24h0M74 11h0"/><path transform="scale(.5) rotate(45)" stroke="#fff" stroke-opacity="0.6" stroke-width="6.5" stroke-linecap="square" d="M72 19h0M70 9h0M62 16h0M48 20h0M69 26h0M67 12h0M66 22h0M60 15h0M62 12h0M59 11h0M49 21h0M63 25h0M54 28h0M76 20h0M71 21h0M58 28h0M61 17h0M77 17h0M69 28h0M64 10h0M74 15h0M64 17h0M51 17h0M64 23h0M64 31h0M61 26h0M55 17h0M52 37h0M65 23h0M56 15h0M71 20h0M70 16h0"/><path transform="scale(.5) rotate(45)" stroke="#1818d8" stroke-width="5.6" stroke-linecap="square" d="M72 19h0M70 9h0M62 16h0M48 20h0M69 26h0M67 12h0M66 22h0M60 15h0M62 12h0M59 11h0M49 21h0M63 25h0M54 28h0M76 20h0M71 21h0M58 28h0M61 17h0M77 17h0M69 28h0M64 10h0M74 15h0M64 17h0M51 17h0M64 23h0M64 31h0M61 26h0M55 17h0M52 37h0M65 23h0M56 15h0M71 20h0M70 16h0"/><path transform="scale(.5) rotate(45)" stroke="#fff" stroke-opacity="0.6" stroke-width="6.5" stroke-linecap="square" d="M17 -6h0M55 25h0M57 16h0M62 15h0M73 25h0M65 19h0M72 25h0M68 22h0M62 9h0M72 16h0M65 34h0M59 26h0M43 13h0M82 7h0M65 17h0M70 15h0M65 8h0M57 17h0M68 15h0M52 10h0M65 21h0M64 20h0M66 17h0M69 27h0M61 22h0M59 28h0M71 17h0M58 18h0M48 23h0M45 15h0M83 18h0"/><path transform="scale(.5) rotate(45)" stroke="#1818d8" stroke-width="5.6" stroke-linecap="square" d="M17 -6h0M55 25h0M57 16h0M62 15h0M73 25h0M65 19h0M72 25h0M68 22h0M62 9h0M72 16h0M65 34h0M59 26h0M43 13h0M82 7h0M65 17h0M70 15h0M65 8h0M57 17h0M68 15h0M52 10h0M65 21h0M64 20h0M66 17h0M69 27h0M61 22h0M59 28h0M71 17h0M58 18h0M48 23h0M45 15h0M83 18h0"/><path transform="scale(.5) rotate(45)" stroke="#fff" stroke-opacity="0.6" stroke-width="6.5" stroke-linecap="square" d="M38 18h0M61 23h0M70 19h0M64 9h0M48 26h0M59 25h0M48 24h0M67 21h0M52 30h0M55 30h0M62 26h0M68 28h0M56 18h0M54 16h0M52 13h0M42 22h0M66 16h0M81 15h0M57 13h0M66 15h0M65 22h0M76 16h0M66 28h0M67 27h0M72 20h0M59 20h0M60 18h0M64 22h0M67 25h0M58 40h0M67 15h0"/><path transform="scale(.5) rotate(45)" stroke="#1818d8" stroke-width="5.6" stroke-linecap="square" d="M38 18h0M61 23h0M70 19h0M64 9h0M48 26h0M59 25h0M48 24h0M67 21h0M52 30h0M55 30h0M62 26h0M68 28h0M56 18h0M54 16h0M52 13h0M42 22h0M66 16h0M81 15h0M57 13h0M66 15h0M65 22h0M76 16h0M66 28h0M67 27h0M72 20h0M59 20h0M60 18h0M64 22h0M67 25h0M58 40h0M67 15h0"/></svg><rect x="537.90" y="194.44" width="42.6" height="41.2" fill="#eaeaf2"/><path d="M538.17 194.44V235.64M564.79 194.44V235.64M537.90 226.16H580.50M537.90 196.51H580.50" stroke="#f4f4f8" stroke-width="0.6" fill="none"/><svg x="537.90" y="194.44" width="42.6" height="41.2" overflow="hidden"><path transform="scale(.5)" stroke="#fff" stroke-opacity="0.6" stroke-width="6.9" stroke-linecap="square" d="M27 64h0M22 65h0M20 63h0M26 64h0M18 63h0M9 64h0M20 65h0M33 65h0M29 65h0M29 64h0M16 63h0M14 65h0M25 64h0M15 64h0M8 64h0M23 64h0M26 63h0M22 63h0M36 64h0M20 64h0M11 64h0"/><path transform="scale(.5)" stroke="#d81818" stroke-width="6.0" stroke-linecap="square" d="M27 64h0M22 65h0M20 63h0M26 64h0M18 63h0M9 64h0M20 65h0M33 65h0M29 65h0M29 64h0M16 63h0M14 65h0M25 64h0M15 64h0M8 64h0M23 64h0M26 63h0M22 63h0M36 64h0M20 64h0M11 64h0"/><path transform="scale(.5)" stroke="#fff" stroke-opacity="0.6" stroke-width="6.9" stroke-linecap="square" d="M14 66h0M26 65h0M1 64h0M19 65h0M21 64h0M24 65h0M15 65h0M35 64h0M14 64h0M24 63h0M31 63h0M30 66h0M28 65h0M7 64h0M18 64h0M32 64h0M18 65h0M33 64h0M17 62h0M38 64h0M34 65h0"/><path transform="scale(.5)" stroke="#d81818" stroke-width="6.0" stroke-linecap="square" d="M14 66h0M26 65h0M1 64h0M19 65h0M21 64h0M24 65h0M15 65h0M35 64h0M14 64h0M24 63h0M31 63h0M30 66h0M28 65h0M7 64h0M18 64h0M32 64h0M18 65h0M33 64h0M17 62h0M38 64h0M34 65h0"/><path transform="scale(.5)" stroke="#fff" stroke-opacity="0.6" stroke-width="6.9" stroke-linecap="square" d="M1 65h0M2 62h0M24 64h0M31 65h0M28 64h0M20 66h0M19 64h0M17 65h0M43 63h0M16 64h0M14 63h0M19 63h0M23 63h0M13 63h0M10 63h0M8 63h0M29 63h0M25 65h0M36 65h0M27 65h0"/><path transform="scale(.5)" stroke="#d81818" stroke-width="6.0" stroke-linecap="square" d="M1 65h0M2 62h0M24 64h0M31 65h0M28 64h0M20 66h0M19 64h0M17 65h0M43 63h0M16 64h0M14 63h0M19 63h0M23 63h0M13 63h0M10 63h0M8 63h0M29 63h0M25 65h0M36 65h0M27 65h0"/><path transform="scale(.5)" stroke="#fff" stroke-opacity="0.6" stroke-width="6.9" stroke-linecap="square" d="M9 63h0M6 63h0M28 63h0M22 66h0M22 64h0M35 62h0M15 63h0M12 63h0M10 64h0M40 65h0M21 66h0M27 66h0M43 66h0M17 64h0M21 65h0M37 62h0M21 63h0M30 64h0M20 62h0M17 66h0"/><path transform="scale(.5)" stroke="#d81818" stroke-width="6.0" stroke-linecap="square" d="M9 63h0M6 63h0M28 63h0M22 66h0M22 64h0M35 62h0M15 63h0M12 63h0M10 64h0M40 65h0M21 66h0M27 66h0M43 66h0M17 64h0M21 65h0M37 62h0M21 63h0M30 64h0M20 62h0M17 66h0"/><path transform="scale(.5) rotate(45)" stroke="#fff" stroke-opacity="0.6" stroke-width="6.5" stroke-linecap="square" d="M102 -12h0M65 28h0M78 14h0M50 11h0M70 -1h0M61 15h0M64 16h0M75 13h0M68 20h0M72 9h0M70 18h0M80 20h0M70 15h0M52 4h0M69 21h0M68 23h0M58 18h0M71 18h0M75 3h0M70 13h0M75 0h0M74 15h0M70 14h0M61 6h0M70 23h0M75 8h0M70 9h0M71 17h0M59 9h0M71 19h0M61 10h0M69 22h0M78 8h0"/><path transform="scale(.5) rotate(45)" stroke="#1818d8" stroke-width="5.6" stroke-linecap="square" d="M102 -12h0M65 28h0M78 14h0M50 11h0M70 -1h0M61 15h0M64 16h0M75 13h0M68 20h0M72 9h0M70 18h0M80 20h0M70 15h0M52 4h0M69 21h0M68 23h0M58 18h0M71 18h0M75 3h0M70 13h0M75 0h0M74 15h0M70 14h0M61 6h0M70 23h0M75 8h0M70 9h0M71 17h0M59 9h0M71 19h0M61 10h0M69 22h0M78 8h0"/><path transform="scale(.5) rotate(45)" stroke="#fff" stroke-opacity="0.6" stroke-width="6.5" stroke-linecap="square" d="M63 28h0M74 5h0M76 1h0M65 3h0M75 20h0M66 13h0M73 14h0M70 17h0M78 6h0M51 20h0M67 18h0M74 14h0M81 15h0M73 0h0M63 7h0M72 10h0M72 14h0M50 27h0M79 15h0M67 17h0M59 3h0M70 16h0M73 19h0M75 10h0M56 32h0M62 26h0M75 14h0M63 16h0M89 -2h0M65 7h0M61 -1h0M82 19h0"/><path transform="scale(.5) rotate(45)" stroke="#1818d8" stroke-width="5.6" stroke-linecap="square" d="M63 28h0M74 5h0M76 1h0M65 3h0M75 20h0M66 13h0M73 14h0M70 17h0M78 6h0M51 20h0M67 18h0M74 14h0M81 15h0M73 0h0M63 7h0M72 10h0M72 14h0M50 27h0M79 15h0M67 17h0M59 3h0M70 16h0M73 19h0M75 10h0M56 32h0M62 26h0M75 14h0M63 16h0M89 -2h0M65 7h0M61 -1h0M82 19h0"/><path transform="scale(.5) rotate(45)" stroke="#fff" stroke-opacity="0.6" stroke-width="6.5" stroke-linecap="square" d="M33 -22h0M74 6h0M61 11h0M66 11h0M87 12h0M63 21h0M84 13h0M62 13h0M61 13h0M62 27h0M57 33h0M63 25h0M70 28h0M78 13h0M77 10h0M58 -2h0M62 24h0M71 2h0M51 23h0M60 11h0M65 16h0M67 5h0M70 8h0M62 25h0M72 20h0M65 26h0M64 20h0M67 27h0M68 7h0M75 16h0M91 8h0M76 6h0"/><path transform="scale(.5) rotate(45)" stroke="#1818d8" stroke-width="5.6" stroke-linecap="square" d="M33 -22h0M74 6h0M61 11h0M66 11h0M87 12h0M63 21h0M84 13h0M62 13h0M61 13h0M62 27h0M57 33h0M63 25h0M70 28h0M78 13h0M77 10h0M58 -2h0M62 24h0M71 2h0M51 23h0M60 11h0M65 16h0M67 5h0M70 8h0M62 25h0M72 20h0M65 26h0M64 20h0M67 27h0M68 7h0M75 16h0M91 8h0M76 6h0"/><path transform="scale(.5) rotate(45)" stroke="#fff" stroke-opacity="0.6" stroke-width="6.5" stroke-linecap="square" d="M53 3h0M72 13h0M61 28h0M52 21h0M71 3h0M62 22h0M56 16h0M79 11h0M55 16h0M60 10h0M52 18h0M73 16h0M78 5h0M67 29h0M59 26h0M51 13h0M65 -1h0M76 7h0M85 12h0M71 22h0M53 19h0M67 15h0M74 11h0M77 19h0M67 25h0M67 20h0M60 12h0M76 13h0M64 22h0M70 11h0M71 25h0M74 10h0"/><path transform="scale(.5) rotate(45)" stroke="#1818d8" stroke-width="5.6" stroke-linecap="square" d="M53 3h0M72 13h0M61 28h0M52 21h0M71 3h0M62 22h0M56 16h0M79 11h0M55 16h0M60 10h0M52 18h0M73 16h0M78 5h0M67 29h0M59 26h0M51 13h0M65 -1h0M76 7h0M85 12h0M71 22h0M53 19h0M67 15h0M74 11h0M77 19h0M67 25h0M67 20h0M60 12h0M76 13h0M64 22h0M70 11h0M71 25h0M74 10h0"/></svg><rect x="598.35" y="194.44" width="42.6" height="41.2" fill="#eaeaf2"/><path d="M608.16 194.44V235.64M638.80 194.44V235.64M598.35 226.16H640.95M598.35 196.51H640.95" stroke="#f4f4f8" stroke-width="0.6" fill="none"/><svg x="598.35" y="194.44" width="42.6" height="41.2" overflow="hidden"><g transform="translate(-598.35,-194.44)"><rect x="601.45" y="235.14" width="3.90" height="0.52" fill="#0000ee"/><rect x="605.30" y="208.24" width="3.90" height="27.40" fill="#e00000"/><rect x="605.30" y="202.44" width="3.90" height="5.82" fill="#0000ee"/><rect x="609.15" y="231.54" width="3.90" height="4.10" fill="#e00000"/><rect x="609.15" y="226.94" width="3.90" height="4.62" fill="#0000ee"/><rect x="613.00" y="235.14" width="3.90" height="0.52" fill="#0000ee"/><rect x="616.85" y="235.34" width="3.90" height="0.32" fill="#0000ee"/></g></svg><rect x="658.80" y="194.44" width="42.6" height="41.2" fill="#eaeaf2"/><path d="M664.00 194.44V235.64M684.00 194.44V235.64M658.80 226.16H701.40M658.80 196.51H701.40" stroke="#f4f4f8" stroke-width="0.6" fill="none"/><svg x="658.80" y="194.44" width="42.6" height="41.2" overflow="hidden"><path transform="scale(.5)" stroke="#fff" stroke-opacity="0.6" stroke-width="6.9" stroke-linecap="square" d="M27 64h0M27 65h0M11 64h0M19 65h0M13 64h0M12 65h0M11 63h0M16 65h0M15 64h0M32 63h0M14 62h0M41 65h0M37 65h0"/><path transform="scale(.5)" stroke="#d81818" stroke-width="6.0" stroke-linecap="square" d="M27 64h0M27 65h0M11 64h0M19 65h0M13 64h0M12 65h0M11 63h0M16 65h0M15 64h0M32 63h0M14 62h0M41 65h0M37 65h0"/><path transform="scale(.5)" stroke="#fff" stroke-opacity="0.6" stroke-width="6.9" stroke-linecap="square" d="M33 66h0M11 65h0M12 64h0M12 66h0M13 65h0M33 65h0M28 65h0M32 66h0M15 63h0M29 65h0M25 63h0M56 65h0"/><path transform="scale(.5)" stroke="#d81818" stroke-width="6.0" stroke-linecap="square" d="M33 66h0M11 65h0M12 64h0M12 66h0M13 65h0M33 65h0M28 65h0M32 66h0M15 63h0M29 65h0M25 63h0M56 65h0"/><path transform="scale(.5)" stroke="#fff" stroke-opacity="0.6" stroke-width="6.9" stroke-linecap="square" d="M14 65h0M40 62h0M28 63h0M14 63h0M10 66h0M40 65h0M10 64h0M50 63h0M10 63h0M41 64h0M23 64h0M38 65h0"/><path transform="scale(.5)" stroke="#d81818" stroke-width="6.0" stroke-linecap="square" d="M14 65h0M40 62h0M28 63h0M14 63h0M10 66h0M40 65h0M10 64h0M50 63h0M10 63h0M41 64h0M23 64h0M38 65h0"/><path transform="scale(.5)" stroke="#fff" stroke-opacity="0.6" stroke-width="6.9" stroke-linecap="square" d="M12 63h0M13 63h0M14 64h0M18 64h0M13 62h0M10 65h0M40 66h0M34 66h0M31 63h0M16 64h0M12 62h0M50 66h0"/><path transform="scale(.5)" stroke="#d81818" stroke-width="6.0" stroke-linecap="square" d="M12 63h0M13 63h0M14 64h0M18 64h0M13 62h0M10 65h0M40 66h0M34 66h0M31 63h0M16 64h0M12 62h0M50 66h0"/><path transform="scale(.5) rotate(45)" stroke="#fff" stroke-opacity="0.6" stroke-width="6.5" stroke-linecap="square" d="M56 34h0M56 38h0M55 38h0M38 23h0M43 26h0M45 30h0M62 26h0M52 35h0M45 29h0M55 35h0M54 36h0M53 36h0M56 27h0M52 34h0M37 19h0M51 35h0M58 15h0M57 39h0M39 23h0M49 33h0M61 35h0M55 33h0M51 36h0M45 26h0M57 42h0"/><path transform="scale(.5) rotate(45)" stroke="#1818d8" stroke-width="5.6" stroke-linecap="square" d="M56 34h0M56 38h0M55 38h0M38 23h0M43 26h0M45 30h0M62 26h0M52 35h0M45 29h0M55 35h0M54 36h0M53 36h0M56 27h0M52 34h0M37 19h0M51 35h0M58 15h0M57 39h0M39 23h0M49 33h0M61 35h0M55 33h0M51 36h0M45 26h0M57 42h0"/><path transform="scale(.5) rotate(45)" stroke="#fff" stroke-opacity="0.6" stroke-width="6.5" stroke-linecap="square" d="M54 37h0M47 32h0M46 31h0M42 27h0M55 40h0M48 32h0M58 39h0M53 38h0M44 27h0M43 27h0M44 26h0M50 34h0M35 20h0M52 33h0M40 25h0M40 24h0M50 28h0M62 22h0M61 20h0M52 32h0M54 34h0M58 29h0M73 16h0M56 35h0M66 35h0"/><path transform="scale(.5) rotate(45)" stroke="#1818d8" stroke-width="5.6" stroke-linecap="square" d="M54 37h0M47 32h0M46 31h0M42 27h0M55 40h0M48 32h0M58 39h0M53 38h0M44 27h0M43 27h0M44 26h0M50 34h0M35 20h0M52 33h0M40 25h0M40 24h0M50 28h0M62 22h0M61 20h0M52 32h0M54 34h0M58 29h0M73 16h0M56 35h0M66 35h0"/><path transform="scale(.5) rotate(45)" stroke="#fff" stroke-opacity="0.6" stroke-width="6.5" stroke-linecap="square" d="M14 -3h0M49 31h0M46 26h0M59 18h0M60 38h0M49 34h0M44 28h0M85 3h0M51 31h0M52 36h0M58 42h0M56 40h0M55 19h0M83 8h0M50 26h0M57 32h0M47 27h0M55 39h0M45 27h0M57 35h0M55 37h0M49 29h0M45 23h0M48 33h0"/><path transform="scale(.5) rotate(45)" stroke="#1818d8" stroke-width="5.6" stroke-linecap="square" d="M14 -3h0M49 31h0M46 26h0M59 18h0M60 38h0M49 34h0M44 28h0M85 3h0M51 31h0M52 36h0M58 42h0M56 40h0M55 19h0M83 8h0M50 26h0M57 32h0M47 27h0M55 39h0M45 27h0M57 35h0M55 37h0M49 29h0M45 23h0M48 33h0"/><path transform="scale(.5) rotate(45)" stroke="#fff" stroke-opacity="0.6" stroke-width="6.5" stroke-linecap="square" d="M36 20h0M50 35h0M53 37h0M46 27h0M46 28h0M63 21h0M78 9h0M50 33h0M43 28h0M51 34h0M53 35h0M57 40h0M58 38h0M50 32h0M57 29h0M48 30h0M67 30h0M46 29h0M65 24h0M41 26h0M65 18h0M54 35h0M53 33h0M39 21h0"/><path transform="scale(.5) rotate(45)" stroke="#1818d8" stroke-width="5.6" stroke-linecap="square" d="M36 20h0M50 35h0M53 37h0M46 27h0M46 28h0M63 21h0M78 9h0M50 33h0M43 28h0M51 34h0M53 35h0M57 40h0M58 38h0M50 32h0M57 29h0M48 30h0M67 30h0M46 29h0M65 24h0M41 26h0M65 18h0M54 35h0M53 33h0M39 21h0"/></svg><rect x="719.25" y="194.44" width="42.6" height="41.2" fill="#eaeaf2"/><path d="M725.22 194.44V235.64M745.13 194.44V235.64M719.25 226.16H761.85M719.25 196.51H761.85" stroke="#f4f4f8" stroke-width="0.6" fill="none"/><svg x="719.25" y="194.44" width="42.6" height="41.2" overflow="hidden"><path transform="scale(.5)" stroke="#fff" stroke-opacity="0.6" stroke-width="6.9" stroke-linecap="square" d="M30 64h0M31 65h0M39 63h0M21 64h0M30 66h0M40 64h0M14 65h0M43 64h0M29 64h0M48 64h0M45 65h0M52 65h0M26 63h0M38 64h0M41 65h0M49 63h0M34 65h0M41 64h0M42 63h0M46 64h0M30 65h0M36 64h0"/><path transform="scale(.5)" stroke="#d81818" stroke-width="6.0" stroke-linecap="square" d="M30 64h0M31 65h0M39 63h0M21 64h0M30 66h0M40 64h0M14 65h0M43 64h0M29 64h0M48 64h0M45 65h0M52 65h0M26 63h0M38 64h0M41 65h0M49 63h0M34 65h0M41 64h0M42 63h0M46 64h0M30 65h0M36 64h0"/><path transform="scale(.5)" stroke="#fff" stroke-opacity="0.6" stroke-width="6.9" stroke-linecap="square" d="M36 66h0M27 65h0M52 64h0M33 64h0M19 63h0M24 65h0M38 65h0M18 63h0M26 64h0M27 63h0M26 66h0M47 65h0M39 64h0M12 64h0M10 64h0M44 62h0M43 63h0M45 64h0M32 64h0M20 64h0M14 64h0"/><path transform="scale(.5)" stroke="#d81818" stroke-width="6.0" stroke-linecap="square" d="M36 66h0M27 65h0M52 64h0M33 64h0M19 63h0M24 65h0M38 65h0M18 63h0M26 64h0M27 63h0M26 66h0M47 65h0M39 64h0M12 64h0M10 64h0M44 62h0M43 63h0M45 64h0M32 64h0M20 64h0M14 64h0"/><path transform="scale(.5)" stroke="#fff" stroke-opacity="0.6" stroke-width="6.9" stroke-linecap="square" d="M26 65h0M41 62h0M27 64h0M20 65h0M23 64h0M27 66h0M37 65h0M24 64h0M36 63h0M37 63h0M52 63h0M38 63h0M30 63h0M22 64h0M8 63h0M29 63h0M25 64h0M30 62h0M51 64h0M42 66h0M50 66h0"/><path transform="scale(.5)" stroke="#d81818" stroke-width="6.0" stroke-linecap="square" d="M26 65h0M41 62h0M27 64h0M20 65h0M23 64h0M27 66h0M37 65h0M24 64h0M36 63h0M37 63h0M52 63h0M38 63h0M30 63h0M22 64h0M8 63h0M29 63h0M25 64h0M30 62h0M51 64h0M42 66h0M50 66h0"/><path transform="scale(.5)" stroke="#fff" stroke-opacity="0.6" stroke-width="6.9" stroke-linecap="square" d="M32 63h0M20 63h0M34 63h0M39 65h0M31 64h0M34 62h0M13 65h0M29 65h0M25 65h0M40 66h0M22 63h0M44 66h0M17 64h0M31 63h0M13 64h0M33 65h0M35 63h0M23 63h0M31 62h0M50 65h0M28 65h0"/><path transform="scale(.5)" stroke="#d81818" stroke-width="6.0" stroke-linecap="square" d="M32 63h0M20 63h0M34 63h0M39 65h0M31 64h0M34 62h0M13 65h0M29 65h0M25 65h0M40 66h0M22 63h0M44 66h0M17 64h0M31 63h0M13 64h0M33 65h0M35 63h0M23 63h0M31 62h0M50 65h0M28 65h0"/><path transform="scale(.5) rotate(45)" stroke="#fff" stroke-opacity="0.6" stroke-width="6.5" stroke-linecap="square" d="M84 5h0M91 2h0M71 21h0M61 0h0M69 1h0M73 2h0M83 -4h0M69 19h0M65 9h0M71 19h0M87 3h0M75 14h0M63 -7h0M74 15h0M65 -9h0M77 9h0M69 9h0M77 17h0M79 4h0M68 -6h0M88 2h0M79 5h0M81 2h0M91 5h0M82 13h0M89 2h0M79 -8h0M91 -1h0M75 12h0M75 -4h0M79 13h0M79 7h0"/><path transform="scale(.5) rotate(45)" stroke="#1818d8" stroke-width="5.6" stroke-linecap="square" d="M84 5h0M91 2h0M71 21h0M61 0h0M69 1h0M73 2h0M83 -4h0M69 19h0M65 9h0M71 19h0M87 3h0M75 14h0M63 -7h0M74 15h0M65 -9h0M77 9h0M69 9h0M77 17h0M79 4h0M68 -6h0M88 2h0M79 5h0M81 2h0M91 5h0M82 13h0M89 2h0M79 -8h0M91 -1h0M75 12h0M75 -4h0M79 13h0M79 7h0"/><path transform="scale(.5) rotate(45)" stroke="#fff" stroke-opacity="0.6" stroke-width="6.5" stroke-linecap="square" d="M82 9h0M64 16h0M75 3h0M65 4h0M83 12h0M70 9h0M79 9h0M76 12h0M67 3h0M66 3h0M74 -4h0M84 1h0M73 0h0M85 2h0M60 4h0M76 9h0M72 1h0M67 7h0M71 0h0M80 0h0M81 6h0M77 15h0M87 8h0M88 6h0M76 8h0M82 -4h0M76 3h0M69 -1h0M75 16h0M67 -8h0M89 12h0M78 10h0"/><path transform="scale(.5) rotate(45)" stroke="#1818d8" stroke-width="5.6" stroke-linecap="square" d="M82 9h0M64 16h0M75 3h0M65 4h0M83 12h0M70 9h0M79 9h0M76 12h0M67 3h0M66 3h0M74 -4h0M84 1h0M73 0h0M85 2h0M60 4h0M76 9h0M72 1h0M67 7h0M71 0h0M80 0h0M81 6h0M77 15h0M87 8h0M88 6h0M76 8h0M82 -4h0M76 3h0M69 -1h0M75 16h0M67 -8h0M89 12h0M78 10h0"/><path transform="scale(.5) rotate(45)" stroke="#fff" stroke-opacity="0.6" stroke-width="6.5" stroke-linecap="square" d="M45 -34h0M81 -1h0M70 3h0M74 3h0M83 15h0M74 10h0M84 13h0M72 3h0M80 2h0M85 3h0M85 15h0M86 10h0M88 3h0M80 11h0M68 8h0M68 -4h0M75 8h0M74 9h0M81 13h0M80 -9h0M76 -4h0M73 5h0M80 6h0M82 6h0M88 5h0M80 9h0M78 15h0M77 10h0M81 10h0M88 11h0M77 4h0"/><path transform="scale(.5) rotate(45)" stroke="#1818d8" stroke-width="5.6" stroke-linecap="square" d="M45 -34h0M81 -1h0M70 3h0M74 3h0M83 15h0M74 10h0M84 13h0M72 3h0M80 2h0M85 3h0M85 15h0M86 10h0M88 3h0M80 11h0M68 8h0M68 -4h0M75 8h0M74 9h0M81 13h0M80 -9h0M76 -4h0M73 5h0M80 6h0M82 6h0M88 5h0M80 9h0M78 15h0M77 10h0M81 10h0M88 11h0M77 4h0"/><path transform="scale(.5) rotate(45)" stroke="#fff" stroke-opacity="0.6" stroke-width="6.5" stroke-linecap="square" d="M71 -15h0M75 10h0M76 13h0M66 7h0M76 -1h0M78 6h0M75 -2h0M76 7h0M62 9h0M83 2h0M80 8h0M77 5h0M79 18h0M78 4h0M70 16h0M89 0h0M62 17h0M78 18h0M69 5h0M73 16h0M69 13h0M77 -10h0M76 11h0M83 9h0M81 7h0M77 7h0M73 14h0M75 0h0M78 2h0M84 12h0M85 -1h0"/><path transform="scale(.5) rotate(45)" stroke="#1818d8" stroke-width="5.6" stroke-linecap="square" d="M71 -15h0M75 10h0M76 13h0M66 7h0M76 -1h0M78 6h0M75 -2h0M76 7h0M62 9h0M83 2h0M80 8h0M77 5h0M79 18h0M78 4h0M70 16h0M89 0h0M62 17h0M78 18h0M69 5h0M73 16h0M69 13h0M77 -10h0M76 11h0M83 9h0M81 7h0M77 7h0M73 14h0M75 0h0M78 2h0M84 12h0M85 -1h0"/></svg><rect x="417.00" y="255.32" width="42.6" height="41.2" fill="#eaeaf2"/><path d="M419.43 255.32V296.52M460.01 255.32V296.52M417.00 291.49H459.60M417.00 272.15H459.60" stroke="#f4f4f8" stroke-width="0.6" fill="none"/><svg x="417.00" y="255.32" width="42.6" height="41.2" overflow="hidden"><path transform="scale(.5)" stroke="#fff" stroke-opacity="0.6" stroke-width="6.9" stroke-linecap="square" d="M13 57h0M18 56h0M20 70h0M10 69h0M15 71h0M10 70h0M5 71h0M15 72h0M3 57h0M9 72h0M9 67h0M11 72h0M79 69h0M76 68h0M55 70h0M78 72h0M26 68h0M26 71h0M19 71h0M44 54h0M46 66h0M30 72h0M48 71h0M21 70h0M31 71h0M40 67h0M25 70h0"/><path transform="scale(.5)" stroke="#d81818" stroke-width="6.0" stroke-linecap="square" d="M13 57h0M18 56h0M20 70h0M10 69h0M15 71h0M10 70h0M5 71h0M15 72h0M3 57h0M9 72h0M9 67h0M11 72h0M79 69h0M76 68h0M55 70h0M78 72h0M26 68h0M26 71h0M19 71h0M44 54h0M46 66h0M30 72h0M48 71h0M21 70h0M31 71h0M40 67h0M25 70h0"/><path transform="scale(.5)" stroke="#fff" stroke-opacity="0.6" stroke-width="6.9" stroke-linecap="square" d="M6 50h0M16 72h0M13 72h0M14 71h0M12 69h0M8 72h0M11 51h0M6 72h0M13 55h0M15 68h0M13 52h0M11 71h0M67 71h0M61 69h0M82 71h0M55 69h0M27 70h0M30 71h0M44 70h0M40 43h0M52 72h0M39 72h0M43 60h0M48 72h0M20 29h0M35 72h0M24 70h0"/><path transform="scale(.5)" stroke="#d81818" stroke-width="6.0" stroke-linecap="square" d="M6 50h0M16 72h0M13 72h0M14 71h0M12 69h0M8 72h0M11 51h0M6 72h0M13 55h0M15 68h0M13 52h0M11 71h0M67 71h0M61 69h0M82 71h0M55 69h0M27 70h0M30 71h0M44 70h0M40 43h0M52 72h0M39 72h0M43 60h0M48 72h0M20 29h0M35 72h0M24 70h0"/><path transform="scale(.5)" stroke="#fff" stroke-opacity="0.6" stroke-width="6.9" stroke-linecap="square" d="M14 69h0M9 44h0M13 71h0M13 64h0M7 72h0M12 70h0M3 44h0M8 71h0M7 71h0M15 70h0M10 34h0M7 70h0M67 72h0M74 72h0M55 71h0M73 70h0M45 69h0M45 72h0M42 53h0M30 70h0M29 69h0M23 71h0M22 70h0M28 70h0M18 71h0M24 45h0M51 46h0"/><path transform="scale(.5)" stroke="#d81818" stroke-width="6.0" stroke-linecap="square" d="M14 69h0M9 44h0M13 71h0M13 64h0M7 72h0M12 70h0M3 44h0M8 71h0M7 71h0M15 70h0M10 34h0M7 70h0M67 72h0M74 72h0M55 71h0M73 70h0M45 69h0M45 72h0M42 53h0M30 70h0M29 69h0M23 71h0M22 70h0M28 70h0M18 71h0M24 45h0M51 46h0"/><path transform="scale(.5)" stroke="#fff" stroke-opacity="0.6" stroke-width="6.9" stroke-linecap="square" d="M9 71h0M8 70h0M9 55h0M7 56h0M14 65h0M5 72h0M10 72h0M11 70h0M14 72h0M5 44h0M17 50h0M54 72h0M56 71h0M65 71h0M71 68h0M38 72h0M18 68h0M29 71h0M22 51h0M35 65h0M20 58h0M25 71h0M28 71h0M38 42h0M42 71h0M36 34h0"/><path transform="scale(.5)" stroke="#d81818" stroke-width="6.0" stroke-linecap="square" d="M9 71h0M8 70h0M9 55h0M7 56h0M14 65h0M5 72h0M10 72h0M11 70h0M14 72h0M5 44h0M17 50h0M54 72h0M56 71h0M65 71h0M71 68h0M38 72h0M18 68h0M29 71h0M22 51h0M35 65h0M20 58h0M25 71h0M28 71h0M38 42h0M42 71h0M36 34h0"/><path transform="scale(.5) rotate(45)" stroke="#fff" stroke-opacity="0.6" stroke-width="6.5" stroke-linecap="square" d="M79 15h0M85 14h0M76 24h0M86 16h0M73 26h0M79 22h0M61 21h0M85 16h0M70 31h0M58 39h0M65 35h0M62 38h0M71 27h0M72 26h0M70 24h0M67 25h0M73 22h0M82 20h0M70 8h0M62 39h0M58 42h0M80 17h0M62 27h0M74 24h0M75 -13h0M89 10h0M79 19h0"/><path transform="scale(.5) rotate(45)" stroke="#1818d8" stroke-width="5.6" stroke-linecap="square" d="M79 15h0M85 14h0M76 24h0M86 16h0M73 26h0M79 22h0M61 21h0M85 16h0M70 31h0M58 39h0M65 35h0M62 38h0M71 27h0M72 26h0M70 24h0M67 25h0M73 22h0M82 20h0M70 8h0M62 39h0M58 42h0M80 17h0M62 27h0M74 24h0M75 -13h0M89 10h0M79 19h0"/><path transform="scale(.5) rotate(45)" stroke="#fff" stroke-opacity="0.6" stroke-width="6.5" stroke-linecap="square" d="M67 33h0M64 38h0M72 30h0M76 25h0M72 23h0M84 18h0M87 11h0M81 21h0M75 25h0M67 34h0M87 14h0M63 26h0M73 28h0M50 -6h0M81 10h0M65 34h0M68 31h0M61 17h0M73 27h0M65 32h0M70 22h0M58 13h0M73 25h0M75 27h0M80 15h0M77 22h0M77 9h0"/><path transform="scale(.5) rotate(45)" stroke="#1818d8" stroke-width="5.6" stroke-linecap="square" d="M67 33h0M64 38h0M72 30h0M76 25h0M72 23h0M84 18h0M87 11h0M81 21h0M75 25h0M67 34h0M87 14h0M63 26h0M73 28h0M50 -6h0M81 10h0M65 34h0M68 31h0M61 17h0M73 27h0M65 32h0M70 22h0M58 13h0M73 25h0M75 27h0M80 15h0M77 22h0M77 9h0"/><path transform="scale(.5) rotate(45)" stroke="#fff" stroke-opacity="0.6" stroke-width="6.5" stroke-linecap="square" d="M80 21h0M86 13h0M69 28h0M72 5h0M86 14h0M65 11h0M90 12h0M37 1h0M87 10h0M69 32h0M80 19h0M67 14h0M95 4h0M68 33h0M80 20h0M66 8h0M67 31h0M92 9h0M75 1h0M85 11h0M69 29h0M74 26h0M63 38h0M70 30h0M84 14h0M68 28h0M62 37h0"/><path transform="scale(.5) rotate(45)" stroke="#1818d8" stroke-width="5.6" stroke-linecap="square" d="M80 21h0M86 13h0M69 28h0M72 5h0M86 14h0M65 11h0M90 12h0M37 1h0M87 10h0M69 32h0M80 19h0M67 14h0M95 4h0M68 33h0M80 20h0M66 8h0M67 31h0M92 9h0M75 1h0M85 11h0M69 29h0M74 26h0M63 38h0M70 30h0M84 14h0M68 28h0M62 37h0"/><path transform="scale(.5) rotate(45)" stroke="#fff" stroke-opacity="0.6" stroke-width="6.5" stroke-linecap="square" d="M77 25h0M78 24h0M66 35h0M83 15h0M80 22h0M95 7h0M43 7h0M79 20h0M77 24h0M71 28h0M71 29h0M84 16h0M78 21h0M82 18h0M72 29h0M76 26h0M63 18h0M78 22h0M74 25h0M81 18h0M87 12h0M78 17h0M85 15h0M85 18h0M79 21h0M88 10h0M87 13h0"/><path transform="scale(.5) rotate(45)" stroke="#1818d8" stroke-width="5.6" stroke-linecap="square" d="M77 25h0M78 24h0M66 35h0M83 15h0M80 22h0M95 7h0M43 7h0M79 20h0M77 24h0M71 28h0M71 29h0M84 16h0M78 21h0M82 18h0M72 29h0M76 26h0M63 18h0M78 22h0M74 25h0M81 18h0M87 12h0M78 17h0M85 15h0M85 18h0M79 21h0M88 10h0M87 13h0"/></svg><rect x="477.45" y="255.32" width="42.6" height="41.2" fill="#eaeaf2"/><path d="M488.10 255.32V296.52M516.13 255.32V296.52M477.45 291.49H520.05M477.45 272.15H520.05" stroke="#f4f4f8" stroke-width="0.6" fill="none"/><svg x="477.45" y="255.32" width="42.6" height="41.2" overflow="hidden"><path transform="scale(.5)" stroke="#fff" stroke-opacity="0.6" stroke-width="6.9" stroke-linecap="square" d="M77 57h0M34 56h0M37 70h0M41 69h0M34 71h0M53 71h0M26 70h0M42 72h0M27 72h0M32 70h0M40 71h0M33 70h0M42 67h0M46 71h0M27 68h0M22 70h0M29 69h0M36 69h0M39 71h0M34 54h0M38 66h0M11 71h0M59 71h0M24 29h0M30 45h0"/><path transform="scale(.5)" stroke="#d81818" stroke-width="6.0" stroke-linecap="square" d="M77 57h0M34 56h0M37 70h0M41 69h0M34 71h0M53 71h0M26 70h0M42 72h0M27 72h0M32 70h0M40 71h0M33 70h0M42 67h0M46 71h0M27 68h0M22 70h0M29 69h0M36 69h0M39 71h0M34 54h0M38 66h0M11 71h0M59 71h0M24 29h0M30 45h0"/><path transform="scale(.5)" stroke="#fff" stroke-opacity="0.6" stroke-width="6.9" stroke-linecap="square" d="M74 50h0M25 72h0M35 72h0M30 71h0M33 72h0M24 72h0M28 71h0M33 69h0M29 72h0M27 57h0M28 72h0M36 71h0M34 52h0M28 70h0M23 69h0M26 69h0M32 72h0M40 68h0M46 70h0M33 43h0M37 72h0M35 71h0M43 70h0M51 71h0M58 71h0"/><path transform="scale(.5)" stroke="#d81818" stroke-width="6.0" stroke-linecap="square" d="M74 50h0M25 72h0M35 72h0M30 71h0M33 72h0M24 72h0M28 71h0M33 69h0M29 72h0M27 57h0M28 72h0M36 71h0M34 52h0M28 70h0M23 69h0M26 69h0M32 72h0M40 68h0M46 70h0M33 43h0M37 72h0M35 71h0M43 70h0M51 71h0M58 71h0"/><path transform="scale(.5)" stroke="#fff" stroke-opacity="0.6" stroke-width="6.9" stroke-linecap="square" d="M38 69h0M35 44h0M29 71h0M44 64h0M36 65h0M41 70h0M29 51h0M34 72h0M37 71h0M41 55h0M36 68h0M44 72h0M25 34h0M29 70h0M27 71h0M33 68h0M37 68h0M24 71h0M24 53h0M39 70h0M34 69h0M39 60h0M31 70h0M57 71h0M51 70h0"/><path transform="scale(.5)" stroke="#d81818" stroke-width="6.0" stroke-linecap="square" d="M38 69h0M35 44h0M29 71h0M44 64h0M36 65h0M41 70h0M29 51h0M34 72h0M37 71h0M41 55h0M36 68h0M44 72h0M25 34h0M29 70h0M27 71h0M33 68h0M37 68h0M24 71h0M24 53h0M39 70h0M34 69h0M39 60h0M31 70h0M57 71h0M51 70h0"/><path transform="scale(.5)" stroke="#fff" stroke-opacity="0.6" stroke-width="6.9" stroke-linecap="square" d="M21 71h0M36 70h0M37 55h0M33 56h0M47 70h0M40 72h0M34 44h0M36 72h0M31 72h0M38 72h0M12 70h0M30 44h0M34 50h0M30 69h0M25 68h0M26 72h0M58 70h0M48 72h0M25 51h0M40 65h0M29 58h0M27 70h0M28 42h0M21 67h0M28 46h0"/><path transform="scale(.5)" stroke="#d81818" stroke-width="6.0" stroke-linecap="square" d="M21 71h0M36 70h0M37 55h0M33 56h0M47 70h0M40 72h0M34 44h0M36 72h0M31 72h0M38 72h0M12 70h0M30 44h0M34 50h0M30 69h0M25 68h0M26 72h0M58 70h0M48 72h0M25 51h0M40 65h0M29 58h0M27 70h0M28 42h0M21 67h0M28 46h0"/><path transform="scale(.5) rotate(45)" stroke="#fff" stroke-opacity="0.6" stroke-width="6.5" stroke-linecap="square" d="M62 32h0M64 35h0M65 35h0M68 34h0M76 24h0M55 21h0M45 5h0M70 30h0M75 27h0M64 36h0M69 31h0M66 36h0M88 13h0M74 26h0M60 40h0M76 26h0M73 7h0M77 23h0M72 29h0M79 19h0M55 16h0M68 29h0M71 29h0M60 42h0M68 32h0"/><path transform="scale(.5) rotate(45)" stroke="#1818d8" stroke-width="5.6" stroke-linecap="square" d="M62 32h0M64 35h0M65 35h0M68 34h0M76 24h0M55 21h0M45 5h0M70 30h0M75 27h0M64 36h0M69 31h0M66 36h0M88 13h0M74 26h0M60 40h0M76 26h0M73 7h0M77 23h0M72 29h0M79 19h0M55 16h0M68 29h0M71 29h0M60 42h0M68 32h0"/><path transform="scale(.5) rotate(45)" stroke="#fff" stroke-opacity="0.6" stroke-width="6.5" stroke-linecap="square" d="M77 24h0M81 21h0M74 28h0M65 37h0M72 30h0M62 19h0M72 28h0M60 37h0M79 22h0M66 35h0M67 34h0M60 22h0M68 31h0M69 25h0M69 23h0M65 31h0M81 22h0M64 13h0M74 27h0M67 24h0M65 30h0M67 35h0M71 30h0M73 24h0"/><path transform="scale(.5) rotate(45)" stroke="#1818d8" stroke-width="5.6" stroke-linecap="square" d="M77 24h0M81 21h0M74 28h0M65 37h0M72 30h0M62 19h0M72 28h0M60 37h0M79 22h0M66 35h0M67 34h0M60 22h0M68 31h0M69 25h0M69 23h0M65 31h0M81 22h0M64 13h0M74 27h0M67 24h0M65 30h0M67 35h0M71 30h0M73 24h0"/><path transform="scale(.5) rotate(45)" stroke="#fff" stroke-opacity="0.6" stroke-width="6.5" stroke-linecap="square" d="M61 39h0M65 34h0M69 28h0M62 15h0M72 24h0M72 25h0M73 28h0M71 31h0M63 37h0M69 33h0M70 31h0M73 27h0M66 33h0M57 33h0M71 28h0M79 20h0M70 29h0M80 21h0M71 27h0M81 17h0M77 25h0M38 23h0M62 37h0M76 10h0"/><path transform="scale(.5) rotate(45)" stroke="#1818d8" stroke-width="5.6" stroke-linecap="square" d="M61 39h0M65 34h0M69 28h0M62 15h0M72 24h0M72 25h0M73 28h0M71 31h0M63 37h0M69 33h0M70 31h0M73 27h0M66 33h0M57 33h0M71 28h0M79 20h0M70 29h0M80 21h0M71 27h0M81 17h0M77 25h0M38 23h0M62 37h0M76 10h0"/><path transform="scale(.5) rotate(45)" stroke="#fff" stroke-opacity="0.6" stroke-width="6.5" stroke-linecap="square" d="M61 40h0M70 32h0M76 25h0M76 22h0M78 23h0M63 39h0M42 -4h0M72 26h0M75 24h0M69 30h0M57 32h0M77 21h0M47 -3h0M77 22h0M66 9h0M69 29h0M65 12h0M72 27h0M78 18h0M65 32h0M60 29h0M61 34h0M69 27h0M81 19h0"/><path transform="scale(.5) rotate(45)" stroke="#1818d8" stroke-width="5.6" stroke-linecap="square" d="M61 40h0M70 32h0M76 25h0M76 22h0M78 23h0M63 39h0M42 -4h0M72 26h0M75 24h0M69 30h0M57 32h0M77 21h0M47 -3h0M77 22h0M66 9h0M69 29h0M65 12h0M72 27h0M78 18h0M65 32h0M60 29h0M61 34h0M69 27h0M81 19h0"/></svg><rect x="537.90" y="255.32" width="42.6" height="41.2" fill="#eaeaf2"/><path d="M538.17 255.32V296.52M564.79 255.32V296.52M537.90 291.49H580.50M537.90 272.15H580.50" stroke="#f4f4f8" stroke-width="0.6" fill="none"/><svg x="537.90" y="255.32" width="42.6" height="41.2" overflow="hidden"><path transform="scale(.5)" stroke="#fff" stroke-opacity="0.6" stroke-width="6.9" stroke-linecap="square" d="M27 57h0M22 56h0M20 70h0M26 71h0M18 69h0M21 71h0M35 70h0M19 72h0M17 72h0M43 71h0M16 72h0M18 70h0M30 52h0M16 71h0M23 71h0M24 72h0M10 69h0M23 70h0M32 70h0M33 43h0M17 69h0M14 60h0M30 71h0M29 71h0M15 70h0"/><path transform="scale(.5)" stroke="#d81818" stroke-width="6.0" stroke-linecap="square" d="M27 57h0M22 56h0M20 70h0M26 71h0M18 69h0M21 71h0M35 70h0M19 72h0M17 72h0M43 71h0M16 72h0M18 70h0M30 52h0M16 71h0M23 71h0M24 72h0M10 69h0M23 70h0M32 70h0M33 43h0M17 69h0M14 60h0M30 71h0M29 71h0M15 70h0"/><path transform="scale(.5)" stroke="#fff" stroke-opacity="0.6" stroke-width="6.9" stroke-linecap="square" d="M14 50h0M26 72h0M1 72h0M19 64h0M21 72h0M9 72h0M20 71h0M15 69h0M12 72h0M28 70h0M40 72h0M31 71h0M19 34h0M26 70h0M7 68h0M17 68h0M18 71h0M32 68h0M21 53h0M25 65h0M23 58h0M38 70h0M27 67h0M17 34h0M34 46h0"/><path transform="scale(.5)" stroke="#d81818" stroke-width="6.0" stroke-linecap="square" d="M14 50h0M26 72h0M1 72h0M19 64h0M21 72h0M9 72h0M20 71h0M15 69h0M12 72h0M28 70h0M40 72h0M31 71h0M19 34h0M26 70h0M7 68h0M17 68h0M18 71h0M32 68h0M21 53h0M25 65h0M23 58h0M38 70h0M27 67h0M17 34h0M34 46h0"/><path transform="scale(.5)" stroke="#fff" stroke-opacity="0.6" stroke-width="6.9" stroke-linecap="square" d="M1 69h0M2 44h0M24 71h0M31 56h0M28 65h0M24 70h0M20 51h0M33 72h0M29 72h0M10 57h0M26 68h0M21 44h0M27 50h0M23 69h0M21 69h0M8 71h0M10 68h0M8 70h0M22 51h0M30 66h0M36 71h0M18 42h0M31 72h0M25 70h0"/><path transform="scale(.5)" stroke="#d81818" stroke-width="6.0" stroke-linecap="square" d="M1 69h0M2 44h0M24 71h0M31 56h0M28 65h0M24 70h0M20 51h0M33 72h0M29 72h0M10 57h0M26 68h0M21 44h0M27 50h0M23 69h0M21 69h0M8 71h0M10 68h0M8 70h0M22 51h0M30 66h0M36 71h0M18 42h0M31 72h0M25 70h0"/><path transform="scale(.5)" stroke="#fff" stroke-opacity="0.6" stroke-width="6.9" stroke-linecap="square" d="M9 71h0M6 70h0M28 55h0M22 71h0M22 70h0M20 72h0M15 44h0M35 72h0M14 72h0M20 55h0M19 70h0M14 67h0M25 72h0M15 72h0M13 71h0M27 70h0M17 71h0M37 69h0M28 54h0M36 72h0M33 71h0M33 29h0M24 45h0M11 72h0"/><path transform="scale(.5)" stroke="#d81818" stroke-width="6.0" stroke-linecap="square" d="M9 71h0M6 70h0M28 55h0M22 71h0M22 70h0M20 72h0M15 44h0M35 72h0M14 72h0M20 55h0M19 70h0M14 67h0M25 72h0M15 72h0M13 71h0M27 70h0M17 71h0M37 69h0M28 54h0M36 72h0M33 71h0M33 29h0M24 45h0M11 72h0"/><path transform="scale(.5) rotate(45)" stroke="#fff" stroke-opacity="0.6" stroke-width="6.5" stroke-linecap="square" d="M104 -10h0M68 31h0M82 18h0M70 32h0M85 15h0M74 28h0M75 27h0M56 -6h0M86 14h0M67 35h0M62 37h0M69 31h0M81 8h0M78 21h0M80 20h0M72 19h0M84 12h0M74 25h0M65 12h0M75 21h0M75 17h0M57 15h0M68 20h0M62 0h0M70 29h0M80 19h0M74 12h0"/><path transform="scale(.5) rotate(45)" stroke="#1818d8" stroke-width="5.6" stroke-linecap="square" d="M104 -10h0M68 31h0M82 18h0M70 32h0M85 15h0M74 28h0M75 27h0M56 -6h0M86 14h0M67 35h0M62 37h0M69 31h0M81 8h0M78 21h0M80 20h0M72 19h0M84 12h0M74 25h0M65 12h0M75 21h0M75 17h0M57 15h0M68 20h0M62 0h0M70 29h0M80 19h0M74 12h0"/><path transform="scale(.5) rotate(45)" stroke="#fff" stroke-opacity="0.6" stroke-width="6.5" stroke-linecap="square" d="M68 32h0M86 16h0M89 13h0M82 20h0M79 23h0M77 24h0M70 11h0M75 26h0M74 27h0M67 31h0M67 33h0M78 22h0M77 4h0M65 33h0M67 27h0M61 38h0M82 17h0M88 12h0M77 22h0M80 18h0M73 27h0M85 18h0M73 28h0M72 23h0M77 25h0M93 9h0M84 15h0"/><path transform="scale(.5) rotate(45)" stroke="#1818d8" stroke-width="5.6" stroke-linecap="square" d="M68 32h0M86 16h0M89 13h0M82 20h0M79 23h0M77 24h0M70 11h0M75 26h0M74 27h0M67 31h0M67 33h0M78 22h0M77 4h0M65 33h0M67 27h0M61 38h0M82 17h0M88 12h0M77 22h0M80 18h0M73 27h0M85 18h0M73 28h0M72 23h0M77 25h0M93 9h0M84 15h0"/><path transform="scale(.5) rotate(45)" stroke="#fff" stroke-opacity="0.6" stroke-width="6.5" stroke-linecap="square" d="M78 23h0M83 16h0M74 24h0M66 11h0M85 10h0M72 30h0M85 13h0M85 17h0M70 30h0M76 24h0M80 21h0M84 17h0M83 17h0M45 -1h0M74 16h0M72 3h0M63 35h0M63 14h0M81 18h0M83 19h0M60 37h0M66 29h0M76 22h0M94 3h0M78 20h0M72 26h0"/><path transform="scale(.5) rotate(45)" stroke="#1818d8" stroke-width="5.6" stroke-linecap="square" d="M78 23h0M83 16h0M74 24h0M66 11h0M85 10h0M72 30h0M85 13h0M85 17h0M70 30h0M76 24h0M80 21h0M84 17h0M83 17h0M45 -1h0M74 16h0M72 3h0M63 35h0M63 14h0M81 18h0M83 19h0M60 37h0M66 29h0M76 22h0M94 3h0M78 20h0M72 26h0"/><path transform="scale(.5) rotate(45)" stroke="#fff" stroke-opacity="0.6" stroke-width="6.5" stroke-linecap="square" d="M76 26h0M80 22h0M67 34h0M64 33h0M84 16h0M58 18h0M71 31h0M42 -5h0M80 17h0M74 26h0M81 21h0M71 29h0M68 30h0M81 19h0M69 32h0M85 16h0M64 14h0M66 32h0M77 21h0M83 18h0M82 16h0M71 32h0M69 33h0M81 20h0M77 19h0M73 26h0"/><path transform="scale(.5) rotate(45)" stroke="#1818d8" stroke-width="5.6" stroke-linecap="square" d="M76 26h0M80 22h0M67 34h0M64 33h0M84 16h0M58 18h0M71 31h0M42 -5h0M80 17h0M74 26h0M81 21h0M71 29h0M68 30h0M81 19h0M69 32h0M85 16h0M64 14h0M66 32h0M77 21h0M83 18h0M82 16h0M71 32h0M69 33h0M81 20h0M77 19h0M73 26h0"/></svg><rect x="598.35" y="255.32" width="42.6" height="41.2" fill="#eaeaf2"/><path d="M608.16 255.32V296.52M638.80 255.32V296.52M598.35 291.49H640.95M598.35 272.15H640.95" stroke="#f4f4f8" stroke-width="0.6" fill="none"/><svg x="598.35" y="255.32" width="42.6" height="41.2" overflow="hidden"><path transform="scale(.5)" stroke="#fff" stroke-opacity="0.6" stroke-width="6.9" stroke-linecap="square" d="M19 57h0M18 56h0M21 70h0M20 69h0M19 65h0M18 71h0M18 55h0M17 52h0M20 53h0M20 65h0M21 71h0M18 45h0"/><path transform="scale(.5)" stroke="#d81818" stroke-width="6.0" stroke-linecap="square" d="M19 57h0M18 56h0M21 70h0M20 69h0M19 65h0M18 71h0M18 55h0M17 52h0M20 53h0M20 65h0M21 71h0M18 45h0"/><path transform="scale(.5)" stroke="#fff" stroke-opacity="0.6" stroke-width="6.9" stroke-linecap="square" d="M17 50h0M18 72h0M19 72h0M17 64h0M19 70h0M18 51h0M19 68h0M20 34h0M20 51h0M19 66h0M18 42h0M17 34h0"/><path transform="scale(.5)" stroke="#d81818" stroke-width="6.0" stroke-linecap="square" d="M17 50h0M18 72h0M19 72h0M17 64h0M19 70h0M18 51h0M19 68h0M20 34h0M20 51h0M19 66h0M18 42h0M17 34h0"/><path transform="scale(.5)" stroke="#fff" stroke-opacity="0.6" stroke-width="6.9" stroke-linecap="square" d="M18 69h0M21 44h0M19 71h0M17 71h0M18 70h0M18 44h0M17 44h0M19 69h0M18 54h0M20 58h0M18 29h0M19 46h0"/><path transform="scale(.5)" stroke="#d81818" stroke-width="6.0" stroke-linecap="square" d="M18 69h0M21 44h0M19 71h0M17 71h0M18 70h0M18 44h0M17 44h0M19 69h0M18 54h0M20 58h0M18 29h0M19 46h0"/><path transform="scale(.5)" stroke="#fff" stroke-opacity="0.6" stroke-width="6.9" stroke-linecap="square" d="M20 71h0M20 70h0M20 55h0M21 69h0M17 72h0M20 72h0M17 67h0M20 68h0M19 43h0M19 60h0M18 67h0"/><path transform="scale(.5)" stroke="#d81818" stroke-width="6.0" stroke-linecap="square" d="M20 71h0M20 70h0M20 55h0M21 69h0M17 72h0M20 72h0M17 67h0M20 68h0M19 43h0M19 60h0M18 67h0"/><path transform="scale(.5) rotate(45)" stroke="#fff" stroke-opacity="0.6" stroke-width="6.5" stroke-linecap="square" d="M61 33h0M62 38h0M63 38h0M80 22h0M62 40h0M70 31h0M59 39h0M73 29h0M66 30h0M63 36h0M64 36h0M63 19h0M65 34h0M81 19h0M66 33h0M60 15h0M71 27h0M73 26h0M72 26h0M70 30h0M63 34h0M64 38h0M45 17h0M69 32h0"/><path transform="scale(.5) rotate(45)" stroke="#1818d8" stroke-width="5.6" stroke-linecap="square" d="M61 33h0M62 38h0M63 38h0M80 22h0M62 40h0M70 31h0M59 39h0M73 29h0M66 30h0M63 36h0M64 36h0M63 19h0M65 34h0M81 19h0M66 33h0M60 15h0M71 27h0M73 26h0M72 26h0M70 30h0M63 34h0M64 38h0M45 17h0M69 32h0"/><path transform="scale(.5) rotate(45)" stroke="#fff" stroke-opacity="0.6" stroke-width="6.5" stroke-linecap="square" d="M63 37h0M70 32h0M71 31h0M75 26h0M57 38h0M68 34h0M74 28h0M34 4h0M75 27h0M60 42h0M60 40h0M59 38h0M66 32h0M78 24h0M77 23h0M68 33h0M51 30h0M62 39h0M52 24h0M65 33h0M60 38h0M60 29h0M73 22h0M74 27h0"/><path transform="scale(.5) rotate(45)" stroke="#1818d8" stroke-width="5.6" stroke-linecap="square" d="M63 37h0M70 32h0M71 31h0M75 26h0M57 38h0M68 34h0M74 28h0M34 4h0M75 27h0M60 42h0M60 40h0M59 38h0M66 32h0M78 24h0M77 23h0M68 33h0M51 30h0M62 39h0M52 24h0M65 33h0M60 38h0M60 29h0M73 22h0M74 27h0"/><path transform="scale(.5) rotate(45)" stroke="#fff" stroke-opacity="0.6" stroke-width="6.5" stroke-linecap="square" d="M105 -4h0M68 31h0M71 26h0M59 18h0M72 28h0M54 21h0M40 10h0M67 33h0M63 35h0M66 36h0M62 27h0M65 36h0M35 9h0M68 26h0M60 31h0M68 28h0M60 39h0M79 23h0M73 27h0M76 25h0M53 18h0M69 29h0M64 33h0M79 20h0"/><path transform="scale(.5) rotate(45)" stroke="#1818d8" stroke-width="5.6" stroke-linecap="square" d="M105 -4h0M68 31h0M71 26h0M59 18h0M72 28h0M54 21h0M40 10h0M67 33h0M63 35h0M66 36h0M62 27h0M65 36h0M35 9h0M68 26h0M60 31h0M68 28h0M60 39h0M79 23h0M73 27h0M76 25h0M53 18h0M69 29h0M64 33h0M79 20h0"/><path transform="scale(.5) rotate(45)" stroke="#fff" stroke-opacity="0.6" stroke-width="6.5" stroke-linecap="square" d="M82 20h0M67 34h0M65 37h0M74 26h0M72 30h0M56 26h0M65 35h0M72 29h0M66 34h0M64 35h0M83 19h0M74 25h0M68 32h0M61 29h0M70 29h0M61 38h0M56 22h0M57 20h0M61 35h0M56 35h0M63 33h0M64 34h0M64 37h0M51 35h0"/><path transform="scale(.5) rotate(45)" stroke="#1818d8" stroke-width="5.6" stroke-linecap="square" d="M82 20h0M67 34h0M65 37h0M74 26h0M72 30h0M56 26h0M65 35h0M72 29h0M66 34h0M64 35h0M83 19h0M74 25h0M68 32h0M61 29h0M70 29h0M61 38h0M56 22h0M57 20h0M61 35h0M56 35h0M63 33h0M64 34h0M64 37h0M51 35h0"/></svg><rect x="658.80" y="255.32" width="42.6" height="41.2" fill="#eaeaf2"/><path d="M664.00 255.32V296.52M684.00 255.32V296.52M658.80 291.49H701.40M658.80 272.15H701.40" stroke="#f4f4f8" stroke-width="0.6" fill="none"/><svg x="658.80" y="255.32" width="42.6" height="41.2" overflow="hidden"><g transform="translate(-658.80,-255.32)"><rect x="661.80" y="266.82" width="4.15" height="29.70" fill="#e00000"/><rect x="661.80" y="257.82" width="4.15" height="9.02" fill="#0000ee"/><rect x="665.90" y="296.02" width="4.15" height="0.50" fill="#e00000"/><rect x="665.90" y="295.22" width="4.15" height="0.82" fill="#0000ee"/><rect x="670.00" y="296.22" width="4.15" height="0.30" fill="#e00000"/><rect x="670.00" y="295.92" width="4.15" height="0.32" fill="#0000ee"/><rect x="674.10" y="296.22" width="4.15" height="0.30" fill="#e00000"/><rect x="674.10" y="296.02" width="4.15" height="0.22" fill="#0000ee"/><rect x="678.20" y="296.32" width="4.15" height="0.20" fill="#e00000"/><rect x="678.20" y="296.22" width="4.15" height="0.12" fill="#0000ee"/><rect x="682.30" y="296.42" width="4.15" height="0.10" fill="#e00000"/><rect x="686.40" y="296.42" width="4.15" height="0.10" fill="#e00000"/><rect x="686.40" y="296.32" width="4.15" height="0.12" fill="#0000ee"/></g></svg><rect x="719.25" y="255.32" width="42.6" height="41.2" fill="#eaeaf2"/><path d="M725.22 255.32V296.52M745.13 255.32V296.52M719.25 291.49H761.85M719.25 272.15H761.85" stroke="#f4f4f8" stroke-width="0.6" fill="none"/><svg x="719.25" y="255.32" width="42.6" height="41.2" overflow="hidden"><path transform="scale(.5)" stroke="#fff" stroke-opacity="0.6" stroke-width="6.9" stroke-linecap="square" d="M30 57h0M31 56h0M39 70h0M21 69h0M30 71h0M31 70h0M34 70h0M13 72h0M20 72h0M29 70h0M36 71h0M23 70h0M40 44h0M22 71h0M44 71h0M17 72h0M43 71h0M10 69h0M49 70h0M25 71h0M41 43h0M30 69h0M42 71h0M31 71h0M41 42h0M38 45h0M34 46h0"/><path transform="scale(.5)" stroke="#d81818" stroke-width="6.0" stroke-linecap="square" d="M30 57h0M31 56h0M39 70h0M21 69h0M30 71h0M31 70h0M34 70h0M13 72h0M20 72h0M29 70h0M36 71h0M23 70h0M40 44h0M22 71h0M44 71h0M17 72h0M43 71h0M10 69h0M49 70h0M25 71h0M41 43h0M30 69h0M42 71h0M31 71h0M41 42h0M38 45h0M34 46h0"/><path transform="scale(.5)" stroke="#fff" stroke-opacity="0.6" stroke-width="6.9" stroke-linecap="square" d="M36 50h0M27 72h0M52 72h0M33 71h0M19 69h0M40 71h0M14 71h0M43 72h0M18 72h0M29 57h0M33 72h0M39 72h0M45 67h0M52 70h0M26 71h0M38 68h0M33 69h0M33 70h0M44 69h0M35 53h0M27 65h0M23 58h0M23 71h0M46 70h0M50 29h0M50 34h0"/><path transform="scale(.5)" stroke="#d81818" stroke-width="6.0" stroke-linecap="square" d="M36 50h0M27 72h0M52 72h0M33 71h0M19 69h0M40 71h0M14 71h0M43 72h0M18 72h0M29 57h0M33 72h0M39 72h0M45 67h0M52 70h0M26 71h0M38 68h0M33 69h0M33 70h0M44 69h0M35 53h0M27 65h0M23 58h0M23 71h0M46 70h0M50 29h0M50 34h0"/><path transform="scale(.5)" stroke="#fff" stroke-opacity="0.6" stroke-width="6.9" stroke-linecap="square" d="M26 69h0M41 44h0M27 71h0M20 64h0M23 72h0M30 72h0M38 51h0M20 69h0M24 72h0M31 55h0M25 72h0M27 70h0M26 52h0M47 70h0M30 68h0M12 71h0M31 68h0M8 72h0M29 68h0M36 51h0M23 66h0M34 72h0M32 60h0M48 70h0M38 71h0M28 70h0"/><path transform="scale(.5)" stroke="#d81818" stroke-width="6.0" stroke-linecap="square" d="M26 69h0M41 44h0M27 71h0M20 64h0M23 72h0M30 72h0M38 51h0M20 69h0M24 72h0M31 55h0M25 72h0M27 70h0M26 52h0M47 70h0M30 68h0M12 71h0M31 68h0M8 72h0M29 68h0M36 51h0M23 66h0M34 72h0M32 60h0M48 70h0M38 71h0M28 70h0"/><path transform="scale(.5)" stroke="#fff" stroke-opacity="0.6" stroke-width="6.9" stroke-linecap="square" d="M32 71h0M20 70h0M34 55h0M39 56h0M21 65h0M24 70h0M37 44h0M31 72h0M29 72h0M26 72h0M48 68h0M37 72h0M52 34h0M38 69h0M39 69h0M22 70h0M41 72h0M13 68h0M34 71h0M29 54h0M45 72h0M39 71h0M51 70h0M45 70h0M39 67h0M36 72h0"/><path transform="scale(.5)" stroke="#d81818" stroke-width="6.0" stroke-linecap="square" d="M32 71h0M20 70h0M34 55h0M39 56h0M21 65h0M24 70h0M37 44h0M31 72h0M29 72h0M26 72h0M48 68h0M37 72h0M52 34h0M38 69h0M39 69h0M22 70h0M41 72h0M13 68h0M34 71h0M29 54h0M45 72h0M39 71h0M51 70h0M45 70h0M39 67h0M36 72h0"/><path transform="scale(.5) rotate(45)" stroke="#fff" stroke-opacity="0.6" stroke-width="6.5" stroke-linecap="square" d="M87 8h0M94 5h0M75 25h0M82 20h0M84 16h0M74 2h0M50 0h0M51 -13h0M77 24h0M89 11h0M89 13h0M79 18h0M56 -13h0M77 17h0M73 1h0M79 19h0M85 14h0M89 10h0M89 3h0M70 1h0M82 7h0M77 -15h0M83 17h0"/><path transform="scale(.5) rotate(45)" stroke="#1818d8" stroke-width="5.6" stroke-linecap="square" d="M87 8h0M94 5h0M75 25h0M82 20h0M84 16h0M74 2h0M50 0h0M51 -13h0M77 24h0M89 11h0M89 13h0M79 18h0M56 -13h0M77 17h0M73 1h0M79 19h0M85 14h0M89 10h0M89 3h0M70 1h0M82 7h0M77 -15h0M83 17h0"/><path transform="scale(.5) rotate(45)" stroke="#fff" stroke-opacity="0.6" stroke-width="6.5" stroke-linecap="square" d="M87 14h0M75 27h0M87 15h0M81 20h0M82 13h0M75 6h0M82 18h0M85 15h0M75 23h0M86 15h0M80 9h0M80 21h0M88 13h0M72 18h0M84 18h0M76 4h0M79 -1h0M78 23h0M91 9h0M84 19h0M92 6h0M81 18h0M82 4h0"/><path transform="scale(.5) rotate(45)" stroke="#1818d8" stroke-width="5.6" stroke-linecap="square" d="M87 14h0M75 27h0M87 15h0M81 20h0M82 13h0M75 6h0M82 18h0M85 15h0M75 23h0M86 15h0M80 9h0M80 21h0M88 13h0M72 18h0M84 18h0M76 4h0M79 -1h0M78 23h0M91 9h0M84 19h0M92 6h0M81 18h0M82 4h0"/><path transform="scale(.5) rotate(45)" stroke="#fff" stroke-opacity="0.6" stroke-width="6.5" stroke-linecap="square" d="M90 11h0M91 8h0M82 15h0M74 3h0M88 11h0M84 14h0M85 17h0M79 22h0M91 10h0M80 19h0M77 4h0M88 10h0M87 13h0M84 17h0M70 25h0M79 20h0M81 -5h0M86 11h0M87 11h0M84 11h0M85 16h0M84 13h0M86 13h0"/><path transform="scale(.5) rotate(45)" stroke="#1818d8" stroke-width="5.6" stroke-linecap="square" d="M90 11h0M91 8h0M82 15h0M74 3h0M88 11h0M84 14h0M85 17h0M79 22h0M91 10h0M80 19h0M77 4h0M88 10h0M87 13h0M84 17h0M70 25h0M79 20h0M81 -5h0M86 11h0M87 11h0M84 11h0M85 16h0M84 13h0M86 13h0"/><path transform="scale(.5) rotate(45)" stroke="#fff" stroke-opacity="0.6" stroke-width="6.5" stroke-linecap="square" d="M94 7h0M83 19h0M82 19h0M78 19h0M86 16h0M89 12h0M88 14h0M87 10h0M90 10h0M92 9h0M92 8h0M85 13h0M79 23h0M90 1h0M80 20h0M76 2h0M83 16h0M79 17h0M83 14h0M95 7h0M81 21h0M87 12h0M93 7h0"/><path transform="scale(.5) rotate(45)" stroke="#1818d8" stroke-width="5.6" stroke-linecap="square" d="M94 7h0M83 19h0M82 19h0M78 19h0M86 16h0M89 12h0M88 14h0M87 10h0M90 10h0M92 9h0M92 8h0M85 13h0M79 23h0M90 1h0M80 20h0M76 2h0M83 16h0M79 17h0M83 14h0M95 7h0M81 21h0M87 12h0M93 7h0"/></svg><rect x="417.00" y="316.20" width="42.6" height="41.2" fill="#eaeaf2"/><path d="M419.43 316.20V357.40M460.01 316.20V357.40M417.00 351.62H459.60M417.00 332.37H459.60" stroke="#f4f4f8" stroke-width="0.6" fill="none"/><svg x="417.00" y="316.20" width="42.6" height="41.2" overflow="hidden"><path transform="scale(.5)" stroke="#fff" stroke-opacity="0.6" stroke-width="6.9" stroke-linecap="square" d="M13 53h0M18 52h0M20 45h0M10 62h0M15 54h0M10 52h0M5 57h0M3 47h0M15 52h0M6 59h0M11 54h0M7 48h0M12 61h0M9 46h0M10 32h0M12 32h0M67 40h0M61 45h0M65 71h0M55 51h0M55 73h0M27 35h0M30 49h0M44 56h0M40 43h0M46 60h0M30 50h0M25 40h0M28 52h0M28 39h0M18 46h0M29 69h0M48 47h0"/><path transform="scale(.5)" stroke="#d81818" stroke-width="6.0" stroke-linecap="square" d="M13 53h0M18 52h0M20 45h0M10 62h0M15 54h0M10 52h0M5 57h0M3 47h0M15 52h0M6 59h0M11 54h0M7 48h0M12 61h0M9 46h0M10 32h0M12 32h0M67 40h0M61 45h0M65 71h0M55 51h0M55 73h0M27 35h0M30 49h0M44 56h0M40 43h0M46 60h0M30 50h0M25 40h0M28 52h0M28 39h0M18 46h0M29 69h0M48 47h0"/><path transform="scale(.5)" stroke="#fff" stroke-opacity="0.6" stroke-width="6.9" stroke-linecap="square" d="M6 47h0M16 56h0M13 32h0M14 50h0M12 64h0M13 43h0M12 49h0M10 70h0M7 41h0M8 59h0M3 54h0M14 51h0M9 45h0M5 44h0M17 47h0M7 37h0M67 52h0M67 53h0M55 61h0M71 52h0M73 51h0M45 40h0M45 41h0M42 49h0M30 60h0M52 39h0M39 60h0M48 60h0M27 38h0M38 43h0M40 44h0M36 34h0M24 49h0"/><path transform="scale(.5)" stroke="#d81818" stroke-width="6.0" stroke-linecap="square" d="M6 47h0M16 56h0M13 32h0M14 50h0M12 64h0M13 43h0M12 49h0M10 70h0M7 41h0M8 59h0M3 54h0M14 51h0M9 45h0M5 44h0M17 47h0M7 37h0M67 52h0M67 53h0M55 61h0M71 52h0M73 51h0M45 40h0M45 41h0M42 49h0M30 60h0M52 39h0M39 60h0M48 60h0M27 38h0M38 43h0M40 44h0M36 34h0M24 49h0"/><path transform="scale(.5)" stroke="#fff" stroke-opacity="0.6" stroke-width="6.9" stroke-linecap="square" d="M14 57h0M9 43h0M13 56h0M13 63h0M7 60h0M8 53h0M5 69h0M13 41h0M16 63h0M8 52h0M13 52h0M9 59h0M15 56h0M9 39h0M11 57h0M54 53h0M56 58h0M74 66h0M82 40h0M78 43h0M38 75h0M18 55h0M29 57h0M22 48h0M38 51h0M29 53h0M26 45h0M43 52h0M21 36h0M31 42h0M35 53h0M25 55h0M51 49h0"/><path transform="scale(.5)" stroke="#d81818" stroke-width="6.0" stroke-linecap="square" d="M14 57h0M9 43h0M13 56h0M13 63h0M7 60h0M8 53h0M5 69h0M13 41h0M16 63h0M8 52h0M13 52h0M9 59h0M15 56h0M9 39h0M11 57h0M54 53h0M56 58h0M74 66h0M82 40h0M78 43h0M38 75h0M18 55h0M29 57h0M22 48h0M38 51h0M29 53h0M26 45h0M43 52h0M21 36h0M31 42h0M35 53h0M25 55h0M51 49h0"/><path transform="scale(.5)" stroke="#fff" stroke-opacity="0.6" stroke-width="6.9" stroke-linecap="square" d="M9 51h0M8 63h0M9 50h0M7 45h0M14 62h0M12 59h0M11 46h0M12 63h0M16 65h0M10 55h0M10 57h0M15 36h0M14 48h0M13 57h0M11 61h0M79 45h0M76 54h0M76 45h0M61 51h0M56 54h0M26 70h0M26 51h0M19 58h0M44 54h0M35 57h0M20 60h0M23 42h0M22 33h0M48 63h0M20 34h0M24 45h0M38 45h0"/><path transform="scale(.5)" stroke="#d81818" stroke-width="6.0" stroke-linecap="square" d="M9 51h0M8 63h0M9 50h0M7 45h0M14 62h0M12 59h0M11 46h0M12 63h0M16 65h0M10 55h0M10 57h0M15 36h0M14 48h0M13 57h0M11 61h0M79 45h0M76 54h0M76 45h0M61 51h0M56 54h0M26 70h0M26 51h0M19 58h0M44 54h0M35 57h0M20 60h0M23 42h0M22 33h0M48 63h0M20 34h0M24 45h0M38 45h0"/><path transform="scale(.5) rotate(45)" stroke="#fff" stroke-opacity="0.6" stroke-width="6.5" stroke-linecap="square" d="M52 -12h0M51 -21h0M60 8h0M63 -6h0M49 2h0M53 -5h0M60 -28h0M52 16h0M45 9h0M59 6h0M55 -16h0M53 -6h0M48 -5h0M49 -3h0M66 -25h0M39 5h0M51 0h0M44 13h0M47 11h0M54 -6h0M51 -12h0M44 7h0M65 -8h0M28 12h0M40 -3h0M48 3h0M39 4h0M46 -4h0M58 -31h0M64 -15h0M61 -17h0M46 -1h0"/><path transform="scale(.5) rotate(45)" stroke="#1818d8" stroke-width="5.6" stroke-linecap="square" d="M52 -12h0M51 -21h0M60 8h0M63 -6h0M49 2h0M53 -5h0M60 -28h0M52 16h0M45 9h0M59 6h0M55 -16h0M53 -6h0M48 -5h0M49 -3h0M66 -25h0M39 5h0M51 0h0M44 13h0M47 11h0M54 -6h0M51 -12h0M44 7h0M65 -8h0M28 12h0M40 -3h0M48 3h0M39 4h0M46 -4h0M58 -31h0M64 -15h0M61 -17h0M46 -1h0"/><path transform="scale(.5) rotate(45)" stroke="#fff" stroke-opacity="0.6" stroke-width="6.5" stroke-linecap="square" d="M40 6h0M48 22h0M44 2h0M55 3h0M49 -2h0M58 0h0M45 5h0M62 -7h0M54 -5h0M42 23h0M40 -4h0M59 -1h0M36 12h0M51 -16h0M47 -10h0M54 -9h0M55 -4h0M51 1h0M46 1h0M67 -16h0M54 -23h0M51 -8h0M57 -6h0M45 -1h0M41 1h0M43 -6h0M41 -7h0M47 -1h0M57 -7h0M52 -3h0M54 -12h0M37 -3h0"/><path transform="scale(.5) rotate(45)" stroke="#1818d8" stroke-width="5.6" stroke-linecap="square" d="M40 6h0M48 22h0M44 2h0M55 3h0M49 -2h0M58 0h0M45 5h0M62 -7h0M54 -5h0M42 23h0M40 -4h0M59 -1h0M36 12h0M51 -16h0M47 -10h0M54 -9h0M55 -4h0M51 1h0M46 1h0M67 -16h0M54 -23h0M51 -8h0M57 -6h0M45 -1h0M41 1h0M43 -6h0M41 -7h0M47 -1h0M57 -7h0M52 -3h0M54 -12h0M37 -3h0"/><path transform="scale(.5) rotate(45)" stroke="#fff" stroke-opacity="0.6" stroke-width="6.5" stroke-linecap="square" d="M50 -9h0M55 -18h0M47 5h0M57 -9h0M50 0h0M61 -6h0M62 -13h0M55 -5h0M51 11h0M44 11h0M35 5h0M41 -1h0M42 5h0M50 7h0M47 0h0M67 -4h0M45 1h0M62 11h0M58 -4h0M56 -1h0M54 7h0M45 -5h0M64 -12h0M51 4h0M60 -15h0M62 -9h0M37 13h0M47 8h0M61 -9h0M44 4h0M55 -2h0M62 -12h0"/><path transform="scale(.5) rotate(45)" stroke="#1818d8" stroke-width="5.6" stroke-linecap="square" d="M50 -9h0M55 -18h0M47 5h0M57 -9h0M50 0h0M61 -6h0M62 -13h0M55 -5h0M51 11h0M44 11h0M35 5h0M41 -1h0M42 5h0M50 7h0M47 0h0M67 -4h0M45 1h0M62 11h0M58 -4h0M56 -1h0M54 7h0M45 -5h0M64 -12h0M51 4h0M60 -15h0M62 -9h0M37 13h0M47 8h0M61 -9h0M44 4h0M55 -2h0M62 -12h0"/><path transform="scale(.5) rotate(45)" stroke="#fff" stroke-opacity="0.6" stroke-width="6.5" stroke-linecap="square" d="M43 -10h0M54 0h0M43 12h0M64 -5h0M57 -15h0M50 -3h0M60 -18h0M57 -12h0M52 2h0M37 0h0M61 -12h0M57 -21h0M45 4h0M52 7h0M53 -3h0M68 -4h0M37 -6h0M48 11h0M44 0h0M66 -22h0M54 -20h0M43 20h0M45 -13h0M40 -7h0M56 -6h0M53 -8h0M51 -19h0M63 -4h0M59 0h0M44 -4h0M55 -14h0"/><path transform="scale(.5) rotate(45)" stroke="#1818d8" stroke-width="5.6" stroke-linecap="square" d="M43 -10h0M54 0h0M43 12h0M64 -5h0M57 -15h0M50 -3h0M60 -18h0M57 -12h0M52 2h0M37 0h0M61 -12h0M57 -21h0M45 4h0M52 7h0M53 -3h0M68 -4h0M37 -6h0M48 11h0M44 0h0M66 -22h0M54 -20h0M43 20h0M45 -13h0M40 -7h0M56 -6h0M53 -8h0M51 -19h0M63 -4h0M59 0h0M44 -4h0M55 -14h0"/></svg><rect x="477.45" y="316.20" width="42.6" height="41.2" fill="#eaeaf2"/><path d="M488.10 316.20V357.40M516.13 316.20V357.40M477.45 351.62H520.05M477.45 332.37H520.05" stroke="#f4f4f8" stroke-width="0.6" fill="none"/><svg x="477.45" y="316.20" width="42.6" height="41.2" overflow="hidden"><path transform="scale(.5)" stroke="#fff" stroke-opacity="0.6" stroke-width="6.9" stroke-linecap="square" d="M77 53h0M34 52h0M37 45h0M41 62h0M34 54h0M47 52h0M40 57h0M34 47h0M36 41h0M37 52h0M41 52h0M36 36h0M36 48h0M34 57h0M28 32h0M40 40h0M27 53h0M22 61h0M33 52h0M32 51h0M36 40h0M48 41h0M33 43h0M37 39h0M37 60h0M46 60h0M39 38h0M28 43h0M57 49h0M25 34h0M28 49h0"/><path transform="scale(.5)" stroke="#d81818" stroke-width="6.0" stroke-linecap="square" d="M77 53h0M34 52h0M37 45h0M41 62h0M34 54h0M47 52h0M40 57h0M34 47h0M36 41h0M37 52h0M41 52h0M36 36h0M36 48h0M34 57h0M28 32h0M40 40h0M27 53h0M22 61h0M33 52h0M32 51h0M36 40h0M48 41h0M33 43h0M37 39h0M37 60h0M46 60h0M39 38h0M28 43h0M57 49h0M25 34h0M28 49h0"/><path transform="scale(.5)" stroke="#fff" stroke-opacity="0.6" stroke-width="6.9" stroke-linecap="square" d="M74 47h0M25 56h0M35 32h0M30 50h0M38 64h0M53 43h0M26 49h0M42 70h0M35 65h0M31 55h0M40 48h0M12 61h0M44 46h0M25 32h0M29 37h0M27 52h0M29 66h0M30 40h0M26 43h0M32 75h0M40 55h0M39 58h0M39 60h0M34 53h0M11 45h0M39 52h0M43 36h0M35 42h0M21 44h0M37 55h0"/><path transform="scale(.5)" stroke="#d81818" stroke-width="6.0" stroke-linecap="square" d="M74 47h0M25 56h0M35 32h0M30 50h0M38 64h0M53 43h0M26 49h0M42 70h0M35 65h0M31 55h0M40 48h0M12 61h0M44 46h0M25 32h0M29 37h0M27 52h0M29 66h0M30 40h0M26 43h0M32 75h0M40 55h0M39 58h0M39 60h0M34 53h0M11 45h0M39 52h0M43 36h0M35 42h0M21 44h0M37 55h0"/><path transform="scale(.5)" stroke="#fff" stroke-opacity="0.6" stroke-width="6.9" stroke-linecap="square" d="M38 57h0M35 43h0M29 56h0M44 63h0M33 60h0M24 53h0M28 69h0M33 41h0M27 59h0M32 54h0M38 51h0M42 45h0M30 44h0M36 57h0M28 53h0M21 58h0M25 45h0M26 51h0M28 54h0M37 70h0M37 51h0M46 56h0M29 51h0M29 60h0M28 42h0M27 33h0M32 63h0M24 34h0M36 53h0M48 47h0"/><path transform="scale(.5)" stroke="#d81818" stroke-width="6.0" stroke-linecap="square" d="M38 57h0M35 43h0M29 56h0M44 63h0M33 60h0M24 53h0M28 69h0M33 41h0M27 59h0M32 54h0M38 51h0M42 45h0M30 44h0M36 57h0M28 53h0M21 58h0M25 45h0M26 51h0M28 54h0M37 70h0M37 51h0M46 56h0M29 51h0M29 60h0M28 42h0M27 33h0M32 63h0M24 34h0M36 53h0M48 47h0"/><path transform="scale(.5)" stroke="#fff" stroke-opacity="0.6" stroke-width="6.9" stroke-linecap="square" d="M21 51h0M36 63h0M37 50h0M33 45h0M36 62h0M41 59h0M29 46h0M33 63h0M29 59h0M27 54h0M28 59h0M33 56h0M42 39h0M46 61h0M30 45h0M23 45h0M27 71h0M34 51h0M29 73h0M58 35h0M24 49h0M25 48h0M38 60h0M38 50h0M35 40h0M59 52h0M31 39h0M51 46h0M58 69h0M51 49h0"/><path transform="scale(.5)" stroke="#d81818" stroke-width="6.0" stroke-linecap="square" d="M21 51h0M36 63h0M37 50h0M33 45h0M36 62h0M41 59h0M29 46h0M33 63h0M29 59h0M27 54h0M28 59h0M33 56h0M42 39h0M46 61h0M30 45h0M23 45h0M27 71h0M34 51h0M29 73h0M58 35h0M24 49h0M25 48h0M38 60h0M38 50h0M35 40h0M59 52h0M31 39h0M51 46h0M58 69h0M51 49h0"/><path transform="scale(.5) rotate(45)" stroke="#fff" stroke-opacity="0.6" stroke-width="6.5" stroke-linecap="square" d="M35 5h0M30 0h0M49 19h0M45 11h0M51 -1h0M43 5h0M40 -7h0M54 14h0M45 5h0M52 13h0M32 7h0M42 6h0M41 2h0M42 4h0M40 2h0M38 8h0M41 10h0M51 7h0M59 0h0M50 9h0M43 1h0M42 -9h0M44 0h0M33 -1h0M39 -1h0M45 6h0M37 6h0M35 -3h0M45 14h0M49 7h0M37 7h0M54 -12h0M43 7h0"/><path transform="scale(.5) rotate(45)" stroke="#1818d8" stroke-width="5.6" stroke-linecap="square" d="M35 5h0M30 0h0M49 19h0M45 11h0M51 -1h0M43 5h0M40 -7h0M54 14h0M45 5h0M52 13h0M32 7h0M42 6h0M41 2h0M42 4h0M40 2h0M38 8h0M41 10h0M51 7h0M59 0h0M50 9h0M43 1h0M42 -9h0M44 0h0M33 -1h0M39 -1h0M45 6h0M37 6h0M35 -3h0M45 14h0M49 7h0M37 7h0M54 -12h0M43 7h0"/><path transform="scale(.5) rotate(45)" stroke="#fff" stroke-opacity="0.6" stroke-width="6.5" stroke-linecap="square" d="M49 -4h0M65 5h0M46 0h0M43 15h0M45 2h0M56 2h0M46 3h0M49 5h0M56 6h0M56 10h0M43 -7h0M48 9h0M46 1h0M40 -6h0M47 1h0M51 12h0M53 -2h0M52 -5h0M49 9h0M46 2h0M45 -6h0M43 0h0M58 -2h0M42 2h0M54 -11h0M44 -8h0M36 -3h0M48 -6h0M21 6h0M45 3h0M30 12h0M49 -3h0"/><path transform="scale(.5) rotate(45)" stroke="#1818d8" stroke-width="5.6" stroke-linecap="square" d="M49 -4h0M65 5h0M46 0h0M43 15h0M45 2h0M56 2h0M46 3h0M49 5h0M56 6h0M56 10h0M43 -7h0M48 9h0M46 1h0M40 -6h0M47 1h0M51 12h0M53 -2h0M52 -5h0M49 9h0M46 2h0M45 -6h0M43 0h0M58 -2h0M42 2h0M54 -11h0M44 -8h0M36 -3h0M48 -6h0M21 6h0M45 3h0M30 12h0M49 -3h0"/><path transform="scale(.5) rotate(45)" stroke="#fff" stroke-opacity="0.6" stroke-width="6.5" stroke-linecap="square" d="M31 9h0M34 3h0M47 5h0M47 0h0M49 1h0M50 5h0M48 1h0M48 3h0M53 1h0M52 4h0M34 6h0M39 1h0M36 11h0M56 1h0M50 0h0M51 8h0M33 13h0M51 1h0M56 -9h0M40 11h0M41 -10h0M44 -4h0M49 2h0M48 7h0M46 -1h0M40 5h0M56 -8h0M44 2h0M38 11h0M37 12h0M48 -1h0M48 -15h0"/><path transform="scale(.5) rotate(45)" stroke="#1818d8" stroke-width="5.6" stroke-linecap="square" d="M31 9h0M34 3h0M47 5h0M47 0h0M49 1h0M50 5h0M48 1h0M48 3h0M53 1h0M52 4h0M34 6h0M39 1h0M36 11h0M56 1h0M50 0h0M51 8h0M33 13h0M51 1h0M56 -9h0M40 11h0M41 -10h0M44 -4h0M49 2h0M48 7h0M46 -1h0M40 5h0M56 -8h0M44 2h0M38 11h0M37 12h0M48 -1h0M48 -15h0"/><path transform="scale(.5) rotate(45)" stroke="#fff" stroke-opacity="0.6" stroke-width="6.5" stroke-linecap="square" d="M27 6h0M46 8h0M53 2h0M57 2h0M32 10h0M40 7h0M33 9h0M50 4h0M32 9h0M47 -9h0M40 9h0M35 2h0M39 9h0M67 -8h0M46 -2h0M44 20h0M39 -8h0M53 19h0M57 -2h0M54 0h0M60 1h0M55 8h0M56 -4h0M38 -5h0M42 8h0M42 -10h0M35 15h0M46 9h0M46 5h0M40 0h0M52 1h0M51 -3h0"/><path transform="scale(.5) rotate(45)" stroke="#1818d8" stroke-width="5.6" stroke-linecap="square" d="M27 6h0M46 8h0M53 2h0M57 2h0M32 10h0M40 7h0M33 9h0M50 4h0M32 9h0M47 -9h0M40 9h0M35 2h0M39 9h0M67 -8h0M46 -2h0M44 20h0M39 -8h0M53 19h0M57 -2h0M54 0h0M60 1h0M55 8h0M56 -4h0M38 -5h0M42 8h0M42 -10h0M35 15h0M46 9h0M46 5h0M40 0h0M52 1h0M51 -3h0"/></svg><rect x="537.90" y="316.20" width="42.6" height="41.2" fill="#eaeaf2"/><path d="M538.17 316.20V357.40M564.79 316.20V357.40M537.90 351.62H580.50M537.90 332.37H580.50" stroke="#f4f4f8" stroke-width="0.6" fill="none"/><svg x="537.90" y="316.20" width="42.6" height="41.2" overflow="hidden"><path transform="scale(.5)" stroke="#fff" stroke-opacity="0.6" stroke-width="6.9" stroke-linecap="square" d="M27 53h0M22 52h0M20 45h0M1 62h0M22 54h0M21 43h0M35 49h0M26 70h0M35 41h0M14 59h0M10 54h0M16 51h0M16 45h0M21 44h0M27 47h0M28 37h0M23 58h0M24 66h0M16 40h0M17 54h0M32 70h0M22 51h0M32 56h0M23 60h0M17 53h0M24 42h0M18 33h0M18 43h0M24 49h0M29 69h0M17 47h0"/><path transform="scale(.5)" stroke="#d81818" stroke-width="6.0" stroke-linecap="square" d="M27 53h0M22 52h0M20 45h0M1 62h0M22 54h0M21 43h0M35 49h0M26 70h0M35 41h0M14 59h0M10 54h0M16 51h0M16 45h0M21 44h0M27 47h0M28 37h0M23 58h0M24 66h0M16 40h0M17 54h0M32 70h0M22 51h0M32 56h0M23 60h0M17 53h0M24 42h0M18 33h0M18 43h0M24 49h0M29 69h0M17 47h0"/><path transform="scale(.5)" stroke="#fff" stroke-opacity="0.6" stroke-width="6.9" stroke-linecap="square" d="M14 47h0M26 56h0M1 32h0M26 50h0M18 64h0M9 53h0M20 69h0M19 41h0M17 63h0M43 52h0M20 52h0M40 59h0M18 56h0M14 39h0M25 57h0M23 45h0M7 54h0M17 45h0M10 51h0M15 73h0M8 35h0M18 49h0M21 49h0M25 51h0M24 50h0M26 40h0M24 38h0M22 42h0M27 44h0M17 34h0M15 49h0"/><path transform="scale(.5)" stroke="#d81818" stroke-width="6.0" stroke-linecap="square" d="M14 47h0M26 56h0M1 32h0M26 50h0M18 64h0M9 53h0M20 69h0M19 41h0M17 63h0M43 52h0M20 52h0M40 59h0M18 56h0M14 39h0M25 57h0M23 45h0M7 54h0M17 45h0M10 51h0M15 73h0M8 35h0M18 49h0M21 49h0M25 51h0M24 50h0M26 40h0M24 38h0M22 42h0M27 44h0M17 34h0M15 49h0"/><path transform="scale(.5)" stroke="#fff" stroke-opacity="0.6" stroke-width="6.9" stroke-linecap="square" d="M1 57h0M2 43h0M24 56h0M19 63h0M21 60h0M24 59h0M20 46h0M15 63h0M12 65h0M19 55h0M29 57h0M26 36h0M31 48h0M30 57h0M16 61h0M43 40h0M21 45h0M8 71h0M18 51h0M23 51h0M37 40h0M29 41h0M22 48h0M30 60h0M29 60h0M33 60h0M20 63h0M33 34h0M31 53h0M25 55h0M34 49h0"/><path transform="scale(.5)" stroke="#d81818" stroke-width="6.0" stroke-linecap="square" d="M1 57h0M2 43h0M24 56h0M19 63h0M21 60h0M24 59h0M20 46h0M15 63h0M12 65h0M19 55h0M29 57h0M26 36h0M31 48h0M30 57h0M16 61h0M43 40h0M21 45h0M8 71h0M18 51h0M23 51h0M37 40h0M29 41h0M22 48h0M30 60h0M29 60h0M33 60h0M20 63h0M33 34h0M31 53h0M25 55h0M34 49h0"/><path transform="scale(.5)" stroke="#fff" stroke-opacity="0.6" stroke-width="6.9" stroke-linecap="square" d="M9 51h0M6 63h0M28 50h0M31 45h0M28 62h0M20 57h0M15 47h0M33 52h0M29 59h0M28 54h0M24 48h0M19 61h0M14 46h0M19 32h0M26 32h0M15 52h0M13 53h0M27 61h0M10 52h0M14 75h0M26 55h0M23 57h0M33 43h0M36 39h0M36 45h0M14 52h0M38 39h0M30 46h0M24 45h0M11 45h0"/><path transform="scale(.5)" stroke="#d81818" stroke-width="6.0" stroke-linecap="square" d="M9 51h0M6 63h0M28 50h0M31 45h0M28 62h0M20 57h0M15 47h0M33 52h0M29 59h0M28 54h0M24 48h0M19 61h0M14 46h0M19 32h0M26 32h0M15 52h0M13 53h0M27 61h0M10 52h0M14 75h0M26 55h0M23 57h0M33 43h0M36 39h0M36 45h0M14 52h0M38 39h0M30 46h0M24 45h0M11 45h0"/><path transform="scale(.5) rotate(45)" stroke="#fff" stroke-opacity="0.6" stroke-width="6.5" stroke-linecap="square" d="M77 -37h0M34 -3h0M66 2h0M48 9h0M61 -10h0M56 2h0M54 -5h0M54 1h0M61 -11h0M48 17h0M44 -5h0M48 10h0M45 3h0M50 -16h0M48 2h0M49 10h0M56 -10h0M61 -8h0M47 -3h0M32 -2h0M51 -11h0M57 -5h0M55 -10h0M33 10h0M40 -3h0M46 -2h0M48 -5h0M45 -17h0M56 4h0M45 -5h0M49 -15h0"/><path transform="scale(.5) rotate(45)" stroke="#1818d8" stroke-width="5.6" stroke-linecap="square" d="M77 -37h0M34 -3h0M66 2h0M48 9h0M61 -10h0M56 2h0M54 -5h0M54 1h0M61 -11h0M48 17h0M44 -5h0M48 10h0M45 3h0M50 -16h0M48 2h0M49 10h0M56 -10h0M61 -8h0M47 -3h0M32 -2h0M51 -11h0M57 -5h0M55 -10h0M33 10h0M40 -3h0M46 -2h0M48 -5h0M45 -17h0M56 4h0M45 -5h0M49 -15h0"/><path transform="scale(.5) rotate(45)" stroke="#fff" stroke-opacity="0.6" stroke-width="6.5" stroke-linecap="square" d="M41 5h0M70 0h0M61 -14h0M60 -2h0M63 -12h0M48 7h0M60 -11h0M50 1h0M55 7h0M51 15h0M30 6h0M48 -8h0M60 -13h0M54 6h0M53 -9h0M61 3h0M42 -11h0M73 0h0M48 -1h0M60 1h0M58 5h0M43 -11h0M46 9h0M48 -3h0M60 -7h0M47 -14h0M46 0h0M49 0h0M53 -4h0M63 -21h0M59 -11h0"/><path transform="scale(.5) rotate(45)" stroke="#1818d8" stroke-width="5.6" stroke-linecap="square" d="M41 5h0M70 0h0M61 -14h0M60 -2h0M63 -12h0M48 7h0M60 -11h0M50 1h0M55 7h0M51 15h0M30 6h0M48 -8h0M60 -13h0M54 6h0M53 -9h0M61 3h0M42 -11h0M73 0h0M48 -1h0M60 1h0M58 5h0M43 -11h0M46 9h0M48 -3h0M60 -7h0M47 -14h0M46 0h0M49 0h0M53 -4h0M63 -21h0M59 -11h0"/><path transform="scale(.5) rotate(45)" stroke="#fff" stroke-opacity="0.6" stroke-width="6.5" stroke-linecap="square" d="M48 -7h0M52 -15h0M51 1h0M51 -4h0M55 -13h0M43 3h0M41 1h0M57 -11h0M47 8h0M53 3h0M37 3h0M46 -9h0M48 0h0M49 -8h0M52 -7h0M44 6h0M41 17h0M62 -3h0M65 -10h0M43 -10h0M55 1h0M40 0h0M46 -12h0M58 -8h0M41 4h0M54 -7h0M48 8h0M71 -20h0M53 -5h0M50 3h0M51 -1h0"/><path transform="scale(.5) rotate(45)" stroke="#1818d8" stroke-width="5.6" stroke-linecap="square" d="M48 -7h0M52 -15h0M51 1h0M51 -4h0M55 -13h0M43 3h0M41 1h0M57 -11h0M47 8h0M53 3h0M37 3h0M46 -9h0M48 0h0M49 -8h0M52 -7h0M44 6h0M41 17h0M62 -3h0M65 -10h0M43 -10h0M55 1h0M40 0h0M46 -12h0M58 -8h0M41 4h0M54 -7h0M48 8h0M71 -20h0M53 -5h0M50 3h0M51 -1h0"/><path transform="scale(.5) rotate(45)" stroke="#fff" stroke-opacity="0.6" stroke-width="6.5" stroke-linecap="square" d="M42 -9h0M56 -2h0M44 11h0M45 14h0M47 1h0M40 -8h0M65 3h0M51 4h0M52 -11h0M45 -7h0M54 -6h0M55 -12h0M59 -14h0M40 7h0M50 12h0M53 -2h0M58 -11h0M43 15h0M50 -6h0M55 -11h0M57 -6h0M52 -12h0M42 -5h0M46 4h0M36 -3h0M47 2h0M48 11h0M52 -9h0M51 -8h0M58 -12h0"/><path transform="scale(.5) rotate(45)" stroke="#1818d8" stroke-width="5.6" stroke-linecap="square" d="M42 -9h0M56 -2h0M44 11h0M45 14h0M47 1h0M40 -8h0M65 3h0M51 4h0M52 -11h0M45 -7h0M54 -6h0M55 -12h0M59 -14h0M40 7h0M50 12h0M53 -2h0M58 -11h0M43 15h0M50 -6h0M55 -11h0M57 -6h0M52 -12h0M42 -5h0M46 4h0M36 -3h0M47 2h0M48 11h0M52 -9h0M51 -8h0M58 -12h0"/></svg><rect x="598.35" y="316.20" width="42.6" height="41.2" fill="#eaeaf2"/><path d="M608.16 316.20V357.40M638.80 316.20V357.40M598.35 351.62H640.95M598.35 332.37H640.95" stroke="#f4f4f8" stroke-width="0.6" fill="none"/><svg x="598.35" y="316.20" width="42.6" height="41.2" overflow="hidden"><path transform="scale(.5)" stroke="#fff" stroke-opacity="0.6" stroke-width="6.9" stroke-linecap="square" d="M19 53h0M18 52h0M21 45h0M20 62h0M17 54h0M19 52h0M21 49h0M18 70h0M19 59h0M19 57h0M19 61h0M17 44h0M18 32h0M19 45h0M19 40h0M19 70h0M18 51h0M20 49h0M21 53h0M19 33h0M17 42h0M18 44h0M19 47h0"/><path transform="scale(.5)" stroke="#d81818" stroke-width="6.0" stroke-linecap="square" d="M19 53h0M18 52h0M21 45h0M20 62h0M17 54h0M19 52h0M21 49h0M18 70h0M19 59h0M19 57h0M19 61h0M17 44h0M18 32h0M19 45h0M19 40h0M19 70h0M18 51h0M20 49h0M21 53h0M19 33h0M17 42h0M18 44h0M19 47h0"/><path transform="scale(.5)" stroke="#fff" stroke-opacity="0.6" stroke-width="6.9" stroke-linecap="square" d="M17 47h0M18 56h0M19 32h0M19 50h0M21 64h0M19 43h0M18 69h0M19 41h0M20 52h0M20 48h0M20 45h0M17 39h0M18 37h0M20 53h0M18 43h0M20 35h0M17 49h0M18 54h0M20 60h0M21 52h0M18 34h0M18 53h0M19 49h0"/><path transform="scale(.5)" stroke="#d81818" stroke-width="6.0" stroke-linecap="square" d="M17 47h0M18 56h0M19 32h0M19 50h0M21 64h0M19 43h0M18 69h0M19 41h0M20 52h0M20 48h0M20 45h0M17 39h0M18 37h0M20 53h0M18 43h0M20 35h0M17 49h0M18 54h0M20 60h0M21 52h0M18 34h0M18 53h0M19 49h0"/><path transform="scale(.5)" stroke="#fff" stroke-opacity="0.6" stroke-width="6.9" stroke-linecap="square" d="M18 57h0M21 43h0M19 56h0M17 63h0M19 60h0M18 59h0M18 46h0M18 63h0M18 55h0M19 51h0M20 56h0M20 32h0M17 40h0M19 66h0M19 73h0M21 40h0M20 41h0M20 57h0M18 60h0M19 38h0M19 46h0M19 69h0"/><path transform="scale(.5)" stroke="#d81818" stroke-width="6.0" stroke-linecap="square" d="M18 57h0M21 43h0M19 56h0M17 63h0M19 60h0M18 59h0M18 46h0M18 63h0M18 55h0M19 51h0M20 56h0M20 32h0M17 40h0M19 66h0M19 73h0M21 40h0M20 41h0M20 57h0M18 60h0M19 38h0M19 46h0M19 69h0"/><path transform="scale(.5)" stroke="#fff" stroke-opacity="0.6" stroke-width="6.9" stroke-linecap="square" d="M20 51h0M20 63h0M20 50h0M18 45h0M19 62h0M17 57h0M18 47h0M20 65h0M19 54h0M19 36h0M20 46h0M20 61h0M20 58h0M19 71h0M20 75h0M20 55h0M19 58h0M19 39h0M20 42h0M19 63h0M18 49h0M17 34h0"/><path transform="scale(.5)" stroke="#d81818" stroke-width="6.0" stroke-linecap="square" d="M20 51h0M20 63h0M20 50h0M18 45h0M19 62h0M17 57h0M18 47h0M20 65h0M19 54h0M19 36h0M20 46h0M20 61h0M20 58h0M19 71h0M20 75h0M20 55h0M19 58h0M19 39h0M20 42h0M19 63h0M18 49h0M17 34h0"/><path transform="scale(.5) rotate(45)" stroke="#fff" stroke-opacity="0.6" stroke-width="6.5" stroke-linecap="square" d="M34 6h0M27 3h0M46 21h0M57 0h0M49 1h0M45 3h0M40 10h0M42 12h0M42 8h0M56 9h0M36 3h0M39 9h0M32 11h0M30 4h0M34 3h0M58 4h0M42 9h0M46 1h0M51 7h0M39 5h0M50 -6h0M31 3h0M49 13h0M41 -10h0M43 12h0M35 10h0M29 3h0M42 3h0M50 0h0M37 11h0M39 14h0M40 8h0"/><path transform="scale(.5) rotate(45)" stroke="#1818d8" stroke-width="5.6" stroke-linecap="square" d="M34 6h0M27 3h0M46 21h0M57 0h0M49 1h0M45 3h0M40 10h0M42 12h0M42 8h0M56 9h0M36 3h0M39 9h0M32 11h0M30 4h0M34 3h0M58 4h0M42 9h0M46 1h0M51 7h0M39 5h0M50 -6h0M31 3h0M49 13h0M41 -10h0M43 12h0M35 10h0M29 3h0M42 3h0M50 0h0M37 11h0M39 14h0M40 8h0"/><path transform="scale(.5) rotate(45)" stroke="#fff" stroke-opacity="0.6" stroke-width="6.5" stroke-linecap="square" d="M36 10h0M54 16h0M43 3h0M54 4h0M35 13h0M48 10h0M34 14h0M47 4h0M53 9h0M47 19h0M32 4h0M43 14h0M41 6h0M39 18h0M38 12h0M50 9h0M50 -4h0M44 9h0M34 13h0M48 0h0M38 1h0M41 10h0M41 16h0M37 3h0M27 6h0M36 14h0M37 6h0M40 16h0M43 0h0M40 3h0M29 13h0"/><path transform="scale(.5) rotate(45)" stroke="#1818d8" stroke-width="5.6" stroke-linecap="square" d="M36 10h0M54 16h0M43 3h0M54 4h0M35 13h0M48 10h0M34 14h0M47 4h0M53 9h0M47 19h0M32 4h0M43 14h0M41 6h0M39 18h0M38 12h0M50 9h0M50 -4h0M44 9h0M34 13h0M48 0h0M38 1h0M41 10h0M41 16h0M37 3h0M27 6h0M36 14h0M37 6h0M40 16h0M43 0h0M40 3h0M29 13h0"/><path transform="scale(.5) rotate(45)" stroke="#fff" stroke-opacity="0.6" stroke-width="6.5" stroke-linecap="square" d="M75 -34h0M37 0h0M49 3h0M44 3h0M34 16h0M40 7h0M44 -2h0M36 9h0M51 3h0M52 3h0M44 -4h0M34 5h0M56 -7h0M44 16h0M40 4h0M48 16h0M30 1h0M56 17h0M44 10h0M37 14h0M39 -8h0M37 7h0M45 5h0M32 8h0M30 7h0M31 6h0M38 9h0M45 14h0M43 16h0M51 -7h0M41 5h0"/><path transform="scale(.5) rotate(45)" stroke="#1818d8" stroke-width="5.6" stroke-linecap="square" d="M75 -34h0M37 0h0M49 3h0M44 3h0M34 16h0M40 7h0M44 -2h0M36 9h0M51 3h0M52 3h0M44 -4h0M34 5h0M56 -7h0M44 16h0M40 4h0M48 16h0M30 1h0M56 17h0M44 10h0M37 14h0M39 -8h0M37 7h0M45 5h0M32 8h0M30 7h0M31 6h0M38 9h0M45 14h0M43 16h0M51 -7h0M41 5h0"/><path transform="scale(.5) rotate(45)" stroke="#fff" stroke-opacity="0.6" stroke-width="6.5" stroke-linecap="square" d="M48 -15h0M44 11h0M42 14h0M52 7h0M43 -1h0M36 -3h0M49 19h0M42 13h0M39 3h0M34 4h0M33 15h0M35 2h0M45 1h0M45 -4h0M54 -9h0M41 9h0M49 9h0M41 17h0M40 19h0M49 5h0M45 16h0M43 -3h0M42 10h0M39 6h0M36 7h0M38 8h0M39 -7h0M28 0h0M47 1h0M30 12h0M33 0h0"/><path transform="scale(.5) rotate(45)" stroke="#1818d8" stroke-width="5.6" stroke-linecap="square" d="M48 -15h0M44 11h0M42 14h0M52 7h0M43 -1h0M36 -3h0M49 19h0M42 13h0M39 3h0M34 4h0M33 15h0M35 2h0M45 1h0M45 -4h0M54 -9h0M41 9h0M49 9h0M41 17h0M40 19h0M49 5h0M45 16h0M43 -3h0M42 10h0M39 6h0M36 7h0M38 8h0M39 -7h0M28 0h0M47 1h0M30 12h0M33 0h0"/></svg><rect x="658.80" y="316.20" width="42.6" height="41.2" fill="#eaeaf2"/><path d="M664.00 316.20V357.40M684.00 316.20V357.40M658.80 351.62H701.40M658.80 332.37H701.40" stroke="#f4f4f8" stroke-width="0.6" fill="none"/><svg x="658.80" y="316.20" width="42.6" height="41.2" overflow="hidden"><path transform="scale(.5)" stroke="#fff" stroke-opacity="0.6" stroke-width="6.9" stroke-linecap="square" d="M27 53h0M27 52h0M12 45h0M14 62h0M12 54h0M13 52h0M10 57h0M40 47h0M11 52h0M11 59h0M28 52h0M13 61h0M40 44h0M34 47h0M13 37h0M15 54h0M15 45h0M11 43h0M15 70h0M12 49h0M32 48h0M18 57h0M25 60h0M23 52h0M13 36h0M12 46h0M50 34h0"/><path transform="scale(.5)" stroke="#d81818" stroke-width="6.0" stroke-linecap="square" d="M27 53h0M27 52h0M12 45h0M14 62h0M12 54h0M13 52h0M10 57h0M40 47h0M11 52h0M11 59h0M28 52h0M13 61h0M40 44h0M34 47h0M13 37h0M15 54h0M15 45h0M11 43h0M15 70h0M12 49h0M32 48h0M18 57h0M25 60h0M23 52h0M13 36h0M12 46h0M50 34h0"/><path transform="scale(.5)" stroke="#fff" stroke-opacity="0.6" stroke-width="6.9" stroke-linecap="square" d="M33 47h0M11 56h0M11 32h0M12 50h0M14 64h0M12 43h0M13 49h0M10 70h0M10 63h0M11 55h0M12 48h0M11 45h0M16 39h0M11 57h0M13 45h0M14 45h0M12 71h0M14 73h0M13 35h0M12 57h0M29 54h0M16 60h0M11 50h0M12 33h0M11 63h0M11 49h0M13 55h0"/><path transform="scale(.5)" stroke="#d81818" stroke-width="6.0" stroke-linecap="square" d="M33 47h0M11 56h0M11 32h0M12 50h0M14 64h0M12 43h0M13 49h0M10 70h0M10 63h0M11 55h0M12 48h0M11 45h0M16 39h0M11 57h0M13 45h0M14 45h0M12 71h0M14 73h0M13 35h0M12 57h0M29 54h0M16 60h0M11 50h0M12 33h0M11 63h0M11 49h0M13 55h0"/><path transform="scale(.5)" stroke="#fff" stroke-opacity="0.6" stroke-width="6.9" stroke-linecap="square" d="M14 57h0M40 43h0M12 56h0M19 63h0M11 60h0M11 53h0M12 69h0M11 41h0M11 65h0M13 54h0M11 51h0M13 56h0M32 57h0M11 61h0M12 40h0M12 53h0M14 51h0M13 51h0M13 40h0M11 58h0M41 43h0M11 39h0M12 42h0M12 52h0M13 39h0M16 44h0M11 47h0"/><path transform="scale(.5)" stroke="#d81818" stroke-width="6.0" stroke-linecap="square" d="M14 57h0M40 43h0M12 56h0M19 63h0M11 60h0M11 53h0M12 69h0M11 41h0M11 65h0M13 54h0M11 51h0M13 56h0M32 57h0M11 61h0M12 40h0M12 53h0M14 51h0M13 51h0M13 40h0M11 58h0M41 43h0M11 39h0M12 42h0M12 52h0M13 39h0M16 44h0M11 47h0"/><path transform="scale(.5)" stroke="#fff" stroke-opacity="0.6" stroke-width="6.9" stroke-linecap="square" d="M12 51h0M13 63h0M28 50h0M27 45h0M18 62h0M13 59h0M33 46h0M14 63h0M10 59h0M27 54h0M14 36h0M11 46h0M50 32h0M13 32h0M12 58h0M11 66h0M15 52h0M10 75h0M14 55h0M31 49h0M13 60h0M14 53h0M12 60h0M12 38h0M56 34h0M38 45h0M37 49h0"/><path transform="scale(.5)" stroke="#d81818" stroke-width="6.0" stroke-linecap="square" d="M12 51h0M13 63h0M28 50h0M27 45h0M18 62h0M13 59h0M33 46h0M14 63h0M10 59h0M27 54h0M14 36h0M11 46h0M50 32h0M13 32h0M12 58h0M11 66h0M15 52h0M10 75h0M14 55h0M31 49h0M13 60h0M14 53h0M12 60h0M12 38h0M56 34h0M38 45h0M37 49h0"/><path transform="scale(.5) rotate(45)" stroke="#fff" stroke-opacity="0.6" stroke-width="6.5" stroke-linecap="square" d="M31 9h0M24 6h0M42 25h0M36 21h0M34 17h0M44 2h0M68 0h0M68 -13h0M40 25h0M27 9h0M32 15h0M26 9h0M33 14h0M41 18h0M28 3h0M39 19h0M33 15h0M39 22h0M40 23h0M28 12h0M31 11h0M34 12h0M31 12h0M35 13h0M32 14h0"/><path transform="scale(.5) rotate(45)" stroke="#1818d8" stroke-width="5.6" stroke-linecap="square" d="M31 9h0M24 6h0M42 25h0M36 21h0M34 17h0M44 2h0M68 0h0M68 -13h0M40 25h0M27 9h0M32 15h0M26 9h0M33 14h0M41 18h0M28 3h0M39 19h0M33 15h0M39 22h0M40 23h0M28 12h0M31 11h0M34 12h0M31 12h0M35 13h0M32 14h0"/><path transform="scale(.5) rotate(45)" stroke="#fff" stroke-opacity="0.6" stroke-width="6.5" stroke-linecap="square" d="M31 14h0M43 27h0M31 16h0M37 21h0M36 14h0M43 6h0M36 19h0M33 16h0M43 23h0M38 20h0M38 9h0M38 19h0M62 -13h0M46 18h0M45 2h0M42 5h0M30 14h0M37 -4h0M32 12h0M36 18h0M35 15h0M36 7h0M37 22h0M34 14h0"/><path transform="scale(.5) rotate(45)" stroke="#1818d8" stroke-width="5.6" stroke-linecap="square" d="M31 14h0M43 27h0M31 16h0M37 21h0M36 14h0M43 6h0M36 19h0M33 16h0M43 23h0M38 20h0M38 9h0M38 19h0M62 -13h0M46 18h0M45 2h0M42 5h0M30 14h0M37 -4h0M32 12h0M36 18h0M35 15h0M36 7h0M37 22h0M34 14h0"/><path transform="scale(.5) rotate(45)" stroke="#fff" stroke-opacity="0.6" stroke-width="6.5" stroke-linecap="square" d="M29 12h0M28 9h0M36 16h0M44 3h0M30 12h0M34 15h0M33 18h0M39 23h0M27 11h0M26 10h0M32 17h0M38 22h0M31 13h0M33 17h0M34 18h0M34 20h0M40 -1h0M35 16h0M39 18h0M30 4h0M49 2h0M26 7h0M42 -15h0M35 18h0"/><path transform="scale(.5) rotate(45)" stroke="#1818d8" stroke-width="5.6" stroke-linecap="square" d="M29 12h0M28 9h0M36 16h0M44 3h0M30 12h0M34 15h0M33 18h0M39 23h0M27 11h0M26 10h0M32 17h0M38 22h0M31 13h0M33 17h0M34 18h0M34 20h0M40 -1h0M35 16h0M39 18h0M30 4h0M49 2h0M26 7h0M42 -15h0M35 18h0"/><path transform="scale(.5) rotate(45)" stroke="#fff" stroke-opacity="0.6" stroke-width="6.5" stroke-linecap="square" d="M24 9h0M35 20h0M36 20h0M39 20h0M32 16h0M29 13h0M30 15h0M31 10h0M28 11h0M29 14h0M41 5h0M30 11h0M39 24h0M31 15h0M47 26h0M42 2h0M25 6h0M29 11h0M24 8h0M27 10h0M34 19h0M25 8h0M37 19h0M36 5h0"/><path transform="scale(.5) rotate(45)" stroke="#1818d8" stroke-width="5.6" stroke-linecap="square" d="M24 9h0M35 20h0M36 20h0M39 20h0M32 16h0M29 13h0M30 15h0M31 10h0M28 11h0M29 14h0M41 5h0M30 11h0M39 24h0M31 15h0M47 26h0M42 2h0M25 6h0M29 11h0M24 8h0M27 10h0M34 19h0M25 8h0M37 19h0M36 5h0"/></svg><rect x="719.25" y="316.20" width="42.6" height="41.2" fill="#eaeaf2"/><path d="M725.22 316.20V357.40M745.13 316.20V357.40M719.25 351.62H761.85M719.25 332.37H761.85" stroke="#f4f4f8" stroke-width="0.6" fill="none"/><svg x="719.25" y="316.20" width="42.6" height="41.2" overflow="hidden"><g transform="translate(-719.25,-316.20)"><rect x="720.60" y="356.80" width="3.95" height="0.60" fill="#e00000"/><rect x="724.50" y="356.20" width="3.95" height="1.20" fill="#e00000"/><rect x="728.40" y="355.10" width="3.95" height="2.30" fill="#e00000"/><rect x="732.30" y="353.80" width="3.95" height="3.60" fill="#e00000"/><rect x="736.20" y="352.50" width="3.95" height="4.90" fill="#e00000"/><rect x="736.20" y="349.90" width="3.95" height="2.62" fill="#0000ee"/><rect x="740.10" y="338.90" width="3.95" height="18.50" fill="#e00000"/><rect x="740.10" y="332.90" width="3.95" height="6.02" fill="#0000ee"/><rect x="744.00" y="355.70" width="3.95" height="1.70" fill="#e00000"/><rect x="744.00" y="353.80" width="3.95" height="1.92" fill="#0000ee"/><rect x="747.90" y="356.80" width="3.95" height="0.60" fill="#e00000"/></g></svg><text x="413.90" y="53.15" text-anchor="end" class="tk s">0</text><text x="413.90" y="13.91" text-anchor="end" class="tk s">1</text><text transform="translate(407.54,32.90) rotate(-90)" text-anchor="middle" class="lb s">age</text><text x="413.90" y="106.08" text-anchor="end" class="tk s">0.0</text><text x="413.90" y="78.97" text-anchor="end" class="tk s">0.5</text><text transform="translate(401.20,93.78) rotate(-90)" text-anchor="middle" class="lb s">fnlwgt</text><text x="413.90" y="177.00" text-anchor="end" class="tk s">0</text><text x="413.90" y="151.25" text-anchor="end" class="tk s">1</text><text transform="translate(407.54,154.66) rotate(-90)" text-anchor="middle" class="lb s">education.num</text><text x="413.90" y="228.66" text-anchor="end" class="tk s">0.0</text><text x="413.90" y="199.01" text-anchor="end" class="tk s">0.5</text><text transform="translate(401.20,215.54) rotate(-90)" text-anchor="middle" class="lb s">capital.gain</text><text x="413.90" y="293.99" text-anchor="end" class="tk s">0.0</text><text x="413.90" y="274.65" text-anchor="end" class="tk s">0.5</text><text transform="translate(401.20,276.42) rotate(-90)" text-anchor="middle" class="lb s">capital.loss</text><text x="413.90" y="354.12" text-anchor="end" class="tk s">0.0</text><text x="413.90" y="334.87" text-anchor="end" class="tk s">0.5</text><text transform="translate(401.20,337.30) rotate(-90)" text-anchor="middle" class="lb s">hours.per.week</text><text x="419.43" y="365.70" text-anchor="middle" class="tk s">0</text><text x="460.01" y="365.70" text-anchor="middle" class="tk s">1</text><text x="438.30" y="374.30" text-anchor="middle" class="lb s">age</text><text x="488.10" y="365.70" text-anchor="middle" class="tk s">0.0</text><text x="516.13" y="365.70" text-anchor="middle" class="tk s">0.5</text><text x="498.75" y="374.30" text-anchor="middle" class="lb s">fnlwgt</text><text x="538.17" y="365.70" text-anchor="middle" class="tk s">0</text><text x="564.79" y="365.70" text-anchor="middle" class="tk s">1</text><text x="559.20" y="374.30" text-anchor="middle" class="lb s">education.num</text><text x="608.16" y="365.70" text-anchor="middle" class="tk s">0.0</text><text x="638.80" y="365.70" text-anchor="middle" class="tk s">0.5</text><text x="619.65" y="374.30" text-anchor="middle" class="lb s">capital.gain</text><text x="664.00" y="365.70" text-anchor="middle" class="tk s">0.0</text><text x="684.00" y="365.70" text-anchor="middle" class="tk s">0.5</text><text x="680.10" y="374.30" text-anchor="middle" class="lb s">capital.loss</text><text x="725.22" y="365.70" text-anchor="middle" class="tk s">0.0</text><text x="745.13" y="365.70" text-anchor="middle" class="tk s">0.5</text><text x="740.55" y="374.30" text-anchor="middle" class="lb s">hours.per.week</text><text x="155.8" y="191.2" class="big">Real data</text><text x="514.4" y="190.8" class="big">Synthetic data</text><rect x="421" y="13.3" width="4.4" height="6.2" fill="#e00000"/><path d="M418.0 27.9L422.8 24.9L427.6 27.9L422.8 30.9Z" fill="#0000ee"/><text x="429.5" y="19.7" class="lg">Lower wage</text><text x="428.6" y="30.5" class="lg">Higher wage</text><rect x="766" y="0" width="2" height="387" fill="#fff"/><defs><linearGradient id="lgL" x1="0" y1="0" x2="0" y2="1"><stop offset="0" stop-color="#e8dcb0"/><stop offset="0.3" stop-color="#e0c080"/><stop offset="1" stop-color="#dca450"/></linearGradient><linearGradient id="lgT1" x1="0" y1="0" x2="1" y2="0"><stop offset="0" stop-color="#e8e0b0" stop-opacity="0.5"/><stop offset="0.12" stop-color="#e0a040"/><stop offset="1" stop-color="#e29c34"/></linearGradient><linearGradient id="lgT2" x1="0" y1="0" x2="1" y2="0"><stop offset="0" stop-color="#e8d8a8" stop-opacity="0.4"/><stop offset="0.1" stop-color="#e0a040"/><stop offset="1" stop-color="#e09a30"/></linearGradient><linearGradient id="lgV" x1="0" y1="0" x2="1" y2="0"><stop offset="0" stop-color="#d89030"/><stop offset="0.35" stop-color="#e4a440"/><stop offset="1" stop-color="#e8ac50"/></linearGradient></defs><path d="M11 3.8L40 3.2L120 2.6L385 3.4L390 3.6V6.3L200 6.0L60 5.8L11 4.8Z" fill="url(#lgT1)"/><path d="M384.4 3.4H390.8V383.0H384.4Z" fill="url(#lgV)"/><path d="M5.6 8L7.0 8L7.4 383.0L4.7 383.0Z" fill="url(#lgL)"/><path d="M5 379.6L200 379.8L390.8 379.2V383.0L200 383.0L5 383.0Z" fill="#e2a038"/><path d="M395.5 3.0L460 2.7L765.8 3.2V5.5L480 5.6L395.5 3.9Z" fill="url(#lgT2)"/><path d="M762.1 3.2H765.8V382.2H762.1Z" fill="#e2a038"/><path d="M390.8 379.4L600 379.4L765.8 378.4V382.4L600 382.6L390.8 382.8Z" fill="#e2a038"/></svg>
</body></html>
